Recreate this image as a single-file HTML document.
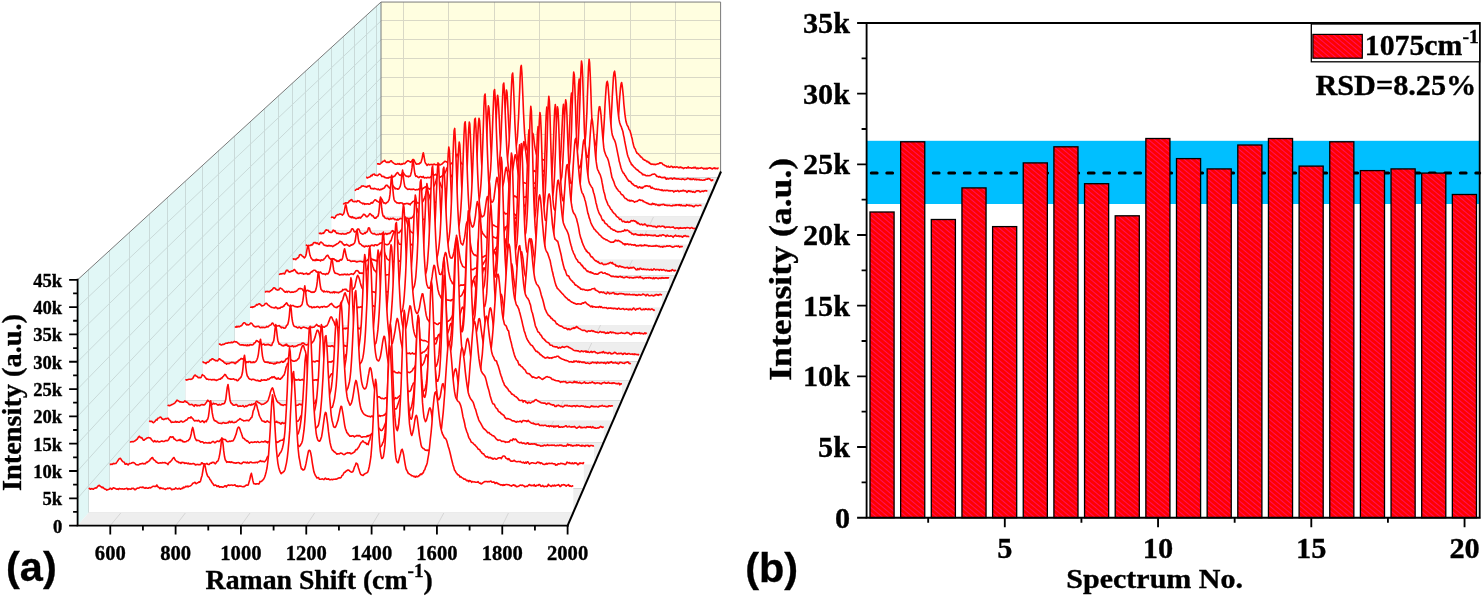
<!DOCTYPE html>
<html lang="en"><head><meta charset="utf-8"><title>Figure</title>
<style>html,body{margin:0;padding:0;background:#fff}svg{display:block}</style></head>
<body>
<svg width="1484" height="598" viewBox="0 0 1484 598">
<defs>
<pattern id="hb" width="3.9" height="3.9" patternUnits="userSpaceOnUse" patternTransform="rotate(40)"><rect width="3.9" height="3.9" fill="#ff0000"/><rect x="0" y="0" width="3.9" height="0.75" fill="#ff1478"/></pattern>
</defs>
<rect width="1484" height="598" fill="#fff"/>
<polygon points="77.6,279.8 381.0,2.05 381.0,172.4 77.6,525.6" fill="#e1f7f6"/>
<rect x="381.0" y="2.05" width="339.60" height="170.35" fill="#fffee0"/>
<polygon points="77.6,525.6 567.6,525.6 720.6,172.4 381.0,172.4" fill="#eeeeee"/>
<path d="M88.5,512.50V269.50M109.5,488.12V250.33M129.5,464.76V231.95M149.5,442.34V214.32M167.5,420.81V197.39M185.5,400.12V181.13M202.5,380.23V165.48M218.5,361.08V150.42M234.5,342.64V135.92M250.5,324.86V121.94M264.5,307.72V108.46M278.5,291.18V95.45M292.5,275.20V82.89M305.5,259.76V70.75M318.5,244.84V59.01M331.5,230.40V47.66M343.5,216.43V36.67M354.5,202.90V26.03M366.5,189.79V15.72M376.5,177.08V5.72M77.6,498.29L381.0,153.47M77.6,470.98L381.0,134.54M77.6,443.67L381.0,115.62M77.6,416.36L381.0,96.69M77.6,389.04L381.0,77.76M77.6,361.73L381.0,58.83M77.6,334.42L381.0,39.90M77.6,307.11L381.0,20.97" stroke="#c9dad9" stroke-width="1" fill="none"/>
<path d="M381.0,153.5H720.6M381.0,134.5H720.6M381.0,115.5H720.6M381.0,96.5H720.6M381.0,77.5H720.6M381.0,58.5H720.6M381.0,39.5H720.6M381.0,20.5H720.6M403.5,2.05V172.4M448.5,2.05V172.4M494.5,2.05V172.4M539.5,2.05V172.4M584.5,2.05V172.4M630.5,2.05V172.4M675.5,2.05V172.4" stroke="#d9d8c6" stroke-width="1" fill="none"/>
<path d="M110.27,525.6L403.64,172.4M175.60,525.6L448.92,172.4M240.93,525.6L494.20,172.4M306.27,525.6L539.48,172.4M371.60,525.6L584.76,172.4M436.93,525.6L630.04,172.4M502.27,525.6L675.32,172.4M88.85,512.5H573.27M109.79,488.5H583.83M129.87,464.5H593.96M149.12,442.5H603.67M167.61,420.5H612.99M185.38,400.5H621.95M202.47,380.5H630.57M218.92,361.5H638.87M234.76,342.5H646.86M250.03,324.5H654.56M264.76,307.5H661.98M278.97,291.5H669.15M292.69,275.5H676.07M305.95,259.5H682.76M318.77,244.5H689.22M331.18,230.5H695.47M343.18,216.5H701.53M354.80,202.5H707.39M366.06,189.5H713.07M376.98,177.5H718.57" stroke="#d6d6d6" stroke-width="1" fill="none"/>
<path d="M77.6,279.8L381.0,2.05H720.6V172.4M381.0,2.05V172.4" stroke="#7a7a7a" stroke-width="1" fill="none"/>
<path d="M377.0,163.8L377.5,163.8L378.1,164.1L378.6,163.8L379.2,164.0L379.7,164.2L380.3,163.9L380.8,163.5L381.4,162.8L381.9,162.5L382.5,161.9L383.0,161.3L383.6,161.2L384.1,161.0L384.7,160.3L385.2,161.1L385.8,161.7L386.3,162.3L386.9,162.5L387.4,162.5L388.0,161.9L388.6,162.4L389.1,162.4L389.7,162.0L390.2,161.3L390.8,160.7L391.3,160.8L391.9,161.5L392.4,162.5L393.0,162.5L393.5,163.1L394.1,163.4L394.6,163.8L395.2,164.1L395.7,164.1L396.3,164.3L396.8,164.2L397.4,164.0L397.9,163.5L398.5,164.0L399.0,164.1L399.6,163.6L400.1,164.3L400.7,164.5L401.2,164.5L401.8,163.9L402.3,164.2L402.9,163.9L403.4,163.3L404.0,163.8L404.5,163.6L405.1,163.5L405.6,162.5L406.2,162.2L406.7,161.6L407.3,161.1L407.8,160.8L408.4,160.8L408.9,161.2L409.5,161.6L410.0,161.7L410.6,162.2L411.1,161.9L411.7,161.4L412.2,160.4L412.8,159.6L413.3,159.5L413.9,159.9L414.4,161.0L415.0,162.1L415.5,162.8L416.1,164.0L416.7,164.3L417.2,164.1L417.8,163.9L418.3,163.9L418.9,163.9L419.4,163.7L420.0,162.8L420.5,163.0L421.1,162.1L421.6,160.3L422.2,158.1L422.7,154.9L423.3,152.8L423.8,154.9L424.4,158.7L424.9,161.5L425.5,163.2L426.0,163.7L426.6,164.8L427.1,165.4L427.7,164.8L428.2,164.1L428.8,164.5L429.3,165.0L429.9,164.5L430.4,164.5L431.0,164.7L431.5,164.4L432.1,164.6L432.6,164.6L433.2,164.8L433.7,164.4L434.3,164.0L434.8,164.5L435.4,164.8L435.9,164.8L436.5,164.8L437.0,164.6L437.6,164.5L438.1,164.3L438.7,163.9L439.2,164.1L439.8,165.0L440.3,164.9L440.9,164.6L441.4,164.2L442.0,164.2L442.5,163.3L443.1,163.1L443.6,162.3L444.2,162.1L444.7,161.3L445.3,161.4L445.9,161.6L446.4,161.9L447.0,161.9L447.5,162.7L448.1,163.4L448.6,164.0L449.2,164.0L449.7,164.3L450.3,164.2L450.8,164.2L451.4,163.1L451.9,163.1L452.5,163.1L453.0,161.8L453.6,161.6L454.1,160.4L454.7,159.7L455.2,157.9L455.8,157.0L456.3,155.3L456.9,154.3L457.4,154.4L458.0,155.8L458.5,157.4L459.1,158.9L459.6,160.0L460.2,160.8L460.7,162.5L461.3,163.0L461.8,163.6L462.4,164.2L462.9,164.3L463.5,164.5L464.0,164.2L464.6,165.2L465.1,164.8L465.7,164.3L466.2,164.4L466.8,164.6L467.3,164.3L467.9,164.7L468.4,164.6L469.0,164.6L469.5,164.9L470.1,164.9L470.6,164.7L471.2,164.5L471.7,164.4L472.3,164.1L472.8,163.8L473.4,163.9L473.9,164.4L474.5,164.5L475.1,164.9L475.6,164.2L476.2,164.7L476.7,164.6L477.3,164.5L477.8,164.8L478.4,164.9L478.9,164.3L479.5,164.3L480.0,164.4L480.6,164.6L481.1,164.5L481.7,164.5L482.2,164.4L482.8,164.8L483.3,164.6L483.9,163.8L484.4,163.7L485.0,163.2L485.5,163.2L486.1,162.9L486.6,163.3L487.2,163.7L487.7,163.4L488.3,162.7L488.8,162.7L489.4,162.5L489.9,161.6L490.5,160.9L491.0,160.0L491.6,159.7L492.1,160.7L492.7,161.8L493.2,162.6L493.8,163.5L494.3,163.3L494.9,162.8L495.4,162.3L496.0,161.9L496.5,161.4L497.1,160.5L497.6,160.4L498.2,160.2L498.7,159.5L499.3,159.0L499.8,158.9L500.4,157.6L500.9,156.7L501.5,155.0L502.0,151.9L502.6,149.1L503.2,144.6L503.7,138.1L504.3,128.7L504.8,118.2L505.4,106.1L505.9,95.3L506.5,90.1L507.0,92.4L507.6,101.6L508.1,113.3L508.7,124.4L509.2,133.4L509.8,140.7L510.3,145.6L510.9,148.8L511.4,150.3L512.0,152.1L512.5,153.0L513.1,152.9L513.6,152.4L514.2,152.6L514.7,151.5L515.3,150.7L515.8,148.6L516.4,145.4L516.9,141.7L517.5,136.1L518.0,127.2L518.6,116.9L519.1,104.0L519.7,90.0L520.2,76.5L520.8,66.9L521.3,65.4L521.9,72.9L522.4,85.2L523.0,99.6L523.5,112.7L524.1,124.4L524.6,133.4L525.2,139.6L525.7,144.3L526.3,146.9L526.8,149.2L527.4,150.5L527.9,151.0L528.5,150.5L529.0,149.0L529.6,147.9L530.1,145.7L530.7,142.7L531.2,138.4L531.8,135.0L532.4,133.1L532.9,133.4L533.5,135.9L534.0,140.4L534.6,145.3L535.1,148.4L535.7,151.1L536.2,153.8L536.8,155.4L537.3,156.6L537.9,158.3L538.4,158.4L539.0,159.4L539.5,159.0L540.1,159.2L540.6,159.0L541.2,158.8L541.7,158.6L542.3,159.8L542.8,160.0L543.4,159.7L543.9,159.7L544.5,159.9L545.0,160.0L545.6,160.3L546.1,159.7L546.7,159.8L547.2,159.7L547.8,160.2L548.3,159.0L548.9,159.6L549.4,159.9L550.0,159.6L550.5,159.2L551.1,159.3L551.6,158.9L552.2,158.6L552.7,159.1L553.3,158.4L553.8,159.0L554.4,158.3L554.9,157.3L555.5,156.6L556.0,155.3L556.6,154.9L557.1,154.6L557.7,153.8L558.2,152.5L558.8,152.1L559.3,152.3L559.9,151.7L560.4,151.9L561.0,152.5L561.6,153.3L562.1,153.7L562.7,153.4L563.2,152.2L563.8,151.5L564.3,149.8L564.9,148.0L565.4,145.8L566.0,146.0L566.5,147.5L567.1,150.0L567.6,152.6L568.2,154.0L568.7,155.7L569.3,155.7L569.8,156.6L570.4,156.8L570.9,157.0L571.5,156.8L572.0,156.4L572.6,155.1L573.1,153.7L573.7,153.8L574.2,152.1L574.8,150.5L575.3,146.6L575.9,141.4L576.4,133.5L577.0,123.0L577.5,109.8L578.1,95.5L578.6,84.0L579.2,79.1L579.7,83.1L580.3,94.2L580.8,107.3L581.4,119.9L581.9,130.4L582.5,137.5L583.0,142.1L583.6,144.1L584.1,145.2L584.7,143.5L585.2,140.0L585.8,133.5L586.3,123.9L586.9,112.1L587.4,96.7L588.0,80.7L588.5,67.1L589.1,59.2L589.6,62.6L590.2,74.3L590.8,89.9L591.3,106.0L591.9,120.2L592.4,131.3L593.0,138.9L593.5,143.9L594.1,146.2L594.6,146.0L595.2,144.8L595.7,143.8L596.3,141.0L596.8,137.8L597.4,135.0L597.9,134.3L598.5,136.1L599.0,140.0L599.6,143.3L600.1,147.1L600.7,150.6L601.2,152.9L601.8,154.2L602.3,155.9L602.9,156.3L603.4,157.6L604.0,157.6L604.5,158.1L605.1,158.7L605.6,158.3L606.2,157.7L606.7,158.2L607.3,157.7L607.8,157.7L608.4,157.4L608.9,156.6L609.5,157.2L610.0,156.6L610.6,156.6L611.1,156.4L611.7,156.0L612.2,156.0L612.8,154.8L613.3,154.0L613.9,153.5L614.4,151.4L615.0,148.2L615.5,145.6L616.1,141.9L616.6,137.4L617.2,132.2L617.7,125.5L618.3,118.5L618.9,110.7L619.4,101.8L620.0,94.3L620.5,88.1L621.1,83.8L621.6,82.5L622.2,85.6L622.7,90.2L623.3,96.2L623.8,103.5L624.4,109.4L624.9,114.3L625.5,118.5L626.0,121.6L626.6,123.5L627.1,125.1L627.7,126.0L628.2,126.8L628.8,128.8L629.3,129.7L629.9,130.4L630.4,132.2L631.0,134.3L631.5,136.5L632.1,138.4L632.6,141.2L633.2,143.7L633.7,145.7L634.3,147.7L634.8,148.4L635.4,149.3L635.9,151.0L636.5,152.2L637.0,153.3L637.6,153.4L638.1,153.8L638.7,154.6L639.2,155.0L639.8,155.5L640.3,156.4L640.9,157.1L641.4,157.0L642.0,157.8L642.5,158.3L643.1,159.2L643.6,159.2L644.2,160.1L644.7,160.1L645.3,160.3L645.8,160.8L646.4,161.0L646.9,161.7L647.5,161.3L648.1,162.0L648.6,162.6L649.2,162.3L649.7,163.4L650.3,163.4L650.8,164.2L651.4,164.1L651.9,164.4L652.5,164.1L653.0,164.2L653.6,164.5L654.1,164.3L654.7,164.2L655.2,164.7L655.8,164.4L656.3,164.2L656.9,164.1L657.4,163.9L658.0,164.0L658.5,163.8L659.1,163.6L659.6,162.8L660.2,163.2L660.7,162.8L661.3,163.0L661.8,163.0L662.4,163.7L662.9,164.6L663.5,164.8L664.0,164.7L664.6,165.4L665.1,165.8L665.7,165.7L666.2,166.0L666.8,166.9L667.3,166.6L667.9,166.9L668.4,166.2L669.0,167.0L669.5,167.3L670.1,167.0L670.6,166.7L671.2,166.2L671.7,166.3L672.3,166.8L672.8,167.5L673.4,167.4L673.9,167.0L674.5,166.8L675.0,167.2L675.6,167.5L676.1,167.0L676.7,166.9L677.3,167.0L677.8,167.0L678.4,167.7L678.9,167.7L679.5,167.6L680.0,167.0L680.6,167.0L681.1,167.7L681.7,167.5L682.2,167.7L682.8,167.8L683.3,168.6L683.9,168.3L684.4,168.1L685.0,167.7L685.5,167.8L686.1,167.7L686.6,168.1L687.2,167.9L687.7,167.4L688.3,166.9L688.8,168.0L689.4,167.7L689.9,167.8L690.5,167.7L691.0,167.9L691.6,168.3L692.1,168.1L692.7,167.8L693.2,167.9L693.8,167.4L694.3,168.0L694.9,167.4L695.4,167.3L696.0,168.1L696.5,168.6L697.1,168.3L697.6,168.0L698.2,168.6L698.7,168.2L699.3,168.3L699.8,168.2L700.4,168.2L700.9,167.8L701.5,167.6L702.0,168.0L702.6,168.3L703.1,168.3L703.7,168.8L704.2,168.4L704.8,168.6L705.4,168.9L705.9,168.2L706.5,168.3L707.0,169.1L707.6,168.3L708.1,168.2L708.7,168.2L709.2,167.8L709.8,167.8L710.3,168.1L710.9,168.1L711.4,168.6L712.0,168.7L712.5,168.9L713.1,168.2L713.6,168.2L714.2,167.8L714.7,168.5L715.3,168.6L715.8,168.1L716.4,168.4L716.9,168.6L717.5,168.6L718.0,168.1L718.6,168.5L718.6,177.1L377.0,177.1Z" fill="#fff"/>
<path d="M377.0,163.8L377.5,163.8L378.1,164.1L378.6,163.8L379.2,164.0L379.7,164.2L380.3,163.9L380.8,163.5L381.4,162.8L381.9,162.5L382.5,161.9L383.0,161.3L383.6,161.2L384.1,161.0L384.7,160.3L385.2,161.1L385.8,161.7L386.3,162.3L386.9,162.5L387.4,162.5L388.0,161.9L388.6,162.4L389.1,162.4L389.7,162.0L390.2,161.3L390.8,160.7L391.3,160.8L391.9,161.5L392.4,162.5L393.0,162.5L393.5,163.1L394.1,163.4L394.6,163.8L395.2,164.1L395.7,164.1L396.3,164.3L396.8,164.2L397.4,164.0L397.9,163.5L398.5,164.0L399.0,164.1L399.6,163.6L400.1,164.3L400.7,164.5L401.2,164.5L401.8,163.9L402.3,164.2L402.9,163.9L403.4,163.3L404.0,163.8L404.5,163.6L405.1,163.5L405.6,162.5L406.2,162.2L406.7,161.6L407.3,161.1L407.8,160.8L408.4,160.8L408.9,161.2L409.5,161.6L410.0,161.7L410.6,162.2L411.1,161.9L411.7,161.4L412.2,160.4L412.8,159.6L413.3,159.5L413.9,159.9L414.4,161.0L415.0,162.1L415.5,162.8L416.1,164.0L416.7,164.3L417.2,164.1L417.8,163.9L418.3,163.9L418.9,163.9L419.4,163.7L420.0,162.8L420.5,163.0L421.1,162.1L421.6,160.3L422.2,158.1L422.7,154.9L423.3,152.8L423.8,154.9L424.4,158.7L424.9,161.5L425.5,163.2L426.0,163.7L426.6,164.8L427.1,165.4L427.7,164.8L428.2,164.1L428.8,164.5L429.3,165.0L429.9,164.5L430.4,164.5L431.0,164.7L431.5,164.4L432.1,164.6L432.6,164.6L433.2,164.8L433.7,164.4L434.3,164.0L434.8,164.5L435.4,164.8L435.9,164.8L436.5,164.8L437.0,164.6L437.6,164.5L438.1,164.3L438.7,163.9L439.2,164.1L439.8,165.0L440.3,164.9L440.9,164.6L441.4,164.2L442.0,164.2L442.5,163.3L443.1,163.1L443.6,162.3L444.2,162.1L444.7,161.3L445.3,161.4L445.9,161.6L446.4,161.9L447.0,161.9L447.5,162.7L448.1,163.4L448.6,164.0L449.2,164.0L449.7,164.3L450.3,164.2L450.8,164.2L451.4,163.1L451.9,163.1L452.5,163.1L453.0,161.8L453.6,161.6L454.1,160.4L454.7,159.7L455.2,157.9L455.8,157.0L456.3,155.3L456.9,154.3L457.4,154.4L458.0,155.8L458.5,157.4L459.1,158.9L459.6,160.0L460.2,160.8L460.7,162.5L461.3,163.0L461.8,163.6L462.4,164.2L462.9,164.3L463.5,164.5L464.0,164.2L464.6,165.2L465.1,164.8L465.7,164.3L466.2,164.4L466.8,164.6L467.3,164.3L467.9,164.7L468.4,164.6L469.0,164.6L469.5,164.9L470.1,164.9L470.6,164.7L471.2,164.5L471.7,164.4L472.3,164.1L472.8,163.8L473.4,163.9L473.9,164.4L474.5,164.5L475.1,164.9L475.6,164.2L476.2,164.7L476.7,164.6L477.3,164.5L477.8,164.8L478.4,164.9L478.9,164.3L479.5,164.3L480.0,164.4L480.6,164.6L481.1,164.5L481.7,164.5L482.2,164.4L482.8,164.8L483.3,164.6L483.9,163.8L484.4,163.7L485.0,163.2L485.5,163.2L486.1,162.9L486.6,163.3L487.2,163.7L487.7,163.4L488.3,162.7L488.8,162.7L489.4,162.5L489.9,161.6L490.5,160.9L491.0,160.0L491.6,159.7L492.1,160.7L492.7,161.8L493.2,162.6L493.8,163.5L494.3,163.3L494.9,162.8L495.4,162.3L496.0,161.9L496.5,161.4L497.1,160.5L497.6,160.4L498.2,160.2L498.7,159.5L499.3,159.0L499.8,158.9L500.4,157.6L500.9,156.7L501.5,155.0L502.0,151.9L502.6,149.1L503.2,144.6L503.7,138.1L504.3,128.7L504.8,118.2L505.4,106.1L505.9,95.3L506.5,90.1L507.0,92.4L507.6,101.6L508.1,113.3L508.7,124.4L509.2,133.4L509.8,140.7L510.3,145.6L510.9,148.8L511.4,150.3L512.0,152.1L512.5,153.0L513.1,152.9L513.6,152.4L514.2,152.6L514.7,151.5L515.3,150.7L515.8,148.6L516.4,145.4L516.9,141.7L517.5,136.1L518.0,127.2L518.6,116.9L519.1,104.0L519.7,90.0L520.2,76.5L520.8,66.9L521.3,65.4L521.9,72.9L522.4,85.2L523.0,99.6L523.5,112.7L524.1,124.4L524.6,133.4L525.2,139.6L525.7,144.3L526.3,146.9L526.8,149.2L527.4,150.5L527.9,151.0L528.5,150.5L529.0,149.0L529.6,147.9L530.1,145.7L530.7,142.7L531.2,138.4L531.8,135.0L532.4,133.1L532.9,133.4L533.5,135.9L534.0,140.4L534.6,145.3L535.1,148.4L535.7,151.1L536.2,153.8L536.8,155.4L537.3,156.6L537.9,158.3L538.4,158.4L539.0,159.4L539.5,159.0L540.1,159.2L540.6,159.0L541.2,158.8L541.7,158.6L542.3,159.8L542.8,160.0L543.4,159.7L543.9,159.7L544.5,159.9L545.0,160.0L545.6,160.3L546.1,159.7L546.7,159.8L547.2,159.7L547.8,160.2L548.3,159.0L548.9,159.6L549.4,159.9L550.0,159.6L550.5,159.2L551.1,159.3L551.6,158.9L552.2,158.6L552.7,159.1L553.3,158.4L553.8,159.0L554.4,158.3L554.9,157.3L555.5,156.6L556.0,155.3L556.6,154.9L557.1,154.6L557.7,153.8L558.2,152.5L558.8,152.1L559.3,152.3L559.9,151.7L560.4,151.9L561.0,152.5L561.6,153.3L562.1,153.7L562.7,153.4L563.2,152.2L563.8,151.5L564.3,149.8L564.9,148.0L565.4,145.8L566.0,146.0L566.5,147.5L567.1,150.0L567.6,152.6L568.2,154.0L568.7,155.7L569.3,155.7L569.8,156.6L570.4,156.8L570.9,157.0L571.5,156.8L572.0,156.4L572.6,155.1L573.1,153.7L573.7,153.8L574.2,152.1L574.8,150.5L575.3,146.6L575.9,141.4L576.4,133.5L577.0,123.0L577.5,109.8L578.1,95.5L578.6,84.0L579.2,79.1L579.7,83.1L580.3,94.2L580.8,107.3L581.4,119.9L581.9,130.4L582.5,137.5L583.0,142.1L583.6,144.1L584.1,145.2L584.7,143.5L585.2,140.0L585.8,133.5L586.3,123.9L586.9,112.1L587.4,96.7L588.0,80.7L588.5,67.1L589.1,59.2L589.6,62.6L590.2,74.3L590.8,89.9L591.3,106.0L591.9,120.2L592.4,131.3L593.0,138.9L593.5,143.9L594.1,146.2L594.6,146.0L595.2,144.8L595.7,143.8L596.3,141.0L596.8,137.8L597.4,135.0L597.9,134.3L598.5,136.1L599.0,140.0L599.6,143.3L600.1,147.1L600.7,150.6L601.2,152.9L601.8,154.2L602.3,155.9L602.9,156.3L603.4,157.6L604.0,157.6L604.5,158.1L605.1,158.7L605.6,158.3L606.2,157.7L606.7,158.2L607.3,157.7L607.8,157.7L608.4,157.4L608.9,156.6L609.5,157.2L610.0,156.6L610.6,156.6L611.1,156.4L611.7,156.0L612.2,156.0L612.8,154.8L613.3,154.0L613.9,153.5L614.4,151.4L615.0,148.2L615.5,145.6L616.1,141.9L616.6,137.4L617.2,132.2L617.7,125.5L618.3,118.5L618.9,110.7L619.4,101.8L620.0,94.3L620.5,88.1L621.1,83.8L621.6,82.5L622.2,85.6L622.7,90.2L623.3,96.2L623.8,103.5L624.4,109.4L624.9,114.3L625.5,118.5L626.0,121.6L626.6,123.5L627.1,125.1L627.7,126.0L628.2,126.8L628.8,128.8L629.3,129.7L629.9,130.4L630.4,132.2L631.0,134.3L631.5,136.5L632.1,138.4L632.6,141.2L633.2,143.7L633.7,145.7L634.3,147.7L634.8,148.4L635.4,149.3L635.9,151.0L636.5,152.2L637.0,153.3L637.6,153.4L638.1,153.8L638.7,154.6L639.2,155.0L639.8,155.5L640.3,156.4L640.9,157.1L641.4,157.0L642.0,157.8L642.5,158.3L643.1,159.2L643.6,159.2L644.2,160.1L644.7,160.1L645.3,160.3L645.8,160.8L646.4,161.0L646.9,161.7L647.5,161.3L648.1,162.0L648.6,162.6L649.2,162.3L649.7,163.4L650.3,163.4L650.8,164.2L651.4,164.1L651.9,164.4L652.5,164.1L653.0,164.2L653.6,164.5L654.1,164.3L654.7,164.2L655.2,164.7L655.8,164.4L656.3,164.2L656.9,164.1L657.4,163.9L658.0,164.0L658.5,163.8L659.1,163.6L659.6,162.8L660.2,163.2L660.7,162.8L661.3,163.0L661.8,163.0L662.4,163.7L662.9,164.6L663.5,164.8L664.0,164.7L664.6,165.4L665.1,165.8L665.7,165.7L666.2,166.0L666.8,166.9L667.3,166.6L667.9,166.9L668.4,166.2L669.0,167.0L669.5,167.3L670.1,167.0L670.6,166.7L671.2,166.2L671.7,166.3L672.3,166.8L672.8,167.5L673.4,167.4L673.9,167.0L674.5,166.8L675.0,167.2L675.6,167.5L676.1,167.0L676.7,166.9L677.3,167.0L677.8,167.0L678.4,167.7L678.9,167.7L679.5,167.6L680.0,167.0L680.6,167.0L681.1,167.7L681.7,167.5L682.2,167.7L682.8,167.8L683.3,168.6L683.9,168.3L684.4,168.1L685.0,167.7L685.5,167.8L686.1,167.7L686.6,168.1L687.2,167.9L687.7,167.4L688.3,166.9L688.8,168.0L689.4,167.7L689.9,167.8L690.5,167.7L691.0,167.9L691.6,168.3L692.1,168.1L692.7,167.8L693.2,167.9L693.8,167.4L694.3,168.0L694.9,167.4L695.4,167.3L696.0,168.1L696.5,168.6L697.1,168.3L697.6,168.0L698.2,168.6L698.7,168.2L699.3,168.3L699.8,168.2L700.4,168.2L700.9,167.8L701.5,167.6L702.0,168.0L702.6,168.3L703.1,168.3L703.7,168.8L704.2,168.4L704.8,168.6L705.4,168.9L705.9,168.2L706.5,168.3L707.0,169.1L707.6,168.3L708.1,168.2L708.7,168.2L709.2,167.8L709.8,167.8L710.3,168.1L710.9,168.1L711.4,168.6L712.0,168.7L712.5,168.9L713.1,168.2L713.6,168.2L714.2,167.8L714.7,168.5L715.3,168.6L715.8,168.1L716.4,168.4L716.9,168.6L717.5,168.6L718.0,168.1L718.6,168.5" fill="none" stroke="#ff0808" stroke-width="1.6" stroke-linejoin="round"/>
<path d="M366.1,177.3L366.6,177.2L367.2,178.0L367.7,177.7L368.3,177.5L368.9,177.3L369.4,177.0L370.0,176.8L370.5,176.5L371.1,175.5L371.7,175.2L372.2,175.7L372.8,174.5L373.3,174.3L373.9,174.2L374.5,174.1L375.0,175.2L375.6,175.3L376.1,175.3L376.7,175.5L377.3,175.6L377.8,175.4L378.4,174.9L378.9,174.2L379.5,174.1L380.1,174.3L380.6,174.7L381.2,175.3L381.7,176.5L382.3,176.3L382.9,176.5L383.4,176.4L384.0,176.6L384.5,177.5L385.1,177.3L385.7,177.7L386.2,177.9L386.8,178.0L387.3,177.8L387.9,178.1L388.5,178.0L389.0,177.3L389.6,177.4L390.1,177.2L390.7,177.3L391.3,176.7L391.8,177.5L392.4,177.5L392.9,176.6L393.5,176.8L394.0,176.4L394.6,176.0L395.2,175.8L395.7,174.3L396.3,174.1L396.8,173.0L397.4,172.5L398.0,172.9L398.5,173.7L399.1,174.4L399.6,175.2L400.2,175.1L400.8,175.5L401.3,174.8L401.9,174.1L402.4,173.5L403.0,172.6L403.6,173.1L404.1,174.1L404.7,174.7L405.2,175.3L405.8,175.9L406.4,176.0L406.9,176.5L407.5,176.5L408.0,176.0L408.6,176.8L409.2,176.3L409.7,176.2L410.3,176.0L410.8,174.3L411.4,171.9L412.0,167.9L412.5,162.0L413.1,160.1L413.6,163.6L414.2,169.0L414.8,173.3L415.3,175.2L415.9,176.4L416.4,176.0L417.0,176.3L417.6,177.0L418.1,177.1L418.7,177.6L419.2,177.4L419.8,176.7L420.4,176.5L420.9,176.7L421.5,176.7L422.0,177.5L422.6,177.2L423.2,176.4L423.7,177.3L424.3,178.0L424.8,177.7L425.4,177.8L426.0,177.6L426.5,178.0L427.1,177.7L427.6,177.3L428.2,177.3L428.7,177.8L429.3,177.8L429.9,177.4L430.4,177.4L431.0,176.6L431.5,176.8L432.1,176.9L432.7,176.3L433.2,176.1L433.8,174.9L434.3,175.1L434.9,174.8L435.5,174.4L436.0,174.3L436.6,175.5L437.1,175.9L437.7,176.0L438.3,176.7L438.8,176.7L439.4,176.5L439.9,177.2L440.5,177.1L441.1,176.7L441.6,176.2L442.2,175.8L442.7,175.9L443.3,175.5L443.9,175.1L444.4,174.0L445.0,172.6L445.5,171.6L446.1,170.7L446.7,168.3L447.2,167.8L447.8,167.4L448.3,168.1L448.9,170.0L449.5,171.9L450.0,173.7L450.6,174.7L451.1,175.2L451.7,176.6L452.3,176.9L452.8,177.7L453.4,177.4L453.9,177.4L454.5,177.7L455.1,177.7L455.6,177.0L456.2,177.0L456.7,177.8L457.3,177.3L457.9,177.0L458.4,177.3L459.0,177.0L459.5,177.1L460.1,177.5L460.7,177.5L461.2,177.3L461.8,177.7L462.3,177.9L462.9,177.6L463.4,177.5L464.0,177.2L464.6,177.2L465.1,178.2L465.7,177.5L466.2,177.5L466.8,177.1L467.4,177.9L467.9,177.5L468.5,177.1L469.0,177.1L469.6,177.1L470.2,177.3L470.7,177.0L471.3,176.8L471.8,176.9L472.4,177.4L473.0,177.6L473.5,176.8L474.1,176.5L474.6,176.2L475.2,176.1L475.8,177.3L476.3,176.9L476.9,176.7L477.4,176.6L478.0,177.0L478.6,176.2L479.1,175.9L479.7,175.8L480.2,175.8L480.8,175.2L481.4,173.2L481.9,172.1L482.5,171.4L483.0,172.4L483.6,173.3L484.2,173.7L484.7,174.4L485.3,174.7L485.8,175.0L486.4,174.4L487.0,173.8L487.5,173.5L488.1,173.1L488.6,172.8L489.2,172.4L489.8,171.6L490.3,171.2L490.9,171.0L491.4,169.7L492.0,168.9L492.6,167.9L493.1,165.0L493.7,161.2L494.2,156.1L494.8,148.5L495.4,138.9L495.9,126.8L496.5,113.5L497.0,101.4L497.6,95.2L498.1,98.3L498.7,107.7L499.3,119.6L499.8,132.1L500.4,142.2L500.9,149.9L501.5,156.3L502.1,160.9L502.6,162.9L503.2,163.6L503.7,164.4L504.3,164.4L504.9,164.7L505.4,164.1L506.0,163.5L506.5,162.2L507.1,160.6L507.7,156.5L508.2,151.9L508.8,146.1L509.3,137.9L509.9,126.8L510.5,113.8L511.0,98.3L511.6,84.0L512.1,74.7L512.7,73.0L513.3,81.6L513.8,94.3L514.4,109.2L514.9,123.4L515.5,134.7L516.1,144.2L516.6,150.6L517.2,156.0L517.7,159.4L518.3,161.6L518.9,161.9L519.4,162.7L520.0,161.8L520.5,161.4L521.1,159.0L521.7,155.5L522.2,152.2L522.8,148.2L523.3,143.6L523.9,141.5L524.5,142.9L525.0,146.8L525.6,150.5L526.1,154.7L526.7,159.7L527.3,163.0L527.8,165.2L528.4,167.4L528.9,168.4L529.5,168.7L530.1,169.4L530.6,169.5L531.2,170.1L531.7,170.1L532.3,170.8L532.9,171.0L533.4,171.3L534.0,171.4L534.5,170.7L535.1,171.5L535.6,171.3L536.2,172.0L536.8,172.1L537.3,171.5L537.9,171.0L538.4,171.3L539.0,171.9L539.6,171.9L540.1,171.8L540.7,171.6L541.2,171.8L541.8,172.1L542.4,171.4L542.9,171.0L543.5,170.6L544.0,171.1L544.6,170.8L545.2,170.3L545.7,169.4L546.3,169.5L546.8,168.2L547.4,167.8L548.0,166.7L548.5,166.3L549.1,165.4L549.6,164.4L550.2,163.9L550.8,163.5L551.3,162.3L551.9,162.2L552.4,163.3L553.0,163.6L553.6,164.1L554.1,164.5L554.7,164.0L555.2,163.6L555.8,162.1L556.4,160.7L556.9,158.8L557.5,157.3L558.0,156.7L558.6,158.2L559.2,160.8L559.7,163.5L560.3,165.3L560.8,166.2L561.4,167.0L562.0,167.9L562.5,168.3L563.1,168.0L563.6,167.9L564.2,167.6L564.8,166.5L565.3,166.0L565.9,165.6L566.4,164.0L567.0,162.2L567.6,158.8L568.1,154.2L568.7,146.0L569.2,136.0L569.8,122.9L570.3,109.8L570.9,98.4L571.5,93.1L572.0,96.5L572.6,107.0L573.1,119.9L573.7,131.8L574.3,142.5L574.8,149.1L575.4,153.1L575.9,155.5L576.5,155.2L577.1,152.9L577.6,149.5L578.2,142.8L578.7,132.1L579.3,118.2L579.9,101.5L580.4,84.2L581.0,68.5L581.5,61.0L582.1,64.8L582.7,77.5L583.2,94.4L583.8,112.3L584.3,128.1L584.9,139.8L585.5,148.3L586.0,153.0L586.6,156.1L587.1,157.4L587.7,156.9L588.3,154.4L588.8,151.2L589.4,147.9L589.9,145.7L590.5,144.4L591.1,146.8L591.6,150.6L592.2,154.2L592.7,158.2L593.3,161.8L593.9,163.6L594.4,165.3L595.0,166.9L595.5,167.6L596.1,168.2L596.7,168.0L597.2,167.4L597.8,168.0L598.3,168.4L598.9,168.8L599.5,169.0L600.0,168.7L600.6,168.6L601.1,168.2L601.7,168.5L602.3,167.8L602.8,167.5L603.4,167.1L603.9,166.9L604.5,166.1L605.0,166.6L605.6,164.6L606.2,163.3L606.7,161.5L607.3,158.9L607.8,156.3L608.4,152.7L609.0,148.0L609.5,142.1L610.1,135.1L610.6,126.9L611.2,117.3L611.8,107.3L612.3,96.6L612.9,86.3L613.4,77.5L614.0,72.6L614.6,71.2L615.1,74.4L615.7,80.7L616.2,89.4L616.8,97.5L617.4,104.9L617.9,110.5L618.5,115.9L619.0,119.4L619.6,122.4L620.2,124.2L620.7,125.7L621.3,126.6L621.8,128.6L622.4,130.0L623.0,132.0L623.5,135.1L624.1,137.4L624.6,140.5L625.2,143.6L625.8,146.7L626.3,149.2L626.9,152.2L627.4,154.5L628.0,156.5L628.6,157.8L629.1,159.0L629.7,161.0L630.2,161.9L630.8,162.8L631.4,164.6L631.9,164.3L632.5,165.4L633.0,165.9L633.6,166.5L634.2,167.2L634.7,167.7L635.3,168.2L635.8,168.7L636.4,169.5L637.0,169.5L637.5,170.2L638.1,170.2L638.6,171.2L639.2,171.6L639.7,172.1L640.3,172.3L640.9,172.7L641.4,173.1L642.0,173.5L642.5,174.8L643.1,174.7L643.7,174.4L644.2,174.9L644.8,175.0L645.3,175.1L645.9,175.6L646.5,175.7L647.0,175.8L647.6,175.5L648.1,175.8L648.7,175.7L649.3,175.7L649.8,175.5L650.4,175.5L650.9,175.2L651.5,174.8L652.1,174.5L652.6,174.3L653.2,174.2L653.7,174.1L654.3,173.9L654.9,174.2L655.4,174.4L656.0,175.2L656.5,176.2L657.1,176.5L657.7,176.4L658.2,176.7L658.8,177.2L659.3,176.5L659.9,176.5L660.5,177.3L661.0,177.3L661.6,177.7L662.1,177.5L662.7,177.6L663.3,177.3L663.8,177.7L664.4,177.6L664.9,177.2L665.5,177.8L666.1,179.1L666.6,179.2L667.2,178.4L667.7,178.7L668.3,178.9L668.9,178.9L669.4,178.6L670.0,178.4L670.5,178.3L671.1,178.4L671.7,178.3L672.2,179.1L672.8,179.1L673.3,178.4L673.9,178.1L674.5,178.0L675.0,178.9L675.6,178.6L676.1,179.0L676.7,178.8L677.2,179.0L677.8,178.9L678.4,178.9L678.9,178.8L679.5,179.2L680.0,179.2L680.6,179.2L681.2,179.2L681.7,179.4L682.3,179.0L682.8,178.7L683.4,179.2L684.0,179.2L684.5,179.6L685.1,179.5L685.6,179.4L686.2,179.2L686.8,179.0L687.3,178.4L687.9,178.3L688.4,178.5L689.0,178.7L689.6,179.0L690.1,179.5L690.7,178.8L691.2,179.5L691.8,179.4L692.4,179.5L692.9,178.9L693.5,178.8L694.0,179.1L694.6,179.6L695.2,179.5L695.7,179.1L696.3,179.8L696.8,179.3L697.4,179.5L698.0,179.8L698.5,179.6L699.1,179.4L699.6,179.9L700.2,180.1L700.8,179.9L701.3,179.9L701.9,180.1L702.4,180.2L703.0,180.2L703.6,180.0L704.1,179.8L704.7,180.1L705.2,179.6L705.8,179.2L706.4,179.2L706.9,179.1L707.5,179.1L708.0,178.6L708.6,178.6L709.2,178.9L709.7,178.7L710.3,179.5L710.8,180.0L711.4,180.7L711.9,180.0L712.5,180.3L713.1,179.3L713.1,189.8L366.1,189.8Z" fill="#fff"/>
<path d="M366.1,177.3L366.6,177.2L367.2,178.0L367.7,177.7L368.3,177.5L368.9,177.3L369.4,177.0L370.0,176.8L370.5,176.5L371.1,175.5L371.7,175.2L372.2,175.7L372.8,174.5L373.3,174.3L373.9,174.2L374.5,174.1L375.0,175.2L375.6,175.3L376.1,175.3L376.7,175.5L377.3,175.6L377.8,175.4L378.4,174.9L378.9,174.2L379.5,174.1L380.1,174.3L380.6,174.7L381.2,175.3L381.7,176.5L382.3,176.3L382.9,176.5L383.4,176.4L384.0,176.6L384.5,177.5L385.1,177.3L385.7,177.7L386.2,177.9L386.8,178.0L387.3,177.8L387.9,178.1L388.5,178.0L389.0,177.3L389.6,177.4L390.1,177.2L390.7,177.3L391.3,176.7L391.8,177.5L392.4,177.5L392.9,176.6L393.5,176.8L394.0,176.4L394.6,176.0L395.2,175.8L395.7,174.3L396.3,174.1L396.8,173.0L397.4,172.5L398.0,172.9L398.5,173.7L399.1,174.4L399.6,175.2L400.2,175.1L400.8,175.5L401.3,174.8L401.9,174.1L402.4,173.5L403.0,172.6L403.6,173.1L404.1,174.1L404.7,174.7L405.2,175.3L405.8,175.9L406.4,176.0L406.9,176.5L407.5,176.5L408.0,176.0L408.6,176.8L409.2,176.3L409.7,176.2L410.3,176.0L410.8,174.3L411.4,171.9L412.0,167.9L412.5,162.0L413.1,160.1L413.6,163.6L414.2,169.0L414.8,173.3L415.3,175.2L415.9,176.4L416.4,176.0L417.0,176.3L417.6,177.0L418.1,177.1L418.7,177.6L419.2,177.4L419.8,176.7L420.4,176.5L420.9,176.7L421.5,176.7L422.0,177.5L422.6,177.2L423.2,176.4L423.7,177.3L424.3,178.0L424.8,177.7L425.4,177.8L426.0,177.6L426.5,178.0L427.1,177.7L427.6,177.3L428.2,177.3L428.7,177.8L429.3,177.8L429.9,177.4L430.4,177.4L431.0,176.6L431.5,176.8L432.1,176.9L432.7,176.3L433.2,176.1L433.8,174.9L434.3,175.1L434.9,174.8L435.5,174.4L436.0,174.3L436.6,175.5L437.1,175.9L437.7,176.0L438.3,176.7L438.8,176.7L439.4,176.5L439.9,177.2L440.5,177.1L441.1,176.7L441.6,176.2L442.2,175.8L442.7,175.9L443.3,175.5L443.9,175.1L444.4,174.0L445.0,172.6L445.5,171.6L446.1,170.7L446.7,168.3L447.2,167.8L447.8,167.4L448.3,168.1L448.9,170.0L449.5,171.9L450.0,173.7L450.6,174.7L451.1,175.2L451.7,176.6L452.3,176.9L452.8,177.7L453.4,177.4L453.9,177.4L454.5,177.7L455.1,177.7L455.6,177.0L456.2,177.0L456.7,177.8L457.3,177.3L457.9,177.0L458.4,177.3L459.0,177.0L459.5,177.1L460.1,177.5L460.7,177.5L461.2,177.3L461.8,177.7L462.3,177.9L462.9,177.6L463.4,177.5L464.0,177.2L464.6,177.2L465.1,178.2L465.7,177.5L466.2,177.5L466.8,177.1L467.4,177.9L467.9,177.5L468.5,177.1L469.0,177.1L469.6,177.1L470.2,177.3L470.7,177.0L471.3,176.8L471.8,176.9L472.4,177.4L473.0,177.6L473.5,176.8L474.1,176.5L474.6,176.2L475.2,176.1L475.8,177.3L476.3,176.9L476.9,176.7L477.4,176.6L478.0,177.0L478.6,176.2L479.1,175.9L479.7,175.8L480.2,175.8L480.8,175.2L481.4,173.2L481.9,172.1L482.5,171.4L483.0,172.4L483.6,173.3L484.2,173.7L484.7,174.4L485.3,174.7L485.8,175.0L486.4,174.4L487.0,173.8L487.5,173.5L488.1,173.1L488.6,172.8L489.2,172.4L489.8,171.6L490.3,171.2L490.9,171.0L491.4,169.7L492.0,168.9L492.6,167.9L493.1,165.0L493.7,161.2L494.2,156.1L494.8,148.5L495.4,138.9L495.9,126.8L496.5,113.5L497.0,101.4L497.6,95.2L498.1,98.3L498.7,107.7L499.3,119.6L499.8,132.1L500.4,142.2L500.9,149.9L501.5,156.3L502.1,160.9L502.6,162.9L503.2,163.6L503.7,164.4L504.3,164.4L504.9,164.7L505.4,164.1L506.0,163.5L506.5,162.2L507.1,160.6L507.7,156.5L508.2,151.9L508.8,146.1L509.3,137.9L509.9,126.8L510.5,113.8L511.0,98.3L511.6,84.0L512.1,74.7L512.7,73.0L513.3,81.6L513.8,94.3L514.4,109.2L514.9,123.4L515.5,134.7L516.1,144.2L516.6,150.6L517.2,156.0L517.7,159.4L518.3,161.6L518.9,161.9L519.4,162.7L520.0,161.8L520.5,161.4L521.1,159.0L521.7,155.5L522.2,152.2L522.8,148.2L523.3,143.6L523.9,141.5L524.5,142.9L525.0,146.8L525.6,150.5L526.1,154.7L526.7,159.7L527.3,163.0L527.8,165.2L528.4,167.4L528.9,168.4L529.5,168.7L530.1,169.4L530.6,169.5L531.2,170.1L531.7,170.1L532.3,170.8L532.9,171.0L533.4,171.3L534.0,171.4L534.5,170.7L535.1,171.5L535.6,171.3L536.2,172.0L536.8,172.1L537.3,171.5L537.9,171.0L538.4,171.3L539.0,171.9L539.6,171.9L540.1,171.8L540.7,171.6L541.2,171.8L541.8,172.1L542.4,171.4L542.9,171.0L543.5,170.6L544.0,171.1L544.6,170.8L545.2,170.3L545.7,169.4L546.3,169.5L546.8,168.2L547.4,167.8L548.0,166.7L548.5,166.3L549.1,165.4L549.6,164.4L550.2,163.9L550.8,163.5L551.3,162.3L551.9,162.2L552.4,163.3L553.0,163.6L553.6,164.1L554.1,164.5L554.7,164.0L555.2,163.6L555.8,162.1L556.4,160.7L556.9,158.8L557.5,157.3L558.0,156.7L558.6,158.2L559.2,160.8L559.7,163.5L560.3,165.3L560.8,166.2L561.4,167.0L562.0,167.9L562.5,168.3L563.1,168.0L563.6,167.9L564.2,167.6L564.8,166.5L565.3,166.0L565.9,165.6L566.4,164.0L567.0,162.2L567.6,158.8L568.1,154.2L568.7,146.0L569.2,136.0L569.8,122.9L570.3,109.8L570.9,98.4L571.5,93.1L572.0,96.5L572.6,107.0L573.1,119.9L573.7,131.8L574.3,142.5L574.8,149.1L575.4,153.1L575.9,155.5L576.5,155.2L577.1,152.9L577.6,149.5L578.2,142.8L578.7,132.1L579.3,118.2L579.9,101.5L580.4,84.2L581.0,68.5L581.5,61.0L582.1,64.8L582.7,77.5L583.2,94.4L583.8,112.3L584.3,128.1L584.9,139.8L585.5,148.3L586.0,153.0L586.6,156.1L587.1,157.4L587.7,156.9L588.3,154.4L588.8,151.2L589.4,147.9L589.9,145.7L590.5,144.4L591.1,146.8L591.6,150.6L592.2,154.2L592.7,158.2L593.3,161.8L593.9,163.6L594.4,165.3L595.0,166.9L595.5,167.6L596.1,168.2L596.7,168.0L597.2,167.4L597.8,168.0L598.3,168.4L598.9,168.8L599.5,169.0L600.0,168.7L600.6,168.6L601.1,168.2L601.7,168.5L602.3,167.8L602.8,167.5L603.4,167.1L603.9,166.9L604.5,166.1L605.0,166.6L605.6,164.6L606.2,163.3L606.7,161.5L607.3,158.9L607.8,156.3L608.4,152.7L609.0,148.0L609.5,142.1L610.1,135.1L610.6,126.9L611.2,117.3L611.8,107.3L612.3,96.6L612.9,86.3L613.4,77.5L614.0,72.6L614.6,71.2L615.1,74.4L615.7,80.7L616.2,89.4L616.8,97.5L617.4,104.9L617.9,110.5L618.5,115.9L619.0,119.4L619.6,122.4L620.2,124.2L620.7,125.7L621.3,126.6L621.8,128.6L622.4,130.0L623.0,132.0L623.5,135.1L624.1,137.4L624.6,140.5L625.2,143.6L625.8,146.7L626.3,149.2L626.9,152.2L627.4,154.5L628.0,156.5L628.6,157.8L629.1,159.0L629.7,161.0L630.2,161.9L630.8,162.8L631.4,164.6L631.9,164.3L632.5,165.4L633.0,165.9L633.6,166.5L634.2,167.2L634.7,167.7L635.3,168.2L635.8,168.7L636.4,169.5L637.0,169.5L637.5,170.2L638.1,170.2L638.6,171.2L639.2,171.6L639.7,172.1L640.3,172.3L640.9,172.7L641.4,173.1L642.0,173.5L642.5,174.8L643.1,174.7L643.7,174.4L644.2,174.9L644.8,175.0L645.3,175.1L645.9,175.6L646.5,175.7L647.0,175.8L647.6,175.5L648.1,175.8L648.7,175.7L649.3,175.7L649.8,175.5L650.4,175.5L650.9,175.2L651.5,174.8L652.1,174.5L652.6,174.3L653.2,174.2L653.7,174.1L654.3,173.9L654.9,174.2L655.4,174.4L656.0,175.2L656.5,176.2L657.1,176.5L657.7,176.4L658.2,176.7L658.8,177.2L659.3,176.5L659.9,176.5L660.5,177.3L661.0,177.3L661.6,177.7L662.1,177.5L662.7,177.6L663.3,177.3L663.8,177.7L664.4,177.6L664.9,177.2L665.5,177.8L666.1,179.1L666.6,179.2L667.2,178.4L667.7,178.7L668.3,178.9L668.9,178.9L669.4,178.6L670.0,178.4L670.5,178.3L671.1,178.4L671.7,178.3L672.2,179.1L672.8,179.1L673.3,178.4L673.9,178.1L674.5,178.0L675.0,178.9L675.6,178.6L676.1,179.0L676.7,178.8L677.2,179.0L677.8,178.9L678.4,178.9L678.9,178.8L679.5,179.2L680.0,179.2L680.6,179.2L681.2,179.2L681.7,179.4L682.3,179.0L682.8,178.7L683.4,179.2L684.0,179.2L684.5,179.6L685.1,179.5L685.6,179.4L686.2,179.2L686.8,179.0L687.3,178.4L687.9,178.3L688.4,178.5L689.0,178.7L689.6,179.0L690.1,179.5L690.7,178.8L691.2,179.5L691.8,179.4L692.4,179.5L692.9,178.9L693.5,178.8L694.0,179.1L694.6,179.6L695.2,179.5L695.7,179.1L696.3,179.8L696.8,179.3L697.4,179.5L698.0,179.8L698.5,179.6L699.1,179.4L699.6,179.9L700.2,180.1L700.8,179.9L701.3,179.9L701.9,180.1L702.4,180.2L703.0,180.2L703.6,180.0L704.1,179.8L704.7,180.1L705.2,179.6L705.8,179.2L706.4,179.2L706.9,179.1L707.5,179.1L708.0,178.6L708.6,178.6L709.2,178.9L709.7,178.7L710.3,179.5L710.8,180.0L711.4,180.7L711.9,180.0L712.5,180.3L713.1,179.3" fill="none" stroke="#ff0808" stroke-width="1.6" stroke-linejoin="round"/>
<path d="M354.8,189.7L355.4,190.3L355.9,189.8L356.5,189.2L357.1,189.1L357.6,189.2L358.2,189.2L358.8,188.3L359.4,187.7L359.9,187.8L360.5,187.5L361.1,186.9L361.6,186.0L362.2,186.1L362.8,186.0L363.3,185.9L363.9,186.2L364.5,186.4L365.0,186.5L365.6,186.6L366.2,187.1L366.7,187.3L367.3,186.2L367.9,186.5L368.5,186.1L369.0,185.8L369.6,185.6L370.2,186.8L370.7,188.4L371.3,188.5L371.9,188.8L372.4,188.6L373.0,188.8L373.6,188.9L374.1,188.3L374.7,188.5L375.3,188.8L375.8,188.7L376.4,189.1L377.0,189.4L377.6,189.6L378.1,188.9L378.7,189.5L379.3,189.8L379.8,190.0L380.4,189.3L381.0,189.6L381.5,189.4L382.1,188.7L382.7,189.0L383.2,188.2L383.8,188.3L384.4,187.9L384.9,187.0L385.5,186.0L386.1,185.2L386.6,185.4L387.2,185.3L387.8,186.1L388.4,186.9L388.9,187.2L389.5,188.1L390.1,187.6L390.6,186.7L391.2,186.4L391.8,185.8L392.3,184.8L392.9,185.6L393.5,186.5L394.0,187.2L394.6,187.7L395.2,188.9L395.7,188.3L396.3,188.8L396.9,188.7L397.5,189.2L398.0,189.1L398.6,189.0L399.2,188.2L399.7,187.3L400.3,186.2L400.9,183.3L401.4,179.4L402.0,173.6L402.6,170.1L403.1,174.1L403.7,180.0L404.3,183.8L404.8,186.7L405.4,187.2L406.0,188.1L406.6,188.3L407.1,189.0L407.7,189.5L408.3,189.2L408.8,189.1L409.4,189.1L410.0,189.2L410.5,189.4L411.1,189.2L411.7,189.5L412.2,189.4L412.8,189.4L413.4,189.1L413.9,189.3L414.5,189.6L415.1,189.9L415.7,189.9L416.2,189.5L416.8,189.7L417.4,189.7L417.9,189.8L418.5,189.0L419.1,189.5L419.6,189.6L420.2,188.8L420.8,189.1L421.3,189.4L421.9,189.9L422.5,189.0L423.0,188.0L423.6,188.1L424.2,187.6L424.8,187.3L425.3,186.7L425.9,187.0L426.5,187.6L427.0,187.8L427.6,188.1L428.2,188.2L428.7,188.4L429.3,189.1L429.9,189.3L430.4,188.3L431.0,188.4L431.6,187.7L432.1,187.8L432.7,187.9L433.3,187.0L433.9,186.1L434.4,185.4L435.0,183.8L435.6,181.7L436.1,180.3L436.7,178.1L437.3,176.7L437.8,176.8L438.4,178.0L439.0,180.0L439.5,181.8L440.1,183.1L440.7,184.9L441.2,186.1L441.8,187.5L442.4,188.1L442.9,188.3L443.5,188.3L444.1,188.7L444.7,189.0L445.2,188.9L445.8,189.0L446.4,189.1L446.9,188.8L447.5,189.0L448.1,189.1L448.6,188.9L449.2,189.6L449.8,189.8L450.3,189.3L450.9,189.3L451.5,188.6L452.0,189.1L452.6,189.2L453.2,189.4L453.8,188.9L454.3,188.7L454.9,189.4L455.5,188.6L456.0,188.5L456.6,188.9L457.2,188.8L457.7,188.5L458.3,188.8L458.9,189.4L459.4,189.0L460.0,188.9L460.6,188.8L461.1,189.4L461.7,189.6L462.3,189.1L462.9,189.6L463.4,188.9L464.0,189.3L464.6,189.2L465.1,188.4L465.7,188.2L466.3,188.1L466.8,189.0L467.4,189.0L468.0,188.5L468.5,188.7L469.1,188.8L469.7,188.1L470.2,187.7L470.8,187.7L471.4,186.9L472.0,185.9L472.5,184.3L473.1,183.7L473.7,184.7L474.2,185.5L474.8,186.1L475.4,185.8L475.9,186.6L476.5,186.2L477.1,186.0L477.6,185.6L478.2,186.1L478.8,184.8L479.3,185.0L479.9,184.4L480.5,184.4L481.1,182.7L481.6,182.1L482.2,181.6L482.8,179.6L483.3,178.1L483.9,176.0L484.5,172.5L485.0,166.9L485.6,160.1L486.2,150.3L486.7,137.9L487.3,123.9L487.9,112.0L488.4,105.9L489.0,108.2L489.6,118.5L490.2,131.8L490.7,144.4L491.3,154.3L491.9,161.7L492.4,167.5L493.0,171.2L493.6,174.0L494.1,175.8L494.7,176.3L495.3,176.3L495.8,175.4L496.4,175.3L497.0,174.4L497.5,173.0L498.1,171.6L498.7,168.5L499.2,164.0L499.8,158.2L500.4,149.5L501.0,138.5L501.5,124.4L502.1,109.7L502.7,94.8L503.2,84.5L503.8,83.0L504.4,91.2L504.9,104.6L505.5,119.7L506.1,134.5L506.6,145.3L507.2,155.1L507.8,162.1L508.3,167.8L508.9,171.0L509.5,172.7L510.1,174.6L510.6,175.5L511.2,175.0L511.8,173.8L512.3,171.4L512.9,168.9L513.5,165.1L514.0,161.7L514.6,157.4L515.2,154.8L515.7,155.1L516.3,158.5L516.9,162.8L517.4,168.0L518.0,172.2L518.6,175.3L519.2,177.4L519.7,179.5L520.3,180.5L520.9,181.3L521.4,181.5L522.0,181.5L522.6,183.0L523.1,183.0L523.7,182.6L524.3,182.8L524.8,182.9L525.4,183.3L526.0,183.3L526.5,183.2L527.1,183.2L527.7,183.8L528.3,183.9L528.8,183.3L529.4,183.6L530.0,183.7L530.5,183.1L531.1,183.8L531.7,183.6L532.2,183.7L532.8,183.2L533.4,182.8L533.9,183.3L534.5,183.3L535.1,183.0L535.6,182.1L536.2,182.0L536.8,181.7L537.4,181.7L537.9,181.1L538.5,181.0L539.1,179.4L539.6,179.1L540.2,178.7L540.8,177.8L541.3,177.1L541.9,176.0L542.5,175.8L543.0,175.6L543.6,174.9L544.2,176.2L544.7,176.5L545.3,177.1L545.9,177.5L546.5,176.8L547.0,176.8L547.6,175.3L548.2,173.3L548.7,170.7L549.3,168.4L549.9,168.8L550.4,169.8L551.0,172.6L551.6,174.8L552.1,177.0L552.7,178.3L553.3,179.2L553.8,179.9L554.4,180.3L555.0,180.4L555.5,179.3L556.1,178.8L556.7,177.9L557.3,177.1L557.8,176.4L558.4,175.3L559.0,172.9L559.5,169.4L560.1,164.3L560.7,156.2L561.2,146.5L561.8,133.6L562.4,120.4L562.9,109.1L563.5,104.4L564.1,108.5L564.6,118.9L565.2,131.9L565.8,144.0L566.4,154.2L566.9,160.9L567.5,165.2L568.1,167.0L568.6,167.9L569.2,165.8L569.8,161.6L570.3,155.2L570.9,144.6L571.5,130.9L572.0,113.1L572.6,94.8L573.2,79.5L573.7,72.1L574.3,74.9L574.9,88.5L575.5,106.3L576.0,124.1L576.6,140.3L577.2,151.0L577.7,159.2L578.3,165.0L578.9,167.2L579.4,168.0L580.0,167.4L580.6,165.3L581.1,161.5L581.7,158.1L582.3,154.9L582.8,153.7L583.4,155.8L584.0,160.2L584.6,164.6L585.1,170.0L585.7,173.0L586.3,175.2L586.8,176.3L587.4,178.2L588.0,179.6L588.5,180.1L589.1,179.6L589.7,180.1L590.2,180.7L590.8,180.7L591.4,180.9L591.9,180.6L592.5,180.4L593.1,181.1L593.7,180.8L594.2,180.4L594.8,180.2L595.4,178.7L595.9,178.2L596.5,177.7L597.1,177.7L597.6,176.8L598.2,175.2L598.8,174.2L599.3,172.2L599.9,170.9L600.5,167.9L601.0,164.5L601.6,160.1L602.2,153.0L602.8,145.7L603.3,136.3L603.9,127.3L604.5,116.9L605.0,105.2L605.6,95.7L606.2,86.9L606.7,82.5L607.3,81.3L607.9,84.1L608.4,90.3L609.0,98.6L609.6,107.2L610.1,115.3L610.7,122.3L611.3,128.2L611.8,132.2L612.4,135.4L613.0,136.7L613.6,138.7L614.1,139.3L614.7,140.6L615.3,142.2L615.8,144.1L616.4,146.9L617.0,149.8L617.5,152.3L618.1,155.3L618.7,158.2L619.2,161.3L619.8,163.1L620.4,165.5L620.9,167.5L621.5,169.3L622.1,170.8L622.7,171.9L623.2,173.0L623.8,173.3L624.4,174.2L624.9,175.4L625.5,175.9L626.1,177.0L626.6,177.8L627.2,178.9L627.8,179.6L628.3,180.4L628.9,181.2L629.5,181.0L630.0,181.6L630.6,181.6L631.2,182.4L631.8,183.7L632.3,183.7L632.9,184.0L633.5,185.0L634.0,185.0L634.6,185.7L635.2,185.9L635.7,185.9L636.3,185.9L636.9,186.2L637.4,187.5L638.0,187.6L638.6,187.9L639.1,187.0L639.7,186.7L640.3,187.3L640.9,188.0L641.4,188.0L642.0,187.2L642.6,188.1L643.1,187.4L643.7,187.1L644.3,186.4L644.8,186.1L645.4,186.4L646.0,185.9L646.5,185.8L647.1,185.9L647.7,186.0L648.2,186.3L648.8,186.5L649.4,186.1L650.0,186.1L650.5,187.0L651.1,188.2L651.7,188.0L652.2,187.3L652.8,188.0L653.4,188.5L653.9,188.5L654.5,188.7L655.1,189.1L655.6,189.4L656.2,189.1L656.8,189.0L657.3,189.5L657.9,189.5L658.5,189.3L659.1,189.6L659.6,189.8L660.2,189.9L660.8,190.1L661.3,190.4L661.9,189.7L662.5,190.1L663.0,190.7L663.6,190.8L664.2,190.2L664.7,190.4L665.3,190.5L665.9,190.7L666.4,190.2L667.0,190.2L667.6,190.4L668.1,190.5L668.7,190.9L669.3,191.0L669.9,190.5L670.4,190.9L671.0,190.8L671.6,190.8L672.1,190.7L672.7,190.7L673.3,191.4L673.8,192.1L674.4,191.3L675.0,191.2L675.5,190.9L676.1,191.3L676.7,191.2L677.2,190.8L677.8,190.6L678.4,190.9L679.0,191.7L679.5,191.4L680.1,191.3L680.7,190.8L681.2,190.9L681.8,191.1L682.4,190.5L682.9,190.8L683.5,190.3L684.1,191.0L684.6,191.0L685.2,190.7L685.8,190.9L686.3,191.5L686.9,192.4L687.5,191.9L688.1,190.8L688.6,191.2L689.2,190.9L689.8,191.4L690.3,191.0L690.9,191.6L691.5,191.3L692.0,191.8L692.6,192.2L693.2,191.6L693.7,191.7L694.3,192.3L694.9,192.4L695.4,192.0L696.0,191.2L696.6,190.9L697.2,191.0L697.7,190.7L698.3,190.8L698.9,190.7L699.4,191.6L700.0,191.5L700.6,192.0L701.1,191.5L701.7,191.3L702.3,191.1L702.8,191.3L703.4,191.6L704.0,190.9L704.5,190.7L705.1,190.9L705.7,190.6L706.3,190.7L706.8,191.0L707.4,191.3L707.4,202.9L354.8,202.9Z" fill="#fff"/>
<path d="M354.8,189.7L355.4,190.3L355.9,189.8L356.5,189.2L357.1,189.1L357.6,189.2L358.2,189.2L358.8,188.3L359.4,187.7L359.9,187.8L360.5,187.5L361.1,186.9L361.6,186.0L362.2,186.1L362.8,186.0L363.3,185.9L363.9,186.2L364.5,186.4L365.0,186.5L365.6,186.6L366.2,187.1L366.7,187.3L367.3,186.2L367.9,186.5L368.5,186.1L369.0,185.8L369.6,185.6L370.2,186.8L370.7,188.4L371.3,188.5L371.9,188.8L372.4,188.6L373.0,188.8L373.6,188.9L374.1,188.3L374.7,188.5L375.3,188.8L375.8,188.7L376.4,189.1L377.0,189.4L377.6,189.6L378.1,188.9L378.7,189.5L379.3,189.8L379.8,190.0L380.4,189.3L381.0,189.6L381.5,189.4L382.1,188.7L382.7,189.0L383.2,188.2L383.8,188.3L384.4,187.9L384.9,187.0L385.5,186.0L386.1,185.2L386.6,185.4L387.2,185.3L387.8,186.1L388.4,186.9L388.9,187.2L389.5,188.1L390.1,187.6L390.6,186.7L391.2,186.4L391.8,185.8L392.3,184.8L392.9,185.6L393.5,186.5L394.0,187.2L394.6,187.7L395.2,188.9L395.7,188.3L396.3,188.8L396.9,188.7L397.5,189.2L398.0,189.1L398.6,189.0L399.2,188.2L399.7,187.3L400.3,186.2L400.9,183.3L401.4,179.4L402.0,173.6L402.6,170.1L403.1,174.1L403.7,180.0L404.3,183.8L404.8,186.7L405.4,187.2L406.0,188.1L406.6,188.3L407.1,189.0L407.7,189.5L408.3,189.2L408.8,189.1L409.4,189.1L410.0,189.2L410.5,189.4L411.1,189.2L411.7,189.5L412.2,189.4L412.8,189.4L413.4,189.1L413.9,189.3L414.5,189.6L415.1,189.9L415.7,189.9L416.2,189.5L416.8,189.7L417.4,189.7L417.9,189.8L418.5,189.0L419.1,189.5L419.6,189.6L420.2,188.8L420.8,189.1L421.3,189.4L421.9,189.9L422.5,189.0L423.0,188.0L423.6,188.1L424.2,187.6L424.8,187.3L425.3,186.7L425.9,187.0L426.5,187.6L427.0,187.8L427.6,188.1L428.2,188.2L428.7,188.4L429.3,189.1L429.9,189.3L430.4,188.3L431.0,188.4L431.6,187.7L432.1,187.8L432.7,187.9L433.3,187.0L433.9,186.1L434.4,185.4L435.0,183.8L435.6,181.7L436.1,180.3L436.7,178.1L437.3,176.7L437.8,176.8L438.4,178.0L439.0,180.0L439.5,181.8L440.1,183.1L440.7,184.9L441.2,186.1L441.8,187.5L442.4,188.1L442.9,188.3L443.5,188.3L444.1,188.7L444.7,189.0L445.2,188.9L445.8,189.0L446.4,189.1L446.9,188.8L447.5,189.0L448.1,189.1L448.6,188.9L449.2,189.6L449.8,189.8L450.3,189.3L450.9,189.3L451.5,188.6L452.0,189.1L452.6,189.2L453.2,189.4L453.8,188.9L454.3,188.7L454.9,189.4L455.5,188.6L456.0,188.5L456.6,188.9L457.2,188.8L457.7,188.5L458.3,188.8L458.9,189.4L459.4,189.0L460.0,188.9L460.6,188.8L461.1,189.4L461.7,189.6L462.3,189.1L462.9,189.6L463.4,188.9L464.0,189.3L464.6,189.2L465.1,188.4L465.7,188.2L466.3,188.1L466.8,189.0L467.4,189.0L468.0,188.5L468.5,188.7L469.1,188.8L469.7,188.1L470.2,187.7L470.8,187.7L471.4,186.9L472.0,185.9L472.5,184.3L473.1,183.7L473.7,184.7L474.2,185.5L474.8,186.1L475.4,185.8L475.9,186.6L476.5,186.2L477.1,186.0L477.6,185.6L478.2,186.1L478.8,184.8L479.3,185.0L479.9,184.4L480.5,184.4L481.1,182.7L481.6,182.1L482.2,181.6L482.8,179.6L483.3,178.1L483.9,176.0L484.5,172.5L485.0,166.9L485.6,160.1L486.2,150.3L486.7,137.9L487.3,123.9L487.9,112.0L488.4,105.9L489.0,108.2L489.6,118.5L490.2,131.8L490.7,144.4L491.3,154.3L491.9,161.7L492.4,167.5L493.0,171.2L493.6,174.0L494.1,175.8L494.7,176.3L495.3,176.3L495.8,175.4L496.4,175.3L497.0,174.4L497.5,173.0L498.1,171.6L498.7,168.5L499.2,164.0L499.8,158.2L500.4,149.5L501.0,138.5L501.5,124.4L502.1,109.7L502.7,94.8L503.2,84.5L503.8,83.0L504.4,91.2L504.9,104.6L505.5,119.7L506.1,134.5L506.6,145.3L507.2,155.1L507.8,162.1L508.3,167.8L508.9,171.0L509.5,172.7L510.1,174.6L510.6,175.5L511.2,175.0L511.8,173.8L512.3,171.4L512.9,168.9L513.5,165.1L514.0,161.7L514.6,157.4L515.2,154.8L515.7,155.1L516.3,158.5L516.9,162.8L517.4,168.0L518.0,172.2L518.6,175.3L519.2,177.4L519.7,179.5L520.3,180.5L520.9,181.3L521.4,181.5L522.0,181.5L522.6,183.0L523.1,183.0L523.7,182.6L524.3,182.8L524.8,182.9L525.4,183.3L526.0,183.3L526.5,183.2L527.1,183.2L527.7,183.8L528.3,183.9L528.8,183.3L529.4,183.6L530.0,183.7L530.5,183.1L531.1,183.8L531.7,183.6L532.2,183.7L532.8,183.2L533.4,182.8L533.9,183.3L534.5,183.3L535.1,183.0L535.6,182.1L536.2,182.0L536.8,181.7L537.4,181.7L537.9,181.1L538.5,181.0L539.1,179.4L539.6,179.1L540.2,178.7L540.8,177.8L541.3,177.1L541.9,176.0L542.5,175.8L543.0,175.6L543.6,174.9L544.2,176.2L544.7,176.5L545.3,177.1L545.9,177.5L546.5,176.8L547.0,176.8L547.6,175.3L548.2,173.3L548.7,170.7L549.3,168.4L549.9,168.8L550.4,169.8L551.0,172.6L551.6,174.8L552.1,177.0L552.7,178.3L553.3,179.2L553.8,179.9L554.4,180.3L555.0,180.4L555.5,179.3L556.1,178.8L556.7,177.9L557.3,177.1L557.8,176.4L558.4,175.3L559.0,172.9L559.5,169.4L560.1,164.3L560.7,156.2L561.2,146.5L561.8,133.6L562.4,120.4L562.9,109.1L563.5,104.4L564.1,108.5L564.6,118.9L565.2,131.9L565.8,144.0L566.4,154.2L566.9,160.9L567.5,165.2L568.1,167.0L568.6,167.9L569.2,165.8L569.8,161.6L570.3,155.2L570.9,144.6L571.5,130.9L572.0,113.1L572.6,94.8L573.2,79.5L573.7,72.1L574.3,74.9L574.9,88.5L575.5,106.3L576.0,124.1L576.6,140.3L577.2,151.0L577.7,159.2L578.3,165.0L578.9,167.2L579.4,168.0L580.0,167.4L580.6,165.3L581.1,161.5L581.7,158.1L582.3,154.9L582.8,153.7L583.4,155.8L584.0,160.2L584.6,164.6L585.1,170.0L585.7,173.0L586.3,175.2L586.8,176.3L587.4,178.2L588.0,179.6L588.5,180.1L589.1,179.6L589.7,180.1L590.2,180.7L590.8,180.7L591.4,180.9L591.9,180.6L592.5,180.4L593.1,181.1L593.7,180.8L594.2,180.4L594.8,180.2L595.4,178.7L595.9,178.2L596.5,177.7L597.1,177.7L597.6,176.8L598.2,175.2L598.8,174.2L599.3,172.2L599.9,170.9L600.5,167.9L601.0,164.5L601.6,160.1L602.2,153.0L602.8,145.7L603.3,136.3L603.9,127.3L604.5,116.9L605.0,105.2L605.6,95.7L606.2,86.9L606.7,82.5L607.3,81.3L607.9,84.1L608.4,90.3L609.0,98.6L609.6,107.2L610.1,115.3L610.7,122.3L611.3,128.2L611.8,132.2L612.4,135.4L613.0,136.7L613.6,138.7L614.1,139.3L614.7,140.6L615.3,142.2L615.8,144.1L616.4,146.9L617.0,149.8L617.5,152.3L618.1,155.3L618.7,158.2L619.2,161.3L619.8,163.1L620.4,165.5L620.9,167.5L621.5,169.3L622.1,170.8L622.7,171.9L623.2,173.0L623.8,173.3L624.4,174.2L624.9,175.4L625.5,175.9L626.1,177.0L626.6,177.8L627.2,178.9L627.8,179.6L628.3,180.4L628.9,181.2L629.5,181.0L630.0,181.6L630.6,181.6L631.2,182.4L631.8,183.7L632.3,183.7L632.9,184.0L633.5,185.0L634.0,185.0L634.6,185.7L635.2,185.9L635.7,185.9L636.3,185.9L636.9,186.2L637.4,187.5L638.0,187.6L638.6,187.9L639.1,187.0L639.7,186.7L640.3,187.3L640.9,188.0L641.4,188.0L642.0,187.2L642.6,188.1L643.1,187.4L643.7,187.1L644.3,186.4L644.8,186.1L645.4,186.4L646.0,185.9L646.5,185.8L647.1,185.9L647.7,186.0L648.2,186.3L648.8,186.5L649.4,186.1L650.0,186.1L650.5,187.0L651.1,188.2L651.7,188.0L652.2,187.3L652.8,188.0L653.4,188.5L653.9,188.5L654.5,188.7L655.1,189.1L655.6,189.4L656.2,189.1L656.8,189.0L657.3,189.5L657.9,189.5L658.5,189.3L659.1,189.6L659.6,189.8L660.2,189.9L660.8,190.1L661.3,190.4L661.9,189.7L662.5,190.1L663.0,190.7L663.6,190.8L664.2,190.2L664.7,190.4L665.3,190.5L665.9,190.7L666.4,190.2L667.0,190.2L667.6,190.4L668.1,190.5L668.7,190.9L669.3,191.0L669.9,190.5L670.4,190.9L671.0,190.8L671.6,190.8L672.1,190.7L672.7,190.7L673.3,191.4L673.8,192.1L674.4,191.3L675.0,191.2L675.5,190.9L676.1,191.3L676.7,191.2L677.2,190.8L677.8,190.6L678.4,190.9L679.0,191.7L679.5,191.4L680.1,191.3L680.7,190.8L681.2,190.9L681.8,191.1L682.4,190.5L682.9,190.8L683.5,190.3L684.1,191.0L684.6,191.0L685.2,190.7L685.8,190.9L686.3,191.5L686.9,192.4L687.5,191.9L688.1,190.8L688.6,191.2L689.2,190.9L689.8,191.4L690.3,191.0L690.9,191.6L691.5,191.3L692.0,191.8L692.6,192.2L693.2,191.6L693.7,191.7L694.3,192.3L694.9,192.4L695.4,192.0L696.0,191.2L696.6,190.9L697.2,191.0L697.7,190.7L698.3,190.8L698.9,190.7L699.4,191.6L700.0,191.5L700.6,192.0L701.1,191.5L701.7,191.3L702.3,191.1L702.8,191.3L703.4,191.6L704.0,190.9L704.5,190.7L705.1,190.9L705.7,190.6L706.3,190.7L706.8,191.0L707.4,191.3" fill="none" stroke="#ff0808" stroke-width="1.6" stroke-linejoin="round"/>
<path d="M343.2,203.4L343.8,204.0L344.3,203.6L344.9,203.3L345.5,202.8L346.1,203.1L346.6,202.9L347.2,202.9L347.8,202.9L348.4,202.5L349.0,201.5L349.5,200.8L350.1,200.9L350.7,199.9L351.3,199.7L351.8,199.6L352.4,201.0L353.0,201.4L353.6,201.6L354.2,201.6L354.7,201.8L355.3,201.5L355.9,201.2L356.5,201.8L357.1,201.3L357.6,200.6L358.2,200.9L358.8,201.0L359.4,201.1L359.9,202.0L360.5,202.4L361.1,202.7L361.7,202.9L362.3,203.4L362.8,203.8L363.4,203.3L364.0,203.4L364.6,204.3L365.1,203.9L365.7,204.0L366.3,203.9L366.9,204.1L367.5,203.7L368.0,203.7L368.6,204.1L369.2,204.2L369.8,204.0L370.3,203.8L370.9,202.9L371.5,202.5L372.1,203.1L372.7,202.9L373.2,201.9L373.8,201.0L374.4,200.5L375.0,199.8L375.5,199.8L376.1,200.2L376.7,201.1L377.3,201.1L377.9,201.5L378.4,202.0L379.0,202.2L379.6,201.8L380.2,200.3L380.7,199.0L381.3,198.3L381.9,199.5L382.5,200.5L383.1,202.2L383.6,203.0L384.2,202.8L384.8,203.0L385.4,203.6L385.9,203.4L386.5,202.8L387.1,202.3L387.7,202.1L388.3,201.1L388.8,200.4L389.4,198.4L390.0,194.4L390.6,187.5L391.2,178.9L391.7,175.2L392.3,181.0L392.9,189.7L393.5,195.8L394.0,199.2L394.6,200.7L395.2,201.5L395.8,201.9L396.4,202.4L396.9,202.9L397.5,202.9L398.1,202.7L398.7,203.3L399.2,203.4L399.8,202.9L400.4,202.8L401.0,202.9L401.6,203.0L402.1,203.0L402.7,203.4L403.3,204.2L403.9,204.3L404.4,203.8L405.0,204.0L405.6,203.7L406.2,203.4L406.8,203.6L407.3,203.6L407.9,203.4L408.5,204.0L409.1,204.2L409.6,203.9L410.2,204.8L410.8,203.5L411.4,203.1L412.0,202.6L412.5,201.8L413.1,201.6L413.7,201.3L414.3,201.1L414.8,200.2L415.4,199.8L416.0,200.4L416.6,202.0L417.2,202.8L417.7,203.1L418.3,202.9L418.9,203.1L419.5,203.3L420.1,203.3L420.6,203.0L421.2,202.6L421.8,202.5L422.4,202.1L422.9,201.3L423.5,200.5L424.1,198.9L424.7,197.6L425.3,195.7L425.8,193.7L426.4,191.7L427.0,190.7L427.6,190.9L428.1,192.2L428.7,194.1L429.3,195.8L429.9,198.0L430.5,200.1L431.0,201.2L431.6,201.6L432.2,202.1L432.8,202.4L433.3,202.1L433.9,202.6L434.5,202.3L435.1,202.1L435.7,202.4L436.2,202.4L436.8,202.8L437.4,202.8L438.0,202.5L438.5,202.6L439.1,203.1L439.7,203.2L440.3,203.8L440.9,203.4L441.4,203.4L442.0,203.8L442.6,203.1L443.2,203.0L443.7,203.9L444.3,203.0L444.9,203.5L445.5,203.8L446.1,203.4L446.6,203.3L447.2,203.1L447.8,203.3L448.4,203.2L448.9,203.0L449.5,203.5L450.1,203.6L450.7,203.9L451.3,204.1L451.8,204.0L452.4,203.2L453.0,202.7L453.6,203.1L454.2,203.8L454.7,203.4L455.3,202.8L455.9,203.1L456.5,203.2L457.0,202.8L457.6,203.1L458.2,202.7L458.8,202.6L459.4,202.4L459.9,201.4L460.5,201.2L461.1,201.2L461.7,201.2L462.2,200.1L462.8,198.9L463.4,198.3L464.0,199.2L464.6,199.7L465.1,200.5L465.7,201.0L466.3,200.5L466.9,201.2L467.4,200.4L468.0,200.4L468.6,200.2L469.2,199.3L469.8,198.7L470.3,198.6L470.9,198.1L471.5,197.0L472.1,196.8L472.6,196.2L473.2,194.3L473.8,192.6L474.4,189.8L475.0,186.8L475.5,180.9L476.1,173.2L476.7,163.4L477.3,150.7L477.8,136.0L478.4,124.2L479.0,118.3L479.6,120.7L480.2,130.8L480.7,144.2L481.3,157.4L481.9,167.8L482.5,175.6L483.1,181.6L483.6,185.2L484.2,187.5L484.8,188.9L485.4,190.0L485.9,190.9L486.5,190.6L487.1,189.7L487.7,188.3L488.3,186.9L488.8,184.5L489.4,180.9L490.0,175.9L490.6,169.6L491.1,160.5L491.7,147.7L492.3,133.7L492.9,117.1L493.5,101.6L494.0,91.1L494.6,89.6L495.2,97.7L495.8,111.7L496.3,127.9L496.9,144.1L497.5,156.8L498.1,167.0L498.7,174.5L499.2,179.8L499.8,183.4L500.4,185.3L501.0,186.9L501.5,187.8L502.1,187.9L502.7,185.7L503.3,183.9L503.9,181.0L504.4,177.4L505.0,173.0L505.6,169.2L506.2,167.2L506.7,168.7L507.3,171.4L507.9,176.0L508.5,181.1L509.1,185.8L509.6,188.7L510.2,191.4L510.8,192.6L511.4,194.3L511.9,195.4L512.5,196.3L513.1,195.9L513.7,196.6L514.3,196.5L514.8,195.8L515.4,196.5L516.0,196.8L516.6,197.6L517.2,196.7L517.7,197.1L518.3,196.7L518.9,197.2L519.5,197.6L520.0,197.5L520.6,197.0L521.2,197.4L521.8,197.6L522.4,197.7L522.9,197.5L523.5,197.1L524.1,197.1L524.7,197.1L525.2,197.0L525.8,196.9L526.4,196.4L527.0,196.4L527.6,196.3L528.1,196.4L528.7,196.2L529.3,195.3L529.9,194.5L530.4,193.7L531.0,192.4L531.6,191.1L532.2,191.2L532.8,189.8L533.3,188.8L533.9,187.6L534.5,188.3L535.1,188.3L535.6,188.8L536.2,189.1L536.8,189.9L537.4,189.8L538.0,189.4L538.5,189.3L539.1,188.4L539.7,186.2L540.3,183.6L540.8,181.9L541.4,181.4L542.0,183.0L542.6,186.7L543.2,188.8L543.7,191.0L544.3,192.2L544.9,192.6L545.5,192.8L546.1,193.0L546.6,193.1L547.2,192.8L547.8,192.1L548.4,192.3L548.9,191.1L549.5,190.8L550.1,188.0L550.7,186.1L551.3,181.7L551.8,175.9L552.4,166.0L553.0,154.4L553.6,138.9L554.1,123.1L554.7,110.1L555.3,104.6L555.9,109.4L556.5,121.4L557.0,136.6L557.6,151.2L558.2,163.6L558.8,171.7L559.3,177.4L559.9,180.0L560.5,180.9L561.1,179.1L561.7,177.0L562.2,171.0L562.8,162.1L563.4,150.3L564.0,135.7L564.5,120.6L565.1,106.7L565.7,99.8L566.3,103.1L566.9,114.3L567.4,129.6L568.0,145.3L568.6,158.4L569.2,169.5L569.7,176.4L570.3,181.2L570.9,183.4L571.5,183.7L572.1,182.5L572.6,180.7L573.2,177.6L573.8,173.8L574.4,170.0L574.9,168.7L575.5,171.0L576.1,174.6L576.7,179.4L577.3,184.1L577.8,187.3L578.4,190.2L579.0,192.2L579.6,192.6L580.2,193.5L580.7,194.2L581.3,194.7L581.9,195.0L582.5,194.7L583.0,194.9L583.6,195.6L584.2,195.4L584.8,195.1L585.4,195.7L585.9,195.1L586.5,195.1L587.1,194.8L587.7,194.3L588.2,193.2L588.8,193.6L589.4,193.0L590.0,191.9L590.6,191.5L591.1,190.5L591.7,188.0L592.3,186.7L592.9,183.7L593.4,180.3L594.0,176.2L594.6,171.4L595.2,164.6L595.8,157.1L596.3,148.3L596.9,138.6L597.5,128.0L598.1,119.4L598.6,111.5L599.2,106.9L599.8,106.6L600.4,109.9L601.0,114.9L601.5,122.1L602.1,129.5L602.7,136.6L603.3,142.6L603.8,147.7L604.4,151.1L605.0,152.7L605.6,154.5L606.2,155.8L606.7,156.9L607.3,157.8L607.9,159.2L608.5,161.1L609.1,163.6L609.6,166.0L610.2,167.9L610.8,171.7L611.4,174.5L611.9,177.3L612.5,178.4L613.1,180.2L613.7,181.3L614.3,183.2L614.8,184.7L615.4,186.3L616.0,187.0L616.6,188.4L617.1,188.9L617.7,189.5L618.3,190.7L618.9,191.3L619.5,191.5L620.0,191.9L620.6,193.2L621.2,194.2L621.8,194.7L622.3,194.7L622.9,195.1L623.5,196.0L624.1,197.0L624.7,197.8L625.2,198.4L625.8,198.5L626.4,198.7L627.0,199.5L627.5,199.8L628.1,200.4L628.7,200.5L629.3,200.2L629.9,201.2L630.4,200.8L631.0,200.3L631.6,200.6L632.2,201.0L632.7,200.9L633.3,201.0L633.9,201.7L634.5,202.2L635.1,201.9L635.6,201.5L636.2,201.4L636.8,201.5L637.4,201.3L637.9,200.7L638.5,200.3L639.1,199.9L639.7,199.6L640.3,200.3L640.8,200.4L641.4,200.2L642.0,200.2L642.6,200.4L643.2,201.6L643.7,201.2L644.3,201.8L644.9,202.2L645.5,202.2L646.0,202.8L646.6,202.9L647.2,203.4L647.8,203.2L648.4,203.6L648.9,204.1L649.5,204.3L650.1,204.5L650.7,204.4L651.2,204.3L651.8,204.6L652.4,203.3L653.0,203.5L653.6,204.1L654.1,203.7L654.7,203.9L655.3,204.8L655.9,204.3L656.4,204.6L657.0,204.8L657.6,205.1L658.2,205.5L658.8,204.9L659.3,205.4L659.9,205.4L660.5,204.9L661.1,204.6L661.6,204.8L662.2,204.8L662.8,204.3L663.4,204.5L664.0,204.3L664.5,205.2L665.1,205.1L665.7,205.1L666.3,205.2L666.8,205.5L667.4,205.2L668.0,205.7L668.6,205.3L669.2,205.3L669.7,205.3L670.3,205.8L670.9,205.7L671.5,205.7L672.1,205.9L672.6,205.3L673.2,205.2L673.8,205.5L674.4,205.4L674.9,205.4L675.5,204.8L676.1,205.4L676.7,204.8L677.3,205.0L677.8,205.0L678.4,204.8L679.0,205.4L679.6,204.7L680.1,205.0L680.7,205.6L681.3,204.8L681.9,205.5L682.5,205.7L683.0,205.8L683.6,205.5L684.2,205.6L684.8,205.7L685.3,205.9L685.9,206.0L686.5,204.7L687.1,205.1L687.7,205.0L688.2,205.2L688.8,205.6L689.4,205.1L690.0,205.8L690.5,205.5L691.1,205.4L691.7,205.7L692.3,206.2L692.9,206.1L693.4,206.7L694.0,206.8L694.6,206.0L695.2,205.5L695.7,205.4L696.3,205.5L696.9,205.4L697.5,205.7L698.1,205.7L698.6,205.7L699.2,205.3L699.8,205.3L700.4,205.3L700.9,205.5L701.5,205.6L701.5,216.4L343.2,216.4Z" fill="#fff"/>
<path d="M343.2,203.4L343.8,204.0L344.3,203.6L344.9,203.3L345.5,202.8L346.1,203.1L346.6,202.9L347.2,202.9L347.8,202.9L348.4,202.5L349.0,201.5L349.5,200.8L350.1,200.9L350.7,199.9L351.3,199.7L351.8,199.6L352.4,201.0L353.0,201.4L353.6,201.6L354.2,201.6L354.7,201.8L355.3,201.5L355.9,201.2L356.5,201.8L357.1,201.3L357.6,200.6L358.2,200.9L358.8,201.0L359.4,201.1L359.9,202.0L360.5,202.4L361.1,202.7L361.7,202.9L362.3,203.4L362.8,203.8L363.4,203.3L364.0,203.4L364.6,204.3L365.1,203.9L365.7,204.0L366.3,203.9L366.9,204.1L367.5,203.7L368.0,203.7L368.6,204.1L369.2,204.2L369.8,204.0L370.3,203.8L370.9,202.9L371.5,202.5L372.1,203.1L372.7,202.9L373.2,201.9L373.8,201.0L374.4,200.5L375.0,199.8L375.5,199.8L376.1,200.2L376.7,201.1L377.3,201.1L377.9,201.5L378.4,202.0L379.0,202.2L379.6,201.8L380.2,200.3L380.7,199.0L381.3,198.3L381.9,199.5L382.5,200.5L383.1,202.2L383.6,203.0L384.2,202.8L384.8,203.0L385.4,203.6L385.9,203.4L386.5,202.8L387.1,202.3L387.7,202.1L388.3,201.1L388.8,200.4L389.4,198.4L390.0,194.4L390.6,187.5L391.2,178.9L391.7,175.2L392.3,181.0L392.9,189.7L393.5,195.8L394.0,199.2L394.6,200.7L395.2,201.5L395.8,201.9L396.4,202.4L396.9,202.9L397.5,202.9L398.1,202.7L398.7,203.3L399.2,203.4L399.8,202.9L400.4,202.8L401.0,202.9L401.6,203.0L402.1,203.0L402.7,203.4L403.3,204.2L403.9,204.3L404.4,203.8L405.0,204.0L405.6,203.7L406.2,203.4L406.8,203.6L407.3,203.6L407.9,203.4L408.5,204.0L409.1,204.2L409.6,203.9L410.2,204.8L410.8,203.5L411.4,203.1L412.0,202.6L412.5,201.8L413.1,201.6L413.7,201.3L414.3,201.1L414.8,200.2L415.4,199.8L416.0,200.4L416.6,202.0L417.2,202.8L417.7,203.1L418.3,202.9L418.9,203.1L419.5,203.3L420.1,203.3L420.6,203.0L421.2,202.6L421.8,202.5L422.4,202.1L422.9,201.3L423.5,200.5L424.1,198.9L424.7,197.6L425.3,195.7L425.8,193.7L426.4,191.7L427.0,190.7L427.6,190.9L428.1,192.2L428.7,194.1L429.3,195.8L429.9,198.0L430.5,200.1L431.0,201.2L431.6,201.6L432.2,202.1L432.8,202.4L433.3,202.1L433.9,202.6L434.5,202.3L435.1,202.1L435.7,202.4L436.2,202.4L436.8,202.8L437.4,202.8L438.0,202.5L438.5,202.6L439.1,203.1L439.7,203.2L440.3,203.8L440.9,203.4L441.4,203.4L442.0,203.8L442.6,203.1L443.2,203.0L443.7,203.9L444.3,203.0L444.9,203.5L445.5,203.8L446.1,203.4L446.6,203.3L447.2,203.1L447.8,203.3L448.4,203.2L448.9,203.0L449.5,203.5L450.1,203.6L450.7,203.9L451.3,204.1L451.8,204.0L452.4,203.2L453.0,202.7L453.6,203.1L454.2,203.8L454.7,203.4L455.3,202.8L455.9,203.1L456.5,203.2L457.0,202.8L457.6,203.1L458.2,202.7L458.8,202.6L459.4,202.4L459.9,201.4L460.5,201.2L461.1,201.2L461.7,201.2L462.2,200.1L462.8,198.9L463.4,198.3L464.0,199.2L464.6,199.7L465.1,200.5L465.7,201.0L466.3,200.5L466.9,201.2L467.4,200.4L468.0,200.4L468.6,200.2L469.2,199.3L469.8,198.7L470.3,198.6L470.9,198.1L471.5,197.0L472.1,196.8L472.6,196.2L473.2,194.3L473.8,192.6L474.4,189.8L475.0,186.8L475.5,180.9L476.1,173.2L476.7,163.4L477.3,150.7L477.8,136.0L478.4,124.2L479.0,118.3L479.6,120.7L480.2,130.8L480.7,144.2L481.3,157.4L481.9,167.8L482.5,175.6L483.1,181.6L483.6,185.2L484.2,187.5L484.8,188.9L485.4,190.0L485.9,190.9L486.5,190.6L487.1,189.7L487.7,188.3L488.3,186.9L488.8,184.5L489.4,180.9L490.0,175.9L490.6,169.6L491.1,160.5L491.7,147.7L492.3,133.7L492.9,117.1L493.5,101.6L494.0,91.1L494.6,89.6L495.2,97.7L495.8,111.7L496.3,127.9L496.9,144.1L497.5,156.8L498.1,167.0L498.7,174.5L499.2,179.8L499.8,183.4L500.4,185.3L501.0,186.9L501.5,187.8L502.1,187.9L502.7,185.7L503.3,183.9L503.9,181.0L504.4,177.4L505.0,173.0L505.6,169.2L506.2,167.2L506.7,168.7L507.3,171.4L507.9,176.0L508.5,181.1L509.1,185.8L509.6,188.7L510.2,191.4L510.8,192.6L511.4,194.3L511.9,195.4L512.5,196.3L513.1,195.9L513.7,196.6L514.3,196.5L514.8,195.8L515.4,196.5L516.0,196.8L516.6,197.6L517.2,196.7L517.7,197.1L518.3,196.7L518.9,197.2L519.5,197.6L520.0,197.5L520.6,197.0L521.2,197.4L521.8,197.6L522.4,197.7L522.9,197.5L523.5,197.1L524.1,197.1L524.7,197.1L525.2,197.0L525.8,196.9L526.4,196.4L527.0,196.4L527.6,196.3L528.1,196.4L528.7,196.2L529.3,195.3L529.9,194.5L530.4,193.7L531.0,192.4L531.6,191.1L532.2,191.2L532.8,189.8L533.3,188.8L533.9,187.6L534.5,188.3L535.1,188.3L535.6,188.8L536.2,189.1L536.8,189.9L537.4,189.8L538.0,189.4L538.5,189.3L539.1,188.4L539.7,186.2L540.3,183.6L540.8,181.9L541.4,181.4L542.0,183.0L542.6,186.7L543.2,188.8L543.7,191.0L544.3,192.2L544.9,192.6L545.5,192.8L546.1,193.0L546.6,193.1L547.2,192.8L547.8,192.1L548.4,192.3L548.9,191.1L549.5,190.8L550.1,188.0L550.7,186.1L551.3,181.7L551.8,175.9L552.4,166.0L553.0,154.4L553.6,138.9L554.1,123.1L554.7,110.1L555.3,104.6L555.9,109.4L556.5,121.4L557.0,136.6L557.6,151.2L558.2,163.6L558.8,171.7L559.3,177.4L559.9,180.0L560.5,180.9L561.1,179.1L561.7,177.0L562.2,171.0L562.8,162.1L563.4,150.3L564.0,135.7L564.5,120.6L565.1,106.7L565.7,99.8L566.3,103.1L566.9,114.3L567.4,129.6L568.0,145.3L568.6,158.4L569.2,169.5L569.7,176.4L570.3,181.2L570.9,183.4L571.5,183.7L572.1,182.5L572.6,180.7L573.2,177.6L573.8,173.8L574.4,170.0L574.9,168.7L575.5,171.0L576.1,174.6L576.7,179.4L577.3,184.1L577.8,187.3L578.4,190.2L579.0,192.2L579.6,192.6L580.2,193.5L580.7,194.2L581.3,194.7L581.9,195.0L582.5,194.7L583.0,194.9L583.6,195.6L584.2,195.4L584.8,195.1L585.4,195.7L585.9,195.1L586.5,195.1L587.1,194.8L587.7,194.3L588.2,193.2L588.8,193.6L589.4,193.0L590.0,191.9L590.6,191.5L591.1,190.5L591.7,188.0L592.3,186.7L592.9,183.7L593.4,180.3L594.0,176.2L594.6,171.4L595.2,164.6L595.8,157.1L596.3,148.3L596.9,138.6L597.5,128.0L598.1,119.4L598.6,111.5L599.2,106.9L599.8,106.6L600.4,109.9L601.0,114.9L601.5,122.1L602.1,129.5L602.7,136.6L603.3,142.6L603.8,147.7L604.4,151.1L605.0,152.7L605.6,154.5L606.2,155.8L606.7,156.9L607.3,157.8L607.9,159.2L608.5,161.1L609.1,163.6L609.6,166.0L610.2,167.9L610.8,171.7L611.4,174.5L611.9,177.3L612.5,178.4L613.1,180.2L613.7,181.3L614.3,183.2L614.8,184.7L615.4,186.3L616.0,187.0L616.6,188.4L617.1,188.9L617.7,189.5L618.3,190.7L618.9,191.3L619.5,191.5L620.0,191.9L620.6,193.2L621.2,194.2L621.8,194.7L622.3,194.7L622.9,195.1L623.5,196.0L624.1,197.0L624.7,197.8L625.2,198.4L625.8,198.5L626.4,198.7L627.0,199.5L627.5,199.8L628.1,200.4L628.7,200.5L629.3,200.2L629.9,201.2L630.4,200.8L631.0,200.3L631.6,200.6L632.2,201.0L632.7,200.9L633.3,201.0L633.9,201.7L634.5,202.2L635.1,201.9L635.6,201.5L636.2,201.4L636.8,201.5L637.4,201.3L637.9,200.7L638.5,200.3L639.1,199.9L639.7,199.6L640.3,200.3L640.8,200.4L641.4,200.2L642.0,200.2L642.6,200.4L643.2,201.6L643.7,201.2L644.3,201.8L644.9,202.2L645.5,202.2L646.0,202.8L646.6,202.9L647.2,203.4L647.8,203.2L648.4,203.6L648.9,204.1L649.5,204.3L650.1,204.5L650.7,204.4L651.2,204.3L651.8,204.6L652.4,203.3L653.0,203.5L653.6,204.1L654.1,203.7L654.7,203.9L655.3,204.8L655.9,204.3L656.4,204.6L657.0,204.8L657.6,205.1L658.2,205.5L658.8,204.9L659.3,205.4L659.9,205.4L660.5,204.9L661.1,204.6L661.6,204.8L662.2,204.8L662.8,204.3L663.4,204.5L664.0,204.3L664.5,205.2L665.1,205.1L665.7,205.1L666.3,205.2L666.8,205.5L667.4,205.2L668.0,205.7L668.6,205.3L669.2,205.3L669.7,205.3L670.3,205.8L670.9,205.7L671.5,205.7L672.1,205.9L672.6,205.3L673.2,205.2L673.8,205.5L674.4,205.4L674.9,205.4L675.5,204.8L676.1,205.4L676.7,204.8L677.3,205.0L677.8,205.0L678.4,204.8L679.0,205.4L679.6,204.7L680.1,205.0L680.7,205.6L681.3,204.8L681.9,205.5L682.5,205.7L683.0,205.8L683.6,205.5L684.2,205.6L684.8,205.7L685.3,205.9L685.9,206.0L686.5,204.7L687.1,205.1L687.7,205.0L688.2,205.2L688.8,205.6L689.4,205.1L690.0,205.8L690.5,205.5L691.1,205.4L691.7,205.7L692.3,206.2L692.9,206.1L693.4,206.7L694.0,206.8L694.6,206.0L695.2,205.5L695.7,205.4L696.3,205.5L696.9,205.4L697.5,205.7L698.1,205.7L698.6,205.7L699.2,205.3L699.8,205.3L700.4,205.3L700.9,205.5L701.5,205.6" fill="none" stroke="#ff0808" stroke-width="1.6" stroke-linejoin="round"/>
<path d="M331.2,217.9L331.8,217.1L332.4,217.3L332.9,217.2L333.5,217.7L334.1,218.3L334.7,217.9L335.3,217.2L335.9,215.8L336.5,215.3L337.1,214.9L337.6,214.5L338.2,214.7L338.8,214.5L339.4,214.1L340.0,213.9L340.6,214.2L341.2,214.2L341.8,214.7L342.3,215.1L342.9,214.6L343.5,213.9L344.1,212.4L344.7,209.1L345.3,205.7L345.9,204.6L346.5,207.1L347.0,210.8L347.6,212.9L348.2,214.4L348.8,216.1L349.4,216.3L350.0,216.9L350.6,216.6L351.2,217.5L351.7,217.7L352.3,216.6L352.9,217.7L353.5,217.6L354.1,218.0L354.7,217.7L355.3,218.3L355.9,218.7L356.4,218.4L357.0,218.2L357.6,217.9L358.2,218.1L358.8,217.6L359.4,217.4L360.0,217.9L360.6,218.1L361.1,217.3L361.7,216.5L362.3,216.1L362.9,215.2L363.5,214.2L364.1,214.3L364.7,214.9L365.3,215.1L365.8,215.9L366.4,216.7L367.0,216.5L367.6,216.6L368.2,215.8L368.8,215.2L369.4,214.1L370.0,213.5L370.5,214.0L371.1,214.5L371.7,215.7L372.3,215.6L372.9,215.6L373.5,216.9L374.1,217.5L374.7,218.2L375.2,218.0L375.8,218.2L376.4,217.4L377.0,216.8L377.6,216.6L378.2,215.5L378.8,212.9L379.4,207.4L379.9,200.9L380.5,197.0L381.1,201.5L381.7,208.2L382.3,212.8L382.9,215.4L383.5,216.5L384.1,216.1L384.6,217.5L385.2,218.1L385.8,218.3L386.4,218.5L387.0,218.6L387.6,218.2L388.2,218.4L388.8,219.3L389.3,219.5L389.9,219.2L390.5,218.3L391.1,218.7L391.7,218.9L392.3,218.5L392.9,218.3L393.5,218.4L394.0,218.9L394.6,219.6L395.2,219.2L395.8,219.6L396.4,219.7L397.0,220.0L397.6,219.1L398.2,220.0L398.7,219.5L399.3,219.1L399.9,218.6L400.5,218.4L401.1,218.7L401.7,218.5L402.3,218.6L402.9,217.8L403.4,217.6L404.0,216.9L404.6,217.0L405.2,216.9L405.8,217.6L406.4,218.2L407.0,218.5L407.6,218.0L408.1,218.6L408.7,219.0L409.3,218.7L409.9,218.3L410.5,218.1L411.1,218.5L411.7,217.8L412.3,217.4L412.8,217.3L413.4,215.8L414.0,214.7L414.6,213.5L415.2,211.7L415.8,210.9L416.4,209.4L417.0,208.7L417.5,209.8L418.1,212.3L418.7,213.5L419.3,214.8L419.9,215.9L420.5,217.3L421.1,217.6L421.7,217.7L422.3,218.2L422.8,219.1L423.4,219.4L424.0,219.5L424.6,219.4L425.2,219.0L425.8,218.6L426.4,219.2L427.0,218.8L427.5,218.9L428.1,218.9L428.7,219.1L429.3,219.1L429.9,219.4L430.5,219.8L431.1,219.7L431.7,219.6L432.2,219.8L432.8,220.2L433.4,219.8L434.0,219.5L434.6,219.8L435.2,218.7L435.8,219.2L436.4,219.4L436.9,219.5L437.5,219.7L438.1,219.3L438.7,219.8L439.3,219.9L439.9,219.9L440.5,219.6L441.1,219.4L441.6,219.6L442.2,219.4L442.8,219.0L443.4,219.0L444.0,219.4L444.6,219.2L445.2,219.2L445.8,219.3L446.3,219.2L446.9,219.9L447.5,219.7L448.1,218.9L448.7,219.2L449.3,218.6L449.9,218.2L450.5,218.1L451.0,217.5L451.6,217.0L452.2,216.3L452.8,215.4L453.4,214.8L454.0,215.3L454.6,216.5L455.2,217.1L455.7,217.0L456.3,216.6L456.9,216.7L457.5,216.6L458.1,216.0L458.7,215.8L459.3,216.0L459.9,214.8L460.4,214.0L461.0,213.6L461.6,213.1L462.2,212.5L462.8,211.1L463.4,209.6L464.0,207.9L464.6,205.0L465.1,200.6L465.7,194.2L466.3,185.3L466.9,173.5L467.5,159.3L468.1,143.5L468.7,129.3L469.3,122.1L469.8,124.3L470.4,136.4L471.0,152.2L471.6,167.0L472.2,179.0L472.8,188.8L473.4,194.6L474.0,199.7L474.5,202.4L475.1,204.2L475.7,204.7L476.3,204.8L476.9,205.0L477.5,205.3L478.1,204.2L478.7,201.8L479.2,199.7L479.8,196.0L480.4,191.0L481.0,183.7L481.6,173.0L482.2,158.9L482.8,142.9L483.4,125.0L483.9,107.5L484.5,95.7L485.1,94.1L485.7,103.5L486.3,119.5L486.9,137.5L487.5,154.4L488.1,169.1L488.6,180.5L489.2,188.2L489.8,194.3L490.4,198.4L491.0,201.1L491.6,201.9L492.2,202.1L492.8,201.7L493.3,200.5L493.9,198.7L494.5,193.8L495.1,189.3L495.7,184.4L496.3,180.1L496.9,177.4L497.5,178.7L498.0,183.0L498.6,187.6L499.2,193.7L499.8,198.9L500.4,203.9L501.0,206.8L501.6,208.5L502.2,210.1L502.7,210.9L503.3,212.4L503.9,212.2L504.5,212.5L505.1,213.7L505.7,214.0L506.3,213.8L506.9,213.6L507.4,213.5L508.0,214.1L508.6,214.4L509.2,214.9L509.8,215.1L510.4,214.8L511.0,215.0L511.6,214.9L512.1,215.1L512.7,215.1L513.3,214.6L513.9,213.8L514.5,213.9L515.1,214.7L515.7,215.5L516.3,214.8L516.9,213.7L517.4,214.3L518.0,213.7L518.6,213.3L519.2,213.0L519.8,212.9L520.4,212.5L521.0,211.7L521.6,210.6L522.1,209.9L522.7,208.0L523.3,206.9L523.9,206.4L524.5,205.4L525.1,204.9L525.7,204.6L526.3,204.8L526.8,205.2L527.4,206.1L528.0,206.2L528.6,206.6L529.2,206.6L529.8,206.2L530.4,204.1L531.0,201.6L531.5,199.1L532.1,197.2L532.7,197.6L533.3,199.2L533.9,202.2L534.5,203.7L535.1,207.2L535.7,208.5L536.2,209.1L536.8,209.7L537.4,210.2L538.0,210.1L538.6,209.5L539.2,209.4L539.8,208.2L540.4,207.7L540.9,206.1L541.5,203.9L542.1,201.5L542.7,196.9L543.3,189.8L543.9,179.7L544.5,165.8L545.1,148.6L545.6,130.3L546.2,114.6L546.8,107.1L547.4,112.7L548.0,127.7L548.6,145.4L549.2,162.7L549.8,176.2L550.3,186.3L550.9,192.5L551.5,196.1L552.1,196.8L552.7,195.5L553.3,192.1L553.9,185.8L554.5,176.2L555.0,163.3L555.6,147.1L556.2,128.9L556.8,113.8L557.4,106.7L558.0,109.5L558.6,122.2L559.2,139.8L559.7,157.4L560.3,172.3L560.9,184.2L561.5,192.5L562.1,196.9L562.7,200.2L563.3,201.1L563.9,199.7L564.4,196.3L565.0,192.9L565.6,188.6L566.2,184.8L566.8,184.3L567.4,186.0L568.0,190.5L568.6,196.0L569.1,200.6L569.7,204.6L570.3,207.1L570.9,209.4L571.5,211.0L572.1,211.6L572.7,212.0L573.3,212.5L573.8,212.8L574.4,213.0L575.0,213.5L575.6,213.0L576.2,213.4L576.8,213.3L577.4,213.9L578.0,213.7L578.5,213.7L579.1,214.0L579.7,212.7L580.3,212.2L580.9,211.4L581.5,212.0L582.1,210.3L582.7,208.7L583.2,207.6L583.8,206.0L584.4,204.5L585.0,201.6L585.6,198.1L586.2,193.2L586.8,188.2L587.4,181.0L587.9,172.4L588.5,163.2L589.1,152.2L589.7,142.5L590.3,133.4L590.9,125.3L591.5,119.7L592.1,119.1L592.6,122.0L593.2,127.9L593.8,134.7L594.4,142.3L595.0,150.1L595.6,156.6L596.2,161.7L596.8,165.6L597.3,168.5L597.9,170.1L598.5,171.2L599.1,172.9L599.7,173.8L600.3,175.0L600.9,177.1L601.5,179.1L602.0,182.2L602.6,185.0L603.2,188.5L603.8,191.4L604.4,193.3L605.0,195.6L605.6,198.8L606.2,200.0L606.8,201.7L607.3,202.8L607.9,204.6L608.5,205.5L609.1,206.0L609.7,207.1L610.3,208.4L610.9,209.4L611.5,209.7L612.0,210.5L612.6,211.9L613.2,212.2L613.8,213.1L614.4,213.6L615.0,213.9L615.6,214.7L616.2,215.9L616.7,216.4L617.3,216.9L617.9,217.2L618.5,217.4L619.1,218.6L619.7,219.5L620.3,219.0L620.9,219.2L621.4,219.8L622.0,221.0L622.6,221.6L623.2,221.4L623.8,221.1L624.4,221.6L625.0,222.1L625.6,222.0L626.1,222.3L626.7,222.2L627.3,221.6L627.9,221.8L628.5,222.4L629.1,222.1L629.7,222.1L630.3,221.8L630.8,221.0L631.4,220.6L632.0,220.7L632.6,220.9L633.2,220.6L633.8,220.5L634.4,221.2L635.0,221.0L635.5,221.0L636.1,222.2L636.7,222.1L637.3,223.5L637.9,222.7L638.5,223.6L639.1,223.8L639.7,224.4L640.2,224.6L640.8,224.5L641.4,224.1L642.0,224.2L642.6,225.0L643.2,224.6L643.8,224.5L644.4,224.7L644.9,223.9L645.5,224.7L646.1,225.1L646.7,225.5L647.3,226.3L647.9,225.4L648.5,225.5L649.1,225.8L649.6,225.8L650.2,225.9L650.8,225.6L651.4,225.7L652.0,226.3L652.6,226.4L653.2,226.2L653.8,226.6L654.3,226.3L654.9,226.6L655.5,226.5L656.1,227.4L656.7,227.4L657.3,226.7L657.9,226.1L658.5,226.4L659.0,226.2L659.6,226.1L660.2,226.7L660.8,226.8L661.4,226.4L662.0,226.1L662.6,226.3L663.2,226.2L663.7,226.8L664.3,226.5L664.9,227.5L665.5,227.8L666.1,227.2L666.7,227.0L667.3,227.0L667.9,227.2L668.4,227.2L669.0,226.8L669.6,227.2L670.2,227.5L670.8,227.4L671.4,227.3L672.0,227.3L672.6,227.3L673.1,226.8L673.7,227.6L674.3,227.9L674.9,228.4L675.5,228.4L676.1,227.9L676.7,228.0L677.3,227.9L677.8,228.0L678.4,228.6L679.0,227.9L679.6,228.5L680.2,227.6L680.8,228.2L681.4,228.0L682.0,228.2L682.5,228.1L683.1,228.2L683.7,227.9L684.3,227.9L684.9,227.8L685.5,228.3L686.1,227.8L686.7,227.7L687.2,227.5L687.8,227.7L688.4,227.8L689.0,227.8L689.6,228.4L690.2,228.5L690.8,227.9L691.4,227.6L691.9,227.6L692.5,228.3L693.1,228.4L693.7,228.5L694.3,228.7L694.9,228.3L695.5,228.2L695.5,230.4L331.2,230.4Z" fill="#fff"/>
<path d="M331.2,217.9L331.8,217.1L332.4,217.3L332.9,217.2L333.5,217.7L334.1,218.3L334.7,217.9L335.3,217.2L335.9,215.8L336.5,215.3L337.1,214.9L337.6,214.5L338.2,214.7L338.8,214.5L339.4,214.1L340.0,213.9L340.6,214.2L341.2,214.2L341.8,214.7L342.3,215.1L342.9,214.6L343.5,213.9L344.1,212.4L344.7,209.1L345.3,205.7L345.9,204.6L346.5,207.1L347.0,210.8L347.6,212.9L348.2,214.4L348.8,216.1L349.4,216.3L350.0,216.9L350.6,216.6L351.2,217.5L351.7,217.7L352.3,216.6L352.9,217.7L353.5,217.6L354.1,218.0L354.7,217.7L355.3,218.3L355.9,218.7L356.4,218.4L357.0,218.2L357.6,217.9L358.2,218.1L358.8,217.6L359.4,217.4L360.0,217.9L360.6,218.1L361.1,217.3L361.7,216.5L362.3,216.1L362.9,215.2L363.5,214.2L364.1,214.3L364.7,214.9L365.3,215.1L365.8,215.9L366.4,216.7L367.0,216.5L367.6,216.6L368.2,215.8L368.8,215.2L369.4,214.1L370.0,213.5L370.5,214.0L371.1,214.5L371.7,215.7L372.3,215.6L372.9,215.6L373.5,216.9L374.1,217.5L374.7,218.2L375.2,218.0L375.8,218.2L376.4,217.4L377.0,216.8L377.6,216.6L378.2,215.5L378.8,212.9L379.4,207.4L379.9,200.9L380.5,197.0L381.1,201.5L381.7,208.2L382.3,212.8L382.9,215.4L383.5,216.5L384.1,216.1L384.6,217.5L385.2,218.1L385.8,218.3L386.4,218.5L387.0,218.6L387.6,218.2L388.2,218.4L388.8,219.3L389.3,219.5L389.9,219.2L390.5,218.3L391.1,218.7L391.7,218.9L392.3,218.5L392.9,218.3L393.5,218.4L394.0,218.9L394.6,219.6L395.2,219.2L395.8,219.6L396.4,219.7L397.0,220.0L397.6,219.1L398.2,220.0L398.7,219.5L399.3,219.1L399.9,218.6L400.5,218.4L401.1,218.7L401.7,218.5L402.3,218.6L402.9,217.8L403.4,217.6L404.0,216.9L404.6,217.0L405.2,216.9L405.8,217.6L406.4,218.2L407.0,218.5L407.6,218.0L408.1,218.6L408.7,219.0L409.3,218.7L409.9,218.3L410.5,218.1L411.1,218.5L411.7,217.8L412.3,217.4L412.8,217.3L413.4,215.8L414.0,214.7L414.6,213.5L415.2,211.7L415.8,210.9L416.4,209.4L417.0,208.7L417.5,209.8L418.1,212.3L418.7,213.5L419.3,214.8L419.9,215.9L420.5,217.3L421.1,217.6L421.7,217.7L422.3,218.2L422.8,219.1L423.4,219.4L424.0,219.5L424.6,219.4L425.2,219.0L425.8,218.6L426.4,219.2L427.0,218.8L427.5,218.9L428.1,218.9L428.7,219.1L429.3,219.1L429.9,219.4L430.5,219.8L431.1,219.7L431.7,219.6L432.2,219.8L432.8,220.2L433.4,219.8L434.0,219.5L434.6,219.8L435.2,218.7L435.8,219.2L436.4,219.4L436.9,219.5L437.5,219.7L438.1,219.3L438.7,219.8L439.3,219.9L439.9,219.9L440.5,219.6L441.1,219.4L441.6,219.6L442.2,219.4L442.8,219.0L443.4,219.0L444.0,219.4L444.6,219.2L445.2,219.2L445.8,219.3L446.3,219.2L446.9,219.9L447.5,219.7L448.1,218.9L448.7,219.2L449.3,218.6L449.9,218.2L450.5,218.1L451.0,217.5L451.6,217.0L452.2,216.3L452.8,215.4L453.4,214.8L454.0,215.3L454.6,216.5L455.2,217.1L455.7,217.0L456.3,216.6L456.9,216.7L457.5,216.6L458.1,216.0L458.7,215.8L459.3,216.0L459.9,214.8L460.4,214.0L461.0,213.6L461.6,213.1L462.2,212.5L462.8,211.1L463.4,209.6L464.0,207.9L464.6,205.0L465.1,200.6L465.7,194.2L466.3,185.3L466.9,173.5L467.5,159.3L468.1,143.5L468.7,129.3L469.3,122.1L469.8,124.3L470.4,136.4L471.0,152.2L471.6,167.0L472.2,179.0L472.8,188.8L473.4,194.6L474.0,199.7L474.5,202.4L475.1,204.2L475.7,204.7L476.3,204.8L476.9,205.0L477.5,205.3L478.1,204.2L478.7,201.8L479.2,199.7L479.8,196.0L480.4,191.0L481.0,183.7L481.6,173.0L482.2,158.9L482.8,142.9L483.4,125.0L483.9,107.5L484.5,95.7L485.1,94.1L485.7,103.5L486.3,119.5L486.9,137.5L487.5,154.4L488.1,169.1L488.6,180.5L489.2,188.2L489.8,194.3L490.4,198.4L491.0,201.1L491.6,201.9L492.2,202.1L492.8,201.7L493.3,200.5L493.9,198.7L494.5,193.8L495.1,189.3L495.7,184.4L496.3,180.1L496.9,177.4L497.5,178.7L498.0,183.0L498.6,187.6L499.2,193.7L499.8,198.9L500.4,203.9L501.0,206.8L501.6,208.5L502.2,210.1L502.7,210.9L503.3,212.4L503.9,212.2L504.5,212.5L505.1,213.7L505.7,214.0L506.3,213.8L506.9,213.6L507.4,213.5L508.0,214.1L508.6,214.4L509.2,214.9L509.8,215.1L510.4,214.8L511.0,215.0L511.6,214.9L512.1,215.1L512.7,215.1L513.3,214.6L513.9,213.8L514.5,213.9L515.1,214.7L515.7,215.5L516.3,214.8L516.9,213.7L517.4,214.3L518.0,213.7L518.6,213.3L519.2,213.0L519.8,212.9L520.4,212.5L521.0,211.7L521.6,210.6L522.1,209.9L522.7,208.0L523.3,206.9L523.9,206.4L524.5,205.4L525.1,204.9L525.7,204.6L526.3,204.8L526.8,205.2L527.4,206.1L528.0,206.2L528.6,206.6L529.2,206.6L529.8,206.2L530.4,204.1L531.0,201.6L531.5,199.1L532.1,197.2L532.7,197.6L533.3,199.2L533.9,202.2L534.5,203.7L535.1,207.2L535.7,208.5L536.2,209.1L536.8,209.7L537.4,210.2L538.0,210.1L538.6,209.5L539.2,209.4L539.8,208.2L540.4,207.7L540.9,206.1L541.5,203.9L542.1,201.5L542.7,196.9L543.3,189.8L543.9,179.7L544.5,165.8L545.1,148.6L545.6,130.3L546.2,114.6L546.8,107.1L547.4,112.7L548.0,127.7L548.6,145.4L549.2,162.7L549.8,176.2L550.3,186.3L550.9,192.5L551.5,196.1L552.1,196.8L552.7,195.5L553.3,192.1L553.9,185.8L554.5,176.2L555.0,163.3L555.6,147.1L556.2,128.9L556.8,113.8L557.4,106.7L558.0,109.5L558.6,122.2L559.2,139.8L559.7,157.4L560.3,172.3L560.9,184.2L561.5,192.5L562.1,196.9L562.7,200.2L563.3,201.1L563.9,199.7L564.4,196.3L565.0,192.9L565.6,188.6L566.2,184.8L566.8,184.3L567.4,186.0L568.0,190.5L568.6,196.0L569.1,200.6L569.7,204.6L570.3,207.1L570.9,209.4L571.5,211.0L572.1,211.6L572.7,212.0L573.3,212.5L573.8,212.8L574.4,213.0L575.0,213.5L575.6,213.0L576.2,213.4L576.8,213.3L577.4,213.9L578.0,213.7L578.5,213.7L579.1,214.0L579.7,212.7L580.3,212.2L580.9,211.4L581.5,212.0L582.1,210.3L582.7,208.7L583.2,207.6L583.8,206.0L584.4,204.5L585.0,201.6L585.6,198.1L586.2,193.2L586.8,188.2L587.4,181.0L587.9,172.4L588.5,163.2L589.1,152.2L589.7,142.5L590.3,133.4L590.9,125.3L591.5,119.7L592.1,119.1L592.6,122.0L593.2,127.9L593.8,134.7L594.4,142.3L595.0,150.1L595.6,156.6L596.2,161.7L596.8,165.6L597.3,168.5L597.9,170.1L598.5,171.2L599.1,172.9L599.7,173.8L600.3,175.0L600.9,177.1L601.5,179.1L602.0,182.2L602.6,185.0L603.2,188.5L603.8,191.4L604.4,193.3L605.0,195.6L605.6,198.8L606.2,200.0L606.8,201.7L607.3,202.8L607.9,204.6L608.5,205.5L609.1,206.0L609.7,207.1L610.3,208.4L610.9,209.4L611.5,209.7L612.0,210.5L612.6,211.9L613.2,212.2L613.8,213.1L614.4,213.6L615.0,213.9L615.6,214.7L616.2,215.9L616.7,216.4L617.3,216.9L617.9,217.2L618.5,217.4L619.1,218.6L619.7,219.5L620.3,219.0L620.9,219.2L621.4,219.8L622.0,221.0L622.6,221.6L623.2,221.4L623.8,221.1L624.4,221.6L625.0,222.1L625.6,222.0L626.1,222.3L626.7,222.2L627.3,221.6L627.9,221.8L628.5,222.4L629.1,222.1L629.7,222.1L630.3,221.8L630.8,221.0L631.4,220.6L632.0,220.7L632.6,220.9L633.2,220.6L633.8,220.5L634.4,221.2L635.0,221.0L635.5,221.0L636.1,222.2L636.7,222.1L637.3,223.5L637.9,222.7L638.5,223.6L639.1,223.8L639.7,224.4L640.2,224.6L640.8,224.5L641.4,224.1L642.0,224.2L642.6,225.0L643.2,224.6L643.8,224.5L644.4,224.7L644.9,223.9L645.5,224.7L646.1,225.1L646.7,225.5L647.3,226.3L647.9,225.4L648.5,225.5L649.1,225.8L649.6,225.8L650.2,225.9L650.8,225.6L651.4,225.7L652.0,226.3L652.6,226.4L653.2,226.2L653.8,226.6L654.3,226.3L654.9,226.6L655.5,226.5L656.1,227.4L656.7,227.4L657.3,226.7L657.9,226.1L658.5,226.4L659.0,226.2L659.6,226.1L660.2,226.7L660.8,226.8L661.4,226.4L662.0,226.1L662.6,226.3L663.2,226.2L663.7,226.8L664.3,226.5L664.9,227.5L665.5,227.8L666.1,227.2L666.7,227.0L667.3,227.0L667.9,227.2L668.4,227.2L669.0,226.8L669.6,227.2L670.2,227.5L670.8,227.4L671.4,227.3L672.0,227.3L672.6,227.3L673.1,226.8L673.7,227.6L674.3,227.9L674.9,228.4L675.5,228.4L676.1,227.9L676.7,228.0L677.3,227.9L677.8,228.0L678.4,228.6L679.0,227.9L679.6,228.5L680.2,227.6L680.8,228.2L681.4,228.0L682.0,228.2L682.5,228.1L683.1,228.2L683.7,227.9L684.3,227.9L684.9,227.8L685.5,228.3L686.1,227.8L686.7,227.7L687.2,227.5L687.8,227.7L688.4,227.8L689.0,227.8L689.6,228.4L690.2,228.5L690.8,227.9L691.4,227.6L691.9,227.6L692.5,228.3L693.1,228.4L693.7,228.5L694.3,228.7L694.9,228.3L695.5,228.2" fill="none" stroke="#ff0808" stroke-width="1.6" stroke-linejoin="round"/>
<path d="M318.8,233.6L319.4,233.3L320.0,233.6L320.6,233.1L321.2,233.7L321.8,233.6L322.4,233.4L323.0,233.0L323.6,233.3L324.2,232.3L324.7,231.7L325.3,230.8L325.9,230.0L326.5,229.8L327.1,230.3L327.7,230.2L328.3,230.3L328.9,231.8L329.5,232.1L330.1,232.1L330.7,232.5L331.3,232.3L331.9,232.4L332.5,231.4L333.1,230.1L333.7,230.5L334.3,231.1L334.9,230.5L335.5,232.1L336.1,232.4L336.7,233.4L337.3,233.4L337.9,233.0L338.5,233.5L339.1,233.7L339.7,233.7L340.3,233.7L340.9,233.9L341.5,234.1L342.1,233.6L342.7,233.5L343.3,233.8L343.9,234.2L344.5,234.0L345.1,234.0L345.7,233.9L346.3,233.9L346.9,233.4L347.5,232.9L348.1,233.0L348.6,232.7L349.2,232.8L349.8,232.1L350.4,232.0L351.0,230.8L351.6,229.0L352.2,228.9L352.8,228.9L353.4,229.8L354.0,231.2L354.6,232.0L355.2,231.7L355.8,231.5L356.4,231.3L357.0,230.5L357.6,229.1L358.2,229.0L358.8,229.1L359.4,230.3L360.0,231.8L360.6,233.0L361.2,233.2L361.8,233.6L362.4,234.1L363.0,233.9L363.6,234.0L364.2,233.5L364.8,232.6L365.4,233.3L366.0,232.2L366.6,232.2L367.2,231.6L367.8,230.2L368.4,227.9L369.0,227.7L369.6,228.3L370.2,231.0L370.8,231.9L371.4,232.9L372.0,233.2L372.5,233.4L373.1,233.9L373.7,233.8L374.3,233.4L374.9,234.1L375.5,234.2L376.1,234.8L376.7,234.8L377.3,234.4L377.9,234.5L378.5,234.6L379.1,234.3L379.7,233.7L380.3,234.2L380.9,234.4L381.5,233.9L382.1,233.2L382.7,233.4L383.3,233.9L383.9,234.1L384.5,234.5L385.1,234.0L385.7,233.4L386.3,233.7L386.9,234.4L387.5,233.7L388.1,233.5L388.7,233.8L389.3,233.3L389.9,233.5L390.5,232.8L391.1,232.0L391.7,231.5L392.3,230.6L392.9,231.1L393.5,231.1L394.1,231.7L394.7,232.6L395.3,232.5L395.9,232.9L396.4,233.6L397.0,233.5L397.6,233.2L398.2,232.8L398.8,232.5L399.4,232.7L400.0,231.6L400.6,231.1L401.2,230.0L401.8,230.1L402.4,229.0L403.0,227.0L403.6,224.9L404.2,222.5L404.8,220.3L405.4,218.5L406.0,218.4L406.6,220.6L407.2,222.9L407.8,225.0L408.4,227.1L409.0,228.4L409.6,230.0L410.2,231.0L410.8,231.5L411.4,232.1L412.0,232.4L412.6,232.9L413.2,232.7L413.8,232.4L414.4,232.7L415.0,232.8L415.6,233.1L416.2,233.2L416.8,233.4L417.4,233.8L418.0,233.6L418.6,232.9L419.2,233.3L419.8,233.5L420.3,233.7L420.9,233.5L421.5,233.8L422.1,233.5L422.7,233.4L423.3,233.5L423.9,233.7L424.5,233.6L425.1,233.8L425.7,234.3L426.3,233.5L426.9,233.9L427.5,233.3L428.1,232.9L428.7,233.0L429.3,233.1L429.9,233.3L430.5,233.4L431.1,233.1L431.7,232.7L432.3,234.2L432.9,234.4L433.5,233.6L434.1,234.3L434.7,234.0L435.3,233.6L435.9,232.8L436.5,233.2L437.1,232.2L437.7,231.8L438.3,232.3L438.9,232.2L439.5,231.7L440.1,232.0L440.7,232.0L441.3,231.7L441.9,229.6L442.5,227.9L443.1,227.5L443.7,229.0L444.2,229.6L444.8,230.3L445.4,230.7L446.0,231.0L446.6,231.0L447.2,230.2L447.8,230.3L448.4,230.5L449.0,229.6L449.6,228.9L450.2,229.2L450.8,228.8L451.4,227.5L452.0,226.7L452.6,225.1L453.2,223.3L453.8,221.7L454.4,218.2L455.0,214.2L455.6,209.0L456.2,201.7L456.8,190.9L457.4,177.3L458.0,162.1L458.6,148.9L459.2,142.0L459.8,144.8L460.4,156.0L461.0,170.0L461.6,184.6L462.2,194.9L462.8,203.4L463.4,209.6L464.0,214.1L464.6,216.5L465.2,218.3L465.8,219.9L466.4,219.8L467.0,220.3L467.6,219.3L468.1,218.5L468.7,216.9L469.3,214.1L469.9,210.4L470.5,206.5L471.1,199.5L471.7,190.0L472.3,177.6L472.9,163.0L473.5,146.6L474.1,130.9L474.7,119.4L475.3,118.3L475.9,127.0L476.5,142.1L477.1,158.7L477.7,174.4L478.3,186.9L478.9,196.5L479.5,204.6L480.1,209.5L480.7,213.1L481.3,215.7L481.9,216.9L482.5,216.7L483.1,216.2L483.7,215.8L484.3,214.5L484.9,210.8L485.5,206.8L486.1,202.7L486.7,198.7L487.3,196.6L487.9,198.1L488.5,201.4L489.1,206.0L489.7,210.5L490.3,215.5L490.9,219.1L491.4,221.6L492.0,223.4L492.6,224.9L493.2,224.9L493.8,225.6L494.4,225.4L495.0,226.1L495.6,226.4L496.2,226.6L496.8,226.7L497.4,226.8L498.0,227.6L498.6,227.2L499.2,227.0L499.8,226.6L500.4,227.4L501.0,227.2L501.6,227.4L502.2,227.6L502.8,227.6L503.4,227.9L504.0,227.6L504.6,227.6L505.2,227.6L505.8,227.5L506.4,226.8L507.0,226.5L507.6,226.3L508.2,226.2L508.8,226.4L509.4,226.4L510.0,226.6L510.6,225.5L511.2,224.6L511.8,224.0L512.4,222.7L513.0,221.6L513.6,221.0L514.2,219.7L514.8,218.5L515.3,218.4L515.9,217.0L516.5,217.0L517.1,217.1L517.7,218.5L518.3,218.6L518.9,220.3L519.5,220.4L520.1,219.2L520.7,218.6L521.3,216.8L521.9,214.4L522.5,213.1L523.1,211.1L523.7,210.4L524.3,212.2L524.9,214.1L525.5,217.4L526.1,220.0L526.7,221.1L527.3,221.8L527.9,221.9L528.5,221.8L529.1,222.1L529.7,221.9L530.3,221.5L530.9,220.9L531.5,220.6L532.1,218.4L532.7,217.0L533.3,214.3L533.9,210.3L534.5,203.2L535.1,193.0L535.7,180.2L536.3,164.5L536.9,147.7L537.5,132.5L538.1,126.5L538.7,130.9L539.2,144.5L539.8,161.3L540.4,177.4L541.0,189.4L541.6,199.2L542.2,204.2L542.8,207.8L543.4,207.8L544.0,205.6L544.6,200.9L545.2,192.4L545.8,180.9L546.4,165.3L547.0,145.2L547.6,124.1L548.2,105.0L548.8,96.2L549.4,101.2L550.0,116.0L550.6,137.0L551.2,157.4L551.8,175.8L552.4,189.7L553.0,199.9L553.6,206.1L554.2,209.0L554.8,210.1L555.4,209.5L556.0,207.2L556.6,203.9L557.2,199.7L557.8,197.1L558.4,197.0L559.0,198.9L559.6,202.9L560.2,207.8L560.8,212.5L561.4,216.6L562.0,219.5L562.6,221.4L563.1,222.0L563.7,222.8L564.3,223.0L564.9,223.8L565.5,223.8L566.1,223.9L566.7,224.4L567.3,224.4L567.9,224.3L568.5,225.3L569.1,224.4L569.7,224.5L570.3,224.3L570.9,224.2L571.5,224.3L572.1,223.5L572.7,223.2L573.3,222.7L573.9,222.0L574.5,221.1L575.1,219.6L575.7,218.3L576.3,216.9L576.9,214.3L577.5,211.1L578.1,207.0L578.7,200.8L579.3,195.0L579.9,188.1L580.5,179.3L581.1,170.3L581.7,160.5L582.3,152.4L582.9,145.6L583.5,141.1L584.1,139.6L584.7,142.0L585.3,147.1L585.9,153.7L586.5,160.7L587.0,167.4L587.6,173.0L588.2,177.5L588.8,181.0L589.4,183.2L590.0,184.5L590.6,185.4L591.2,186.4L591.8,187.2L592.4,187.9L593.0,190.3L593.6,192.7L594.2,194.3L594.8,197.0L595.4,199.7L596.0,202.9L596.6,204.8L597.2,207.5L597.8,209.5L598.4,211.3L599.0,212.9L599.6,214.0L600.2,215.0L600.8,215.8L601.4,217.5L602.0,219.0L602.6,220.3L603.2,220.0L603.8,220.6L604.4,221.9L605.0,223.2L605.6,223.7L606.2,223.8L606.8,224.2L607.4,225.1L608.0,225.9L608.6,226.6L609.2,226.6L609.8,226.9L610.4,228.0L610.9,228.7L611.5,228.8L612.1,229.1L612.7,229.5L613.3,230.1L613.9,230.1L614.5,230.0L615.1,230.6L615.7,231.3L616.3,231.4L616.9,231.6L617.5,231.9L618.1,232.0L618.7,231.8L619.3,231.7L619.9,231.7L620.5,231.7L621.1,231.6L621.7,231.4L622.3,231.1L622.9,231.3L623.5,231.2L624.1,230.7L624.7,229.7L625.3,230.7L625.9,230.3L626.5,230.5L627.1,230.1L627.7,230.3L628.3,230.7L628.9,230.9L629.5,232.1L630.1,232.3L630.7,232.2L631.3,233.2L631.9,234.0L632.5,233.6L633.1,234.0L633.7,234.6L634.3,234.5L634.8,233.9L635.4,233.7L636.0,234.4L636.6,234.3L637.2,235.0L637.8,234.8L638.4,235.1L639.0,235.2L639.6,234.9L640.2,235.4L640.8,234.4L641.4,234.8L642.0,235.3L642.6,234.5L643.2,235.1L643.8,235.3L644.4,235.4L645.0,235.1L645.6,234.6L646.2,234.6L646.8,235.0L647.4,235.7L648.0,234.8L648.6,235.2L649.2,235.1L649.8,235.1L650.4,235.2L651.0,235.6L651.6,235.3L652.2,235.2L652.8,235.8L653.4,235.7L654.0,235.1L654.6,235.5L655.2,235.1L655.8,235.6L656.4,236.2L657.0,236.2L657.6,236.0L658.2,236.1L658.7,236.2L659.3,235.4L659.9,235.3L660.5,235.2L661.1,235.9L661.7,235.2L662.3,234.9L662.9,234.9L663.5,234.9L664.1,235.3L664.7,235.5L665.3,235.7L665.9,236.6L666.5,236.2L667.1,235.0L667.7,235.5L668.3,235.9L668.9,236.3L669.5,236.2L670.1,236.2L670.7,235.7L671.3,236.1L671.9,236.3L672.5,236.5L673.1,237.3L673.7,236.6L674.3,235.9L674.9,235.9L675.5,235.2L676.1,235.7L676.7,236.3L677.3,236.2L677.9,236.0L678.5,235.8L679.1,236.6L679.7,236.0L680.3,236.2L680.9,236.4L681.5,236.3L682.1,237.0L682.6,237.1L683.2,236.5L683.8,235.9L684.4,236.1L685.0,235.5L685.6,235.8L686.2,236.4L686.8,236.4L687.4,236.4L688.0,236.4L688.6,236.6L689.2,236.3L689.2,244.8L318.8,244.8Z" fill="#fff"/>
<path d="M318.8,233.6L319.4,233.3L320.0,233.6L320.6,233.1L321.2,233.7L321.8,233.6L322.4,233.4L323.0,233.0L323.6,233.3L324.2,232.3L324.7,231.7L325.3,230.8L325.9,230.0L326.5,229.8L327.1,230.3L327.7,230.2L328.3,230.3L328.9,231.8L329.5,232.1L330.1,232.1L330.7,232.5L331.3,232.3L331.9,232.4L332.5,231.4L333.1,230.1L333.7,230.5L334.3,231.1L334.9,230.5L335.5,232.1L336.1,232.4L336.7,233.4L337.3,233.4L337.9,233.0L338.5,233.5L339.1,233.7L339.7,233.7L340.3,233.7L340.9,233.9L341.5,234.1L342.1,233.6L342.7,233.5L343.3,233.8L343.9,234.2L344.5,234.0L345.1,234.0L345.7,233.9L346.3,233.9L346.9,233.4L347.5,232.9L348.1,233.0L348.6,232.7L349.2,232.8L349.8,232.1L350.4,232.0L351.0,230.8L351.6,229.0L352.2,228.9L352.8,228.9L353.4,229.8L354.0,231.2L354.6,232.0L355.2,231.7L355.8,231.5L356.4,231.3L357.0,230.5L357.6,229.1L358.2,229.0L358.8,229.1L359.4,230.3L360.0,231.8L360.6,233.0L361.2,233.2L361.8,233.6L362.4,234.1L363.0,233.9L363.6,234.0L364.2,233.5L364.8,232.6L365.4,233.3L366.0,232.2L366.6,232.2L367.2,231.6L367.8,230.2L368.4,227.9L369.0,227.7L369.6,228.3L370.2,231.0L370.8,231.9L371.4,232.9L372.0,233.2L372.5,233.4L373.1,233.9L373.7,233.8L374.3,233.4L374.9,234.1L375.5,234.2L376.1,234.8L376.7,234.8L377.3,234.4L377.9,234.5L378.5,234.6L379.1,234.3L379.7,233.7L380.3,234.2L380.9,234.4L381.5,233.9L382.1,233.2L382.7,233.4L383.3,233.9L383.9,234.1L384.5,234.5L385.1,234.0L385.7,233.4L386.3,233.7L386.9,234.4L387.5,233.7L388.1,233.5L388.7,233.8L389.3,233.3L389.9,233.5L390.5,232.8L391.1,232.0L391.7,231.5L392.3,230.6L392.9,231.1L393.5,231.1L394.1,231.7L394.7,232.6L395.3,232.5L395.9,232.9L396.4,233.6L397.0,233.5L397.6,233.2L398.2,232.8L398.8,232.5L399.4,232.7L400.0,231.6L400.6,231.1L401.2,230.0L401.8,230.1L402.4,229.0L403.0,227.0L403.6,224.9L404.2,222.5L404.8,220.3L405.4,218.5L406.0,218.4L406.6,220.6L407.2,222.9L407.8,225.0L408.4,227.1L409.0,228.4L409.6,230.0L410.2,231.0L410.8,231.5L411.4,232.1L412.0,232.4L412.6,232.9L413.2,232.7L413.8,232.4L414.4,232.7L415.0,232.8L415.6,233.1L416.2,233.2L416.8,233.4L417.4,233.8L418.0,233.6L418.6,232.9L419.2,233.3L419.8,233.5L420.3,233.7L420.9,233.5L421.5,233.8L422.1,233.5L422.7,233.4L423.3,233.5L423.9,233.7L424.5,233.6L425.1,233.8L425.7,234.3L426.3,233.5L426.9,233.9L427.5,233.3L428.1,232.9L428.7,233.0L429.3,233.1L429.9,233.3L430.5,233.4L431.1,233.1L431.7,232.7L432.3,234.2L432.9,234.4L433.5,233.6L434.1,234.3L434.7,234.0L435.3,233.6L435.9,232.8L436.5,233.2L437.1,232.2L437.7,231.8L438.3,232.3L438.9,232.2L439.5,231.7L440.1,232.0L440.7,232.0L441.3,231.7L441.9,229.6L442.5,227.9L443.1,227.5L443.7,229.0L444.2,229.6L444.8,230.3L445.4,230.7L446.0,231.0L446.6,231.0L447.2,230.2L447.8,230.3L448.4,230.5L449.0,229.6L449.6,228.9L450.2,229.2L450.8,228.8L451.4,227.5L452.0,226.7L452.6,225.1L453.2,223.3L453.8,221.7L454.4,218.2L455.0,214.2L455.6,209.0L456.2,201.7L456.8,190.9L457.4,177.3L458.0,162.1L458.6,148.9L459.2,142.0L459.8,144.8L460.4,156.0L461.0,170.0L461.6,184.6L462.2,194.9L462.8,203.4L463.4,209.6L464.0,214.1L464.6,216.5L465.2,218.3L465.8,219.9L466.4,219.8L467.0,220.3L467.6,219.3L468.1,218.5L468.7,216.9L469.3,214.1L469.9,210.4L470.5,206.5L471.1,199.5L471.7,190.0L472.3,177.6L472.9,163.0L473.5,146.6L474.1,130.9L474.7,119.4L475.3,118.3L475.9,127.0L476.5,142.1L477.1,158.7L477.7,174.4L478.3,186.9L478.9,196.5L479.5,204.6L480.1,209.5L480.7,213.1L481.3,215.7L481.9,216.9L482.5,216.7L483.1,216.2L483.7,215.8L484.3,214.5L484.9,210.8L485.5,206.8L486.1,202.7L486.7,198.7L487.3,196.6L487.9,198.1L488.5,201.4L489.1,206.0L489.7,210.5L490.3,215.5L490.9,219.1L491.4,221.6L492.0,223.4L492.6,224.9L493.2,224.9L493.8,225.6L494.4,225.4L495.0,226.1L495.6,226.4L496.2,226.6L496.8,226.7L497.4,226.8L498.0,227.6L498.6,227.2L499.2,227.0L499.8,226.6L500.4,227.4L501.0,227.2L501.6,227.4L502.2,227.6L502.8,227.6L503.4,227.9L504.0,227.6L504.6,227.6L505.2,227.6L505.8,227.5L506.4,226.8L507.0,226.5L507.6,226.3L508.2,226.2L508.8,226.4L509.4,226.4L510.0,226.6L510.6,225.5L511.2,224.6L511.8,224.0L512.4,222.7L513.0,221.6L513.6,221.0L514.2,219.7L514.8,218.5L515.3,218.4L515.9,217.0L516.5,217.0L517.1,217.1L517.7,218.5L518.3,218.6L518.9,220.3L519.5,220.4L520.1,219.2L520.7,218.6L521.3,216.8L521.9,214.4L522.5,213.1L523.1,211.1L523.7,210.4L524.3,212.2L524.9,214.1L525.5,217.4L526.1,220.0L526.7,221.1L527.3,221.8L527.9,221.9L528.5,221.8L529.1,222.1L529.7,221.9L530.3,221.5L530.9,220.9L531.5,220.6L532.1,218.4L532.7,217.0L533.3,214.3L533.9,210.3L534.5,203.2L535.1,193.0L535.7,180.2L536.3,164.5L536.9,147.7L537.5,132.5L538.1,126.5L538.7,130.9L539.2,144.5L539.8,161.3L540.4,177.4L541.0,189.4L541.6,199.2L542.2,204.2L542.8,207.8L543.4,207.8L544.0,205.6L544.6,200.9L545.2,192.4L545.8,180.9L546.4,165.3L547.0,145.2L547.6,124.1L548.2,105.0L548.8,96.2L549.4,101.2L550.0,116.0L550.6,137.0L551.2,157.4L551.8,175.8L552.4,189.7L553.0,199.9L553.6,206.1L554.2,209.0L554.8,210.1L555.4,209.5L556.0,207.2L556.6,203.9L557.2,199.7L557.8,197.1L558.4,197.0L559.0,198.9L559.6,202.9L560.2,207.8L560.8,212.5L561.4,216.6L562.0,219.5L562.6,221.4L563.1,222.0L563.7,222.8L564.3,223.0L564.9,223.8L565.5,223.8L566.1,223.9L566.7,224.4L567.3,224.4L567.9,224.3L568.5,225.3L569.1,224.4L569.7,224.5L570.3,224.3L570.9,224.2L571.5,224.3L572.1,223.5L572.7,223.2L573.3,222.7L573.9,222.0L574.5,221.1L575.1,219.6L575.7,218.3L576.3,216.9L576.9,214.3L577.5,211.1L578.1,207.0L578.7,200.8L579.3,195.0L579.9,188.1L580.5,179.3L581.1,170.3L581.7,160.5L582.3,152.4L582.9,145.6L583.5,141.1L584.1,139.6L584.7,142.0L585.3,147.1L585.9,153.7L586.5,160.7L587.0,167.4L587.6,173.0L588.2,177.5L588.8,181.0L589.4,183.2L590.0,184.5L590.6,185.4L591.2,186.4L591.8,187.2L592.4,187.9L593.0,190.3L593.6,192.7L594.2,194.3L594.8,197.0L595.4,199.7L596.0,202.9L596.6,204.8L597.2,207.5L597.8,209.5L598.4,211.3L599.0,212.9L599.6,214.0L600.2,215.0L600.8,215.8L601.4,217.5L602.0,219.0L602.6,220.3L603.2,220.0L603.8,220.6L604.4,221.9L605.0,223.2L605.6,223.7L606.2,223.8L606.8,224.2L607.4,225.1L608.0,225.9L608.6,226.6L609.2,226.6L609.8,226.9L610.4,228.0L610.9,228.7L611.5,228.8L612.1,229.1L612.7,229.5L613.3,230.1L613.9,230.1L614.5,230.0L615.1,230.6L615.7,231.3L616.3,231.4L616.9,231.6L617.5,231.9L618.1,232.0L618.7,231.8L619.3,231.7L619.9,231.7L620.5,231.7L621.1,231.6L621.7,231.4L622.3,231.1L622.9,231.3L623.5,231.2L624.1,230.7L624.7,229.7L625.3,230.7L625.9,230.3L626.5,230.5L627.1,230.1L627.7,230.3L628.3,230.7L628.9,230.9L629.5,232.1L630.1,232.3L630.7,232.2L631.3,233.2L631.9,234.0L632.5,233.6L633.1,234.0L633.7,234.6L634.3,234.5L634.8,233.9L635.4,233.7L636.0,234.4L636.6,234.3L637.2,235.0L637.8,234.8L638.4,235.1L639.0,235.2L639.6,234.9L640.2,235.4L640.8,234.4L641.4,234.8L642.0,235.3L642.6,234.5L643.2,235.1L643.8,235.3L644.4,235.4L645.0,235.1L645.6,234.6L646.2,234.6L646.8,235.0L647.4,235.7L648.0,234.8L648.6,235.2L649.2,235.1L649.8,235.1L650.4,235.2L651.0,235.6L651.6,235.3L652.2,235.2L652.8,235.8L653.4,235.7L654.0,235.1L654.6,235.5L655.2,235.1L655.8,235.6L656.4,236.2L657.0,236.2L657.6,236.0L658.2,236.1L658.7,236.2L659.3,235.4L659.9,235.3L660.5,235.2L661.1,235.9L661.7,235.2L662.3,234.9L662.9,234.9L663.5,234.9L664.1,235.3L664.7,235.5L665.3,235.7L665.9,236.6L666.5,236.2L667.1,235.0L667.7,235.5L668.3,235.9L668.9,236.3L669.5,236.2L670.1,236.2L670.7,235.7L671.3,236.1L671.9,236.3L672.5,236.5L673.1,237.3L673.7,236.6L674.3,235.9L674.9,235.9L675.5,235.2L676.1,235.7L676.7,236.3L677.3,236.2L677.9,236.0L678.5,235.8L679.1,236.6L679.7,236.0L680.3,236.2L680.9,236.4L681.5,236.3L682.1,237.0L682.6,237.1L683.2,236.5L683.8,235.9L684.4,236.1L685.0,235.5L685.6,235.8L686.2,236.4L686.8,236.4L687.4,236.4L688.0,236.4L688.6,236.6L689.2,236.3" fill="none" stroke="#ff0808" stroke-width="1.6" stroke-linejoin="round"/>
<path d="M306.0,245.8L306.6,245.1L307.2,245.8L307.8,245.9L308.4,246.0L309.0,245.4L309.6,245.6L310.2,245.4L310.8,245.4L311.4,244.6L312.0,245.0L312.6,244.6L313.2,243.3L313.9,242.6L314.5,242.8L315.1,242.6L315.7,242.6L316.3,243.5L316.9,243.3L317.5,243.1L318.1,243.9L318.7,244.2L319.3,244.5L319.9,243.0L320.5,242.3L321.1,242.1L321.8,242.7L322.4,243.0L323.0,243.5L323.6,244.8L324.2,245.0L324.8,245.4L325.4,245.4L326.0,245.8L326.6,245.5L327.2,246.1L327.8,245.7L328.4,246.0L329.0,245.4L329.7,245.9L330.3,246.0L330.9,245.7L331.5,245.8L332.1,246.2L332.7,246.6L333.3,246.1L333.9,245.9L334.5,245.3L335.1,245.2L335.7,244.6L336.3,244.5L336.9,243.8L337.6,243.8L338.2,243.2L338.8,242.5L339.4,242.1L340.0,241.2L340.6,241.8L341.2,241.9L341.8,242.1L342.4,243.5L343.0,243.9L343.6,244.4L344.2,245.3L344.8,244.9L345.5,245.0L346.1,244.6L346.7,244.3L347.3,244.9L347.9,245.2L348.5,245.7L349.1,245.9L349.7,246.2L350.3,245.4L350.9,245.0L351.5,245.2L352.1,244.5L352.8,244.7L353.4,244.2L354.0,243.5L354.6,242.9L355.2,240.8L355.8,236.6L356.4,232.1L357.0,230.0L357.6,233.2L358.2,238.3L358.8,241.6L359.4,243.6L360.0,243.7L360.7,244.2L361.3,244.6L361.9,245.5L362.5,245.7L363.1,246.3L363.7,246.1L364.3,246.9L364.9,246.7L365.5,246.1L366.1,246.2L366.7,246.0L367.3,246.5L367.9,246.4L368.6,245.8L369.2,246.1L369.8,246.2L370.4,246.2L371.0,245.4L371.6,245.1L372.2,245.4L372.8,245.3L373.4,245.5L374.0,246.0L374.6,245.2L375.2,244.7L375.8,244.7L376.5,245.2L377.1,245.4L377.7,245.0L378.3,244.5L378.9,244.2L379.5,243.9L380.1,243.1L380.7,243.1L381.3,243.0L381.9,242.7L382.5,242.7L383.1,242.9L383.7,243.2L384.4,243.9L385.0,244.1L385.6,244.2L386.2,244.5L386.8,244.7L387.4,244.6L388.0,244.5L388.6,244.1L389.2,243.7L389.8,242.3L390.4,240.9L391.0,240.9L391.6,238.8L392.3,236.5L392.9,234.7L393.5,232.9L394.1,231.9L394.7,231.8L395.3,233.0L395.9,235.1L396.5,237.1L397.1,238.7L397.7,240.1L398.3,242.1L398.9,243.3L399.5,244.3L400.2,244.3L400.8,244.3L401.4,244.7L402.0,244.5L402.6,245.1L403.2,244.4L403.8,244.7L404.4,244.3L405.0,244.4L405.6,244.6L406.2,244.2L406.8,244.7L407.4,244.7L408.1,245.0L408.7,245.3L409.3,246.3L409.9,245.4L410.5,245.3L411.1,244.3L411.7,244.6L412.3,244.8L412.9,245.6L413.5,245.2L414.1,244.8L414.7,244.7L415.3,244.3L416.0,244.2L416.6,244.8L417.2,244.4L417.8,244.8L418.4,245.2L419.0,245.2L419.6,245.6L420.2,245.1L420.8,245.0L421.4,245.2L422.0,245.2L422.6,244.7L423.2,244.6L423.9,243.9L424.5,243.7L425.1,243.4L425.7,244.0L426.3,244.0L426.9,244.0L427.5,243.4L428.1,243.2L428.7,243.8L429.3,243.4L429.9,243.0L430.5,242.6L431.1,241.1L431.8,239.8L432.4,239.3L433.0,240.3L433.6,241.8L434.2,241.7L434.8,242.5L435.4,242.5L436.0,242.1L436.6,241.7L437.2,241.0L437.8,240.7L438.4,240.1L439.0,240.0L439.7,238.7L440.3,238.9L440.9,238.1L441.5,236.8L442.1,235.6L442.7,235.0L443.3,232.7L443.9,229.8L444.5,225.2L445.1,219.0L445.7,210.1L446.3,198.5L447.0,184.2L447.6,168.2L448.2,154.2L448.8,147.1L449.4,150.6L450.0,162.3L450.6,177.9L451.2,191.9L451.8,203.6L452.4,213.3L453.0,219.5L453.6,223.8L454.2,226.4L454.9,228.6L455.5,229.6L456.1,229.9L456.7,230.9L457.3,230.4L457.9,229.4L458.5,227.1L459.1,224.9L459.7,221.2L460.3,215.8L460.9,208.1L461.5,198.0L462.1,185.3L462.8,169.2L463.4,151.2L464.0,135.1L464.6,123.8L465.2,121.7L465.8,130.3L466.4,146.3L467.0,163.8L467.6,180.3L468.2,194.7L468.8,205.6L469.4,213.4L470.0,218.8L470.7,222.6L471.3,224.5L471.9,226.2L472.5,227.1L473.1,226.6L473.7,225.4L474.3,223.0L474.9,219.2L475.5,215.3L476.1,209.4L476.7,204.5L477.3,201.6L477.9,203.0L478.6,206.8L479.2,212.8L479.8,218.2L480.4,222.9L481.0,227.0L481.6,230.5L482.2,231.8L482.8,233.9L483.4,234.0L484.0,234.9L484.6,235.8L485.2,236.1L485.8,237.1L486.5,237.8L487.1,237.6L487.7,237.6L488.3,237.2L488.9,238.2L489.5,238.2L490.1,238.7L490.7,238.2L491.3,238.5L491.9,237.8L492.5,237.8L493.1,236.6L493.7,237.3L494.4,237.3L495.0,237.7L495.6,237.9L496.2,238.3L496.8,237.4L497.4,236.7L498.0,237.2L498.6,236.7L499.2,236.5L499.8,236.1L500.4,235.8L501.0,235.1L501.6,235.1L502.3,235.1L502.9,234.6L503.5,233.3L504.1,231.7L504.7,230.1L505.3,228.9L505.9,227.2L506.5,226.4L507.1,226.3L507.7,226.6L508.3,227.4L508.9,228.9L509.5,228.8L510.2,230.0L510.8,229.7L511.4,228.7L512.0,226.1L512.6,224.1L513.2,221.3L513.8,220.5L514.4,219.7L515.0,221.7L515.6,224.1L516.2,227.6L516.8,229.9L517.4,232.3L518.1,232.5L518.7,233.2L519.3,232.5L519.9,232.4L520.5,232.2L521.1,232.0L521.7,231.0L522.3,230.5L522.9,229.2L523.5,227.2L524.1,224.3L524.7,219.3L525.3,212.1L526.0,201.8L526.6,188.0L527.2,169.9L527.8,151.8L528.4,136.7L529.0,129.8L529.6,134.9L530.2,149.3L530.8,167.1L531.4,184.0L532.0,198.3L532.6,207.8L533.3,213.7L533.9,217.6L534.5,218.4L535.1,216.1L535.7,211.9L536.3,204.0L536.9,192.4L537.5,177.2L538.1,158.3L538.7,138.8L539.3,121.6L539.9,112.5L540.5,116.0L541.2,130.7L541.8,150.7L542.4,171.1L543.0,188.2L543.6,201.4L544.2,210.5L544.8,217.1L545.4,220.3L546.0,220.4L546.6,220.4L547.2,218.4L547.8,214.9L548.4,211.1L549.1,207.9L549.7,206.6L550.3,209.3L550.9,214.0L551.5,218.3L552.1,222.4L552.7,226.4L553.3,229.1L553.9,231.3L554.5,232.7L555.1,233.6L555.7,233.8L556.3,234.0L557.0,233.6L557.6,233.5L558.2,233.7L558.8,234.1L559.4,234.0L560.0,234.3L560.6,234.3L561.2,234.1L561.8,234.1L562.4,233.9L563.0,234.1L563.6,232.7L564.2,232.7L564.9,232.2L565.5,232.0L566.1,230.2L566.7,228.8L567.3,226.8L567.9,225.0L568.5,222.8L569.1,218.7L569.7,213.6L570.3,208.0L570.9,200.7L571.5,192.1L572.1,182.6L572.8,172.5L573.4,162.6L574.0,152.5L574.6,144.6L575.2,139.5L575.8,138.3L576.4,141.3L577.0,147.7L577.6,155.3L578.2,163.4L578.8,170.8L579.4,177.5L580.0,183.0L580.7,187.2L581.3,190.1L581.9,192.3L582.5,193.5L583.1,194.1L583.7,196.2L584.3,197.4L584.9,199.9L585.5,201.6L586.1,204.6L586.7,207.2L587.3,210.3L587.9,213.3L588.6,215.1L589.2,217.8L589.8,219.1L590.4,221.3L591.0,223.1L591.6,224.4L592.2,225.5L592.8,226.8L593.4,227.4L594.0,229.1L594.6,229.2L595.2,229.9L595.8,230.7L596.5,231.7L597.1,232.1L597.7,232.8L598.3,233.2L598.9,234.2L599.5,234.9L600.1,235.2L600.7,235.6L601.3,236.6L601.9,237.2L602.5,237.7L603.1,238.2L603.7,238.7L604.4,238.7L605.0,239.2L605.6,239.6L606.2,240.0L606.8,239.8L607.4,240.2L608.0,240.8L608.6,241.0L609.2,241.5L609.8,241.5L610.4,242.1L611.0,242.4L611.6,242.1L612.3,242.2L612.9,242.0L613.5,242.2L614.1,241.5L614.7,241.2L615.3,240.2L615.9,240.7L616.5,240.5L617.1,240.6L617.7,241.0L618.3,240.3L618.9,240.7L619.5,240.9L620.2,241.6L620.8,241.7L621.4,242.3L622.0,242.6L622.6,243.1L623.2,244.0L623.8,243.9L624.4,243.9L625.0,245.0L625.6,243.8L626.2,244.0L626.8,244.4L627.5,243.9L628.1,244.0L628.7,244.7L629.3,244.6L629.9,244.2L630.5,244.2L631.1,244.7L631.7,245.0L632.3,244.7L632.9,244.7L633.5,245.1L634.1,245.1L634.7,244.6L635.4,245.0L636.0,245.9L636.6,246.0L637.2,245.6L637.8,245.7L638.4,245.9L639.0,245.5L639.6,245.3L640.2,245.5L640.8,245.1L641.4,245.9L642.0,245.4L642.6,245.7L643.3,245.6L643.9,245.5L644.5,244.8L645.1,245.5L645.7,245.2L646.3,245.2L646.9,245.7L647.5,245.6L648.1,245.7L648.7,246.3L649.3,245.8L649.9,246.0L650.5,246.0L651.2,246.2L651.8,246.2L652.4,246.3L653.0,246.1L653.6,246.2L654.2,245.8L654.8,246.2L655.4,246.1L656.0,245.4L656.6,246.0L657.2,246.0L657.8,245.9L658.4,246.4L659.1,246.6L659.7,246.2L660.3,246.8L660.9,246.9L661.5,246.6L662.1,246.6L662.7,247.2L663.3,246.3L663.9,246.7L664.5,246.3L665.1,246.6L665.7,246.4L666.3,246.2L667.0,245.8L667.6,246.1L668.2,246.2L668.8,246.0L669.4,245.9L670.0,245.9L670.6,246.3L671.2,246.5L671.8,246.8L672.4,247.2L673.0,247.0L673.6,246.9L674.2,246.7L674.9,246.2L675.5,246.3L676.1,246.2L676.7,246.0L677.3,246.5L677.9,246.3L678.5,245.9L679.1,246.7L679.7,247.3L680.3,246.6L680.9,246.5L681.5,246.8L682.1,246.5L682.8,246.8L682.8,259.8L306.0,259.8Z" fill="#fff"/>
<path d="M306.0,245.8L306.6,245.1L307.2,245.8L307.8,245.9L308.4,246.0L309.0,245.4L309.6,245.6L310.2,245.4L310.8,245.4L311.4,244.6L312.0,245.0L312.6,244.6L313.2,243.3L313.9,242.6L314.5,242.8L315.1,242.6L315.7,242.6L316.3,243.5L316.9,243.3L317.5,243.1L318.1,243.9L318.7,244.2L319.3,244.5L319.9,243.0L320.5,242.3L321.1,242.1L321.8,242.7L322.4,243.0L323.0,243.5L323.6,244.8L324.2,245.0L324.8,245.4L325.4,245.4L326.0,245.8L326.6,245.5L327.2,246.1L327.8,245.7L328.4,246.0L329.0,245.4L329.7,245.9L330.3,246.0L330.9,245.7L331.5,245.8L332.1,246.2L332.7,246.6L333.3,246.1L333.9,245.9L334.5,245.3L335.1,245.2L335.7,244.6L336.3,244.5L336.9,243.8L337.6,243.8L338.2,243.2L338.8,242.5L339.4,242.1L340.0,241.2L340.6,241.8L341.2,241.9L341.8,242.1L342.4,243.5L343.0,243.9L343.6,244.4L344.2,245.3L344.8,244.9L345.5,245.0L346.1,244.6L346.7,244.3L347.3,244.9L347.9,245.2L348.5,245.7L349.1,245.9L349.7,246.2L350.3,245.4L350.9,245.0L351.5,245.2L352.1,244.5L352.8,244.7L353.4,244.2L354.0,243.5L354.6,242.9L355.2,240.8L355.8,236.6L356.4,232.1L357.0,230.0L357.6,233.2L358.2,238.3L358.8,241.6L359.4,243.6L360.0,243.7L360.7,244.2L361.3,244.6L361.9,245.5L362.5,245.7L363.1,246.3L363.7,246.1L364.3,246.9L364.9,246.7L365.5,246.1L366.1,246.2L366.7,246.0L367.3,246.5L367.9,246.4L368.6,245.8L369.2,246.1L369.8,246.2L370.4,246.2L371.0,245.4L371.6,245.1L372.2,245.4L372.8,245.3L373.4,245.5L374.0,246.0L374.6,245.2L375.2,244.7L375.8,244.7L376.5,245.2L377.1,245.4L377.7,245.0L378.3,244.5L378.9,244.2L379.5,243.9L380.1,243.1L380.7,243.1L381.3,243.0L381.9,242.7L382.5,242.7L383.1,242.9L383.7,243.2L384.4,243.9L385.0,244.1L385.6,244.2L386.2,244.5L386.8,244.7L387.4,244.6L388.0,244.5L388.6,244.1L389.2,243.7L389.8,242.3L390.4,240.9L391.0,240.9L391.6,238.8L392.3,236.5L392.9,234.7L393.5,232.9L394.1,231.9L394.7,231.8L395.3,233.0L395.9,235.1L396.5,237.1L397.1,238.7L397.7,240.1L398.3,242.1L398.9,243.3L399.5,244.3L400.2,244.3L400.8,244.3L401.4,244.7L402.0,244.5L402.6,245.1L403.2,244.4L403.8,244.7L404.4,244.3L405.0,244.4L405.6,244.6L406.2,244.2L406.8,244.7L407.4,244.7L408.1,245.0L408.7,245.3L409.3,246.3L409.9,245.4L410.5,245.3L411.1,244.3L411.7,244.6L412.3,244.8L412.9,245.6L413.5,245.2L414.1,244.8L414.7,244.7L415.3,244.3L416.0,244.2L416.6,244.8L417.2,244.4L417.8,244.8L418.4,245.2L419.0,245.2L419.6,245.6L420.2,245.1L420.8,245.0L421.4,245.2L422.0,245.2L422.6,244.7L423.2,244.6L423.9,243.9L424.5,243.7L425.1,243.4L425.7,244.0L426.3,244.0L426.9,244.0L427.5,243.4L428.1,243.2L428.7,243.8L429.3,243.4L429.9,243.0L430.5,242.6L431.1,241.1L431.8,239.8L432.4,239.3L433.0,240.3L433.6,241.8L434.2,241.7L434.8,242.5L435.4,242.5L436.0,242.1L436.6,241.7L437.2,241.0L437.8,240.7L438.4,240.1L439.0,240.0L439.7,238.7L440.3,238.9L440.9,238.1L441.5,236.8L442.1,235.6L442.7,235.0L443.3,232.7L443.9,229.8L444.5,225.2L445.1,219.0L445.7,210.1L446.3,198.5L447.0,184.2L447.6,168.2L448.2,154.2L448.8,147.1L449.4,150.6L450.0,162.3L450.6,177.9L451.2,191.9L451.8,203.6L452.4,213.3L453.0,219.5L453.6,223.8L454.2,226.4L454.9,228.6L455.5,229.6L456.1,229.9L456.7,230.9L457.3,230.4L457.9,229.4L458.5,227.1L459.1,224.9L459.7,221.2L460.3,215.8L460.9,208.1L461.5,198.0L462.1,185.3L462.8,169.2L463.4,151.2L464.0,135.1L464.6,123.8L465.2,121.7L465.8,130.3L466.4,146.3L467.0,163.8L467.6,180.3L468.2,194.7L468.8,205.6L469.4,213.4L470.0,218.8L470.7,222.6L471.3,224.5L471.9,226.2L472.5,227.1L473.1,226.6L473.7,225.4L474.3,223.0L474.9,219.2L475.5,215.3L476.1,209.4L476.7,204.5L477.3,201.6L477.9,203.0L478.6,206.8L479.2,212.8L479.8,218.2L480.4,222.9L481.0,227.0L481.6,230.5L482.2,231.8L482.8,233.9L483.4,234.0L484.0,234.9L484.6,235.8L485.2,236.1L485.8,237.1L486.5,237.8L487.1,237.6L487.7,237.6L488.3,237.2L488.9,238.2L489.5,238.2L490.1,238.7L490.7,238.2L491.3,238.5L491.9,237.8L492.5,237.8L493.1,236.6L493.7,237.3L494.4,237.3L495.0,237.7L495.6,237.9L496.2,238.3L496.8,237.4L497.4,236.7L498.0,237.2L498.6,236.7L499.2,236.5L499.8,236.1L500.4,235.8L501.0,235.1L501.6,235.1L502.3,235.1L502.9,234.6L503.5,233.3L504.1,231.7L504.7,230.1L505.3,228.9L505.9,227.2L506.5,226.4L507.1,226.3L507.7,226.6L508.3,227.4L508.9,228.9L509.5,228.8L510.2,230.0L510.8,229.7L511.4,228.7L512.0,226.1L512.6,224.1L513.2,221.3L513.8,220.5L514.4,219.7L515.0,221.7L515.6,224.1L516.2,227.6L516.8,229.9L517.4,232.3L518.1,232.5L518.7,233.2L519.3,232.5L519.9,232.4L520.5,232.2L521.1,232.0L521.7,231.0L522.3,230.5L522.9,229.2L523.5,227.2L524.1,224.3L524.7,219.3L525.3,212.1L526.0,201.8L526.6,188.0L527.2,169.9L527.8,151.8L528.4,136.7L529.0,129.8L529.6,134.9L530.2,149.3L530.8,167.1L531.4,184.0L532.0,198.3L532.6,207.8L533.3,213.7L533.9,217.6L534.5,218.4L535.1,216.1L535.7,211.9L536.3,204.0L536.9,192.4L537.5,177.2L538.1,158.3L538.7,138.8L539.3,121.6L539.9,112.5L540.5,116.0L541.2,130.7L541.8,150.7L542.4,171.1L543.0,188.2L543.6,201.4L544.2,210.5L544.8,217.1L545.4,220.3L546.0,220.4L546.6,220.4L547.2,218.4L547.8,214.9L548.4,211.1L549.1,207.9L549.7,206.6L550.3,209.3L550.9,214.0L551.5,218.3L552.1,222.4L552.7,226.4L553.3,229.1L553.9,231.3L554.5,232.7L555.1,233.6L555.7,233.8L556.3,234.0L557.0,233.6L557.6,233.5L558.2,233.7L558.8,234.1L559.4,234.0L560.0,234.3L560.6,234.3L561.2,234.1L561.8,234.1L562.4,233.9L563.0,234.1L563.6,232.7L564.2,232.7L564.9,232.2L565.5,232.0L566.1,230.2L566.7,228.8L567.3,226.8L567.9,225.0L568.5,222.8L569.1,218.7L569.7,213.6L570.3,208.0L570.9,200.7L571.5,192.1L572.1,182.6L572.8,172.5L573.4,162.6L574.0,152.5L574.6,144.6L575.2,139.5L575.8,138.3L576.4,141.3L577.0,147.7L577.6,155.3L578.2,163.4L578.8,170.8L579.4,177.5L580.0,183.0L580.7,187.2L581.3,190.1L581.9,192.3L582.5,193.5L583.1,194.1L583.7,196.2L584.3,197.4L584.9,199.9L585.5,201.6L586.1,204.6L586.7,207.2L587.3,210.3L587.9,213.3L588.6,215.1L589.2,217.8L589.8,219.1L590.4,221.3L591.0,223.1L591.6,224.4L592.2,225.5L592.8,226.8L593.4,227.4L594.0,229.1L594.6,229.2L595.2,229.9L595.8,230.7L596.5,231.7L597.1,232.1L597.7,232.8L598.3,233.2L598.9,234.2L599.5,234.9L600.1,235.2L600.7,235.6L601.3,236.6L601.9,237.2L602.5,237.7L603.1,238.2L603.7,238.7L604.4,238.7L605.0,239.2L605.6,239.6L606.2,240.0L606.8,239.8L607.4,240.2L608.0,240.8L608.6,241.0L609.2,241.5L609.8,241.5L610.4,242.1L611.0,242.4L611.6,242.1L612.3,242.2L612.9,242.0L613.5,242.2L614.1,241.5L614.7,241.2L615.3,240.2L615.9,240.7L616.5,240.5L617.1,240.6L617.7,241.0L618.3,240.3L618.9,240.7L619.5,240.9L620.2,241.6L620.8,241.7L621.4,242.3L622.0,242.6L622.6,243.1L623.2,244.0L623.8,243.9L624.4,243.9L625.0,245.0L625.6,243.8L626.2,244.0L626.8,244.4L627.5,243.9L628.1,244.0L628.7,244.7L629.3,244.6L629.9,244.2L630.5,244.2L631.1,244.7L631.7,245.0L632.3,244.7L632.9,244.7L633.5,245.1L634.1,245.1L634.7,244.6L635.4,245.0L636.0,245.9L636.6,246.0L637.2,245.6L637.8,245.7L638.4,245.9L639.0,245.5L639.6,245.3L640.2,245.5L640.8,245.1L641.4,245.9L642.0,245.4L642.6,245.7L643.3,245.6L643.9,245.5L644.5,244.8L645.1,245.5L645.7,245.2L646.3,245.2L646.9,245.7L647.5,245.6L648.1,245.7L648.7,246.3L649.3,245.8L649.9,246.0L650.5,246.0L651.2,246.2L651.8,246.2L652.4,246.3L653.0,246.1L653.6,246.2L654.2,245.8L654.8,246.2L655.4,246.1L656.0,245.4L656.6,246.0L657.2,246.0L657.8,245.9L658.4,246.4L659.1,246.6L659.7,246.2L660.3,246.8L660.9,246.9L661.5,246.6L662.1,246.6L662.7,247.2L663.3,246.3L663.9,246.7L664.5,246.3L665.1,246.6L665.7,246.4L666.3,246.2L667.0,245.8L667.6,246.1L668.2,246.2L668.8,246.0L669.4,245.9L670.0,245.9L670.6,246.3L671.2,246.5L671.8,246.8L672.4,247.2L673.0,247.0L673.6,246.9L674.2,246.7L674.9,246.2L675.5,246.3L676.1,246.2L676.7,246.0L677.3,246.5L677.9,246.3L678.5,245.9L679.1,246.7L679.7,247.3L680.3,246.6L680.9,246.5L681.5,246.8L682.1,246.5L682.8,246.8" fill="none" stroke="#ff0808" stroke-width="1.6" stroke-linejoin="round"/>
<path d="M292.7,258.9L293.3,258.9L293.9,259.5L294.5,259.0L295.2,259.0L295.8,259.6L296.4,258.8L297.0,258.6L297.6,257.8L298.3,257.7L298.9,256.6L299.5,255.0L300.1,254.7L300.7,254.5L301.4,255.1L302.0,255.8L302.6,256.4L303.2,256.5L303.8,257.2L304.4,257.9L305.1,257.2L305.7,256.0L306.3,253.7L306.9,250.2L307.5,247.0L308.2,245.5L308.8,248.5L309.4,252.3L310.0,255.3L310.6,256.8L311.2,258.2L311.9,259.1L312.5,259.4L313.1,260.5L313.7,260.0L314.3,260.1L315.0,260.7L315.6,259.8L316.2,259.2L316.8,260.4L317.4,259.7L318.0,260.3L318.7,259.9L319.3,260.2L319.9,260.2L320.5,261.0L321.1,259.9L321.8,260.0L322.4,260.1L323.0,260.0L323.6,259.8L324.2,258.7L324.8,258.3L325.5,257.4L326.1,256.4L326.7,255.9L327.3,255.2L327.9,255.3L328.6,256.6L329.2,257.9L329.8,258.4L330.4,259.0L331.0,259.4L331.6,259.4L332.3,258.7L332.9,259.2L333.5,258.9L334.1,258.9L334.7,259.7L335.4,260.3L336.0,260.1L336.6,261.4L337.2,260.9L337.8,261.4L338.5,260.8L339.1,261.3L339.7,260.4L340.3,259.6L340.9,259.8L341.5,260.1L342.2,259.0L342.8,257.2L343.4,253.8L344.0,250.5L344.6,248.7L345.3,251.5L345.9,254.8L346.5,257.2L347.1,258.6L347.7,260.3L348.3,260.3L349.0,260.2L349.6,260.3L350.2,260.8L350.8,261.4L351.4,261.5L352.1,261.1L352.7,261.1L353.3,261.2L353.9,261.0L354.5,261.0L355.1,261.4L355.8,261.3L356.4,262.0L357.0,262.0L357.6,261.6L358.2,261.5L358.9,261.5L359.5,261.2L360.1,261.3L360.7,261.2L361.3,261.5L361.9,261.5L362.6,262.0L363.2,261.8L363.8,261.3L364.4,261.4L365.0,261.2L365.7,261.1L366.3,260.9L366.9,260.6L367.5,260.3L368.1,259.6L368.8,258.5L369.4,257.7L370.0,257.5L370.6,258.2L371.2,258.7L371.8,259.1L372.5,259.4L373.1,260.0L373.7,259.5L374.3,260.3L374.9,260.4L375.6,260.2L376.2,261.1L376.8,260.4L377.4,260.1L378.0,258.9L378.6,258.3L379.3,257.7L379.9,255.4L380.5,253.6L381.1,251.5L381.7,249.6L382.4,248.3L383.0,248.7L383.6,249.6L384.2,251.5L384.8,253.4L385.4,255.2L386.1,256.3L386.7,258.3L387.3,259.1L387.9,259.4L388.5,260.0L389.2,260.3L389.8,260.8L390.4,261.1L391.0,260.4L391.6,261.1L392.2,260.5L392.9,261.0L393.5,261.8L394.1,262.2L394.7,261.6L395.3,261.7L396.0,261.4L396.6,261.2L397.2,260.5L397.8,261.2L398.4,260.4L399.0,260.9L399.7,261.2L400.3,260.8L400.9,261.1L401.5,261.4L402.1,262.3L402.8,262.0L403.4,261.4L404.0,261.8L404.6,261.4L405.2,261.9L405.9,261.5L406.5,261.2L407.1,260.5L407.7,261.5L408.3,261.7L408.9,261.5L409.6,261.3L410.2,260.9L410.8,261.3L411.4,262.1L412.0,261.9L412.7,261.4L413.3,261.1L413.9,262.0L414.5,261.5L415.1,261.4L415.7,262.0L416.4,261.7L417.0,260.8L417.6,260.7L418.2,260.3L418.8,260.2L419.5,260.1L420.1,258.3L420.7,257.0L421.3,256.1L421.9,256.9L422.5,258.0L423.2,258.5L423.8,259.1L424.4,258.8L425.0,259.1L425.6,258.7L426.3,258.7L426.9,258.1L427.5,257.6L428.1,256.8L428.7,256.5L429.3,256.4L430.0,255.6L430.6,253.5L431.2,252.0L431.8,250.7L432.4,248.3L433.1,245.6L433.7,241.1L434.3,234.7L434.9,226.0L435.5,214.2L436.1,199.7L436.8,184.2L437.4,170.0L438.0,162.8L438.6,165.6L439.2,177.2L439.9,193.4L440.5,208.0L441.1,220.3L441.7,230.1L442.3,236.9L443.0,241.5L443.6,243.6L444.2,244.8L444.8,245.9L445.4,246.4L446.0,246.7L446.7,245.5L447.3,245.4L447.9,243.1L448.5,240.9L449.1,237.4L449.8,231.3L450.4,223.0L451.0,211.8L451.6,197.8L452.2,181.0L452.8,161.8L453.5,142.7L454.1,130.6L454.7,128.4L455.3,138.7L455.9,155.9L456.6,174.4L457.2,193.2L457.8,208.6L458.4,219.8L459.0,228.6L459.6,234.9L460.3,239.7L460.9,242.8L461.5,243.9L462.1,244.2L462.7,245.0L463.4,242.9L464.0,240.3L464.6,237.4L465.2,233.0L465.8,227.5L466.4,223.7L467.1,221.7L467.7,222.7L468.3,226.5L468.9,231.2L469.5,237.3L470.2,242.2L470.8,245.9L471.4,249.2L472.0,251.4L472.6,252.6L473.3,253.8L473.9,254.7L474.5,254.7L475.1,255.4L475.7,255.0L476.3,255.9L477.0,256.0L477.6,256.5L478.2,256.2L478.8,256.3L479.4,256.8L480.1,256.4L480.7,256.1L481.3,256.3L481.9,256.6L482.5,257.1L483.1,257.1L483.8,256.8L484.4,256.0L485.0,255.9L485.6,255.5L486.2,256.0L486.9,256.0L487.5,255.9L488.1,255.5L488.7,255.8L489.3,255.6L489.9,256.1L490.6,255.4L491.2,254.7L491.8,254.6L492.4,253.3L493.0,252.9L493.7,251.5L494.3,250.1L494.9,249.7L495.5,248.9L496.1,247.7L496.7,246.8L497.4,246.3L498.0,246.4L498.6,247.9L499.2,248.6L499.8,249.0L500.5,249.7L501.1,249.2L501.7,248.3L502.3,246.5L502.9,244.5L503.5,242.2L504.2,239.3L504.8,238.6L505.4,240.9L506.0,243.7L506.6,246.9L507.3,249.0L507.9,250.4L508.5,252.1L509.1,252.4L509.7,252.3L510.4,252.4L511.0,251.7L511.6,251.9L512.2,250.7L512.8,249.2L513.4,247.4L514.1,246.0L514.7,243.4L515.3,238.9L515.9,230.3L516.5,219.3L517.2,205.6L517.8,187.2L518.4,167.8L519.0,151.6L519.6,144.7L520.2,150.0L520.9,165.2L521.5,184.2L522.1,202.1L522.7,215.3L523.3,225.6L524.0,232.0L524.6,235.0L525.2,234.5L525.8,232.5L526.4,226.6L527.0,217.9L527.7,204.1L528.3,185.3L528.9,162.4L529.5,138.3L530.1,117.6L530.8,106.4L531.4,111.2L532.0,128.8L532.6,153.1L533.2,177.3L533.8,198.9L534.5,214.9L535.1,225.9L535.7,233.7L536.3,238.2L536.9,239.1L537.6,238.4L538.2,235.9L538.8,232.4L539.4,229.1L540.0,225.6L540.7,224.6L541.3,227.4L541.9,231.8L542.5,236.6L543.1,241.3L543.7,245.2L544.4,249.0L545.0,251.3L545.6,252.2L546.2,253.4L546.8,254.1L547.5,254.7L548.1,255.2L548.7,255.4L549.3,255.5L549.9,255.4L550.5,255.3L551.2,255.1L551.8,255.7L552.4,255.4L553.0,254.5L553.6,254.0L554.3,253.7L554.9,254.0L555.5,253.3L556.1,252.6L556.7,252.2L557.3,251.9L558.0,250.7L558.6,249.5L559.2,247.4L559.8,245.1L560.4,241.3L561.1,237.1L561.7,231.2L562.3,224.4L562.9,216.1L563.5,208.1L564.1,198.5L564.8,188.2L565.4,178.5L566.0,171.1L566.6,166.0L567.2,164.5L567.9,167.2L568.5,173.1L569.1,180.1L569.7,187.6L570.3,194.5L570.9,200.3L571.6,205.0L572.2,208.4L572.8,211.1L573.4,212.5L574.0,213.6L574.7,214.3L575.3,215.5L575.9,217.3L576.5,218.5L577.1,221.3L577.8,223.9L578.4,226.7L579.0,229.8L579.6,233.5L580.2,235.9L580.8,238.2L581.5,239.7L582.1,242.2L582.7,243.5L583.3,245.2L583.9,246.3L584.6,247.9L585.2,249.1L585.8,249.6L586.4,251.1L587.0,251.1L587.6,252.5L588.3,252.6L588.9,253.0L589.5,253.6L590.1,255.0L590.7,256.0L591.4,257.0L592.0,256.8L592.6,257.4L593.2,258.4L593.8,259.0L594.4,259.7L595.1,260.4L595.7,261.0L596.3,260.8L596.9,261.4L597.5,262.1L598.2,261.7L598.8,262.5L599.4,263.3L600.0,263.4L600.6,263.6L601.2,263.4L601.9,262.9L602.5,263.9L603.1,264.2L603.7,264.7L604.3,264.5L605.0,264.2L605.6,264.4L606.2,264.4L606.8,264.1L607.4,263.7L608.1,263.5L608.7,263.7L609.3,263.2L609.9,262.7L610.5,262.4L611.1,262.9L611.8,263.3L612.4,262.5L613.0,263.9L613.6,264.1L614.2,264.4L614.9,264.8L615.5,264.6L616.1,266.1L616.7,265.8L617.3,266.0L617.9,266.3L618.6,267.0L619.2,266.2L619.8,265.8L620.4,266.4L621.0,266.5L621.7,267.0L622.3,266.7L622.9,267.0L623.5,267.3L624.1,267.7L624.7,267.5L625.4,267.9L626.0,267.6L626.6,267.5L627.2,267.4L627.8,267.4L628.5,268.5L629.1,268.0L629.7,268.3L630.3,267.8L630.9,267.3L631.5,267.9L632.2,267.9L632.8,267.5L633.4,267.2L634.0,267.7L634.6,268.2L635.3,268.6L635.9,269.7L636.5,269.8L637.1,269.9L637.7,268.7L638.3,269.0L639.0,269.7L639.6,268.7L640.2,268.2L640.8,268.3L641.4,269.2L642.1,269.3L642.7,269.4L643.3,268.9L643.9,269.4L644.5,269.2L645.2,269.4L645.8,269.4L646.4,269.7L647.0,269.6L647.6,269.3L648.2,269.5L648.9,269.6L649.5,270.0L650.1,269.7L650.7,269.4L651.3,269.2L652.0,270.3L652.6,270.1L653.2,269.8L653.8,268.8L654.4,269.0L655.0,269.5L655.7,270.0L656.3,269.7L656.9,269.4L657.5,269.6L658.1,269.6L658.8,269.8L659.4,270.3L660.0,269.6L660.6,269.5L661.2,269.5L661.8,270.3L662.5,270.1L663.1,269.7L663.7,269.5L664.3,270.1L664.9,270.3L665.6,270.8L666.2,270.4L666.8,270.3L667.4,270.9L668.0,270.9L668.6,270.8L669.3,271.2L669.9,270.5L670.5,270.8L671.1,270.9L671.7,270.1L672.4,269.6L673.0,270.2L673.6,270.5L674.2,271.0L674.8,270.4L675.5,270.5L676.1,270.1L676.1,275.2L292.7,275.2Z" fill="#fff"/>
<path d="M292.7,258.9L293.3,258.9L293.9,259.5L294.5,259.0L295.2,259.0L295.8,259.6L296.4,258.8L297.0,258.6L297.6,257.8L298.3,257.7L298.9,256.6L299.5,255.0L300.1,254.7L300.7,254.5L301.4,255.1L302.0,255.8L302.6,256.4L303.2,256.5L303.8,257.2L304.4,257.9L305.1,257.2L305.7,256.0L306.3,253.7L306.9,250.2L307.5,247.0L308.2,245.5L308.8,248.5L309.4,252.3L310.0,255.3L310.6,256.8L311.2,258.2L311.9,259.1L312.5,259.4L313.1,260.5L313.7,260.0L314.3,260.1L315.0,260.7L315.6,259.8L316.2,259.2L316.8,260.4L317.4,259.7L318.0,260.3L318.7,259.9L319.3,260.2L319.9,260.2L320.5,261.0L321.1,259.9L321.8,260.0L322.4,260.1L323.0,260.0L323.6,259.8L324.2,258.7L324.8,258.3L325.5,257.4L326.1,256.4L326.7,255.9L327.3,255.2L327.9,255.3L328.6,256.6L329.2,257.9L329.8,258.4L330.4,259.0L331.0,259.4L331.6,259.4L332.3,258.7L332.9,259.2L333.5,258.9L334.1,258.9L334.7,259.7L335.4,260.3L336.0,260.1L336.6,261.4L337.2,260.9L337.8,261.4L338.5,260.8L339.1,261.3L339.7,260.4L340.3,259.6L340.9,259.8L341.5,260.1L342.2,259.0L342.8,257.2L343.4,253.8L344.0,250.5L344.6,248.7L345.3,251.5L345.9,254.8L346.5,257.2L347.1,258.6L347.7,260.3L348.3,260.3L349.0,260.2L349.6,260.3L350.2,260.8L350.8,261.4L351.4,261.5L352.1,261.1L352.7,261.1L353.3,261.2L353.9,261.0L354.5,261.0L355.1,261.4L355.8,261.3L356.4,262.0L357.0,262.0L357.6,261.6L358.2,261.5L358.9,261.5L359.5,261.2L360.1,261.3L360.7,261.2L361.3,261.5L361.9,261.5L362.6,262.0L363.2,261.8L363.8,261.3L364.4,261.4L365.0,261.2L365.7,261.1L366.3,260.9L366.9,260.6L367.5,260.3L368.1,259.6L368.8,258.5L369.4,257.7L370.0,257.5L370.6,258.2L371.2,258.7L371.8,259.1L372.5,259.4L373.1,260.0L373.7,259.5L374.3,260.3L374.9,260.4L375.6,260.2L376.2,261.1L376.8,260.4L377.4,260.1L378.0,258.9L378.6,258.3L379.3,257.7L379.9,255.4L380.5,253.6L381.1,251.5L381.7,249.6L382.4,248.3L383.0,248.7L383.6,249.6L384.2,251.5L384.8,253.4L385.4,255.2L386.1,256.3L386.7,258.3L387.3,259.1L387.9,259.4L388.5,260.0L389.2,260.3L389.8,260.8L390.4,261.1L391.0,260.4L391.6,261.1L392.2,260.5L392.9,261.0L393.5,261.8L394.1,262.2L394.7,261.6L395.3,261.7L396.0,261.4L396.6,261.2L397.2,260.5L397.8,261.2L398.4,260.4L399.0,260.9L399.7,261.2L400.3,260.8L400.9,261.1L401.5,261.4L402.1,262.3L402.8,262.0L403.4,261.4L404.0,261.8L404.6,261.4L405.2,261.9L405.9,261.5L406.5,261.2L407.1,260.5L407.7,261.5L408.3,261.7L408.9,261.5L409.6,261.3L410.2,260.9L410.8,261.3L411.4,262.1L412.0,261.9L412.7,261.4L413.3,261.1L413.9,262.0L414.5,261.5L415.1,261.4L415.7,262.0L416.4,261.7L417.0,260.8L417.6,260.7L418.2,260.3L418.8,260.2L419.5,260.1L420.1,258.3L420.7,257.0L421.3,256.1L421.9,256.9L422.5,258.0L423.2,258.5L423.8,259.1L424.4,258.8L425.0,259.1L425.6,258.7L426.3,258.7L426.9,258.1L427.5,257.6L428.1,256.8L428.7,256.5L429.3,256.4L430.0,255.6L430.6,253.5L431.2,252.0L431.8,250.7L432.4,248.3L433.1,245.6L433.7,241.1L434.3,234.7L434.9,226.0L435.5,214.2L436.1,199.7L436.8,184.2L437.4,170.0L438.0,162.8L438.6,165.6L439.2,177.2L439.9,193.4L440.5,208.0L441.1,220.3L441.7,230.1L442.3,236.9L443.0,241.5L443.6,243.6L444.2,244.8L444.8,245.9L445.4,246.4L446.0,246.7L446.7,245.5L447.3,245.4L447.9,243.1L448.5,240.9L449.1,237.4L449.8,231.3L450.4,223.0L451.0,211.8L451.6,197.8L452.2,181.0L452.8,161.8L453.5,142.7L454.1,130.6L454.7,128.4L455.3,138.7L455.9,155.9L456.6,174.4L457.2,193.2L457.8,208.6L458.4,219.8L459.0,228.6L459.6,234.9L460.3,239.7L460.9,242.8L461.5,243.9L462.1,244.2L462.7,245.0L463.4,242.9L464.0,240.3L464.6,237.4L465.2,233.0L465.8,227.5L466.4,223.7L467.1,221.7L467.7,222.7L468.3,226.5L468.9,231.2L469.5,237.3L470.2,242.2L470.8,245.9L471.4,249.2L472.0,251.4L472.6,252.6L473.3,253.8L473.9,254.7L474.5,254.7L475.1,255.4L475.7,255.0L476.3,255.9L477.0,256.0L477.6,256.5L478.2,256.2L478.8,256.3L479.4,256.8L480.1,256.4L480.7,256.1L481.3,256.3L481.9,256.6L482.5,257.1L483.1,257.1L483.8,256.8L484.4,256.0L485.0,255.9L485.6,255.5L486.2,256.0L486.9,256.0L487.5,255.9L488.1,255.5L488.7,255.8L489.3,255.6L489.9,256.1L490.6,255.4L491.2,254.7L491.8,254.6L492.4,253.3L493.0,252.9L493.7,251.5L494.3,250.1L494.9,249.7L495.5,248.9L496.1,247.7L496.7,246.8L497.4,246.3L498.0,246.4L498.6,247.9L499.2,248.6L499.8,249.0L500.5,249.7L501.1,249.2L501.7,248.3L502.3,246.5L502.9,244.5L503.5,242.2L504.2,239.3L504.8,238.6L505.4,240.9L506.0,243.7L506.6,246.9L507.3,249.0L507.9,250.4L508.5,252.1L509.1,252.4L509.7,252.3L510.4,252.4L511.0,251.7L511.6,251.9L512.2,250.7L512.8,249.2L513.4,247.4L514.1,246.0L514.7,243.4L515.3,238.9L515.9,230.3L516.5,219.3L517.2,205.6L517.8,187.2L518.4,167.8L519.0,151.6L519.6,144.7L520.2,150.0L520.9,165.2L521.5,184.2L522.1,202.1L522.7,215.3L523.3,225.6L524.0,232.0L524.6,235.0L525.2,234.5L525.8,232.5L526.4,226.6L527.0,217.9L527.7,204.1L528.3,185.3L528.9,162.4L529.5,138.3L530.1,117.6L530.8,106.4L531.4,111.2L532.0,128.8L532.6,153.1L533.2,177.3L533.8,198.9L534.5,214.9L535.1,225.9L535.7,233.7L536.3,238.2L536.9,239.1L537.6,238.4L538.2,235.9L538.8,232.4L539.4,229.1L540.0,225.6L540.7,224.6L541.3,227.4L541.9,231.8L542.5,236.6L543.1,241.3L543.7,245.2L544.4,249.0L545.0,251.3L545.6,252.2L546.2,253.4L546.8,254.1L547.5,254.7L548.1,255.2L548.7,255.4L549.3,255.5L549.9,255.4L550.5,255.3L551.2,255.1L551.8,255.7L552.4,255.4L553.0,254.5L553.6,254.0L554.3,253.7L554.9,254.0L555.5,253.3L556.1,252.6L556.7,252.2L557.3,251.9L558.0,250.7L558.6,249.5L559.2,247.4L559.8,245.1L560.4,241.3L561.1,237.1L561.7,231.2L562.3,224.4L562.9,216.1L563.5,208.1L564.1,198.5L564.8,188.2L565.4,178.5L566.0,171.1L566.6,166.0L567.2,164.5L567.9,167.2L568.5,173.1L569.1,180.1L569.7,187.6L570.3,194.5L570.9,200.3L571.6,205.0L572.2,208.4L572.8,211.1L573.4,212.5L574.0,213.6L574.7,214.3L575.3,215.5L575.9,217.3L576.5,218.5L577.1,221.3L577.8,223.9L578.4,226.7L579.0,229.8L579.6,233.5L580.2,235.9L580.8,238.2L581.5,239.7L582.1,242.2L582.7,243.5L583.3,245.2L583.9,246.3L584.6,247.9L585.2,249.1L585.8,249.6L586.4,251.1L587.0,251.1L587.6,252.5L588.3,252.6L588.9,253.0L589.5,253.6L590.1,255.0L590.7,256.0L591.4,257.0L592.0,256.8L592.6,257.4L593.2,258.4L593.8,259.0L594.4,259.7L595.1,260.4L595.7,261.0L596.3,260.8L596.9,261.4L597.5,262.1L598.2,261.7L598.8,262.5L599.4,263.3L600.0,263.4L600.6,263.6L601.2,263.4L601.9,262.9L602.5,263.9L603.1,264.2L603.7,264.7L604.3,264.5L605.0,264.2L605.6,264.4L606.2,264.4L606.8,264.1L607.4,263.7L608.1,263.5L608.7,263.7L609.3,263.2L609.9,262.7L610.5,262.4L611.1,262.9L611.8,263.3L612.4,262.5L613.0,263.9L613.6,264.1L614.2,264.4L614.9,264.8L615.5,264.6L616.1,266.1L616.7,265.8L617.3,266.0L617.9,266.3L618.6,267.0L619.2,266.2L619.8,265.8L620.4,266.4L621.0,266.5L621.7,267.0L622.3,266.7L622.9,267.0L623.5,267.3L624.1,267.7L624.7,267.5L625.4,267.9L626.0,267.6L626.6,267.5L627.2,267.4L627.8,267.4L628.5,268.5L629.1,268.0L629.7,268.3L630.3,267.8L630.9,267.3L631.5,267.9L632.2,267.9L632.8,267.5L633.4,267.2L634.0,267.7L634.6,268.2L635.3,268.6L635.9,269.7L636.5,269.8L637.1,269.9L637.7,268.7L638.3,269.0L639.0,269.7L639.6,268.7L640.2,268.2L640.8,268.3L641.4,269.2L642.1,269.3L642.7,269.4L643.3,268.9L643.9,269.4L644.5,269.2L645.2,269.4L645.8,269.4L646.4,269.7L647.0,269.6L647.6,269.3L648.2,269.5L648.9,269.6L649.5,270.0L650.1,269.7L650.7,269.4L651.3,269.2L652.0,270.3L652.6,270.1L653.2,269.8L653.8,268.8L654.4,269.0L655.0,269.5L655.7,270.0L656.3,269.7L656.9,269.4L657.5,269.6L658.1,269.6L658.8,269.8L659.4,270.3L660.0,269.6L660.6,269.5L661.2,269.5L661.8,270.3L662.5,270.1L663.1,269.7L663.7,269.5L664.3,270.1L664.9,270.3L665.6,270.8L666.2,270.4L666.8,270.3L667.4,270.9L668.0,270.9L668.6,270.8L669.3,271.2L669.9,270.5L670.5,270.8L671.1,270.9L671.7,270.1L672.4,269.6L673.0,270.2L673.6,270.5L674.2,271.0L674.8,270.4L675.5,270.5L676.1,270.1" fill="none" stroke="#ff0808" stroke-width="1.6" stroke-linejoin="round"/>
<path d="M279.0,274.1L279.6,274.4L280.2,274.0L280.9,273.7L281.5,273.9L282.1,273.7L282.7,273.6L283.4,273.3L284.0,273.8L284.6,274.0L285.3,272.4L285.9,271.3L286.5,270.2L287.2,270.3L287.8,270.4L288.4,271.8L289.0,271.8L289.7,272.1L290.3,271.5L290.9,271.7L291.6,271.2L292.2,270.7L292.8,271.1L293.4,270.4L294.1,269.6L294.7,269.6L295.3,270.6L296.0,271.5L296.6,272.7L297.2,272.3L297.8,273.4L298.5,273.6L299.1,273.6L299.7,273.3L300.4,273.1L301.0,273.3L301.6,273.4L302.3,273.1L302.9,273.4L303.5,274.2L304.1,274.0L304.8,273.8L305.4,273.6L306.0,273.6L306.7,273.1L307.3,274.0L307.9,274.4L308.5,273.7L309.2,274.0L309.8,273.7L310.4,272.6L311.1,272.3L311.7,271.5L312.3,271.7L313.0,270.8L313.6,270.2L314.2,270.2L314.8,270.2L315.5,270.4L316.1,271.7L316.7,271.6L317.4,272.4L318.0,272.2L318.6,272.5L319.2,272.6L319.9,272.3L320.5,272.0L321.1,272.9L321.8,273.5L322.4,273.7L323.0,274.0L323.7,273.9L324.3,274.0L324.9,274.1L325.5,274.6L326.2,273.8L326.8,273.6L327.4,274.0L328.1,273.8L328.7,272.5L329.3,271.7L329.9,269.2L330.6,266.0L331.2,261.5L331.8,258.8L332.5,261.0L333.1,265.9L333.7,269.9L334.4,272.0L335.0,273.1L335.6,273.1L336.2,273.5L336.9,273.5L337.5,273.7L338.1,274.0L338.8,274.3L339.4,275.0L340.0,274.9L340.6,274.7L341.3,274.8L341.9,274.3L342.5,274.7L343.2,274.4L343.8,274.7L344.4,274.3L345.0,274.1L345.7,274.6L346.3,274.5L346.9,274.7L347.6,274.1L348.2,274.8L348.8,274.7L349.5,274.6L350.1,274.2L350.7,274.0L351.3,273.7L352.0,274.0L352.6,274.0L353.2,274.5L353.9,273.5L354.5,273.2L355.1,272.2L355.7,271.0L356.4,270.7L357.0,270.5L357.6,270.7L358.3,271.3L358.9,272.2L359.5,273.3L360.2,273.1L360.8,273.1L361.4,273.4L362.0,273.0L362.7,273.0L363.3,273.7L363.9,273.5L364.6,272.9L365.2,271.8L365.8,271.0L366.4,270.9L367.1,269.3L367.7,267.7L368.3,265.3L369.0,263.2L369.6,261.3L370.2,259.4L370.9,259.4L371.5,261.7L372.1,263.8L372.7,266.3L373.4,268.0L374.0,270.1L374.6,270.3L375.3,271.2L375.9,271.7L376.5,272.9L377.1,273.2L377.8,273.4L378.4,273.2L379.0,273.8L379.7,274.4L380.3,274.3L380.9,274.5L381.5,274.2L382.2,274.1L382.8,273.3L383.4,273.9L384.1,273.7L384.7,274.5L385.3,274.5L386.0,275.0L386.6,275.0L387.2,274.8L387.8,274.7L388.5,274.5L389.1,274.9L389.7,274.4L390.4,273.8L391.0,274.1L391.6,274.1L392.2,274.1L392.9,273.7L393.5,273.7L394.1,273.9L394.8,274.3L395.4,274.4L396.0,274.1L396.7,273.6L397.3,273.6L397.9,273.8L398.5,274.0L399.2,273.6L399.8,274.2L400.4,274.1L401.1,273.2L401.7,274.2L402.3,273.9L402.9,273.9L403.6,273.6L404.2,273.6L404.8,273.1L405.5,274.2L406.1,273.8L406.7,273.4L407.4,272.5L408.0,271.9L408.6,270.1L409.2,269.0L409.9,268.3L410.5,268.5L411.1,269.4L411.8,270.3L412.4,270.7L413.0,270.8L413.6,271.5L414.3,270.9L414.9,270.6L415.5,270.7L416.2,270.0L416.8,269.3L417.4,269.4L418.0,268.6L418.7,267.7L419.3,267.1L419.9,266.3L420.6,264.6L421.2,262.1L421.8,259.7L422.5,255.1L423.1,250.3L423.7,242.7L424.3,231.1L425.0,218.1L425.6,203.8L426.2,190.4L426.9,183.6L427.5,186.9L428.1,197.9L428.7,212.2L429.4,225.1L430.0,235.7L430.6,243.7L431.3,250.2L431.9,254.3L432.5,257.3L433.2,259.4L433.8,260.4L434.4,260.6L435.0,261.1L435.7,260.0L436.3,259.4L436.9,257.6L437.6,255.3L438.2,251.9L438.8,248.0L439.4,242.3L440.1,234.3L440.7,223.3L441.3,209.8L442.0,194.4L442.6,179.3L443.2,169.0L443.9,167.2L444.5,176.1L445.1,188.9L445.7,204.6L446.4,219.1L447.0,230.5L447.6,240.1L448.3,247.2L448.9,252.0L449.5,254.7L450.1,257.0L450.8,257.9L451.4,258.0L452.0,258.1L452.7,256.7L453.3,254.8L453.9,252.0L454.6,247.9L455.2,243.3L455.8,239.8L456.4,237.7L457.1,238.5L457.7,241.4L458.3,246.5L459.0,251.4L459.6,255.3L460.2,259.1L460.8,261.9L461.5,263.7L462.1,265.0L462.7,266.4L463.4,266.8L464.0,267.1L464.6,267.4L465.2,267.7L465.9,267.5L466.5,267.5L467.1,268.1L467.8,268.2L468.4,268.2L469.0,268.4L469.7,268.7L470.3,269.1L470.9,269.5L471.5,269.3L472.2,269.5L472.8,269.8L473.4,269.3L474.1,269.0L474.7,268.3L475.3,268.2L475.9,268.1L476.6,268.3L477.2,268.8L477.8,268.6L478.5,268.7L479.1,268.2L479.7,267.7L480.4,267.3L481.0,266.9L481.6,265.7L482.2,265.3L482.9,264.4L483.5,263.4L484.1,262.2L484.8,261.5L485.4,260.4L486.0,258.7L486.6,258.5L487.3,258.4L487.9,258.8L488.5,260.1L489.2,260.4L489.8,260.6L490.4,260.9L491.1,260.5L491.7,259.5L492.3,259.0L492.9,256.5L493.6,253.8L494.2,251.2L494.8,251.3L495.5,253.5L496.1,255.6L496.7,258.8L497.3,260.3L498.0,262.5L498.6,263.4L499.2,263.6L499.9,263.9L500.5,263.9L501.1,263.6L501.7,263.2L502.4,263.2L503.0,262.0L503.6,260.3L504.3,258.7L504.9,256.6L505.5,252.0L506.2,246.5L506.8,237.1L507.4,223.2L508.0,208.2L508.7,191.9L509.3,177.5L509.9,171.4L510.6,176.8L511.2,189.6L511.8,205.3L512.4,219.8L513.1,231.8L513.7,240.9L514.3,246.2L515.0,249.3L515.6,249.7L516.2,247.4L516.9,243.4L517.5,235.5L518.1,224.8L518.7,209.1L519.4,189.5L520.0,169.9L520.6,152.6L521.3,143.6L521.9,147.5L522.5,162.3L523.1,182.7L523.8,202.8L524.4,220.3L525.0,233.4L525.7,242.7L526.3,248.8L526.9,251.8L527.6,252.8L528.2,252.8L528.8,249.7L529.4,247.3L530.1,243.6L530.7,240.8L531.3,238.9L532.0,241.5L532.6,246.0L533.2,250.4L533.8,254.4L534.5,258.1L535.1,260.9L535.7,263.2L536.4,264.7L537.0,264.8L537.6,264.9L538.2,265.1L538.9,265.5L539.5,265.9L540.1,266.3L540.8,266.2L541.4,266.1L542.0,265.6L542.7,265.3L543.3,265.6L543.9,265.5L544.5,266.2L545.2,265.5L545.8,265.9L546.4,264.2L547.1,264.2L547.7,263.3L548.3,262.1L548.9,261.2L549.6,259.7L550.2,257.9L550.8,255.7L551.5,252.8L552.1,247.5L552.7,242.9L553.4,236.7L554.0,229.0L554.6,221.1L555.2,211.8L555.9,202.6L556.5,193.4L557.1,186.1L557.8,180.7L558.4,180.2L559.0,183.2L559.6,188.5L560.3,195.4L560.9,203.2L561.5,209.4L562.2,215.9L562.8,220.1L563.4,223.0L564.1,224.9L564.7,226.3L565.3,227.9L565.9,228.9L566.6,230.0L567.2,231.3L567.8,232.8L568.5,234.6L569.1,237.4L569.7,240.1L570.3,242.6L571.0,245.3L571.6,247.1L572.2,249.7L572.9,251.3L573.5,253.0L574.1,254.2L574.7,255.2L575.4,257.3L576.0,258.3L576.6,259.5L577.3,259.9L577.9,261.5L578.5,262.3L579.2,262.5L579.8,262.8L580.4,263.6L581.0,264.4L581.7,265.6L582.3,265.3L582.9,266.7L583.6,267.6L584.2,268.5L584.8,268.2L585.4,269.0L586.1,270.0L586.7,270.6L587.3,271.4L588.0,271.1L588.6,271.7L589.2,271.9L589.9,272.5L590.5,271.8L591.1,272.7L591.7,272.4L592.4,273.3L593.0,273.0L593.6,273.6L594.3,273.9L594.9,274.1L595.5,273.8L596.1,274.1L596.8,274.1L597.4,274.3L598.0,274.1L598.7,273.3L599.3,273.1L599.9,272.6L600.6,272.3L601.2,272.2L601.8,272.1L602.4,272.8L603.1,273.3L603.7,273.3L604.3,273.1L605.0,272.8L605.6,273.5L606.2,274.0L606.8,273.7L607.5,274.3L608.1,274.6L608.7,274.4L609.4,275.0L610.0,275.4L610.6,275.7L611.3,276.4L611.9,276.4L612.5,276.4L613.1,276.3L613.8,276.6L614.4,276.8L615.0,276.7L615.7,276.5L616.3,276.6L616.9,277.0L617.5,276.8L618.2,277.2L618.8,276.9L619.4,276.6L620.1,276.4L620.7,276.5L621.3,277.2L621.9,276.8L622.6,277.1L623.2,277.7L623.8,277.8L624.5,277.6L625.1,277.5L625.7,277.0L626.4,276.8L627.0,276.8L627.6,277.3L628.2,277.6L628.9,277.4L629.5,277.9L630.1,277.4L630.8,277.6L631.4,277.5L632.0,277.7L632.6,277.9L633.3,277.7L633.9,277.9L634.5,277.4L635.2,277.2L635.8,277.7L636.4,277.3L637.1,277.0L637.7,277.2L638.3,277.5L638.9,277.8L639.6,276.9L640.2,276.6L640.8,277.7L641.5,277.6L642.1,277.9L642.7,277.8L643.3,278.7L644.0,278.5L644.6,278.1L645.2,277.8L645.9,277.8L646.5,278.1L647.1,277.7L647.8,277.8L648.4,278.1L649.0,277.4L649.6,277.7L650.3,278.2L650.9,277.9L651.5,278.1L652.2,278.5L652.8,278.6L653.4,277.7L654.0,278.7L654.7,278.4L655.3,277.8L655.9,278.1L656.6,277.7L657.2,278.3L657.8,278.6L658.4,278.8L659.1,278.1L659.7,278.1L660.3,278.1L661.0,278.5L661.6,277.7L662.2,277.6L662.9,278.2L663.5,277.8L664.1,278.3L664.7,277.9L665.4,277.7L666.0,278.2L666.6,277.7L667.3,278.2L667.9,277.8L668.5,277.8L669.1,278.1L669.1,291.2L279.0,291.2Z" fill="#fff"/>
<path d="M279.0,274.1L279.6,274.4L280.2,274.0L280.9,273.7L281.5,273.9L282.1,273.7L282.7,273.6L283.4,273.3L284.0,273.8L284.6,274.0L285.3,272.4L285.9,271.3L286.5,270.2L287.2,270.3L287.8,270.4L288.4,271.8L289.0,271.8L289.7,272.1L290.3,271.5L290.9,271.7L291.6,271.2L292.2,270.7L292.8,271.1L293.4,270.4L294.1,269.6L294.7,269.6L295.3,270.6L296.0,271.5L296.6,272.7L297.2,272.3L297.8,273.4L298.5,273.6L299.1,273.6L299.7,273.3L300.4,273.1L301.0,273.3L301.6,273.4L302.3,273.1L302.9,273.4L303.5,274.2L304.1,274.0L304.8,273.8L305.4,273.6L306.0,273.6L306.7,273.1L307.3,274.0L307.9,274.4L308.5,273.7L309.2,274.0L309.8,273.7L310.4,272.6L311.1,272.3L311.7,271.5L312.3,271.7L313.0,270.8L313.6,270.2L314.2,270.2L314.8,270.2L315.5,270.4L316.1,271.7L316.7,271.6L317.4,272.4L318.0,272.2L318.6,272.5L319.2,272.6L319.9,272.3L320.5,272.0L321.1,272.9L321.8,273.5L322.4,273.7L323.0,274.0L323.7,273.9L324.3,274.0L324.9,274.1L325.5,274.6L326.2,273.8L326.8,273.6L327.4,274.0L328.1,273.8L328.7,272.5L329.3,271.7L329.9,269.2L330.6,266.0L331.2,261.5L331.8,258.8L332.5,261.0L333.1,265.9L333.7,269.9L334.4,272.0L335.0,273.1L335.6,273.1L336.2,273.5L336.9,273.5L337.5,273.7L338.1,274.0L338.8,274.3L339.4,275.0L340.0,274.9L340.6,274.7L341.3,274.8L341.9,274.3L342.5,274.7L343.2,274.4L343.8,274.7L344.4,274.3L345.0,274.1L345.7,274.6L346.3,274.5L346.9,274.7L347.6,274.1L348.2,274.8L348.8,274.7L349.5,274.6L350.1,274.2L350.7,274.0L351.3,273.7L352.0,274.0L352.6,274.0L353.2,274.5L353.9,273.5L354.5,273.2L355.1,272.2L355.7,271.0L356.4,270.7L357.0,270.5L357.6,270.7L358.3,271.3L358.9,272.2L359.5,273.3L360.2,273.1L360.8,273.1L361.4,273.4L362.0,273.0L362.7,273.0L363.3,273.7L363.9,273.5L364.6,272.9L365.2,271.8L365.8,271.0L366.4,270.9L367.1,269.3L367.7,267.7L368.3,265.3L369.0,263.2L369.6,261.3L370.2,259.4L370.9,259.4L371.5,261.7L372.1,263.8L372.7,266.3L373.4,268.0L374.0,270.1L374.6,270.3L375.3,271.2L375.9,271.7L376.5,272.9L377.1,273.2L377.8,273.4L378.4,273.2L379.0,273.8L379.7,274.4L380.3,274.3L380.9,274.5L381.5,274.2L382.2,274.1L382.8,273.3L383.4,273.9L384.1,273.7L384.7,274.5L385.3,274.5L386.0,275.0L386.6,275.0L387.2,274.8L387.8,274.7L388.5,274.5L389.1,274.9L389.7,274.4L390.4,273.8L391.0,274.1L391.6,274.1L392.2,274.1L392.9,273.7L393.5,273.7L394.1,273.9L394.8,274.3L395.4,274.4L396.0,274.1L396.7,273.6L397.3,273.6L397.9,273.8L398.5,274.0L399.2,273.6L399.8,274.2L400.4,274.1L401.1,273.2L401.7,274.2L402.3,273.9L402.9,273.9L403.6,273.6L404.2,273.6L404.8,273.1L405.5,274.2L406.1,273.8L406.7,273.4L407.4,272.5L408.0,271.9L408.6,270.1L409.2,269.0L409.9,268.3L410.5,268.5L411.1,269.4L411.8,270.3L412.4,270.7L413.0,270.8L413.6,271.5L414.3,270.9L414.9,270.6L415.5,270.7L416.2,270.0L416.8,269.3L417.4,269.4L418.0,268.6L418.7,267.7L419.3,267.1L419.9,266.3L420.6,264.6L421.2,262.1L421.8,259.7L422.5,255.1L423.1,250.3L423.7,242.7L424.3,231.1L425.0,218.1L425.6,203.8L426.2,190.4L426.9,183.6L427.5,186.9L428.1,197.9L428.7,212.2L429.4,225.1L430.0,235.7L430.6,243.7L431.3,250.2L431.9,254.3L432.5,257.3L433.2,259.4L433.8,260.4L434.4,260.6L435.0,261.1L435.7,260.0L436.3,259.4L436.9,257.6L437.6,255.3L438.2,251.9L438.8,248.0L439.4,242.3L440.1,234.3L440.7,223.3L441.3,209.8L442.0,194.4L442.6,179.3L443.2,169.0L443.9,167.2L444.5,176.1L445.1,188.9L445.7,204.6L446.4,219.1L447.0,230.5L447.6,240.1L448.3,247.2L448.9,252.0L449.5,254.7L450.1,257.0L450.8,257.9L451.4,258.0L452.0,258.1L452.7,256.7L453.3,254.8L453.9,252.0L454.6,247.9L455.2,243.3L455.8,239.8L456.4,237.7L457.1,238.5L457.7,241.4L458.3,246.5L459.0,251.4L459.6,255.3L460.2,259.1L460.8,261.9L461.5,263.7L462.1,265.0L462.7,266.4L463.4,266.8L464.0,267.1L464.6,267.4L465.2,267.7L465.9,267.5L466.5,267.5L467.1,268.1L467.8,268.2L468.4,268.2L469.0,268.4L469.7,268.7L470.3,269.1L470.9,269.5L471.5,269.3L472.2,269.5L472.8,269.8L473.4,269.3L474.1,269.0L474.7,268.3L475.3,268.2L475.9,268.1L476.6,268.3L477.2,268.8L477.8,268.6L478.5,268.7L479.1,268.2L479.7,267.7L480.4,267.3L481.0,266.9L481.6,265.7L482.2,265.3L482.9,264.4L483.5,263.4L484.1,262.2L484.8,261.5L485.4,260.4L486.0,258.7L486.6,258.5L487.3,258.4L487.9,258.8L488.5,260.1L489.2,260.4L489.8,260.6L490.4,260.9L491.1,260.5L491.7,259.5L492.3,259.0L492.9,256.5L493.6,253.8L494.2,251.2L494.8,251.3L495.5,253.5L496.1,255.6L496.7,258.8L497.3,260.3L498.0,262.5L498.6,263.4L499.2,263.6L499.9,263.9L500.5,263.9L501.1,263.6L501.7,263.2L502.4,263.2L503.0,262.0L503.6,260.3L504.3,258.7L504.9,256.6L505.5,252.0L506.2,246.5L506.8,237.1L507.4,223.2L508.0,208.2L508.7,191.9L509.3,177.5L509.9,171.4L510.6,176.8L511.2,189.6L511.8,205.3L512.4,219.8L513.1,231.8L513.7,240.9L514.3,246.2L515.0,249.3L515.6,249.7L516.2,247.4L516.9,243.4L517.5,235.5L518.1,224.8L518.7,209.1L519.4,189.5L520.0,169.9L520.6,152.6L521.3,143.6L521.9,147.5L522.5,162.3L523.1,182.7L523.8,202.8L524.4,220.3L525.0,233.4L525.7,242.7L526.3,248.8L526.9,251.8L527.6,252.8L528.2,252.8L528.8,249.7L529.4,247.3L530.1,243.6L530.7,240.8L531.3,238.9L532.0,241.5L532.6,246.0L533.2,250.4L533.8,254.4L534.5,258.1L535.1,260.9L535.7,263.2L536.4,264.7L537.0,264.8L537.6,264.9L538.2,265.1L538.9,265.5L539.5,265.9L540.1,266.3L540.8,266.2L541.4,266.1L542.0,265.6L542.7,265.3L543.3,265.6L543.9,265.5L544.5,266.2L545.2,265.5L545.8,265.9L546.4,264.2L547.1,264.2L547.7,263.3L548.3,262.1L548.9,261.2L549.6,259.7L550.2,257.9L550.8,255.7L551.5,252.8L552.1,247.5L552.7,242.9L553.4,236.7L554.0,229.0L554.6,221.1L555.2,211.8L555.9,202.6L556.5,193.4L557.1,186.1L557.8,180.7L558.4,180.2L559.0,183.2L559.6,188.5L560.3,195.4L560.9,203.2L561.5,209.4L562.2,215.9L562.8,220.1L563.4,223.0L564.1,224.9L564.7,226.3L565.3,227.9L565.9,228.9L566.6,230.0L567.2,231.3L567.8,232.8L568.5,234.6L569.1,237.4L569.7,240.1L570.3,242.6L571.0,245.3L571.6,247.1L572.2,249.7L572.9,251.3L573.5,253.0L574.1,254.2L574.7,255.2L575.4,257.3L576.0,258.3L576.6,259.5L577.3,259.9L577.9,261.5L578.5,262.3L579.2,262.5L579.8,262.8L580.4,263.6L581.0,264.4L581.7,265.6L582.3,265.3L582.9,266.7L583.6,267.6L584.2,268.5L584.8,268.2L585.4,269.0L586.1,270.0L586.7,270.6L587.3,271.4L588.0,271.1L588.6,271.7L589.2,271.9L589.9,272.5L590.5,271.8L591.1,272.7L591.7,272.4L592.4,273.3L593.0,273.0L593.6,273.6L594.3,273.9L594.9,274.1L595.5,273.8L596.1,274.1L596.8,274.1L597.4,274.3L598.0,274.1L598.7,273.3L599.3,273.1L599.9,272.6L600.6,272.3L601.2,272.2L601.8,272.1L602.4,272.8L603.1,273.3L603.7,273.3L604.3,273.1L605.0,272.8L605.6,273.5L606.2,274.0L606.8,273.7L607.5,274.3L608.1,274.6L608.7,274.4L609.4,275.0L610.0,275.4L610.6,275.7L611.3,276.4L611.9,276.4L612.5,276.4L613.1,276.3L613.8,276.6L614.4,276.8L615.0,276.7L615.7,276.5L616.3,276.6L616.9,277.0L617.5,276.8L618.2,277.2L618.8,276.9L619.4,276.6L620.1,276.4L620.7,276.5L621.3,277.2L621.9,276.8L622.6,277.1L623.2,277.7L623.8,277.8L624.5,277.6L625.1,277.5L625.7,277.0L626.4,276.8L627.0,276.8L627.6,277.3L628.2,277.6L628.9,277.4L629.5,277.9L630.1,277.4L630.8,277.6L631.4,277.5L632.0,277.7L632.6,277.9L633.3,277.7L633.9,277.9L634.5,277.4L635.2,277.2L635.8,277.7L636.4,277.3L637.1,277.0L637.7,277.2L638.3,277.5L638.9,277.8L639.6,276.9L640.2,276.6L640.8,277.7L641.5,277.6L642.1,277.9L642.7,277.8L643.3,278.7L644.0,278.5L644.6,278.1L645.2,277.8L645.9,277.8L646.5,278.1L647.1,277.7L647.8,277.8L648.4,278.1L649.0,277.4L649.6,277.7L650.3,278.2L650.9,277.9L651.5,278.1L652.2,278.5L652.8,278.6L653.4,277.7L654.0,278.7L654.7,278.4L655.3,277.8L655.9,278.1L656.6,277.7L657.2,278.3L657.8,278.6L658.4,278.8L659.1,278.1L659.7,278.1L660.3,278.1L661.0,278.5L661.6,277.7L662.2,277.6L662.9,278.2L663.5,277.8L664.1,278.3L664.7,277.9L665.4,277.7L666.0,278.2L666.6,277.7L667.3,278.2L667.9,277.8L668.5,277.8L669.1,278.1" fill="none" stroke="#ff0808" stroke-width="1.6" stroke-linejoin="round"/>
<path d="M264.8,292.0L265.4,292.0L266.0,291.4L266.7,291.6L267.3,291.3L268.0,291.8L268.6,291.5L269.2,291.9L269.9,291.4L270.5,290.7L271.2,290.4L271.8,289.7L272.4,289.6L273.1,288.3L273.7,287.8L274.4,287.9L275.0,288.1L275.7,289.2L276.3,289.7L276.9,289.6L277.6,290.1L278.2,289.9L278.9,289.8L279.5,288.5L280.1,288.0L280.8,288.2L281.4,288.8L282.1,289.0L282.7,289.7L283.3,290.3L284.0,291.2L284.6,291.7L285.3,292.3L285.9,291.9L286.5,291.3L287.2,292.3L287.8,291.6L288.5,291.4L289.1,291.5L289.7,291.9L290.4,292.2L291.0,292.4L291.7,292.0L292.3,292.0L292.9,292.3L293.6,292.3L294.2,291.7L294.9,291.6L295.5,291.7L296.2,291.2L296.8,290.9L297.4,290.1L298.1,289.6L298.7,288.8L299.4,288.6L300.0,288.7L300.6,288.4L301.3,288.7L301.9,288.7L302.6,289.5L303.2,290.6L303.8,291.0L304.5,291.2L305.1,291.4L305.8,291.6L306.4,290.7L307.0,290.4L307.7,290.2L308.3,290.6L309.0,291.2L309.6,291.1L310.2,291.4L310.9,292.1L311.5,292.4L312.2,292.0L312.8,292.4L313.5,292.1L314.1,292.3L314.7,291.5L315.4,291.1L316.0,289.1L316.7,286.1L317.3,281.4L317.9,274.5L318.6,272.0L319.2,276.9L319.9,282.8L320.5,287.0L321.1,289.5L321.8,290.1L322.4,290.9L323.1,291.1L323.7,291.9L324.3,291.0L325.0,291.7L325.6,291.8L326.3,291.5L326.9,291.2L327.5,291.9L328.2,291.6L328.8,291.7L329.5,292.2L330.1,292.7L330.7,292.8L331.4,292.6L332.0,292.4L332.7,292.7L333.3,292.1L334.0,291.6L334.6,292.8L335.2,292.1L335.9,292.2L336.5,292.4L337.2,292.5L337.8,292.5L338.4,292.9L339.1,292.4L339.7,292.2L340.4,291.7L341.0,291.4L341.6,291.5L342.3,290.5L342.9,289.4L343.6,289.9L344.2,289.6L344.8,289.2L345.5,289.7L346.1,289.2L346.8,290.0L347.4,291.0L348.0,291.3L348.7,291.3L349.3,291.4L350.0,291.2L350.6,290.7L351.3,290.3L351.9,289.5L352.5,289.3L353.2,289.0L353.8,288.0L354.5,287.6L355.1,285.1L355.7,282.2L356.4,279.2L357.0,276.7L357.7,275.3L358.3,276.3L358.9,277.5L359.6,279.8L360.2,282.4L360.9,284.9L361.5,286.5L362.1,288.1L362.8,289.1L363.4,289.9L364.1,290.3L364.7,290.9L365.3,290.5L366.0,290.9L366.6,291.9L367.3,291.5L367.9,290.8L368.5,291.5L369.2,291.6L369.8,291.1L370.5,291.1L371.1,291.5L371.8,291.4L372.4,291.8L373.0,292.0L373.7,291.9L374.3,292.2L375.0,292.4L375.6,291.5L376.2,291.7L376.9,291.7L377.5,291.9L378.2,291.9L378.8,292.7L379.4,293.0L380.1,292.5L380.7,291.9L381.4,291.4L382.0,291.4L382.6,292.1L383.3,291.4L383.9,291.6L384.6,292.1L385.2,291.6L385.8,292.0L386.5,291.7L387.1,291.9L387.8,291.7L388.4,291.4L389.1,290.6L389.7,291.0L390.3,291.3L391.0,290.9L391.6,291.1L392.3,291.0L392.9,291.0L393.5,290.8L394.2,290.5L394.8,290.2L395.5,289.6L396.1,288.8L396.7,288.7L397.4,287.0L398.0,286.2L398.7,287.2L399.3,288.3L399.9,289.1L400.6,289.3L401.2,288.9L401.9,288.7L402.5,288.3L403.1,288.4L403.8,287.9L404.4,287.5L405.1,287.7L405.7,286.7L406.3,286.2L407.0,285.6L407.6,284.8L408.3,284.0L408.9,281.6L409.6,279.6L410.2,276.5L410.8,272.0L411.5,265.7L412.1,257.3L412.8,246.4L413.4,232.3L414.0,216.3L414.7,202.0L415.3,195.0L416.0,198.6L416.6,210.6L417.2,225.1L417.9,239.2L418.5,251.3L419.2,260.4L419.8,267.0L420.4,271.5L421.1,274.5L421.7,276.1L422.4,276.8L423.0,276.8L423.6,275.7L424.3,276.0L424.9,275.2L425.6,273.7L426.2,272.0L426.9,268.5L427.5,262.7L428.1,254.3L428.8,244.2L429.4,230.7L430.1,215.2L430.7,197.5L431.3,179.7L432.0,168.0L432.6,166.1L433.3,175.4L433.9,191.5L434.5,209.1L435.2,226.3L435.8,240.3L436.5,251.5L437.1,259.9L437.7,265.3L438.4,268.6L439.0,271.9L439.7,274.3L440.3,274.2L440.9,274.6L441.6,273.3L442.2,270.9L442.9,267.4L443.5,262.9L444.1,257.9L444.8,254.4L445.4,252.5L446.1,253.5L446.7,257.2L447.4,262.1L448.0,267.0L448.6,271.4L449.3,274.8L449.9,277.5L450.6,279.8L451.2,281.0L451.8,281.7L452.5,283.6L453.1,283.2L453.8,284.3L454.4,284.2L455.0,284.6L455.7,285.0L456.3,285.2L457.0,285.4L457.6,285.3L458.2,285.6L458.9,286.2L459.5,285.8L460.2,285.6L460.8,284.9L461.4,285.0L462.1,285.3L462.7,285.1L463.4,285.2L464.0,284.7L464.7,284.9L465.3,285.0L465.9,284.4L466.6,284.9L467.2,285.5L467.9,285.3L468.5,284.3L469.1,284.2L469.8,283.6L470.4,283.3L471.1,284.3L471.7,282.4L472.3,281.9L473.0,280.9L473.6,279.7L474.3,277.9L474.9,276.5L475.5,276.5L476.2,275.9L476.8,275.5L477.5,275.6L478.1,275.3L478.7,276.5L479.4,277.2L480.0,277.4L480.7,277.3L481.3,276.2L481.9,275.3L482.6,272.7L483.2,270.0L483.9,267.9L484.5,268.0L485.2,270.1L485.8,272.2L486.4,275.1L487.1,277.2L487.7,279.3L488.4,279.8L489.0,279.8L489.6,280.8L490.3,281.2L490.9,280.7L491.6,280.1L492.2,279.2L492.8,278.7L493.5,277.9L494.1,276.7L494.8,273.2L495.4,269.4L496.0,263.0L496.7,253.5L497.3,239.4L498.0,223.4L498.6,205.8L499.2,191.4L499.9,185.0L500.5,189.7L501.2,203.6L501.8,220.0L502.5,235.3L503.1,247.8L503.7,256.7L504.4,262.5L505.0,266.0L505.7,265.7L506.3,264.0L506.9,259.0L507.6,250.8L508.2,239.0L508.9,222.4L509.5,202.9L510.1,181.1L510.8,162.1L511.4,153.0L512.1,156.2L512.7,172.3L513.3,194.0L514.0,215.1L514.6,233.5L515.3,247.8L515.9,257.5L516.5,264.1L517.2,266.9L517.8,268.0L518.5,267.7L519.1,265.1L519.7,260.4L520.4,256.3L521.0,252.6L521.7,251.8L522.3,254.8L523.0,258.8L523.6,264.9L524.2,270.1L524.9,274.2L525.5,276.3L526.2,278.4L526.8,279.8L527.4,281.4L528.1,282.3L528.7,282.3L529.4,281.7L530.0,282.0L530.6,282.5L531.3,282.5L531.9,282.9L532.6,282.6L533.2,283.1L533.8,282.6L534.5,282.4L535.1,282.3L535.8,281.3L536.4,281.0L537.0,280.9L537.7,280.0L538.3,279.4L539.0,278.7L539.6,278.5L540.3,277.4L540.9,274.4L541.5,271.9L542.2,268.9L542.8,264.5L543.5,258.9L544.1,252.5L544.7,243.6L545.4,235.4L546.0,226.2L546.7,216.2L547.3,207.4L547.9,199.7L548.6,195.2L549.2,193.9L549.9,196.2L550.5,201.7L551.1,209.0L551.8,217.0L552.4,224.1L553.1,229.0L553.7,232.8L554.3,236.4L555.0,239.2L555.6,239.4L556.3,240.3L556.9,241.0L557.6,241.1L558.2,243.1L558.8,245.5L559.5,248.3L560.1,250.7L560.8,253.5L561.4,256.2L562.0,259.8L562.7,262.3L563.3,265.1L564.0,267.4L564.6,269.7L565.2,270.0L565.9,272.3L566.5,274.1L567.2,275.7L567.8,275.8L568.4,275.7L569.1,276.8L569.7,278.6L570.4,279.1L571.0,280.0L571.6,280.7L572.3,281.0L572.9,282.1L573.6,282.6L574.2,283.0L574.8,284.4L575.5,285.1L576.1,285.1L576.8,285.6L577.4,286.0L578.1,287.0L578.7,286.8L579.3,287.8L580.0,287.7L580.6,289.1L581.3,289.1L581.9,289.3L582.5,289.7L583.2,289.2L583.8,289.4L584.5,289.6L585.1,290.0L585.7,290.2L586.4,290.0L587.0,290.1L587.7,290.5L588.3,290.1L588.9,290.2L589.6,289.7L590.2,289.9L590.9,289.8L591.5,289.2L592.1,288.8L592.8,288.8L593.4,288.7L594.1,288.5L594.7,288.4L595.4,290.1L596.0,290.4L596.6,290.3L597.3,290.9L597.9,291.2L598.6,291.6L599.2,292.4L599.8,292.7L600.5,292.1L601.1,291.9L601.8,292.3L602.4,292.6L603.0,292.2L603.7,292.1L604.3,293.0L605.0,293.2L605.6,293.6L606.2,293.9L606.9,293.2L607.5,292.2L608.2,292.8L608.8,292.9L609.4,293.9L610.1,293.5L610.7,293.3L611.4,293.5L612.0,293.1L612.6,292.7L613.3,292.6L613.9,292.7L614.6,294.0L615.2,293.6L615.9,293.9L616.5,294.0L617.1,294.4L617.8,294.1L618.4,294.2L619.1,293.5L619.7,293.5L620.3,293.8L621.0,293.6L621.6,293.6L622.3,293.8L622.9,293.9L623.5,293.8L624.2,294.2L624.8,294.7L625.5,294.4L626.1,294.7L626.7,294.2L627.4,294.3L628.0,294.8L628.7,294.4L629.3,294.1L629.9,294.6L630.6,294.7L631.2,294.8L631.9,294.8L632.5,294.6L633.2,294.9L633.8,294.5L634.4,294.5L635.1,294.8L635.7,295.3L636.4,294.9L637.0,295.5L637.6,295.3L638.3,294.8L638.9,294.5L639.6,294.8L640.2,295.2L640.8,295.0L641.5,295.0L642.1,294.8L642.8,294.1L643.4,294.3L644.0,294.6L644.7,294.8L645.3,295.2L646.0,295.8L646.6,294.8L647.2,294.4L647.9,294.6L648.5,295.5L649.2,295.7L649.8,295.7L650.4,295.6L651.1,295.4L651.7,295.1L652.4,295.6L653.0,295.8L653.7,296.0L654.3,295.2L654.9,295.4L655.6,294.7L656.2,294.5L656.9,294.6L657.5,295.1L658.1,294.8L658.8,295.3L659.4,294.6L660.1,294.2L660.7,294.7L661.3,294.7L662.0,295.1L662.0,307.7L264.8,307.7Z" fill="#fff"/>
<path d="M264.8,292.0L265.4,292.0L266.0,291.4L266.7,291.6L267.3,291.3L268.0,291.8L268.6,291.5L269.2,291.9L269.9,291.4L270.5,290.7L271.2,290.4L271.8,289.7L272.4,289.6L273.1,288.3L273.7,287.8L274.4,287.9L275.0,288.1L275.7,289.2L276.3,289.7L276.9,289.6L277.6,290.1L278.2,289.9L278.9,289.8L279.5,288.5L280.1,288.0L280.8,288.2L281.4,288.8L282.1,289.0L282.7,289.7L283.3,290.3L284.0,291.2L284.6,291.7L285.3,292.3L285.9,291.9L286.5,291.3L287.2,292.3L287.8,291.6L288.5,291.4L289.1,291.5L289.7,291.9L290.4,292.2L291.0,292.4L291.7,292.0L292.3,292.0L292.9,292.3L293.6,292.3L294.2,291.7L294.9,291.6L295.5,291.7L296.2,291.2L296.8,290.9L297.4,290.1L298.1,289.6L298.7,288.8L299.4,288.6L300.0,288.7L300.6,288.4L301.3,288.7L301.9,288.7L302.6,289.5L303.2,290.6L303.8,291.0L304.5,291.2L305.1,291.4L305.8,291.6L306.4,290.7L307.0,290.4L307.7,290.2L308.3,290.6L309.0,291.2L309.6,291.1L310.2,291.4L310.9,292.1L311.5,292.4L312.2,292.0L312.8,292.4L313.5,292.1L314.1,292.3L314.7,291.5L315.4,291.1L316.0,289.1L316.7,286.1L317.3,281.4L317.9,274.5L318.6,272.0L319.2,276.9L319.9,282.8L320.5,287.0L321.1,289.5L321.8,290.1L322.4,290.9L323.1,291.1L323.7,291.9L324.3,291.0L325.0,291.7L325.6,291.8L326.3,291.5L326.9,291.2L327.5,291.9L328.2,291.6L328.8,291.7L329.5,292.2L330.1,292.7L330.7,292.8L331.4,292.6L332.0,292.4L332.7,292.7L333.3,292.1L334.0,291.6L334.6,292.8L335.2,292.1L335.9,292.2L336.5,292.4L337.2,292.5L337.8,292.5L338.4,292.9L339.1,292.4L339.7,292.2L340.4,291.7L341.0,291.4L341.6,291.5L342.3,290.5L342.9,289.4L343.6,289.9L344.2,289.6L344.8,289.2L345.5,289.7L346.1,289.2L346.8,290.0L347.4,291.0L348.0,291.3L348.7,291.3L349.3,291.4L350.0,291.2L350.6,290.7L351.3,290.3L351.9,289.5L352.5,289.3L353.2,289.0L353.8,288.0L354.5,287.6L355.1,285.1L355.7,282.2L356.4,279.2L357.0,276.7L357.7,275.3L358.3,276.3L358.9,277.5L359.6,279.8L360.2,282.4L360.9,284.9L361.5,286.5L362.1,288.1L362.8,289.1L363.4,289.9L364.1,290.3L364.7,290.9L365.3,290.5L366.0,290.9L366.6,291.9L367.3,291.5L367.9,290.8L368.5,291.5L369.2,291.6L369.8,291.1L370.5,291.1L371.1,291.5L371.8,291.4L372.4,291.8L373.0,292.0L373.7,291.9L374.3,292.2L375.0,292.4L375.6,291.5L376.2,291.7L376.9,291.7L377.5,291.9L378.2,291.9L378.8,292.7L379.4,293.0L380.1,292.5L380.7,291.9L381.4,291.4L382.0,291.4L382.6,292.1L383.3,291.4L383.9,291.6L384.6,292.1L385.2,291.6L385.8,292.0L386.5,291.7L387.1,291.9L387.8,291.7L388.4,291.4L389.1,290.6L389.7,291.0L390.3,291.3L391.0,290.9L391.6,291.1L392.3,291.0L392.9,291.0L393.5,290.8L394.2,290.5L394.8,290.2L395.5,289.6L396.1,288.8L396.7,288.7L397.4,287.0L398.0,286.2L398.7,287.2L399.3,288.3L399.9,289.1L400.6,289.3L401.2,288.9L401.9,288.7L402.5,288.3L403.1,288.4L403.8,287.9L404.4,287.5L405.1,287.7L405.7,286.7L406.3,286.2L407.0,285.6L407.6,284.8L408.3,284.0L408.9,281.6L409.6,279.6L410.2,276.5L410.8,272.0L411.5,265.7L412.1,257.3L412.8,246.4L413.4,232.3L414.0,216.3L414.7,202.0L415.3,195.0L416.0,198.6L416.6,210.6L417.2,225.1L417.9,239.2L418.5,251.3L419.2,260.4L419.8,267.0L420.4,271.5L421.1,274.5L421.7,276.1L422.4,276.8L423.0,276.8L423.6,275.7L424.3,276.0L424.9,275.2L425.6,273.7L426.2,272.0L426.9,268.5L427.5,262.7L428.1,254.3L428.8,244.2L429.4,230.7L430.1,215.2L430.7,197.5L431.3,179.7L432.0,168.0L432.6,166.1L433.3,175.4L433.9,191.5L434.5,209.1L435.2,226.3L435.8,240.3L436.5,251.5L437.1,259.9L437.7,265.3L438.4,268.6L439.0,271.9L439.7,274.3L440.3,274.2L440.9,274.6L441.6,273.3L442.2,270.9L442.9,267.4L443.5,262.9L444.1,257.9L444.8,254.4L445.4,252.5L446.1,253.5L446.7,257.2L447.4,262.1L448.0,267.0L448.6,271.4L449.3,274.8L449.9,277.5L450.6,279.8L451.2,281.0L451.8,281.7L452.5,283.6L453.1,283.2L453.8,284.3L454.4,284.2L455.0,284.6L455.7,285.0L456.3,285.2L457.0,285.4L457.6,285.3L458.2,285.6L458.9,286.2L459.5,285.8L460.2,285.6L460.8,284.9L461.4,285.0L462.1,285.3L462.7,285.1L463.4,285.2L464.0,284.7L464.7,284.9L465.3,285.0L465.9,284.4L466.6,284.9L467.2,285.5L467.9,285.3L468.5,284.3L469.1,284.2L469.8,283.6L470.4,283.3L471.1,284.3L471.7,282.4L472.3,281.9L473.0,280.9L473.6,279.7L474.3,277.9L474.9,276.5L475.5,276.5L476.2,275.9L476.8,275.5L477.5,275.6L478.1,275.3L478.7,276.5L479.4,277.2L480.0,277.4L480.7,277.3L481.3,276.2L481.9,275.3L482.6,272.7L483.2,270.0L483.9,267.9L484.5,268.0L485.2,270.1L485.8,272.2L486.4,275.1L487.1,277.2L487.7,279.3L488.4,279.8L489.0,279.8L489.6,280.8L490.3,281.2L490.9,280.7L491.6,280.1L492.2,279.2L492.8,278.7L493.5,277.9L494.1,276.7L494.8,273.2L495.4,269.4L496.0,263.0L496.7,253.5L497.3,239.4L498.0,223.4L498.6,205.8L499.2,191.4L499.9,185.0L500.5,189.7L501.2,203.6L501.8,220.0L502.5,235.3L503.1,247.8L503.7,256.7L504.4,262.5L505.0,266.0L505.7,265.7L506.3,264.0L506.9,259.0L507.6,250.8L508.2,239.0L508.9,222.4L509.5,202.9L510.1,181.1L510.8,162.1L511.4,153.0L512.1,156.2L512.7,172.3L513.3,194.0L514.0,215.1L514.6,233.5L515.3,247.8L515.9,257.5L516.5,264.1L517.2,266.9L517.8,268.0L518.5,267.7L519.1,265.1L519.7,260.4L520.4,256.3L521.0,252.6L521.7,251.8L522.3,254.8L523.0,258.8L523.6,264.9L524.2,270.1L524.9,274.2L525.5,276.3L526.2,278.4L526.8,279.8L527.4,281.4L528.1,282.3L528.7,282.3L529.4,281.7L530.0,282.0L530.6,282.5L531.3,282.5L531.9,282.9L532.6,282.6L533.2,283.1L533.8,282.6L534.5,282.4L535.1,282.3L535.8,281.3L536.4,281.0L537.0,280.9L537.7,280.0L538.3,279.4L539.0,278.7L539.6,278.5L540.3,277.4L540.9,274.4L541.5,271.9L542.2,268.9L542.8,264.5L543.5,258.9L544.1,252.5L544.7,243.6L545.4,235.4L546.0,226.2L546.7,216.2L547.3,207.4L547.9,199.7L548.6,195.2L549.2,193.9L549.9,196.2L550.5,201.7L551.1,209.0L551.8,217.0L552.4,224.1L553.1,229.0L553.7,232.8L554.3,236.4L555.0,239.2L555.6,239.4L556.3,240.3L556.9,241.0L557.6,241.1L558.2,243.1L558.8,245.5L559.5,248.3L560.1,250.7L560.8,253.5L561.4,256.2L562.0,259.8L562.7,262.3L563.3,265.1L564.0,267.4L564.6,269.7L565.2,270.0L565.9,272.3L566.5,274.1L567.2,275.7L567.8,275.8L568.4,275.7L569.1,276.8L569.7,278.6L570.4,279.1L571.0,280.0L571.6,280.7L572.3,281.0L572.9,282.1L573.6,282.6L574.2,283.0L574.8,284.4L575.5,285.1L576.1,285.1L576.8,285.6L577.4,286.0L578.1,287.0L578.7,286.8L579.3,287.8L580.0,287.7L580.6,289.1L581.3,289.1L581.9,289.3L582.5,289.7L583.2,289.2L583.8,289.4L584.5,289.6L585.1,290.0L585.7,290.2L586.4,290.0L587.0,290.1L587.7,290.5L588.3,290.1L588.9,290.2L589.6,289.7L590.2,289.9L590.9,289.8L591.5,289.2L592.1,288.8L592.8,288.8L593.4,288.7L594.1,288.5L594.7,288.4L595.4,290.1L596.0,290.4L596.6,290.3L597.3,290.9L597.9,291.2L598.6,291.6L599.2,292.4L599.8,292.7L600.5,292.1L601.1,291.9L601.8,292.3L602.4,292.6L603.0,292.2L603.7,292.1L604.3,293.0L605.0,293.2L605.6,293.6L606.2,293.9L606.9,293.2L607.5,292.2L608.2,292.8L608.8,292.9L609.4,293.9L610.1,293.5L610.7,293.3L611.4,293.5L612.0,293.1L612.6,292.7L613.3,292.6L613.9,292.7L614.6,294.0L615.2,293.6L615.9,293.9L616.5,294.0L617.1,294.4L617.8,294.1L618.4,294.2L619.1,293.5L619.7,293.5L620.3,293.8L621.0,293.6L621.6,293.6L622.3,293.8L622.9,293.9L623.5,293.8L624.2,294.2L624.8,294.7L625.5,294.4L626.1,294.7L626.7,294.2L627.4,294.3L628.0,294.8L628.7,294.4L629.3,294.1L629.9,294.6L630.6,294.7L631.2,294.8L631.9,294.8L632.5,294.6L633.2,294.9L633.8,294.5L634.4,294.5L635.1,294.8L635.7,295.3L636.4,294.9L637.0,295.5L637.6,295.3L638.3,294.8L638.9,294.5L639.6,294.8L640.2,295.2L640.8,295.0L641.5,295.0L642.1,294.8L642.8,294.1L643.4,294.3L644.0,294.6L644.7,294.8L645.3,295.2L646.0,295.8L646.6,294.8L647.2,294.4L647.9,294.6L648.5,295.5L649.2,295.7L649.8,295.7L650.4,295.6L651.1,295.4L651.7,295.1L652.4,295.6L653.0,295.8L653.7,296.0L654.3,295.2L654.9,295.4L655.6,294.7L656.2,294.5L656.9,294.6L657.5,295.1L658.1,294.8L658.8,295.3L659.4,294.6L660.1,294.2L660.7,294.7L661.3,294.7L662.0,295.1" fill="none" stroke="#ff0808" stroke-width="1.6" stroke-linejoin="round"/>
<path d="M250.0,307.2L250.7,307.3L251.3,307.3L252.0,306.8L252.6,307.4L253.3,306.7L253.9,306.9L254.6,306.5L255.3,306.0L255.9,305.5L256.6,304.5L257.2,305.0L257.9,304.5L258.5,304.0L259.2,303.8L259.8,303.9L260.5,304.8L261.1,305.1L261.8,305.9L262.4,305.7L263.1,305.7L263.7,305.3L264.4,304.8L265.0,303.9L265.7,303.4L266.3,303.2L267.0,303.6L267.6,304.7L268.3,305.2L269.0,305.4L269.6,306.2L270.3,306.7L270.9,306.9L271.6,307.4L272.2,307.5L272.9,307.5L273.5,307.7L274.2,307.9L274.8,307.9L275.5,307.0L276.1,307.3L276.8,307.7L277.4,308.7L278.1,308.2L278.7,308.4L279.4,308.1L280.0,308.4L280.7,307.3L281.4,307.3L282.0,306.9L282.7,307.1L283.3,306.1L284.0,306.2L284.6,304.8L285.3,304.4L285.9,303.5L286.6,302.8L287.2,303.7L287.9,305.1L288.5,305.2L289.2,305.9L289.8,306.2L290.5,306.4L291.1,306.0L291.8,305.7L292.4,305.5L293.1,305.5L293.7,305.9L294.4,306.4L295.1,306.6L295.7,306.5L296.4,306.9L297.0,306.7L297.7,307.2L298.3,306.8L299.0,306.6L299.6,306.5L300.3,306.5L300.9,305.7L301.6,305.2L302.2,303.7L302.9,300.4L303.5,296.0L304.2,289.5L304.8,285.8L305.5,290.3L306.1,296.4L306.8,302.1L307.4,304.7L308.1,305.2L308.8,306.0L309.4,306.6L310.1,306.9L310.7,306.6L311.4,306.8L312.0,307.9L312.7,307.2L313.3,307.4L314.0,306.9L314.6,307.5L315.3,307.2L315.9,307.3L316.6,306.7L317.2,306.6L317.9,306.6L318.5,307.3L319.2,307.4L319.8,307.8L320.5,307.0L321.2,306.9L321.8,306.6L322.5,307.3L323.1,306.5L323.8,306.5L324.4,306.4L325.1,307.0L325.7,306.9L326.4,306.8L327.0,306.9L327.7,306.3L328.3,306.2L329.0,305.7L329.6,304.7L330.3,304.3L330.9,303.7L331.6,303.4L332.2,304.7L332.9,305.2L333.5,305.8L334.2,306.8L334.9,307.1L335.5,307.4L336.2,307.2L336.8,307.7L337.5,306.9L338.1,306.4L338.8,306.2L339.4,305.5L340.1,305.9L340.7,304.9L341.4,303.3L342.0,301.0L342.7,299.8L343.3,297.5L344.0,295.3L344.6,293.3L345.3,292.9L345.9,295.2L346.6,296.7L347.2,298.9L347.9,301.5L348.6,303.4L349.2,304.5L349.9,304.7L350.5,304.7L351.2,305.1L351.8,305.6L352.5,306.2L353.1,306.3L353.8,306.8L354.4,306.5L355.1,306.6L355.7,307.5L356.4,307.6L357.0,307.4L357.7,307.7L358.3,307.1L359.0,307.4L359.6,307.2L360.3,307.1L361.0,306.7L361.6,307.2L362.3,307.2L362.9,306.9L363.6,307.3L364.2,307.7L364.9,307.2L365.5,307.6L366.2,307.3L366.8,307.4L367.5,307.2L368.1,307.1L368.8,307.4L369.4,307.9L370.1,307.3L370.7,306.8L371.4,306.5L372.0,305.9L372.7,306.1L373.3,305.8L374.0,306.2L374.7,306.6L375.3,306.5L376.0,307.1L376.6,306.7L377.3,306.2L377.9,306.7L378.6,305.3L379.2,306.3L379.9,305.9L380.5,305.8L381.2,305.1L381.8,304.7L382.5,305.6L383.1,305.1L383.8,304.2L384.4,303.7L385.1,302.1L385.7,300.6L386.4,301.2L387.0,302.6L387.7,303.1L388.4,303.0L389.0,302.5L389.7,302.9L390.3,303.5L391.0,303.3L391.6,303.1L392.3,302.2L392.9,302.3L393.6,302.0L394.2,300.1L394.9,299.9L395.5,299.9L396.2,298.8L396.8,296.4L397.5,294.0L398.1,290.7L398.8,286.1L399.4,278.8L400.1,269.8L400.8,257.3L401.4,242.7L402.1,226.3L402.7,211.5L403.4,204.3L404.0,207.3L404.7,219.7L405.3,235.9L406.0,251.3L406.6,264.4L407.3,274.4L407.9,280.7L408.6,286.1L409.2,288.2L409.9,290.6L410.5,291.2L411.2,290.9L411.8,290.7L412.5,290.6L413.1,288.7L413.8,287.4L414.5,285.5L415.1,282.1L415.8,276.8L416.4,268.7L417.1,258.1L417.7,244.3L418.4,228.0L419.0,209.8L419.7,192.9L420.3,181.9L421.0,179.7L421.6,189.0L422.3,205.1L422.9,222.9L423.6,240.3L424.2,255.0L424.9,266.4L425.5,274.1L426.2,280.5L426.8,284.5L427.5,286.3L428.2,287.9L428.8,287.9L429.5,288.2L430.1,287.4L430.8,284.7L431.4,281.0L432.1,276.9L432.7,272.1L433.4,267.8L434.0,265.3L434.7,266.1L435.3,269.8L436.0,275.3L436.6,280.5L437.3,285.2L437.9,289.4L438.6,292.0L439.2,294.4L439.9,295.4L440.5,296.7L441.2,298.3L441.9,298.5L442.5,298.4L443.2,299.1L443.8,298.9L444.5,299.2L445.1,298.8L445.8,299.5L446.4,299.4L447.1,299.8L447.7,300.1L448.4,300.1L449.0,300.3L449.7,300.4L450.3,300.2L451.0,300.8L451.6,299.7L452.3,299.6L452.9,299.6L453.6,299.5L454.3,299.4L454.9,299.5L455.6,299.6L456.2,299.3L456.9,299.1L457.5,299.9L458.2,298.8L458.8,298.4L459.5,296.7L460.1,296.5L460.8,296.1L461.4,295.5L462.1,294.8L462.7,293.3L463.4,292.0L464.0,290.3L464.7,289.3L465.3,288.2L466.0,287.8L466.6,288.3L467.3,289.4L468.0,290.3L468.6,290.8L469.3,291.2L469.9,290.9L470.6,290.0L471.2,288.4L471.9,285.8L472.5,282.7L473.2,280.7L473.8,280.4L474.5,282.5L475.1,285.5L475.8,288.0L476.4,291.0L477.1,292.5L477.7,293.4L478.4,293.9L479.0,293.9L479.7,294.2L480.3,293.0L481.0,293.2L481.7,292.0L482.3,291.6L483.0,290.1L483.6,287.9L484.3,285.4L484.9,280.0L485.6,271.9L486.2,260.3L486.9,246.0L487.5,227.8L488.2,207.7L488.8,190.7L489.5,182.6L490.1,188.9L490.8,205.0L491.4,224.3L492.1,243.0L492.7,256.5L493.4,267.3L494.1,272.4L494.7,275.9L495.4,277.0L496.0,275.9L496.7,270.5L497.3,261.8L498.0,248.8L498.6,231.9L499.3,210.1L499.9,186.9L500.6,167.3L501.2,157.2L501.9,162.0L502.5,178.8L503.2,201.8L503.8,224.2L504.5,243.1L505.1,258.3L505.8,268.4L506.4,276.2L507.1,280.1L507.8,281.3L508.4,280.0L509.1,277.3L509.7,272.5L510.4,268.4L511.0,264.6L511.7,263.8L512.3,266.2L513.0,271.6L513.6,277.9L514.3,282.7L514.9,286.4L515.6,289.9L516.2,292.1L516.9,293.6L517.5,294.6L518.2,294.8L518.8,295.3L519.5,295.5L520.1,296.6L520.8,296.6L521.5,296.6L522.1,296.5L522.8,296.3L523.4,296.2L524.1,295.9L524.7,296.1L525.4,295.4L526.0,295.1L526.7,295.1L527.3,294.3L528.0,294.1L528.6,293.2L529.3,292.1L529.9,290.3L530.6,288.4L531.2,286.5L531.9,283.4L532.5,280.2L533.2,275.1L533.9,268.2L534.5,261.4L535.2,252.8L535.8,242.7L536.5,231.8L537.1,220.3L537.8,210.4L538.4,202.5L539.1,196.9L539.7,194.9L540.4,198.1L541.0,203.8L541.7,212.0L542.3,221.0L543.0,228.8L543.6,236.0L544.3,241.9L544.9,246.3L545.6,249.2L546.2,250.8L546.9,252.0L547.6,253.1L548.2,254.9L548.9,256.9L549.5,258.8L550.2,260.8L550.8,264.2L551.5,267.4L552.1,270.5L552.8,273.0L553.4,276.0L554.1,278.4L554.7,281.1L555.4,283.6L556.0,285.5L556.7,286.8L557.3,288.4L558.0,288.9L558.6,289.5L559.3,290.3L559.9,290.9L560.6,291.8L561.3,292.4L561.9,293.3L562.6,294.0L563.2,294.4L563.9,295.4L564.5,296.1L565.2,296.9L565.8,297.6L566.5,297.9L567.1,298.5L567.8,299.3L568.4,300.1L569.1,299.8L569.7,300.5L570.4,301.3L571.0,301.6L571.7,302.1L572.3,302.2L573.0,302.6L573.7,303.2L574.3,303.1L575.0,303.6L575.6,303.6L576.3,304.3L576.9,304.3L577.6,303.7L578.2,303.7L578.9,304.0L579.5,304.0L580.2,303.9L580.8,304.3L581.5,304.0L582.1,303.1L582.8,302.9L583.4,303.2L584.1,302.8L584.7,302.2L585.4,302.1L586.0,302.8L586.7,303.7L587.4,304.2L588.0,304.5L588.7,305.0L589.3,305.4L590.0,306.0L590.6,306.6L591.3,306.6L591.9,305.9L592.6,307.2L593.2,306.5L593.9,306.7L594.5,306.8L595.2,307.1L595.8,307.0L596.5,307.2L597.1,307.0L597.8,307.0L598.4,307.4L599.1,306.7L599.7,306.4L600.4,307.3L601.1,306.6L601.7,307.1L602.4,307.7L603.0,307.8L603.7,307.8L604.3,307.6L605.0,307.8L605.6,307.7L606.3,307.6L606.9,308.2L607.6,308.6L608.2,308.4L608.9,307.9L609.5,308.2L610.2,308.2L610.8,307.9L611.5,308.4L612.1,308.5L612.8,308.3L613.5,308.7L614.1,308.4L614.8,308.2L615.4,308.8L616.1,308.5L616.7,309.0L617.4,309.3L618.0,308.6L618.7,308.1L619.3,308.5L620.0,309.1L620.6,309.2L621.3,309.2L621.9,308.8L622.6,308.8L623.2,308.6L623.9,309.3L624.5,309.6L625.2,309.2L625.8,309.3L626.5,308.9L627.2,309.4L627.8,309.3L628.5,309.8L629.1,309.0L629.8,309.6L630.4,309.1L631.1,309.5L631.7,309.9L632.4,309.4L633.0,308.4L633.7,308.1L634.3,308.9L635.0,309.4L635.6,310.1L636.3,309.1L636.9,309.2L637.6,308.7L638.2,308.9L638.9,308.6L639.5,308.2L640.2,308.3L640.9,309.4L641.5,309.8L642.2,309.7L642.8,309.5L643.5,309.0L644.1,309.5L644.8,309.6L645.4,308.8L646.1,309.2L646.7,309.1L647.4,309.5L648.0,309.6L648.7,308.9L649.3,309.1L650.0,309.7L650.6,309.7L651.3,309.2L651.9,308.8L652.6,309.3L653.3,309.8L653.9,310.4L654.6,309.5L654.6,324.9L250.0,324.9Z" fill="#fff"/>
<path d="M250.0,307.2L250.7,307.3L251.3,307.3L252.0,306.8L252.6,307.4L253.3,306.7L253.9,306.9L254.6,306.5L255.3,306.0L255.9,305.5L256.6,304.5L257.2,305.0L257.9,304.5L258.5,304.0L259.2,303.8L259.8,303.9L260.5,304.8L261.1,305.1L261.8,305.9L262.4,305.7L263.1,305.7L263.7,305.3L264.4,304.8L265.0,303.9L265.7,303.4L266.3,303.2L267.0,303.6L267.6,304.7L268.3,305.2L269.0,305.4L269.6,306.2L270.3,306.7L270.9,306.9L271.6,307.4L272.2,307.5L272.9,307.5L273.5,307.7L274.2,307.9L274.8,307.9L275.5,307.0L276.1,307.3L276.8,307.7L277.4,308.7L278.1,308.2L278.7,308.4L279.4,308.1L280.0,308.4L280.7,307.3L281.4,307.3L282.0,306.9L282.7,307.1L283.3,306.1L284.0,306.2L284.6,304.8L285.3,304.4L285.9,303.5L286.6,302.8L287.2,303.7L287.9,305.1L288.5,305.2L289.2,305.9L289.8,306.2L290.5,306.4L291.1,306.0L291.8,305.7L292.4,305.5L293.1,305.5L293.7,305.9L294.4,306.4L295.1,306.6L295.7,306.5L296.4,306.9L297.0,306.7L297.7,307.2L298.3,306.8L299.0,306.6L299.6,306.5L300.3,306.5L300.9,305.7L301.6,305.2L302.2,303.7L302.9,300.4L303.5,296.0L304.2,289.5L304.8,285.8L305.5,290.3L306.1,296.4L306.8,302.1L307.4,304.7L308.1,305.2L308.8,306.0L309.4,306.6L310.1,306.9L310.7,306.6L311.4,306.8L312.0,307.9L312.7,307.2L313.3,307.4L314.0,306.9L314.6,307.5L315.3,307.2L315.9,307.3L316.6,306.7L317.2,306.6L317.9,306.6L318.5,307.3L319.2,307.4L319.8,307.8L320.5,307.0L321.2,306.9L321.8,306.6L322.5,307.3L323.1,306.5L323.8,306.5L324.4,306.4L325.1,307.0L325.7,306.9L326.4,306.8L327.0,306.9L327.7,306.3L328.3,306.2L329.0,305.7L329.6,304.7L330.3,304.3L330.9,303.7L331.6,303.4L332.2,304.7L332.9,305.2L333.5,305.8L334.2,306.8L334.9,307.1L335.5,307.4L336.2,307.2L336.8,307.7L337.5,306.9L338.1,306.4L338.8,306.2L339.4,305.5L340.1,305.9L340.7,304.9L341.4,303.3L342.0,301.0L342.7,299.8L343.3,297.5L344.0,295.3L344.6,293.3L345.3,292.9L345.9,295.2L346.6,296.7L347.2,298.9L347.9,301.5L348.6,303.4L349.2,304.5L349.9,304.7L350.5,304.7L351.2,305.1L351.8,305.6L352.5,306.2L353.1,306.3L353.8,306.8L354.4,306.5L355.1,306.6L355.7,307.5L356.4,307.6L357.0,307.4L357.7,307.7L358.3,307.1L359.0,307.4L359.6,307.2L360.3,307.1L361.0,306.7L361.6,307.2L362.3,307.2L362.9,306.9L363.6,307.3L364.2,307.7L364.9,307.2L365.5,307.6L366.2,307.3L366.8,307.4L367.5,307.2L368.1,307.1L368.8,307.4L369.4,307.9L370.1,307.3L370.7,306.8L371.4,306.5L372.0,305.9L372.7,306.1L373.3,305.8L374.0,306.2L374.7,306.6L375.3,306.5L376.0,307.1L376.6,306.7L377.3,306.2L377.9,306.7L378.6,305.3L379.2,306.3L379.9,305.9L380.5,305.8L381.2,305.1L381.8,304.7L382.5,305.6L383.1,305.1L383.8,304.2L384.4,303.7L385.1,302.1L385.7,300.6L386.4,301.2L387.0,302.6L387.7,303.1L388.4,303.0L389.0,302.5L389.7,302.9L390.3,303.5L391.0,303.3L391.6,303.1L392.3,302.2L392.9,302.3L393.6,302.0L394.2,300.1L394.9,299.9L395.5,299.9L396.2,298.8L396.8,296.4L397.5,294.0L398.1,290.7L398.8,286.1L399.4,278.8L400.1,269.8L400.8,257.3L401.4,242.7L402.1,226.3L402.7,211.5L403.4,204.3L404.0,207.3L404.7,219.7L405.3,235.9L406.0,251.3L406.6,264.4L407.3,274.4L407.9,280.7L408.6,286.1L409.2,288.2L409.9,290.6L410.5,291.2L411.2,290.9L411.8,290.7L412.5,290.6L413.1,288.7L413.8,287.4L414.5,285.5L415.1,282.1L415.8,276.8L416.4,268.7L417.1,258.1L417.7,244.3L418.4,228.0L419.0,209.8L419.7,192.9L420.3,181.9L421.0,179.7L421.6,189.0L422.3,205.1L422.9,222.9L423.6,240.3L424.2,255.0L424.9,266.4L425.5,274.1L426.2,280.5L426.8,284.5L427.5,286.3L428.2,287.9L428.8,287.9L429.5,288.2L430.1,287.4L430.8,284.7L431.4,281.0L432.1,276.9L432.7,272.1L433.4,267.8L434.0,265.3L434.7,266.1L435.3,269.8L436.0,275.3L436.6,280.5L437.3,285.2L437.9,289.4L438.6,292.0L439.2,294.4L439.9,295.4L440.5,296.7L441.2,298.3L441.9,298.5L442.5,298.4L443.2,299.1L443.8,298.9L444.5,299.2L445.1,298.8L445.8,299.5L446.4,299.4L447.1,299.8L447.7,300.1L448.4,300.1L449.0,300.3L449.7,300.4L450.3,300.2L451.0,300.8L451.6,299.7L452.3,299.6L452.9,299.6L453.6,299.5L454.3,299.4L454.9,299.5L455.6,299.6L456.2,299.3L456.9,299.1L457.5,299.9L458.2,298.8L458.8,298.4L459.5,296.7L460.1,296.5L460.8,296.1L461.4,295.5L462.1,294.8L462.7,293.3L463.4,292.0L464.0,290.3L464.7,289.3L465.3,288.2L466.0,287.8L466.6,288.3L467.3,289.4L468.0,290.3L468.6,290.8L469.3,291.2L469.9,290.9L470.6,290.0L471.2,288.4L471.9,285.8L472.5,282.7L473.2,280.7L473.8,280.4L474.5,282.5L475.1,285.5L475.8,288.0L476.4,291.0L477.1,292.5L477.7,293.4L478.4,293.9L479.0,293.9L479.7,294.2L480.3,293.0L481.0,293.2L481.7,292.0L482.3,291.6L483.0,290.1L483.6,287.9L484.3,285.4L484.9,280.0L485.6,271.9L486.2,260.3L486.9,246.0L487.5,227.8L488.2,207.7L488.8,190.7L489.5,182.6L490.1,188.9L490.8,205.0L491.4,224.3L492.1,243.0L492.7,256.5L493.4,267.3L494.1,272.4L494.7,275.9L495.4,277.0L496.0,275.9L496.7,270.5L497.3,261.8L498.0,248.8L498.6,231.9L499.3,210.1L499.9,186.9L500.6,167.3L501.2,157.2L501.9,162.0L502.5,178.8L503.2,201.8L503.8,224.2L504.5,243.1L505.1,258.3L505.8,268.4L506.4,276.2L507.1,280.1L507.8,281.3L508.4,280.0L509.1,277.3L509.7,272.5L510.4,268.4L511.0,264.6L511.7,263.8L512.3,266.2L513.0,271.6L513.6,277.9L514.3,282.7L514.9,286.4L515.6,289.9L516.2,292.1L516.9,293.6L517.5,294.6L518.2,294.8L518.8,295.3L519.5,295.5L520.1,296.6L520.8,296.6L521.5,296.6L522.1,296.5L522.8,296.3L523.4,296.2L524.1,295.9L524.7,296.1L525.4,295.4L526.0,295.1L526.7,295.1L527.3,294.3L528.0,294.1L528.6,293.2L529.3,292.1L529.9,290.3L530.6,288.4L531.2,286.5L531.9,283.4L532.5,280.2L533.2,275.1L533.9,268.2L534.5,261.4L535.2,252.8L535.8,242.7L536.5,231.8L537.1,220.3L537.8,210.4L538.4,202.5L539.1,196.9L539.7,194.9L540.4,198.1L541.0,203.8L541.7,212.0L542.3,221.0L543.0,228.8L543.6,236.0L544.3,241.9L544.9,246.3L545.6,249.2L546.2,250.8L546.9,252.0L547.6,253.1L548.2,254.9L548.9,256.9L549.5,258.8L550.2,260.8L550.8,264.2L551.5,267.4L552.1,270.5L552.8,273.0L553.4,276.0L554.1,278.4L554.7,281.1L555.4,283.6L556.0,285.5L556.7,286.8L557.3,288.4L558.0,288.9L558.6,289.5L559.3,290.3L559.9,290.9L560.6,291.8L561.3,292.4L561.9,293.3L562.6,294.0L563.2,294.4L563.9,295.4L564.5,296.1L565.2,296.9L565.8,297.6L566.5,297.9L567.1,298.5L567.8,299.3L568.4,300.1L569.1,299.8L569.7,300.5L570.4,301.3L571.0,301.6L571.7,302.1L572.3,302.2L573.0,302.6L573.7,303.2L574.3,303.1L575.0,303.6L575.6,303.6L576.3,304.3L576.9,304.3L577.6,303.7L578.2,303.7L578.9,304.0L579.5,304.0L580.2,303.9L580.8,304.3L581.5,304.0L582.1,303.1L582.8,302.9L583.4,303.2L584.1,302.8L584.7,302.2L585.4,302.1L586.0,302.8L586.7,303.7L587.4,304.2L588.0,304.5L588.7,305.0L589.3,305.4L590.0,306.0L590.6,306.6L591.3,306.6L591.9,305.9L592.6,307.2L593.2,306.5L593.9,306.7L594.5,306.8L595.2,307.1L595.8,307.0L596.5,307.2L597.1,307.0L597.8,307.0L598.4,307.4L599.1,306.7L599.7,306.4L600.4,307.3L601.1,306.6L601.7,307.1L602.4,307.7L603.0,307.8L603.7,307.8L604.3,307.6L605.0,307.8L605.6,307.7L606.3,307.6L606.9,308.2L607.6,308.6L608.2,308.4L608.9,307.9L609.5,308.2L610.2,308.2L610.8,307.9L611.5,308.4L612.1,308.5L612.8,308.3L613.5,308.7L614.1,308.4L614.8,308.2L615.4,308.8L616.1,308.5L616.7,309.0L617.4,309.3L618.0,308.6L618.7,308.1L619.3,308.5L620.0,309.1L620.6,309.2L621.3,309.2L621.9,308.8L622.6,308.8L623.2,308.6L623.9,309.3L624.5,309.6L625.2,309.2L625.8,309.3L626.5,308.9L627.2,309.4L627.8,309.3L628.5,309.8L629.1,309.0L629.8,309.6L630.4,309.1L631.1,309.5L631.7,309.9L632.4,309.4L633.0,308.4L633.7,308.1L634.3,308.9L635.0,309.4L635.6,310.1L636.3,309.1L636.9,309.2L637.6,308.7L638.2,308.9L638.9,308.6L639.5,308.2L640.2,308.3L640.9,309.4L641.5,309.8L642.2,309.7L642.8,309.5L643.5,309.0L644.1,309.5L644.8,309.6L645.4,308.8L646.1,309.2L646.7,309.1L647.4,309.5L648.0,309.6L648.7,308.9L649.3,309.1L650.0,309.7L650.6,309.7L651.3,309.2L651.9,308.8L652.6,309.3L653.3,309.8L653.9,310.4L654.6,309.5" fill="none" stroke="#ff0808" stroke-width="1.6" stroke-linejoin="round"/>
<path d="M234.8,326.9L235.4,327.0L236.1,327.2L236.8,326.4L237.4,326.9L238.1,326.3L238.8,326.7L239.4,326.8L240.1,326.2L240.7,325.9L241.4,325.8L242.1,324.9L242.7,324.1L243.4,323.2L244.1,322.7L244.7,322.8L245.4,323.5L246.1,324.4L246.7,324.9L247.4,324.5L248.1,325.0L248.7,324.7L249.4,324.4L250.1,323.9L250.7,323.0L251.4,323.2L252.0,323.6L252.7,324.6L253.4,325.7L254.0,326.2L254.7,326.6L255.4,326.7L256.0,326.9L256.7,326.5L257.4,326.5L258.0,326.3L258.7,326.3L259.4,327.1L260.0,327.5L260.7,327.8L261.4,327.2L262.0,327.2L262.7,327.6L263.3,327.2L264.0,327.5L264.7,327.6L265.3,327.4L266.0,327.2L266.7,326.4L267.3,326.7L268.0,326.9L268.7,326.3L269.3,325.6L270.0,325.3L270.7,325.1L271.3,324.4L272.0,323.3L272.7,323.1L273.3,323.9L274.0,325.1L274.6,326.0L275.3,325.9L276.0,326.2L276.6,325.8L277.3,326.0L278.0,325.9L278.6,325.8L279.3,325.6L280.0,326.5L280.6,326.7L281.3,327.8L282.0,327.2L282.6,327.4L283.3,327.6L283.9,328.2L284.6,328.1L285.3,327.9L285.9,327.1L286.6,325.4L287.3,325.0L287.9,324.0L288.6,321.0L289.3,316.1L289.9,308.5L290.6,305.0L291.3,310.1L291.9,317.7L292.6,321.9L293.3,324.7L293.9,326.0L294.6,326.4L295.2,326.8L295.9,326.7L296.6,327.3L297.2,327.6L297.9,327.9L298.6,327.2L299.2,327.0L299.9,327.4L300.6,328.2L301.2,328.4L301.9,327.8L302.6,327.4L303.2,327.1L303.9,327.3L304.6,327.2L305.2,327.8L305.9,327.8L306.5,327.8L307.2,328.4L307.9,328.6L308.5,328.5L309.2,328.0L309.9,328.4L310.5,327.4L311.2,327.1L311.9,327.5L312.5,327.4L313.2,327.3L313.9,327.2L314.5,326.6L315.2,326.0L315.9,325.2L316.5,324.4L317.2,325.0L317.8,325.7L318.5,326.3L319.2,325.9L319.8,326.6L320.5,326.9L321.2,328.0L321.8,327.4L322.5,326.6L323.2,326.8L323.8,327.2L324.5,327.1L325.2,326.5L325.8,326.0L326.5,326.0L327.2,325.2L327.8,324.0L328.5,322.4L329.1,320.9L329.8,318.7L330.5,317.4L331.1,316.8L331.8,317.4L332.5,319.0L333.1,320.4L333.8,321.3L334.5,323.5L335.1,325.3L335.8,325.6L336.5,326.8L337.1,327.3L337.8,327.8L338.5,327.6L339.1,327.0L339.8,327.4L340.4,327.6L341.1,327.3L341.8,328.4L342.4,328.8L343.1,328.7L343.8,328.5L344.4,328.7L345.1,328.2L345.8,328.8L346.4,328.1L347.1,328.5L347.8,328.3L348.4,328.0L349.1,328.5L349.8,328.1L350.4,326.9L351.1,327.7L351.7,328.1L352.4,328.6L353.1,328.2L353.7,328.8L354.4,328.4L355.1,327.5L355.7,328.4L356.4,328.5L357.1,328.6L357.7,327.9L358.4,328.0L359.1,328.9L359.7,328.2L360.4,327.9L361.1,327.4L361.7,327.6L362.4,327.9L363.0,327.3L363.7,327.3L364.4,327.9L365.0,327.1L365.7,327.6L366.4,327.5L367.0,327.7L367.7,327.5L368.4,328.1L369.0,326.6L369.7,327.2L370.4,326.6L371.0,326.3L371.7,325.1L372.3,324.0L373.0,323.7L373.7,323.9L374.3,325.0L375.0,325.5L375.7,325.8L376.3,325.4L377.0,326.1L377.7,325.7L378.3,325.3L379.0,324.3L379.7,324.0L380.3,323.7L381.0,323.1L381.7,323.6L382.3,322.7L383.0,321.4L383.6,320.1L384.3,319.4L385.0,317.5L385.6,314.8L386.3,311.3L387.0,306.3L387.6,299.3L388.3,289.4L389.0,277.1L389.6,263.1L390.3,251.1L391.0,244.7L391.6,246.8L392.3,256.2L393.0,270.1L393.6,282.4L394.3,293.1L394.9,302.2L395.6,307.0L396.3,310.7L396.9,313.1L397.6,314.6L398.3,315.2L398.9,315.4L399.6,314.9L400.3,314.3L400.9,314.0L401.6,312.0L402.3,310.6L402.9,307.9L403.6,303.1L404.3,295.5L404.9,286.9L405.6,274.7L406.2,261.0L406.9,245.0L407.6,230.2L408.2,219.8L408.9,218.6L409.6,227.1L410.2,241.2L410.9,256.9L411.6,271.5L412.2,282.7L412.9,292.3L413.6,299.4L414.2,304.6L414.9,308.7L415.6,311.2L416.2,312.5L416.9,313.5L417.5,313.3L418.2,311.8L418.9,309.9L419.5,307.5L420.2,303.2L420.9,299.2L421.5,296.6L422.2,293.7L422.9,293.9L423.5,298.0L424.2,302.0L424.9,306.4L425.5,310.9L426.2,315.2L426.9,317.5L427.5,319.5L428.2,320.1L428.8,320.8L429.5,322.1L430.2,322.3L430.8,322.0L431.5,322.6L432.2,322.8L432.8,322.4L433.5,322.5L434.2,323.0L434.8,322.8L435.5,323.4L436.2,323.8L436.8,324.3L437.5,324.5L438.2,324.4L438.8,323.2L439.5,323.1L440.1,323.1L440.8,322.8L441.5,322.6L442.1,323.1L442.8,323.0L443.5,323.4L444.1,322.4L444.8,322.8L445.5,322.6L446.1,322.4L446.8,321.7L447.5,321.5L448.1,321.3L448.8,320.7L449.5,320.3L450.1,319.8L450.8,318.6L451.4,317.8L452.1,316.8L452.8,314.9L453.4,314.8L454.1,314.0L454.8,314.4L455.4,315.4L456.1,315.6L456.8,316.3L457.4,316.9L458.1,316.8L458.8,317.3L459.4,316.1L460.1,314.0L460.7,312.4L461.4,309.7L462.1,307.7L462.7,307.2L463.4,308.3L464.1,310.6L464.7,313.6L465.4,316.3L466.1,317.3L466.7,318.4L467.4,319.1L468.1,319.4L468.7,319.3L469.4,318.7L470.1,317.7L470.7,318.7L471.4,317.6L472.0,316.6L472.7,315.5L473.4,313.8L474.0,309.7L474.7,304.1L475.4,295.6L476.0,283.8L476.7,270.1L477.4,256.0L478.0,243.3L478.7,238.4L479.4,241.6L480.0,253.2L480.7,267.2L481.4,280.3L482.0,290.9L482.7,299.0L483.3,303.8L484.0,306.0L484.7,306.5L485.3,304.4L486.0,300.1L486.7,293.4L487.3,282.0L488.0,268.1L488.7,248.7L489.3,229.8L490.0,213.6L490.7,205.4L491.3,209.5L492.0,222.9L492.7,241.9L493.3,260.7L494.0,277.1L494.6,289.8L495.3,298.7L496.0,304.5L496.6,307.9L497.3,308.5L498.0,307.9L498.6,305.4L499.3,302.2L500.0,299.3L500.6,295.4L501.3,294.3L502.0,296.4L502.6,300.9L503.3,305.7L504.0,309.5L504.6,313.2L505.3,315.3L505.9,318.1L506.6,319.0L507.3,320.7L507.9,320.8L508.6,320.7L509.3,321.3L509.9,321.3L510.6,322.3L511.3,322.2L511.9,322.5L512.6,321.9L513.3,321.9L513.9,321.5L514.6,321.1L515.3,320.3L515.9,319.9L516.6,319.9L517.2,319.8L517.9,319.6L518.6,319.4L519.2,318.9L519.9,318.0L520.6,316.0L521.2,313.7L521.9,311.6L522.6,308.4L523.2,304.4L523.9,299.6L524.6,293.2L525.2,285.9L525.9,277.5L526.6,268.4L527.2,259.4L527.9,250.5L528.5,244.1L529.2,239.3L529.9,238.5L530.5,240.8L531.2,245.9L531.9,253.0L532.5,260.3L533.2,266.9L533.9,272.8L534.5,277.0L535.2,280.3L535.9,282.3L536.5,283.9L537.2,284.9L537.9,285.4L538.5,286.5L539.2,287.6L539.8,289.4L540.5,291.9L541.2,294.8L541.8,296.9L542.5,298.8L543.2,301.3L543.8,303.8L544.5,306.7L545.2,309.4L545.8,310.3L546.5,312.2L547.2,313.4L547.8,314.3L548.5,315.5L549.2,315.6L549.8,316.5L550.5,317.0L551.1,318.4L551.8,318.4L552.5,319.1L553.1,320.1L553.8,320.2L554.5,320.9L555.1,321.1L555.8,322.5L556.5,323.9L557.1,323.7L557.8,324.3L558.5,324.8L559.1,325.4L559.8,325.7L560.4,326.1L561.1,326.1L561.8,326.2L562.4,326.9L563.1,327.4L563.8,327.9L564.4,328.2L565.1,328.1L565.8,328.2L566.4,328.3L567.1,329.1L567.8,329.7L568.4,328.8L569.1,328.9L569.8,329.6L570.4,329.6L571.1,329.3L571.7,328.7L572.4,328.2L573.1,328.4L573.7,327.7L574.4,328.3L575.1,327.5L575.7,327.8L576.4,326.5L577.1,326.9L577.7,327.3L578.4,328.3L579.1,328.5L579.7,328.7L580.4,329.2L581.1,329.6L581.7,329.9L582.4,330.2L583.0,330.5L583.7,330.2L584.4,330.2L585.0,330.6L585.7,330.9L586.4,331.6L587.0,331.9L587.7,331.3L588.4,330.9L589.0,331.0L589.7,331.1L590.4,331.3L591.0,330.8L591.7,330.5L592.4,330.9L593.0,331.5L593.7,330.9L594.3,331.6L595.0,331.7L595.7,332.2L596.3,332.3L597.0,332.1L597.7,332.5L598.3,332.8L599.0,332.4L599.7,331.8L600.3,331.5L601.0,331.9L601.7,332.4L602.3,332.3L603.0,332.0L603.7,332.5L604.3,332.0L605.0,332.7L605.6,333.4L606.3,333.0L607.0,333.1L607.6,332.3L608.3,333.2L609.0,332.8L609.6,332.6L610.3,331.9L611.0,332.0L611.6,332.9L612.3,332.3L613.0,332.2L613.6,332.7L614.3,332.7L615.0,332.8L615.6,333.5L616.3,333.4L616.9,333.2L617.6,333.6L618.3,333.6L618.9,333.2L619.6,333.3L620.3,333.2L620.9,332.8L621.6,332.5L622.3,333.1L622.9,333.2L623.6,333.3L624.3,333.5L624.9,333.4L625.6,333.2L626.3,332.8L626.9,332.3L627.6,332.7L628.2,333.0L628.9,332.9L629.6,333.9L630.2,334.2L630.9,334.4L631.6,334.7L632.2,333.4L632.9,333.2L633.6,332.5L634.2,333.6L634.9,332.9L635.6,332.7L636.2,333.1L636.9,333.0L637.6,333.2L638.2,333.1L638.9,333.2L639.5,332.7L640.2,333.7L640.9,333.3L641.5,333.2L642.2,333.4L642.9,333.6L643.5,334.0L644.2,333.6L644.9,332.8L645.5,333.7L646.2,333.2L646.9,333.7L646.9,342.6L234.8,342.6Z" fill="#fff"/>
<path d="M234.8,326.9L235.4,327.0L236.1,327.2L236.8,326.4L237.4,326.9L238.1,326.3L238.8,326.7L239.4,326.8L240.1,326.2L240.7,325.9L241.4,325.8L242.1,324.9L242.7,324.1L243.4,323.2L244.1,322.7L244.7,322.8L245.4,323.5L246.1,324.4L246.7,324.9L247.4,324.5L248.1,325.0L248.7,324.7L249.4,324.4L250.1,323.9L250.7,323.0L251.4,323.2L252.0,323.6L252.7,324.6L253.4,325.7L254.0,326.2L254.7,326.6L255.4,326.7L256.0,326.9L256.7,326.5L257.4,326.5L258.0,326.3L258.7,326.3L259.4,327.1L260.0,327.5L260.7,327.8L261.4,327.2L262.0,327.2L262.7,327.6L263.3,327.2L264.0,327.5L264.7,327.6L265.3,327.4L266.0,327.2L266.7,326.4L267.3,326.7L268.0,326.9L268.7,326.3L269.3,325.6L270.0,325.3L270.7,325.1L271.3,324.4L272.0,323.3L272.7,323.1L273.3,323.9L274.0,325.1L274.6,326.0L275.3,325.9L276.0,326.2L276.6,325.8L277.3,326.0L278.0,325.9L278.6,325.8L279.3,325.6L280.0,326.5L280.6,326.7L281.3,327.8L282.0,327.2L282.6,327.4L283.3,327.6L283.9,328.2L284.6,328.1L285.3,327.9L285.9,327.1L286.6,325.4L287.3,325.0L287.9,324.0L288.6,321.0L289.3,316.1L289.9,308.5L290.6,305.0L291.3,310.1L291.9,317.7L292.6,321.9L293.3,324.7L293.9,326.0L294.6,326.4L295.2,326.8L295.9,326.7L296.6,327.3L297.2,327.6L297.9,327.9L298.6,327.2L299.2,327.0L299.9,327.4L300.6,328.2L301.2,328.4L301.9,327.8L302.6,327.4L303.2,327.1L303.9,327.3L304.6,327.2L305.2,327.8L305.9,327.8L306.5,327.8L307.2,328.4L307.9,328.6L308.5,328.5L309.2,328.0L309.9,328.4L310.5,327.4L311.2,327.1L311.9,327.5L312.5,327.4L313.2,327.3L313.9,327.2L314.5,326.6L315.2,326.0L315.9,325.2L316.5,324.4L317.2,325.0L317.8,325.7L318.5,326.3L319.2,325.9L319.8,326.6L320.5,326.9L321.2,328.0L321.8,327.4L322.5,326.6L323.2,326.8L323.8,327.2L324.5,327.1L325.2,326.5L325.8,326.0L326.5,326.0L327.2,325.2L327.8,324.0L328.5,322.4L329.1,320.9L329.8,318.7L330.5,317.4L331.1,316.8L331.8,317.4L332.5,319.0L333.1,320.4L333.8,321.3L334.5,323.5L335.1,325.3L335.8,325.6L336.5,326.8L337.1,327.3L337.8,327.8L338.5,327.6L339.1,327.0L339.8,327.4L340.4,327.6L341.1,327.3L341.8,328.4L342.4,328.8L343.1,328.7L343.8,328.5L344.4,328.7L345.1,328.2L345.8,328.8L346.4,328.1L347.1,328.5L347.8,328.3L348.4,328.0L349.1,328.5L349.8,328.1L350.4,326.9L351.1,327.7L351.7,328.1L352.4,328.6L353.1,328.2L353.7,328.8L354.4,328.4L355.1,327.5L355.7,328.4L356.4,328.5L357.1,328.6L357.7,327.9L358.4,328.0L359.1,328.9L359.7,328.2L360.4,327.9L361.1,327.4L361.7,327.6L362.4,327.9L363.0,327.3L363.7,327.3L364.4,327.9L365.0,327.1L365.7,327.6L366.4,327.5L367.0,327.7L367.7,327.5L368.4,328.1L369.0,326.6L369.7,327.2L370.4,326.6L371.0,326.3L371.7,325.1L372.3,324.0L373.0,323.7L373.7,323.9L374.3,325.0L375.0,325.5L375.7,325.8L376.3,325.4L377.0,326.1L377.7,325.7L378.3,325.3L379.0,324.3L379.7,324.0L380.3,323.7L381.0,323.1L381.7,323.6L382.3,322.7L383.0,321.4L383.6,320.1L384.3,319.4L385.0,317.5L385.6,314.8L386.3,311.3L387.0,306.3L387.6,299.3L388.3,289.4L389.0,277.1L389.6,263.1L390.3,251.1L391.0,244.7L391.6,246.8L392.3,256.2L393.0,270.1L393.6,282.4L394.3,293.1L394.9,302.2L395.6,307.0L396.3,310.7L396.9,313.1L397.6,314.6L398.3,315.2L398.9,315.4L399.6,314.9L400.3,314.3L400.9,314.0L401.6,312.0L402.3,310.6L402.9,307.9L403.6,303.1L404.3,295.5L404.9,286.9L405.6,274.7L406.2,261.0L406.9,245.0L407.6,230.2L408.2,219.8L408.9,218.6L409.6,227.1L410.2,241.2L410.9,256.9L411.6,271.5L412.2,282.7L412.9,292.3L413.6,299.4L414.2,304.6L414.9,308.7L415.6,311.2L416.2,312.5L416.9,313.5L417.5,313.3L418.2,311.8L418.9,309.9L419.5,307.5L420.2,303.2L420.9,299.2L421.5,296.6L422.2,293.7L422.9,293.9L423.5,298.0L424.2,302.0L424.9,306.4L425.5,310.9L426.2,315.2L426.9,317.5L427.5,319.5L428.2,320.1L428.8,320.8L429.5,322.1L430.2,322.3L430.8,322.0L431.5,322.6L432.2,322.8L432.8,322.4L433.5,322.5L434.2,323.0L434.8,322.8L435.5,323.4L436.2,323.8L436.8,324.3L437.5,324.5L438.2,324.4L438.8,323.2L439.5,323.1L440.1,323.1L440.8,322.8L441.5,322.6L442.1,323.1L442.8,323.0L443.5,323.4L444.1,322.4L444.8,322.8L445.5,322.6L446.1,322.4L446.8,321.7L447.5,321.5L448.1,321.3L448.8,320.7L449.5,320.3L450.1,319.8L450.8,318.6L451.4,317.8L452.1,316.8L452.8,314.9L453.4,314.8L454.1,314.0L454.8,314.4L455.4,315.4L456.1,315.6L456.8,316.3L457.4,316.9L458.1,316.8L458.8,317.3L459.4,316.1L460.1,314.0L460.7,312.4L461.4,309.7L462.1,307.7L462.7,307.2L463.4,308.3L464.1,310.6L464.7,313.6L465.4,316.3L466.1,317.3L466.7,318.4L467.4,319.1L468.1,319.4L468.7,319.3L469.4,318.7L470.1,317.7L470.7,318.7L471.4,317.6L472.0,316.6L472.7,315.5L473.4,313.8L474.0,309.7L474.7,304.1L475.4,295.6L476.0,283.8L476.7,270.1L477.4,256.0L478.0,243.3L478.7,238.4L479.4,241.6L480.0,253.2L480.7,267.2L481.4,280.3L482.0,290.9L482.7,299.0L483.3,303.8L484.0,306.0L484.7,306.5L485.3,304.4L486.0,300.1L486.7,293.4L487.3,282.0L488.0,268.1L488.7,248.7L489.3,229.8L490.0,213.6L490.7,205.4L491.3,209.5L492.0,222.9L492.7,241.9L493.3,260.7L494.0,277.1L494.6,289.8L495.3,298.7L496.0,304.5L496.6,307.9L497.3,308.5L498.0,307.9L498.6,305.4L499.3,302.2L500.0,299.3L500.6,295.4L501.3,294.3L502.0,296.4L502.6,300.9L503.3,305.7L504.0,309.5L504.6,313.2L505.3,315.3L505.9,318.1L506.6,319.0L507.3,320.7L507.9,320.8L508.6,320.7L509.3,321.3L509.9,321.3L510.6,322.3L511.3,322.2L511.9,322.5L512.6,321.9L513.3,321.9L513.9,321.5L514.6,321.1L515.3,320.3L515.9,319.9L516.6,319.9L517.2,319.8L517.9,319.6L518.6,319.4L519.2,318.9L519.9,318.0L520.6,316.0L521.2,313.7L521.9,311.6L522.6,308.4L523.2,304.4L523.9,299.6L524.6,293.2L525.2,285.9L525.9,277.5L526.6,268.4L527.2,259.4L527.9,250.5L528.5,244.1L529.2,239.3L529.9,238.5L530.5,240.8L531.2,245.9L531.9,253.0L532.5,260.3L533.2,266.9L533.9,272.8L534.5,277.0L535.2,280.3L535.9,282.3L536.5,283.9L537.2,284.9L537.9,285.4L538.5,286.5L539.2,287.6L539.8,289.4L540.5,291.9L541.2,294.8L541.8,296.9L542.5,298.8L543.2,301.3L543.8,303.8L544.5,306.7L545.2,309.4L545.8,310.3L546.5,312.2L547.2,313.4L547.8,314.3L548.5,315.5L549.2,315.6L549.8,316.5L550.5,317.0L551.1,318.4L551.8,318.4L552.5,319.1L553.1,320.1L553.8,320.2L554.5,320.9L555.1,321.1L555.8,322.5L556.5,323.9L557.1,323.7L557.8,324.3L558.5,324.8L559.1,325.4L559.8,325.7L560.4,326.1L561.1,326.1L561.8,326.2L562.4,326.9L563.1,327.4L563.8,327.9L564.4,328.2L565.1,328.1L565.8,328.2L566.4,328.3L567.1,329.1L567.8,329.7L568.4,328.8L569.1,328.9L569.8,329.6L570.4,329.6L571.1,329.3L571.7,328.7L572.4,328.2L573.1,328.4L573.7,327.7L574.4,328.3L575.1,327.5L575.7,327.8L576.4,326.5L577.1,326.9L577.7,327.3L578.4,328.3L579.1,328.5L579.7,328.7L580.4,329.2L581.1,329.6L581.7,329.9L582.4,330.2L583.0,330.5L583.7,330.2L584.4,330.2L585.0,330.6L585.7,330.9L586.4,331.6L587.0,331.9L587.7,331.3L588.4,330.9L589.0,331.0L589.7,331.1L590.4,331.3L591.0,330.8L591.7,330.5L592.4,330.9L593.0,331.5L593.7,330.9L594.3,331.6L595.0,331.7L595.7,332.2L596.3,332.3L597.0,332.1L597.7,332.5L598.3,332.8L599.0,332.4L599.7,331.8L600.3,331.5L601.0,331.9L601.7,332.4L602.3,332.3L603.0,332.0L603.7,332.5L604.3,332.0L605.0,332.7L605.6,333.4L606.3,333.0L607.0,333.1L607.6,332.3L608.3,333.2L609.0,332.8L609.6,332.6L610.3,331.9L611.0,332.0L611.6,332.9L612.3,332.3L613.0,332.2L613.6,332.7L614.3,332.7L615.0,332.8L615.6,333.5L616.3,333.4L616.9,333.2L617.6,333.6L618.3,333.6L618.9,333.2L619.6,333.3L620.3,333.2L620.9,332.8L621.6,332.5L622.3,333.1L622.9,333.2L623.6,333.3L624.3,333.5L624.9,333.4L625.6,333.2L626.3,332.8L626.9,332.3L627.6,332.7L628.2,333.0L628.9,332.9L629.6,333.9L630.2,334.2L630.9,334.4L631.6,334.7L632.2,333.4L632.9,333.2L633.6,332.5L634.2,333.6L634.9,332.9L635.6,332.7L636.2,333.1L636.9,333.0L637.6,333.2L638.2,333.1L638.9,333.2L639.5,332.7L640.2,333.7L640.9,333.3L641.5,333.2L642.2,333.4L642.9,333.6L643.5,334.0L644.2,333.6L644.9,332.8L645.5,333.7L646.2,333.2L646.9,333.7" fill="none" stroke="#ff0808" stroke-width="1.6" stroke-linejoin="round"/>
<path d="M218.9,344.4L219.6,344.1L220.3,344.3L221.0,345.0L221.6,345.0L222.3,344.6L223.0,344.3L223.7,344.4L224.3,344.3L225.0,343.6L225.7,343.2L226.4,343.2L227.1,343.0L227.7,343.1L228.4,342.5L229.1,342.7L229.8,342.8L230.4,342.6L231.1,342.8L231.8,342.0L232.5,342.7L233.1,342.3L233.8,341.8L234.5,341.4L235.2,341.7L235.9,342.0L236.5,341.8L237.2,342.3L237.9,343.1L238.6,343.7L239.2,344.2L239.9,344.8L240.6,345.0L241.3,344.8L242.0,345.1L242.6,344.8L243.3,344.8L244.0,345.4L244.7,345.3L245.3,345.0L246.0,345.5L246.7,345.6L247.4,344.9L248.0,345.7L248.7,345.2L249.4,345.4L250.1,344.5L250.8,344.9L251.4,344.8L252.1,344.9L252.8,344.7L253.5,344.3L254.1,343.0L254.8,342.9L255.5,342.2L256.2,340.8L256.9,340.6L257.5,341.0L258.2,341.6L258.9,342.2L259.6,342.7L260.2,343.1L260.9,343.4L261.6,344.8L262.3,344.7L262.9,344.3L263.6,344.1L264.3,344.3L265.0,345.2L265.7,344.7L266.3,344.6L267.0,344.9L267.7,344.4L268.4,344.4L269.0,344.9L269.7,344.9L270.4,345.4L271.1,345.5L271.8,345.4L272.4,343.2L273.1,342.2L273.8,340.4L274.5,335.2L275.1,328.4L275.8,324.5L276.5,329.5L277.2,335.8L277.8,340.2L278.5,342.4L279.2,344.2L279.9,344.0L280.6,344.4L281.2,345.0L281.9,345.5L282.6,345.6L283.3,346.0L283.9,345.4L284.6,345.6L285.3,344.4L286.0,345.3L286.7,344.2L287.3,345.4L288.0,346.1L288.7,345.7L289.4,346.7L290.0,346.3L290.7,346.5L291.4,346.4L292.1,345.9L292.8,345.8L293.4,346.9L294.1,346.5L294.8,346.3L295.5,346.5L296.1,346.1L296.8,345.8L297.5,345.8L298.2,344.8L298.8,344.8L299.5,344.6L300.2,344.8L300.9,344.4L301.6,343.5L302.2,343.1L302.9,343.1L303.6,343.1L304.3,343.7L304.9,344.4L305.6,344.6L306.3,344.9L307.0,344.9L307.7,344.4L308.3,344.5L309.0,345.1L309.7,344.7L310.4,344.6L311.0,343.6L311.7,342.9L312.4,342.7L313.1,341.4L313.7,340.9L314.4,338.9L315.1,337.1L315.8,334.3L316.5,332.3L317.1,330.3L317.8,330.3L318.5,331.2L319.2,333.4L319.8,336.3L320.5,338.8L321.2,340.8L321.9,343.0L322.6,342.7L323.2,343.3L323.9,344.0L324.6,344.7L325.3,344.4L325.9,345.3L326.6,345.3L327.3,345.7L328.0,345.9L328.6,346.2L329.3,346.3L330.0,346.1L330.7,346.5L331.4,345.9L332.0,345.8L332.7,345.9L333.4,346.6L334.1,346.5L334.7,346.4L335.4,346.8L336.1,347.0L336.8,347.1L337.5,347.0L338.1,346.5L338.8,346.3L339.5,345.8L340.2,346.3L340.8,346.5L341.5,346.4L342.2,346.2L342.9,346.1L343.6,346.5L344.2,345.4L344.9,345.6L345.6,346.1L346.3,346.2L346.9,346.0L347.6,346.5L348.3,346.8L349.0,346.0L349.6,345.9L350.3,347.0L351.0,346.7L351.7,346.3L352.4,345.9L353.0,345.9L353.7,345.9L354.4,345.9L355.1,345.6L355.7,345.1L356.4,344.9L357.1,344.1L357.8,343.9L358.5,342.2L359.1,340.8L359.8,339.5L360.5,340.5L361.2,341.7L361.8,343.0L362.5,342.9L363.2,343.4L363.9,343.3L364.5,342.7L365.2,342.8L365.9,342.8L366.6,342.9L367.3,342.4L367.9,342.0L368.6,341.9L369.3,340.2L370.0,339.6L370.6,339.1L371.3,336.7L372.0,335.0L372.7,331.6L373.4,327.2L374.0,321.0L374.7,311.7L375.4,300.7L376.1,286.3L376.7,271.0L377.4,257.1L378.1,250.1L378.8,253.4L379.4,265.1L380.1,280.2L380.8,294.1L381.5,306.0L382.2,315.3L382.8,322.1L383.5,326.8L384.2,329.1L384.9,331.3L385.5,331.6L386.2,332.3L386.9,332.7L387.6,331.5L388.3,331.5L388.9,329.4L389.6,327.4L390.3,323.7L391.0,317.8L391.6,309.8L392.3,299.6L393.0,286.2L393.7,270.1L394.4,252.9L395.0,235.8L395.7,223.9L396.4,222.5L397.1,231.6L397.7,246.5L398.4,265.3L399.1,282.1L399.8,295.4L400.4,306.4L401.1,314.7L401.8,320.4L402.5,324.8L403.2,327.3L403.8,328.7L404.5,329.4L405.2,329.4L405.9,327.6L406.5,325.2L407.2,321.6L407.9,317.4L408.6,313.0L409.3,308.8L409.9,305.9L410.6,306.4L411.3,310.3L412.0,316.1L412.6,323.0L413.3,328.2L414.0,331.9L414.7,334.5L415.3,336.0L416.0,337.3L416.7,337.8L417.4,338.7L418.1,339.2L418.7,338.4L419.4,339.6L420.1,339.9L420.8,339.4L421.4,340.0L422.1,340.2L422.8,340.6L423.5,340.8L424.2,340.4L424.8,340.8L425.5,340.7L426.2,341.2L426.9,341.5L427.5,342.0L428.2,342.0L428.9,341.2L429.6,340.6L430.2,341.5L430.9,340.9L431.6,340.5L432.3,340.7L433.0,340.8L433.6,340.1L434.3,339.6L435.0,339.8L435.7,338.2L436.3,337.8L437.0,338.0L437.7,337.1L438.4,335.7L439.1,335.3L439.7,334.4L440.4,333.5L441.1,331.7L441.8,331.1L442.4,331.0L443.1,330.9L443.8,331.0L444.5,331.6L445.2,332.6L445.8,333.0L446.5,334.3L447.2,333.3L447.9,332.8L448.5,331.0L449.2,328.7L449.9,325.8L450.6,323.9L451.2,323.3L451.9,325.8L452.6,328.5L453.3,330.7L454.0,333.5L454.6,335.3L455.3,335.4L456.0,336.6L456.7,337.5L457.3,337.4L458.0,337.2L458.7,335.8L459.4,335.2L460.1,334.7L460.7,333.9L461.4,331.8L462.1,328.8L462.8,324.4L463.4,317.3L464.1,306.0L464.8,291.9L465.5,274.3L466.1,255.7L466.8,239.7L467.5,232.5L468.2,238.3L468.9,252.7L469.5,270.4L470.2,287.7L470.9,302.0L471.6,311.7L472.2,317.4L472.9,321.1L473.6,321.1L474.3,319.1L475.0,315.1L475.6,307.3L476.3,295.4L477.0,280.2L477.7,260.8L478.3,240.3L479.0,221.7L479.7,212.1L480.4,215.6L481.0,230.6L481.7,250.9L482.4,272.3L483.1,290.7L483.8,304.9L484.4,315.1L485.1,321.1L485.8,324.9L486.5,325.1L487.1,324.5L487.8,321.9L488.5,317.2L489.2,312.2L489.9,308.3L490.5,307.9L491.2,309.8L491.9,315.0L492.6,320.0L493.2,325.0L493.9,329.9L494.6,333.4L495.3,335.3L496.0,336.7L496.6,338.2L497.3,339.4L498.0,339.6L498.7,340.1L499.3,339.9L500.0,340.0L500.7,340.0L501.4,339.9L502.0,340.0L502.7,340.4L503.4,340.1L504.1,339.2L504.8,339.6L505.4,339.4L506.1,338.0L506.8,338.4L507.5,336.8L508.1,336.6L508.8,335.6L509.5,334.1L510.2,332.6L510.9,330.5L511.5,328.1L512.2,324.6L512.9,319.2L513.6,314.2L514.2,308.3L514.9,300.0L515.6,289.9L516.3,279.8L516.9,270.0L517.6,259.2L518.3,252.0L519.0,246.5L519.7,245.7L520.3,249.4L521.0,255.4L521.7,262.3L522.4,270.3L523.0,277.7L523.7,284.4L524.4,289.5L525.1,293.2L525.8,295.4L526.4,296.6L527.1,297.7L527.8,298.4L528.5,299.7L529.1,300.6L529.8,303.4L530.5,304.8L531.2,308.8L531.8,311.5L532.5,313.3L533.2,316.2L533.9,319.2L534.6,322.2L535.2,325.2L535.9,327.2L536.6,328.4L537.3,330.3L537.9,331.8L538.6,332.2L539.3,332.6L540.0,334.2L540.7,335.0L541.3,335.4L542.0,337.0L542.7,338.1L543.4,338.6L544.0,339.1L544.7,340.0L545.4,340.5L546.1,341.6L546.7,341.9L547.4,342.4L548.1,342.6L548.8,342.9L549.5,344.0L550.1,345.0L550.8,345.2L551.5,345.3L552.2,345.4L552.8,346.2L553.5,346.5L554.2,346.6L554.9,346.7L555.6,347.0L556.2,346.7L556.9,346.8L557.6,347.4L558.3,348.2L558.9,347.9L559.6,347.4L560.3,348.0L561.0,347.6L561.7,347.3L562.3,346.6L563.0,346.9L563.7,347.3L564.4,347.4L565.0,346.9L565.7,346.7L566.4,346.5L567.1,346.4L567.7,346.8L568.4,346.8L569.1,347.6L569.8,347.7L570.5,348.1L571.1,348.5L571.8,348.9L572.5,349.3L573.2,349.9L573.8,350.2L574.5,350.5L575.2,350.7L575.9,350.5L576.6,350.8L577.2,350.9L577.9,350.7L578.6,351.0L579.3,351.6L579.9,351.7L580.6,351.7L581.3,350.8L582.0,351.1L582.6,351.3L583.3,351.7L584.0,351.3L584.7,351.2L585.4,351.0L586.0,352.1L586.7,351.2L587.4,352.2L588.1,351.6L588.7,352.1L589.4,352.5L590.1,352.2L590.8,351.6L591.5,351.4L592.1,352.5L592.8,352.1L593.5,351.8L594.2,351.6L594.8,351.6L595.5,352.5L596.2,352.8L596.9,352.8L597.5,353.4L598.2,353.3L598.9,353.1L599.6,352.5L600.3,352.8L600.9,352.4L601.6,352.2L602.3,352.7L603.0,351.8L603.6,351.5L604.3,352.9L605.0,352.9L605.7,352.5L606.4,352.8L607.0,353.0L607.7,353.5L608.4,353.4L609.1,352.4L609.7,352.8L610.4,353.1L611.1,354.0L611.8,353.6L612.5,353.7L613.1,353.4L613.8,353.1L614.5,352.3L615.2,352.5L615.8,352.9L616.5,353.6L617.2,353.9L617.9,353.8L618.5,353.4L619.2,353.8L619.9,353.3L620.6,353.4L621.3,353.2L621.9,353.6L622.6,354.4L623.3,354.2L624.0,353.2L624.6,353.4L625.3,353.3L626.0,354.1L626.7,354.0L627.4,354.2L628.0,353.5L628.7,353.8L629.4,353.6L630.1,354.0L630.7,354.2L631.4,354.1L632.1,353.9L632.8,354.4L633.4,354.1L634.1,354.6L634.8,353.9L635.5,354.2L636.2,354.6L636.8,354.4L637.5,354.6L638.2,354.9L638.9,354.0L638.9,361.1L218.9,361.1Z" fill="#fff"/>
<path d="M218.9,344.4L219.6,344.1L220.3,344.3L221.0,345.0L221.6,345.0L222.3,344.6L223.0,344.3L223.7,344.4L224.3,344.3L225.0,343.6L225.7,343.2L226.4,343.2L227.1,343.0L227.7,343.1L228.4,342.5L229.1,342.7L229.8,342.8L230.4,342.6L231.1,342.8L231.8,342.0L232.5,342.7L233.1,342.3L233.8,341.8L234.5,341.4L235.2,341.7L235.9,342.0L236.5,341.8L237.2,342.3L237.9,343.1L238.6,343.7L239.2,344.2L239.9,344.8L240.6,345.0L241.3,344.8L242.0,345.1L242.6,344.8L243.3,344.8L244.0,345.4L244.7,345.3L245.3,345.0L246.0,345.5L246.7,345.6L247.4,344.9L248.0,345.7L248.7,345.2L249.4,345.4L250.1,344.5L250.8,344.9L251.4,344.8L252.1,344.9L252.8,344.7L253.5,344.3L254.1,343.0L254.8,342.9L255.5,342.2L256.2,340.8L256.9,340.6L257.5,341.0L258.2,341.6L258.9,342.2L259.6,342.7L260.2,343.1L260.9,343.4L261.6,344.8L262.3,344.7L262.9,344.3L263.6,344.1L264.3,344.3L265.0,345.2L265.7,344.7L266.3,344.6L267.0,344.9L267.7,344.4L268.4,344.4L269.0,344.9L269.7,344.9L270.4,345.4L271.1,345.5L271.8,345.4L272.4,343.2L273.1,342.2L273.8,340.4L274.5,335.2L275.1,328.4L275.8,324.5L276.5,329.5L277.2,335.8L277.8,340.2L278.5,342.4L279.2,344.2L279.9,344.0L280.6,344.4L281.2,345.0L281.9,345.5L282.6,345.6L283.3,346.0L283.9,345.4L284.6,345.6L285.3,344.4L286.0,345.3L286.7,344.2L287.3,345.4L288.0,346.1L288.7,345.7L289.4,346.7L290.0,346.3L290.7,346.5L291.4,346.4L292.1,345.9L292.8,345.8L293.4,346.9L294.1,346.5L294.8,346.3L295.5,346.5L296.1,346.1L296.8,345.8L297.5,345.8L298.2,344.8L298.8,344.8L299.5,344.6L300.2,344.8L300.9,344.4L301.6,343.5L302.2,343.1L302.9,343.1L303.6,343.1L304.3,343.7L304.9,344.4L305.6,344.6L306.3,344.9L307.0,344.9L307.7,344.4L308.3,344.5L309.0,345.1L309.7,344.7L310.4,344.6L311.0,343.6L311.7,342.9L312.4,342.7L313.1,341.4L313.7,340.9L314.4,338.9L315.1,337.1L315.8,334.3L316.5,332.3L317.1,330.3L317.8,330.3L318.5,331.2L319.2,333.4L319.8,336.3L320.5,338.8L321.2,340.8L321.9,343.0L322.6,342.7L323.2,343.3L323.9,344.0L324.6,344.7L325.3,344.4L325.9,345.3L326.6,345.3L327.3,345.7L328.0,345.9L328.6,346.2L329.3,346.3L330.0,346.1L330.7,346.5L331.4,345.9L332.0,345.8L332.7,345.9L333.4,346.6L334.1,346.5L334.7,346.4L335.4,346.8L336.1,347.0L336.8,347.1L337.5,347.0L338.1,346.5L338.8,346.3L339.5,345.8L340.2,346.3L340.8,346.5L341.5,346.4L342.2,346.2L342.9,346.1L343.6,346.5L344.2,345.4L344.9,345.6L345.6,346.1L346.3,346.2L346.9,346.0L347.6,346.5L348.3,346.8L349.0,346.0L349.6,345.9L350.3,347.0L351.0,346.7L351.7,346.3L352.4,345.9L353.0,345.9L353.7,345.9L354.4,345.9L355.1,345.6L355.7,345.1L356.4,344.9L357.1,344.1L357.8,343.9L358.5,342.2L359.1,340.8L359.8,339.5L360.5,340.5L361.2,341.7L361.8,343.0L362.5,342.9L363.2,343.4L363.9,343.3L364.5,342.7L365.2,342.8L365.9,342.8L366.6,342.9L367.3,342.4L367.9,342.0L368.6,341.9L369.3,340.2L370.0,339.6L370.6,339.1L371.3,336.7L372.0,335.0L372.7,331.6L373.4,327.2L374.0,321.0L374.7,311.7L375.4,300.7L376.1,286.3L376.7,271.0L377.4,257.1L378.1,250.1L378.8,253.4L379.4,265.1L380.1,280.2L380.8,294.1L381.5,306.0L382.2,315.3L382.8,322.1L383.5,326.8L384.2,329.1L384.9,331.3L385.5,331.6L386.2,332.3L386.9,332.7L387.6,331.5L388.3,331.5L388.9,329.4L389.6,327.4L390.3,323.7L391.0,317.8L391.6,309.8L392.3,299.6L393.0,286.2L393.7,270.1L394.4,252.9L395.0,235.8L395.7,223.9L396.4,222.5L397.1,231.6L397.7,246.5L398.4,265.3L399.1,282.1L399.8,295.4L400.4,306.4L401.1,314.7L401.8,320.4L402.5,324.8L403.2,327.3L403.8,328.7L404.5,329.4L405.2,329.4L405.9,327.6L406.5,325.2L407.2,321.6L407.9,317.4L408.6,313.0L409.3,308.8L409.9,305.9L410.6,306.4L411.3,310.3L412.0,316.1L412.6,323.0L413.3,328.2L414.0,331.9L414.7,334.5L415.3,336.0L416.0,337.3L416.7,337.8L417.4,338.7L418.1,339.2L418.7,338.4L419.4,339.6L420.1,339.9L420.8,339.4L421.4,340.0L422.1,340.2L422.8,340.6L423.5,340.8L424.2,340.4L424.8,340.8L425.5,340.7L426.2,341.2L426.9,341.5L427.5,342.0L428.2,342.0L428.9,341.2L429.6,340.6L430.2,341.5L430.9,340.9L431.6,340.5L432.3,340.7L433.0,340.8L433.6,340.1L434.3,339.6L435.0,339.8L435.7,338.2L436.3,337.8L437.0,338.0L437.7,337.1L438.4,335.7L439.1,335.3L439.7,334.4L440.4,333.5L441.1,331.7L441.8,331.1L442.4,331.0L443.1,330.9L443.8,331.0L444.5,331.6L445.2,332.6L445.8,333.0L446.5,334.3L447.2,333.3L447.9,332.8L448.5,331.0L449.2,328.7L449.9,325.8L450.6,323.9L451.2,323.3L451.9,325.8L452.6,328.5L453.3,330.7L454.0,333.5L454.6,335.3L455.3,335.4L456.0,336.6L456.7,337.5L457.3,337.4L458.0,337.2L458.7,335.8L459.4,335.2L460.1,334.7L460.7,333.9L461.4,331.8L462.1,328.8L462.8,324.4L463.4,317.3L464.1,306.0L464.8,291.9L465.5,274.3L466.1,255.7L466.8,239.7L467.5,232.5L468.2,238.3L468.9,252.7L469.5,270.4L470.2,287.7L470.9,302.0L471.6,311.7L472.2,317.4L472.9,321.1L473.6,321.1L474.3,319.1L475.0,315.1L475.6,307.3L476.3,295.4L477.0,280.2L477.7,260.8L478.3,240.3L479.0,221.7L479.7,212.1L480.4,215.6L481.0,230.6L481.7,250.9L482.4,272.3L483.1,290.7L483.8,304.9L484.4,315.1L485.1,321.1L485.8,324.9L486.5,325.1L487.1,324.5L487.8,321.9L488.5,317.2L489.2,312.2L489.9,308.3L490.5,307.9L491.2,309.8L491.9,315.0L492.6,320.0L493.2,325.0L493.9,329.9L494.6,333.4L495.3,335.3L496.0,336.7L496.6,338.2L497.3,339.4L498.0,339.6L498.7,340.1L499.3,339.9L500.0,340.0L500.7,340.0L501.4,339.9L502.0,340.0L502.7,340.4L503.4,340.1L504.1,339.2L504.8,339.6L505.4,339.4L506.1,338.0L506.8,338.4L507.5,336.8L508.1,336.6L508.8,335.6L509.5,334.1L510.2,332.6L510.9,330.5L511.5,328.1L512.2,324.6L512.9,319.2L513.6,314.2L514.2,308.3L514.9,300.0L515.6,289.9L516.3,279.8L516.9,270.0L517.6,259.2L518.3,252.0L519.0,246.5L519.7,245.7L520.3,249.4L521.0,255.4L521.7,262.3L522.4,270.3L523.0,277.7L523.7,284.4L524.4,289.5L525.1,293.2L525.8,295.4L526.4,296.6L527.1,297.7L527.8,298.4L528.5,299.7L529.1,300.6L529.8,303.4L530.5,304.8L531.2,308.8L531.8,311.5L532.5,313.3L533.2,316.2L533.9,319.2L534.6,322.2L535.2,325.2L535.9,327.2L536.6,328.4L537.3,330.3L537.9,331.8L538.6,332.2L539.3,332.6L540.0,334.2L540.7,335.0L541.3,335.4L542.0,337.0L542.7,338.1L543.4,338.6L544.0,339.1L544.7,340.0L545.4,340.5L546.1,341.6L546.7,341.9L547.4,342.4L548.1,342.6L548.8,342.9L549.5,344.0L550.1,345.0L550.8,345.2L551.5,345.3L552.2,345.4L552.8,346.2L553.5,346.5L554.2,346.6L554.9,346.7L555.6,347.0L556.2,346.7L556.9,346.8L557.6,347.4L558.3,348.2L558.9,347.9L559.6,347.4L560.3,348.0L561.0,347.6L561.7,347.3L562.3,346.6L563.0,346.9L563.7,347.3L564.4,347.4L565.0,346.9L565.7,346.7L566.4,346.5L567.1,346.4L567.7,346.8L568.4,346.8L569.1,347.6L569.8,347.7L570.5,348.1L571.1,348.5L571.8,348.9L572.5,349.3L573.2,349.9L573.8,350.2L574.5,350.5L575.2,350.7L575.9,350.5L576.6,350.8L577.2,350.9L577.9,350.7L578.6,351.0L579.3,351.6L579.9,351.7L580.6,351.7L581.3,350.8L582.0,351.1L582.6,351.3L583.3,351.7L584.0,351.3L584.7,351.2L585.4,351.0L586.0,352.1L586.7,351.2L587.4,352.2L588.1,351.6L588.7,352.1L589.4,352.5L590.1,352.2L590.8,351.6L591.5,351.4L592.1,352.5L592.8,352.1L593.5,351.8L594.2,351.6L594.8,351.6L595.5,352.5L596.2,352.8L596.9,352.8L597.5,353.4L598.2,353.3L598.9,353.1L599.6,352.5L600.3,352.8L600.9,352.4L601.6,352.2L602.3,352.7L603.0,351.8L603.6,351.5L604.3,352.9L605.0,352.9L605.7,352.5L606.4,352.8L607.0,353.0L607.7,353.5L608.4,353.4L609.1,352.4L609.7,352.8L610.4,353.1L611.1,354.0L611.8,353.6L612.5,353.7L613.1,353.4L613.8,353.1L614.5,352.3L615.2,352.5L615.8,352.9L616.5,353.6L617.2,353.9L617.9,353.8L618.5,353.4L619.2,353.8L619.9,353.3L620.6,353.4L621.3,353.2L621.9,353.6L622.6,354.4L623.3,354.2L624.0,353.2L624.6,353.4L625.3,353.3L626.0,354.1L626.7,354.0L627.4,354.2L628.0,353.5L628.7,353.8L629.4,353.6L630.1,354.0L630.7,354.2L631.4,354.1L632.1,353.9L632.8,354.4L633.4,354.1L634.1,354.6L634.8,353.9L635.5,354.2L636.2,354.6L636.8,354.4L637.5,354.6L638.2,354.9L638.9,354.0" fill="none" stroke="#ff0808" stroke-width="1.6" stroke-linejoin="round"/>
<path d="M202.5,362.5L203.2,362.0L203.9,362.5L204.5,362.7L205.2,362.7L205.9,363.6L206.6,362.8L207.3,362.0L208.0,362.3L208.7,361.8L209.4,361.1L210.1,360.0L210.8,360.0L211.5,359.5L212.1,358.7L212.8,358.8L213.5,359.4L214.2,359.7L214.9,360.2L215.6,360.8L216.3,360.6L217.0,360.7L217.7,360.9L218.4,359.7L219.0,358.9L219.7,358.8L220.4,359.7L221.1,360.0L221.8,360.4L222.5,361.1L223.2,361.1L223.9,362.3L224.6,362.7L225.3,363.3L226.0,363.3L226.6,364.2L227.3,363.4L228.0,363.2L228.7,363.7L229.4,363.5L230.1,362.7L230.8,362.8L231.5,362.3L232.2,362.4L232.9,362.6L233.5,362.5L234.2,362.7L234.9,363.6L235.6,363.5L236.3,362.2L237.0,361.9L237.7,361.9L238.4,360.4L239.1,360.5L239.8,359.8L240.5,359.1L241.1,358.4L241.8,359.0L242.5,358.7L243.2,358.8L243.9,360.5L244.6,361.1L245.3,361.9L246.0,362.8L246.7,361.6L247.4,362.1L248.0,362.4L248.7,361.6L249.4,361.8L250.1,361.5L250.8,362.7L251.5,362.5L252.2,362.2L252.9,362.6L253.6,361.9L254.3,362.5L255.0,362.1L255.6,361.6L256.3,360.9L257.0,359.5L257.7,357.5L258.4,354.1L259.1,348.3L259.8,342.0L260.5,339.2L261.2,343.8L261.9,351.0L262.5,356.1L263.2,359.0L263.9,361.0L264.6,361.8L265.3,362.3L266.0,361.9L266.7,362.2L267.4,362.5L268.1,362.0L268.8,362.7L269.5,363.2L270.1,362.5L270.8,363.2L271.5,363.1L272.2,363.3L272.9,363.4L273.6,364.0L274.3,363.2L275.0,364.0L275.7,363.1L276.4,363.3L277.0,362.2L277.7,362.7L278.4,362.7L279.1,362.6L279.8,362.6L280.5,362.1L281.2,361.5L281.9,361.3L282.6,362.1L283.3,362.1L284.0,361.3L284.6,361.5L285.3,360.3L286.0,359.0L286.7,358.9L287.4,358.3L288.1,358.1L288.8,359.1L289.5,359.2L290.2,359.7L290.9,360.1L291.5,360.1L292.2,360.6L292.9,361.1L293.6,361.1L294.3,361.3L295.0,361.0L295.7,360.5L296.4,360.7L297.1,360.0L297.8,359.0L298.5,358.8L299.1,357.6L299.8,354.4L300.5,351.9L301.2,349.0L301.9,347.1L302.6,345.4L303.3,345.4L304.0,347.1L304.7,349.7L305.4,351.3L306.0,354.2L306.7,356.1L307.4,357.1L308.1,359.2L308.8,360.1L309.5,360.6L310.2,361.5L310.9,361.6L311.6,361.6L312.3,361.8L313.0,361.5L313.6,361.3L314.3,361.7L315.0,361.9L315.7,361.3L316.4,361.0L317.1,360.8L317.8,361.2L318.5,361.0L319.2,361.8L319.9,361.6L320.5,360.6L321.2,361.1L321.9,361.7L322.6,361.5L323.3,361.8L324.0,361.8L324.7,361.7L325.4,361.1L326.1,361.8L326.8,362.2L327.5,362.2L328.1,362.1L328.8,362.0L329.5,361.9L330.2,361.7L330.9,362.1L331.6,361.9L332.3,361.1L333.0,361.1L333.7,361.7L334.4,362.1L335.0,362.5L335.7,362.6L336.4,361.9L337.1,360.8L337.8,360.1L338.5,359.9L339.2,360.3L339.9,360.9L340.6,360.7L341.3,360.1L342.0,360.8L342.6,360.5L343.3,359.7L344.0,358.9L344.7,357.7L345.4,355.4L346.1,354.6L346.8,355.6L347.5,357.4L348.2,358.3L348.9,358.0L349.5,358.0L350.2,357.7L350.9,357.6L351.6,357.0L352.3,356.9L353.0,356.4L353.7,355.7L354.4,355.2L355.1,355.3L355.8,354.3L356.5,354.0L357.1,352.4L357.8,350.6L358.5,348.0L359.2,344.9L359.9,339.6L360.6,333.0L361.3,323.6L362.0,310.7L362.7,295.7L363.4,278.1L364.0,262.7L364.7,254.5L365.4,258.1L366.1,271.2L366.8,288.0L367.5,304.1L368.2,317.0L368.9,327.6L369.6,334.4L370.3,338.2L371.0,341.9L371.6,344.1L372.3,346.0L373.0,346.0L373.7,345.9L374.4,345.7L375.1,343.7L375.8,343.3L376.5,340.2L377.2,335.5L377.9,329.9L378.5,322.7L379.2,312.4L379.9,297.9L380.6,281.8L381.3,263.1L382.0,245.8L382.7,233.8L383.4,232.1L384.1,240.9L384.8,257.9L385.5,276.6L386.1,293.8L386.8,308.6L387.5,319.8L388.2,328.0L388.9,333.8L389.6,338.5L390.3,341.4L391.0,342.3L391.7,342.7L392.4,343.3L393.0,340.9L393.7,338.0L394.4,334.4L395.1,330.6L395.8,325.3L396.5,320.9L397.2,318.4L397.9,319.8L398.6,323.6L399.3,328.8L400.0,333.2L400.6,339.3L401.3,343.0L402.0,346.3L402.7,349.0L403.4,350.7L404.1,352.2L404.8,352.6L405.5,352.2L406.2,352.5L406.9,353.5L407.5,353.4L408.2,353.5L408.9,353.2L409.6,352.9L410.3,354.0L411.0,353.8L411.7,353.6L412.4,352.9L413.1,353.6L413.8,353.9L414.5,354.0L415.1,353.4L415.8,352.9L416.5,352.6L417.2,353.1L417.9,353.4L418.6,354.0L419.3,353.5L420.0,353.2L420.7,352.8L421.4,353.3L422.0,353.1L422.7,352.3L423.4,352.1L424.1,351.9L424.8,351.2L425.5,350.6L426.2,349.9L426.9,348.8L427.6,347.4L428.3,345.8L429.0,344.0L429.6,343.1L430.3,341.7L431.0,341.4L431.7,341.9L432.4,342.7L433.1,343.4L433.8,343.4L434.5,343.7L435.2,343.9L435.9,343.8L436.5,341.9L437.2,339.6L437.9,336.5L438.6,334.6L439.3,334.8L440.0,336.4L440.7,338.8L441.4,342.8L442.1,345.1L442.8,346.1L443.5,347.4L444.1,348.7L444.8,348.1L445.5,347.5L446.2,347.9L446.9,347.1L447.6,346.7L448.3,346.7L449.0,345.1L449.7,341.9L450.4,339.8L451.0,335.4L451.7,328.7L452.4,317.7L453.1,303.9L453.8,286.2L454.5,266.5L455.2,251.4L455.9,244.8L456.6,250.6L457.3,264.7L458.0,282.6L458.6,299.5L459.3,313.1L460.0,323.0L460.7,328.4L461.4,331.2L462.1,331.8L462.8,330.1L463.5,325.0L464.2,316.4L464.9,304.0L465.5,285.5L466.2,264.3L466.9,241.4L467.6,221.5L468.3,210.7L469.0,214.0L469.7,231.1L470.4,252.8L471.1,276.6L471.8,296.9L472.5,311.8L473.1,323.3L473.8,329.3L474.5,333.1L475.2,334.5L475.9,333.2L476.6,331.2L477.3,328.3L478.0,323.8L478.7,319.1L479.4,318.5L480.0,320.2L480.7,325.6L481.4,331.0L482.1,336.0L482.8,340.1L483.5,344.0L484.2,346.0L484.9,347.5L485.6,348.4L486.3,348.7L487.0,349.5L487.6,349.8L488.3,349.9L489.0,349.5L489.7,349.4L490.4,350.0L491.1,349.5L491.8,350.1L492.5,350.3L493.2,349.8L493.9,348.9L494.5,349.2L495.2,349.2L495.9,348.6L496.6,347.7L497.3,346.9L498.0,345.5L498.7,343.9L499.4,342.0L500.1,340.1L500.8,337.0L501.5,332.6L502.1,328.0L502.8,322.2L503.5,314.5L504.2,304.8L504.9,294.2L505.6,282.9L506.3,271.1L507.0,260.4L507.7,251.3L508.4,245.3L509.0,244.2L509.7,246.7L510.4,253.6L511.1,263.4L511.8,272.4L512.5,281.1L513.2,288.2L513.9,294.2L514.6,298.3L515.3,300.7L516.0,303.5L516.6,305.2L517.3,305.9L518.0,307.4L518.7,308.8L519.4,311.4L520.1,313.7L520.8,316.6L521.5,319.4L522.2,322.3L522.9,325.6L523.5,327.8L524.2,331.0L524.9,332.6L525.6,335.0L526.3,337.2L527.0,339.0L527.7,340.2L528.4,341.3L529.1,342.5L529.8,343.3L530.5,344.7L531.1,345.1L531.8,345.4L532.5,345.8L533.2,347.0L533.9,348.1L534.6,349.3L535.3,350.3L536.0,351.4L536.7,351.3L537.4,351.6L538.0,352.4L538.7,352.6L539.4,353.5L540.1,354.7L540.8,354.5L541.5,355.4L542.2,355.7L542.9,356.7L543.6,356.7L544.3,357.6L545.0,357.9L545.6,358.1L546.3,357.6L547.0,357.7L547.7,357.0L548.4,357.6L549.1,358.2L549.8,357.9L550.5,358.0L551.2,357.9L551.9,358.3L552.5,357.5L553.2,357.4L553.9,357.2L554.6,356.9L555.3,357.1L556.0,356.9L556.7,356.2L557.4,356.2L558.1,356.3L558.8,356.7L559.5,357.8L560.1,357.7L560.8,358.5L561.5,358.5L562.2,359.3L562.9,359.3L563.6,359.6L564.3,359.7L565.0,360.3L565.7,360.4L566.4,360.4L567.0,360.8L567.7,360.7L568.4,361.4L569.1,361.7L569.8,362.0L570.5,361.8L571.2,361.6L571.9,362.1L572.6,362.0L573.3,362.1L574.0,360.9L574.6,361.9L575.3,361.2L576.0,361.1L576.7,361.1L577.4,361.9L578.1,362.0L578.8,361.2L579.5,362.3L580.2,361.6L580.9,361.8L581.5,362.2L582.2,362.5L582.9,362.0L583.6,362.5L584.3,362.0L585.0,362.6L585.7,363.3L586.4,363.2L587.1,363.0L587.8,362.9L588.5,363.3L589.1,363.5L589.8,363.6L590.5,363.0L591.2,363.1L591.9,362.5L592.6,362.1L593.3,362.6L594.0,362.6L594.7,362.7L595.4,362.5L596.0,362.9L596.7,363.4L597.4,362.1L598.1,362.6L598.8,362.7L599.5,363.1L600.2,362.9L600.9,362.5L601.6,362.5L602.3,362.8L603.0,362.7L603.6,363.1L604.3,362.5L605.0,363.0L605.7,363.7L606.4,362.9L607.1,362.6L607.8,362.1L608.5,363.2L609.2,362.9L609.9,362.2L610.5,362.5L611.2,361.7L611.9,362.2L612.6,362.9L613.3,362.7L614.0,363.0L614.7,362.8L615.4,362.4L616.1,363.0L616.8,363.3L617.5,363.0L618.1,363.9L618.8,363.6L619.5,362.8L620.2,362.2L620.9,362.4L621.6,362.6L622.3,362.9L623.0,363.3L623.7,363.3L624.4,363.5L625.0,362.7L625.7,362.8L626.4,362.2L627.1,362.2L627.8,361.9L628.5,362.6L629.2,363.4L629.9,363.3L630.6,364.2L630.6,380.2L202.5,380.2Z" fill="#fff"/>
<path d="M202.5,362.5L203.2,362.0L203.9,362.5L204.5,362.7L205.2,362.7L205.9,363.6L206.6,362.8L207.3,362.0L208.0,362.3L208.7,361.8L209.4,361.1L210.1,360.0L210.8,360.0L211.5,359.5L212.1,358.7L212.8,358.8L213.5,359.4L214.2,359.7L214.9,360.2L215.6,360.8L216.3,360.6L217.0,360.7L217.7,360.9L218.4,359.7L219.0,358.9L219.7,358.8L220.4,359.7L221.1,360.0L221.8,360.4L222.5,361.1L223.2,361.1L223.9,362.3L224.6,362.7L225.3,363.3L226.0,363.3L226.6,364.2L227.3,363.4L228.0,363.2L228.7,363.7L229.4,363.5L230.1,362.7L230.8,362.8L231.5,362.3L232.2,362.4L232.9,362.6L233.5,362.5L234.2,362.7L234.9,363.6L235.6,363.5L236.3,362.2L237.0,361.9L237.7,361.9L238.4,360.4L239.1,360.5L239.8,359.8L240.5,359.1L241.1,358.4L241.8,359.0L242.5,358.7L243.2,358.8L243.9,360.5L244.6,361.1L245.3,361.9L246.0,362.8L246.7,361.6L247.4,362.1L248.0,362.4L248.7,361.6L249.4,361.8L250.1,361.5L250.8,362.7L251.5,362.5L252.2,362.2L252.9,362.6L253.6,361.9L254.3,362.5L255.0,362.1L255.6,361.6L256.3,360.9L257.0,359.5L257.7,357.5L258.4,354.1L259.1,348.3L259.8,342.0L260.5,339.2L261.2,343.8L261.9,351.0L262.5,356.1L263.2,359.0L263.9,361.0L264.6,361.8L265.3,362.3L266.0,361.9L266.7,362.2L267.4,362.5L268.1,362.0L268.8,362.7L269.5,363.2L270.1,362.5L270.8,363.2L271.5,363.1L272.2,363.3L272.9,363.4L273.6,364.0L274.3,363.2L275.0,364.0L275.7,363.1L276.4,363.3L277.0,362.2L277.7,362.7L278.4,362.7L279.1,362.6L279.8,362.6L280.5,362.1L281.2,361.5L281.9,361.3L282.6,362.1L283.3,362.1L284.0,361.3L284.6,361.5L285.3,360.3L286.0,359.0L286.7,358.9L287.4,358.3L288.1,358.1L288.8,359.1L289.5,359.2L290.2,359.7L290.9,360.1L291.5,360.1L292.2,360.6L292.9,361.1L293.6,361.1L294.3,361.3L295.0,361.0L295.7,360.5L296.4,360.7L297.1,360.0L297.8,359.0L298.5,358.8L299.1,357.6L299.8,354.4L300.5,351.9L301.2,349.0L301.9,347.1L302.6,345.4L303.3,345.4L304.0,347.1L304.7,349.7L305.4,351.3L306.0,354.2L306.7,356.1L307.4,357.1L308.1,359.2L308.8,360.1L309.5,360.6L310.2,361.5L310.9,361.6L311.6,361.6L312.3,361.8L313.0,361.5L313.6,361.3L314.3,361.7L315.0,361.9L315.7,361.3L316.4,361.0L317.1,360.8L317.8,361.2L318.5,361.0L319.2,361.8L319.9,361.6L320.5,360.6L321.2,361.1L321.9,361.7L322.6,361.5L323.3,361.8L324.0,361.8L324.7,361.7L325.4,361.1L326.1,361.8L326.8,362.2L327.5,362.2L328.1,362.1L328.8,362.0L329.5,361.9L330.2,361.7L330.9,362.1L331.6,361.9L332.3,361.1L333.0,361.1L333.7,361.7L334.4,362.1L335.0,362.5L335.7,362.6L336.4,361.9L337.1,360.8L337.8,360.1L338.5,359.9L339.2,360.3L339.9,360.9L340.6,360.7L341.3,360.1L342.0,360.8L342.6,360.5L343.3,359.7L344.0,358.9L344.7,357.7L345.4,355.4L346.1,354.6L346.8,355.6L347.5,357.4L348.2,358.3L348.9,358.0L349.5,358.0L350.2,357.7L350.9,357.6L351.6,357.0L352.3,356.9L353.0,356.4L353.7,355.7L354.4,355.2L355.1,355.3L355.8,354.3L356.5,354.0L357.1,352.4L357.8,350.6L358.5,348.0L359.2,344.9L359.9,339.6L360.6,333.0L361.3,323.6L362.0,310.7L362.7,295.7L363.4,278.1L364.0,262.7L364.7,254.5L365.4,258.1L366.1,271.2L366.8,288.0L367.5,304.1L368.2,317.0L368.9,327.6L369.6,334.4L370.3,338.2L371.0,341.9L371.6,344.1L372.3,346.0L373.0,346.0L373.7,345.9L374.4,345.7L375.1,343.7L375.8,343.3L376.5,340.2L377.2,335.5L377.9,329.9L378.5,322.7L379.2,312.4L379.9,297.9L380.6,281.8L381.3,263.1L382.0,245.8L382.7,233.8L383.4,232.1L384.1,240.9L384.8,257.9L385.5,276.6L386.1,293.8L386.8,308.6L387.5,319.8L388.2,328.0L388.9,333.8L389.6,338.5L390.3,341.4L391.0,342.3L391.7,342.7L392.4,343.3L393.0,340.9L393.7,338.0L394.4,334.4L395.1,330.6L395.8,325.3L396.5,320.9L397.2,318.4L397.9,319.8L398.6,323.6L399.3,328.8L400.0,333.2L400.6,339.3L401.3,343.0L402.0,346.3L402.7,349.0L403.4,350.7L404.1,352.2L404.8,352.6L405.5,352.2L406.2,352.5L406.9,353.5L407.5,353.4L408.2,353.5L408.9,353.2L409.6,352.9L410.3,354.0L411.0,353.8L411.7,353.6L412.4,352.9L413.1,353.6L413.8,353.9L414.5,354.0L415.1,353.4L415.8,352.9L416.5,352.6L417.2,353.1L417.9,353.4L418.6,354.0L419.3,353.5L420.0,353.2L420.7,352.8L421.4,353.3L422.0,353.1L422.7,352.3L423.4,352.1L424.1,351.9L424.8,351.2L425.5,350.6L426.2,349.9L426.9,348.8L427.6,347.4L428.3,345.8L429.0,344.0L429.6,343.1L430.3,341.7L431.0,341.4L431.7,341.9L432.4,342.7L433.1,343.4L433.8,343.4L434.5,343.7L435.2,343.9L435.9,343.8L436.5,341.9L437.2,339.6L437.9,336.5L438.6,334.6L439.3,334.8L440.0,336.4L440.7,338.8L441.4,342.8L442.1,345.1L442.8,346.1L443.5,347.4L444.1,348.7L444.8,348.1L445.5,347.5L446.2,347.9L446.9,347.1L447.6,346.7L448.3,346.7L449.0,345.1L449.7,341.9L450.4,339.8L451.0,335.4L451.7,328.7L452.4,317.7L453.1,303.9L453.8,286.2L454.5,266.5L455.2,251.4L455.9,244.8L456.6,250.6L457.3,264.7L458.0,282.6L458.6,299.5L459.3,313.1L460.0,323.0L460.7,328.4L461.4,331.2L462.1,331.8L462.8,330.1L463.5,325.0L464.2,316.4L464.9,304.0L465.5,285.5L466.2,264.3L466.9,241.4L467.6,221.5L468.3,210.7L469.0,214.0L469.7,231.1L470.4,252.8L471.1,276.6L471.8,296.9L472.5,311.8L473.1,323.3L473.8,329.3L474.5,333.1L475.2,334.5L475.9,333.2L476.6,331.2L477.3,328.3L478.0,323.8L478.7,319.1L479.4,318.5L480.0,320.2L480.7,325.6L481.4,331.0L482.1,336.0L482.8,340.1L483.5,344.0L484.2,346.0L484.9,347.5L485.6,348.4L486.3,348.7L487.0,349.5L487.6,349.8L488.3,349.9L489.0,349.5L489.7,349.4L490.4,350.0L491.1,349.5L491.8,350.1L492.5,350.3L493.2,349.8L493.9,348.9L494.5,349.2L495.2,349.2L495.9,348.6L496.6,347.7L497.3,346.9L498.0,345.5L498.7,343.9L499.4,342.0L500.1,340.1L500.8,337.0L501.5,332.6L502.1,328.0L502.8,322.2L503.5,314.5L504.2,304.8L504.9,294.2L505.6,282.9L506.3,271.1L507.0,260.4L507.7,251.3L508.4,245.3L509.0,244.2L509.7,246.7L510.4,253.6L511.1,263.4L511.8,272.4L512.5,281.1L513.2,288.2L513.9,294.2L514.6,298.3L515.3,300.7L516.0,303.5L516.6,305.2L517.3,305.9L518.0,307.4L518.7,308.8L519.4,311.4L520.1,313.7L520.8,316.6L521.5,319.4L522.2,322.3L522.9,325.6L523.5,327.8L524.2,331.0L524.9,332.6L525.6,335.0L526.3,337.2L527.0,339.0L527.7,340.2L528.4,341.3L529.1,342.5L529.8,343.3L530.5,344.7L531.1,345.1L531.8,345.4L532.5,345.8L533.2,347.0L533.9,348.1L534.6,349.3L535.3,350.3L536.0,351.4L536.7,351.3L537.4,351.6L538.0,352.4L538.7,352.6L539.4,353.5L540.1,354.7L540.8,354.5L541.5,355.4L542.2,355.7L542.9,356.7L543.6,356.7L544.3,357.6L545.0,357.9L545.6,358.1L546.3,357.6L547.0,357.7L547.7,357.0L548.4,357.6L549.1,358.2L549.8,357.9L550.5,358.0L551.2,357.9L551.9,358.3L552.5,357.5L553.2,357.4L553.9,357.2L554.6,356.9L555.3,357.1L556.0,356.9L556.7,356.2L557.4,356.2L558.1,356.3L558.8,356.7L559.5,357.8L560.1,357.7L560.8,358.5L561.5,358.5L562.2,359.3L562.9,359.3L563.6,359.6L564.3,359.7L565.0,360.3L565.7,360.4L566.4,360.4L567.0,360.8L567.7,360.7L568.4,361.4L569.1,361.7L569.8,362.0L570.5,361.8L571.2,361.6L571.9,362.1L572.6,362.0L573.3,362.1L574.0,360.9L574.6,361.9L575.3,361.2L576.0,361.1L576.7,361.1L577.4,361.9L578.1,362.0L578.8,361.2L579.5,362.3L580.2,361.6L580.9,361.8L581.5,362.2L582.2,362.5L582.9,362.0L583.6,362.5L584.3,362.0L585.0,362.6L585.7,363.3L586.4,363.2L587.1,363.0L587.8,362.9L588.5,363.3L589.1,363.5L589.8,363.6L590.5,363.0L591.2,363.1L591.9,362.5L592.6,362.1L593.3,362.6L594.0,362.6L594.7,362.7L595.4,362.5L596.0,362.9L596.7,363.4L597.4,362.1L598.1,362.6L598.8,362.7L599.5,363.1L600.2,362.9L600.9,362.5L601.6,362.5L602.3,362.8L603.0,362.7L603.6,363.1L604.3,362.5L605.0,363.0L605.7,363.7L606.4,362.9L607.1,362.6L607.8,362.1L608.5,363.2L609.2,362.9L609.9,362.2L610.5,362.5L611.2,361.7L611.9,362.2L612.6,362.9L613.3,362.7L614.0,363.0L614.7,362.8L615.4,362.4L616.1,363.0L616.8,363.3L617.5,363.0L618.1,363.9L618.8,363.6L619.5,362.8L620.2,362.2L620.9,362.4L621.6,362.6L622.3,362.9L623.0,363.3L623.7,363.3L624.4,363.5L625.0,362.7L625.7,362.8L626.4,362.2L627.1,362.2L627.8,361.9L628.5,362.6L629.2,363.4L629.9,363.3L630.6,364.2" fill="none" stroke="#ff0808" stroke-width="1.6" stroke-linejoin="round"/>
<path d="M185.4,379.9L186.1,379.7L186.8,380.1L187.5,379.8L188.2,379.6L188.9,379.2L189.6,379.2L190.3,379.2L191.0,379.4L191.7,379.0L192.4,378.7L193.1,377.9L193.8,376.4L194.5,375.4L195.2,375.1L195.9,375.9L196.7,376.4L197.4,376.5L198.1,377.7L198.8,377.8L199.5,377.4L200.2,377.7L200.9,377.7L201.6,376.3L202.3,374.7L203.0,375.3L203.7,375.5L204.4,376.1L205.1,377.2L205.8,378.0L206.5,379.2L207.2,379.1L207.9,379.1L208.6,379.6L209.3,379.5L210.0,379.5L210.7,379.5L211.4,379.9L212.1,379.9L212.8,379.5L213.5,379.8L214.3,379.5L215.0,380.0L215.7,380.0L216.4,380.5L217.1,380.1L217.8,379.9L218.5,379.4L219.2,379.3L219.9,379.0L220.6,379.2L221.3,377.9L222.0,378.1L222.7,376.9L223.4,376.4L224.1,375.4L224.8,374.4L225.5,374.7L226.2,376.0L226.9,376.9L227.6,377.9L228.3,378.6L229.0,378.8L229.7,378.7L230.4,379.3L231.2,379.0L231.9,379.2L232.6,379.0L233.3,378.7L234.0,379.1L234.7,379.7L235.4,379.7L236.1,379.5L236.8,380.4L237.5,380.7L238.2,380.3L238.9,379.2L239.6,378.6L240.3,377.9L241.0,377.1L241.7,375.5L242.4,372.8L243.1,366.8L243.8,358.4L244.5,355.2L245.2,360.3L245.9,368.0L246.6,373.1L247.3,376.0L248.1,377.0L248.8,378.3L249.5,378.9L250.2,379.2L250.9,379.3L251.6,379.9L252.3,379.3L253.0,379.3L253.7,379.4L254.4,379.6L255.1,380.0L255.8,380.4L256.5,380.5L257.2,380.7L257.9,380.2L258.6,381.0L259.3,380.8L260.0,381.3L260.7,381.2L261.4,379.7L262.1,380.3L262.8,380.3L263.5,379.9L264.2,379.7L265.0,380.2L265.7,380.0L266.4,380.3L267.1,379.8L267.8,378.9L268.5,379.5L269.2,379.1L269.9,378.3L270.6,377.7L271.3,377.7L272.0,376.8L272.7,377.6L273.4,377.3L274.1,376.7L274.8,377.3L275.5,378.5L276.2,378.3L276.9,379.1L277.6,378.4L278.3,377.9L279.0,379.0L279.7,379.1L280.4,379.3L281.1,378.3L281.9,377.8L282.6,376.7L283.3,375.8L284.0,375.1L284.7,373.3L285.4,370.5L286.1,367.2L286.8,365.8L287.5,363.4L288.2,364.0L288.9,365.4L289.6,367.9L290.3,370.4L291.0,373.0L291.7,374.6L292.4,376.2L293.1,376.6L293.8,377.8L294.5,378.9L295.2,379.3L295.9,380.2L296.6,379.8L297.3,379.9L298.0,379.7L298.8,379.3L299.5,380.1L300.2,380.1L300.9,380.1L301.6,379.7L302.3,379.4L303.0,380.1L303.7,380.3L304.4,380.5L305.1,379.3L305.8,379.7L306.5,380.0L307.2,379.7L307.9,378.7L308.6,379.2L309.3,379.1L310.0,379.1L310.7,379.9L311.4,379.7L312.1,379.8L312.8,380.2L313.5,380.1L314.2,380.2L314.9,379.9L315.7,379.9L316.4,379.7L317.1,380.3L317.8,379.5L318.5,379.3L319.2,379.1L319.9,378.9L320.6,378.7L321.3,379.8L322.0,380.6L322.7,379.4L323.4,379.2L324.1,378.9L324.8,378.7L325.5,378.5L326.2,378.5L326.9,378.6L327.6,378.5L328.3,378.3L329.0,377.8L329.7,377.0L330.4,375.5L331.1,374.3L331.8,373.7L332.6,374.1L333.3,376.0L334.0,376.8L334.7,377.1L335.4,376.5L336.1,376.4L336.8,376.4L337.5,376.2L338.2,376.3L338.9,375.7L339.6,375.2L340.3,373.6L341.0,373.2L341.7,372.7L342.4,371.1L343.1,370.1L343.8,369.3L344.5,367.5L345.2,363.8L345.9,359.9L346.6,353.0L347.3,344.0L348.0,331.6L348.7,316.5L349.4,301.2L350.2,286.0L350.9,277.9L351.6,280.8L352.3,293.2L353.0,309.6L353.7,325.4L354.4,338.2L355.1,346.3L355.8,352.7L356.5,357.9L357.2,360.5L357.9,362.5L358.6,363.5L359.3,364.1L360.0,363.7L360.7,362.9L361.4,362.0L362.1,360.4L362.8,357.9L363.5,353.8L364.2,348.2L364.9,341.0L365.6,329.9L366.3,315.5L367.1,299.0L367.8,279.8L368.5,261.3L369.2,249.1L369.9,247.4L370.6,256.6L371.3,273.4L372.0,293.6L372.7,311.4L373.4,326.9L374.1,337.8L374.8,346.7L375.5,352.8L376.2,357.1L376.9,359.6L377.6,360.3L378.3,361.0L379.0,360.5L379.7,358.8L380.4,356.6L381.1,352.5L381.8,348.1L382.5,343.1L383.2,339.1L384.0,336.2L384.7,336.8L385.4,341.7L386.1,347.1L386.8,353.1L387.5,358.2L388.2,362.2L388.9,364.9L389.6,367.5L390.3,369.3L391.0,369.9L391.7,371.0L392.4,371.5L393.1,371.8L393.8,371.3L394.5,371.4L395.2,372.4L395.9,372.6L396.6,372.7L397.3,372.9L398.0,372.9L398.7,372.0L399.4,372.7L400.1,372.8L400.9,373.4L401.6,373.3L402.3,372.6L403.0,372.6L403.7,373.3L404.4,374.5L405.1,373.6L405.8,373.1L406.5,372.7L407.2,372.1L407.9,372.0L408.6,372.4L409.3,372.6L410.0,372.5L410.7,371.7L411.4,371.5L412.1,370.7L412.8,369.7L413.5,368.2L414.2,368.1L414.9,366.5L415.6,365.4L416.3,364.2L417.0,362.7L417.8,361.9L418.5,361.4L419.2,362.2L419.9,362.8L420.6,363.2L421.3,364.1L422.0,365.6L422.7,364.6L423.4,363.6L424.1,362.2L424.8,359.8L425.5,357.1L426.2,354.8L426.9,355.0L427.6,357.1L428.3,359.4L429.0,362.4L429.7,365.3L430.4,367.4L431.1,367.4L431.8,368.1L432.5,367.6L433.2,367.3L433.9,367.5L434.7,367.0L435.4,366.4L436.1,366.5L436.8,364.9L437.5,362.8L438.2,359.5L438.9,354.9L439.6,346.0L440.3,335.5L441.0,320.2L441.7,301.1L442.4,281.2L443.1,265.0L443.8,258.0L444.5,262.6L445.2,278.4L445.9,297.7L446.6,316.2L447.3,330.5L448.0,340.3L448.7,347.5L449.4,351.2L450.1,351.4L450.8,349.8L451.6,345.4L452.3,336.6L453.0,323.5L453.7,306.9L454.4,286.6L455.1,263.9L455.8,244.9L456.5,235.2L457.2,239.0L457.9,255.1L458.6,275.7L459.3,299.0L460.0,318.1L460.7,332.8L461.4,343.8L462.1,350.7L462.8,354.1L463.5,355.5L464.2,355.1L464.9,351.6L465.6,347.8L466.3,343.0L467.0,339.4L467.7,338.4L468.5,341.0L469.2,345.0L469.9,350.6L470.6,355.8L471.3,360.3L472.0,363.6L472.7,366.2L473.4,367.0L474.1,368.3L474.8,368.8L475.5,369.1L476.2,369.2L476.9,369.5L477.6,370.0L478.3,370.5L479.0,370.5L479.7,370.8L480.4,370.0L481.1,370.3L481.8,369.6L482.5,369.5L483.2,369.4L483.9,369.3L484.6,368.8L485.3,367.6L486.1,366.8L486.8,365.8L487.5,364.2L488.2,362.6L488.9,361.7L489.6,358.8L490.3,354.4L491.0,350.1L491.7,343.9L492.4,336.8L493.1,328.8L493.8,320.2L494.5,309.2L495.2,299.1L495.9,288.3L496.6,279.9L497.3,275.2L498.0,274.1L498.7,276.3L499.4,282.7L500.1,290.2L500.8,298.0L501.5,306.0L502.2,313.0L503.0,318.2L503.7,321.0L504.4,324.2L505.1,325.1L505.8,325.5L506.5,326.7L507.2,328.9L507.9,330.3L508.6,330.9L509.3,335.0L510.0,338.0L510.7,340.8L511.4,343.3L512.1,346.7L512.8,349.0L513.5,351.8L514.2,354.2L514.9,356.4L515.6,358.0L516.3,359.4L517.0,360.3L517.7,360.9L518.4,363.2L519.1,364.9L519.9,364.6L520.6,365.7L521.3,366.5L522.0,366.7L522.7,367.6L523.4,368.5L524.1,369.2L524.8,369.6L525.5,370.6L526.2,372.3L526.9,373.1L527.6,373.4L528.3,373.7L529.0,373.5L529.7,374.1L530.4,375.1L531.1,375.8L531.8,376.6L532.5,377.4L533.2,376.8L533.9,377.3L534.6,377.6L535.3,377.9L536.0,378.0L536.8,378.1L537.5,377.8L538.2,377.0L538.9,376.9L539.6,377.7L540.3,377.8L541.0,378.5L541.7,379.1L542.4,379.4L543.1,379.1L543.8,378.4L544.5,378.3L545.2,377.4L545.9,377.1L546.6,376.7L547.3,376.6L548.0,377.0L548.7,377.2L549.4,377.3L550.1,377.6L550.8,377.7L551.5,378.7L552.2,379.5L552.9,379.4L553.7,379.5L554.4,380.3L555.1,380.2L555.8,380.7L556.5,380.7L557.2,380.8L557.9,380.9L558.6,380.8L559.3,381.4L560.0,381.7L560.7,382.4L561.4,381.7L562.1,381.8L562.8,381.9L563.5,381.5L564.2,381.8L564.9,381.7L565.6,381.5L566.3,382.8L567.0,382.9L567.7,382.8L568.4,382.6L569.1,382.2L569.8,382.1L570.6,382.3L571.3,382.5L572.0,382.6L572.7,382.8L573.4,382.6L574.1,381.3L574.8,382.3L575.5,381.9L576.2,382.7L576.9,381.9L577.6,382.6L578.3,382.7L579.0,383.0L579.7,382.2L580.4,382.9L581.1,383.4L581.8,383.4L582.5,383.0L583.2,382.7L583.9,382.3L584.6,381.8L585.3,383.1L586.0,383.1L586.7,382.9L587.5,383.3L588.2,383.2L588.9,382.9L589.6,382.5L590.3,382.9L591.0,382.8L591.7,382.2L592.4,381.9L593.1,382.6L593.8,382.9L594.5,382.8L595.2,383.6L595.9,383.2L596.6,383.0L597.3,382.8L598.0,383.0L598.7,383.0L599.4,383.1L600.1,383.8L600.8,383.6L601.5,383.9L602.2,383.0L602.9,382.8L603.6,382.8L604.4,382.2L605.1,382.8L605.8,383.2L606.5,383.1L607.2,383.2L607.9,382.5L608.6,382.2L609.3,383.3L610.0,383.2L610.7,383.3L611.4,383.4L612.1,382.8L612.8,383.4L613.5,382.8L614.2,382.9L614.9,383.2L615.6,383.5L616.3,383.8L617.0,383.5L617.7,383.9L618.4,383.4L619.1,383.3L619.8,384.8L620.5,383.9L621.2,383.9L622.0,384.0L622.0,400.1L185.4,400.1Z" fill="#fff"/>
<path d="M185.4,379.9L186.1,379.7L186.8,380.1L187.5,379.8L188.2,379.6L188.9,379.2L189.6,379.2L190.3,379.2L191.0,379.4L191.7,379.0L192.4,378.7L193.1,377.9L193.8,376.4L194.5,375.4L195.2,375.1L195.9,375.9L196.7,376.4L197.4,376.5L198.1,377.7L198.8,377.8L199.5,377.4L200.2,377.7L200.9,377.7L201.6,376.3L202.3,374.7L203.0,375.3L203.7,375.5L204.4,376.1L205.1,377.2L205.8,378.0L206.5,379.2L207.2,379.1L207.9,379.1L208.6,379.6L209.3,379.5L210.0,379.5L210.7,379.5L211.4,379.9L212.1,379.9L212.8,379.5L213.5,379.8L214.3,379.5L215.0,380.0L215.7,380.0L216.4,380.5L217.1,380.1L217.8,379.9L218.5,379.4L219.2,379.3L219.9,379.0L220.6,379.2L221.3,377.9L222.0,378.1L222.7,376.9L223.4,376.4L224.1,375.4L224.8,374.4L225.5,374.7L226.2,376.0L226.9,376.9L227.6,377.9L228.3,378.6L229.0,378.8L229.7,378.7L230.4,379.3L231.2,379.0L231.9,379.2L232.6,379.0L233.3,378.7L234.0,379.1L234.7,379.7L235.4,379.7L236.1,379.5L236.8,380.4L237.5,380.7L238.2,380.3L238.9,379.2L239.6,378.6L240.3,377.9L241.0,377.1L241.7,375.5L242.4,372.8L243.1,366.8L243.8,358.4L244.5,355.2L245.2,360.3L245.9,368.0L246.6,373.1L247.3,376.0L248.1,377.0L248.8,378.3L249.5,378.9L250.2,379.2L250.9,379.3L251.6,379.9L252.3,379.3L253.0,379.3L253.7,379.4L254.4,379.6L255.1,380.0L255.8,380.4L256.5,380.5L257.2,380.7L257.9,380.2L258.6,381.0L259.3,380.8L260.0,381.3L260.7,381.2L261.4,379.7L262.1,380.3L262.8,380.3L263.5,379.9L264.2,379.7L265.0,380.2L265.7,380.0L266.4,380.3L267.1,379.8L267.8,378.9L268.5,379.5L269.2,379.1L269.9,378.3L270.6,377.7L271.3,377.7L272.0,376.8L272.7,377.6L273.4,377.3L274.1,376.7L274.8,377.3L275.5,378.5L276.2,378.3L276.9,379.1L277.6,378.4L278.3,377.9L279.0,379.0L279.7,379.1L280.4,379.3L281.1,378.3L281.9,377.8L282.6,376.7L283.3,375.8L284.0,375.1L284.7,373.3L285.4,370.5L286.1,367.2L286.8,365.8L287.5,363.4L288.2,364.0L288.9,365.4L289.6,367.9L290.3,370.4L291.0,373.0L291.7,374.6L292.4,376.2L293.1,376.6L293.8,377.8L294.5,378.9L295.2,379.3L295.9,380.2L296.6,379.8L297.3,379.9L298.0,379.7L298.8,379.3L299.5,380.1L300.2,380.1L300.9,380.1L301.6,379.7L302.3,379.4L303.0,380.1L303.7,380.3L304.4,380.5L305.1,379.3L305.8,379.7L306.5,380.0L307.2,379.7L307.9,378.7L308.6,379.2L309.3,379.1L310.0,379.1L310.7,379.9L311.4,379.7L312.1,379.8L312.8,380.2L313.5,380.1L314.2,380.2L314.9,379.9L315.7,379.9L316.4,379.7L317.1,380.3L317.8,379.5L318.5,379.3L319.2,379.1L319.9,378.9L320.6,378.7L321.3,379.8L322.0,380.6L322.7,379.4L323.4,379.2L324.1,378.9L324.8,378.7L325.5,378.5L326.2,378.5L326.9,378.6L327.6,378.5L328.3,378.3L329.0,377.8L329.7,377.0L330.4,375.5L331.1,374.3L331.8,373.7L332.6,374.1L333.3,376.0L334.0,376.8L334.7,377.1L335.4,376.5L336.1,376.4L336.8,376.4L337.5,376.2L338.2,376.3L338.9,375.7L339.6,375.2L340.3,373.6L341.0,373.2L341.7,372.7L342.4,371.1L343.1,370.1L343.8,369.3L344.5,367.5L345.2,363.8L345.9,359.9L346.6,353.0L347.3,344.0L348.0,331.6L348.7,316.5L349.4,301.2L350.2,286.0L350.9,277.9L351.6,280.8L352.3,293.2L353.0,309.6L353.7,325.4L354.4,338.2L355.1,346.3L355.8,352.7L356.5,357.9L357.2,360.5L357.9,362.5L358.6,363.5L359.3,364.1L360.0,363.7L360.7,362.9L361.4,362.0L362.1,360.4L362.8,357.9L363.5,353.8L364.2,348.2L364.9,341.0L365.6,329.9L366.3,315.5L367.1,299.0L367.8,279.8L368.5,261.3L369.2,249.1L369.9,247.4L370.6,256.6L371.3,273.4L372.0,293.6L372.7,311.4L373.4,326.9L374.1,337.8L374.8,346.7L375.5,352.8L376.2,357.1L376.9,359.6L377.6,360.3L378.3,361.0L379.0,360.5L379.7,358.8L380.4,356.6L381.1,352.5L381.8,348.1L382.5,343.1L383.2,339.1L384.0,336.2L384.7,336.8L385.4,341.7L386.1,347.1L386.8,353.1L387.5,358.2L388.2,362.2L388.9,364.9L389.6,367.5L390.3,369.3L391.0,369.9L391.7,371.0L392.4,371.5L393.1,371.8L393.8,371.3L394.5,371.4L395.2,372.4L395.9,372.6L396.6,372.7L397.3,372.9L398.0,372.9L398.7,372.0L399.4,372.7L400.1,372.8L400.9,373.4L401.6,373.3L402.3,372.6L403.0,372.6L403.7,373.3L404.4,374.5L405.1,373.6L405.8,373.1L406.5,372.7L407.2,372.1L407.9,372.0L408.6,372.4L409.3,372.6L410.0,372.5L410.7,371.7L411.4,371.5L412.1,370.7L412.8,369.7L413.5,368.2L414.2,368.1L414.9,366.5L415.6,365.4L416.3,364.2L417.0,362.7L417.8,361.9L418.5,361.4L419.2,362.2L419.9,362.8L420.6,363.2L421.3,364.1L422.0,365.6L422.7,364.6L423.4,363.6L424.1,362.2L424.8,359.8L425.5,357.1L426.2,354.8L426.9,355.0L427.6,357.1L428.3,359.4L429.0,362.4L429.7,365.3L430.4,367.4L431.1,367.4L431.8,368.1L432.5,367.6L433.2,367.3L433.9,367.5L434.7,367.0L435.4,366.4L436.1,366.5L436.8,364.9L437.5,362.8L438.2,359.5L438.9,354.9L439.6,346.0L440.3,335.5L441.0,320.2L441.7,301.1L442.4,281.2L443.1,265.0L443.8,258.0L444.5,262.6L445.2,278.4L445.9,297.7L446.6,316.2L447.3,330.5L448.0,340.3L448.7,347.5L449.4,351.2L450.1,351.4L450.8,349.8L451.6,345.4L452.3,336.6L453.0,323.5L453.7,306.9L454.4,286.6L455.1,263.9L455.8,244.9L456.5,235.2L457.2,239.0L457.9,255.1L458.6,275.7L459.3,299.0L460.0,318.1L460.7,332.8L461.4,343.8L462.1,350.7L462.8,354.1L463.5,355.5L464.2,355.1L464.9,351.6L465.6,347.8L466.3,343.0L467.0,339.4L467.7,338.4L468.5,341.0L469.2,345.0L469.9,350.6L470.6,355.8L471.3,360.3L472.0,363.6L472.7,366.2L473.4,367.0L474.1,368.3L474.8,368.8L475.5,369.1L476.2,369.2L476.9,369.5L477.6,370.0L478.3,370.5L479.0,370.5L479.7,370.8L480.4,370.0L481.1,370.3L481.8,369.6L482.5,369.5L483.2,369.4L483.9,369.3L484.6,368.8L485.3,367.6L486.1,366.8L486.8,365.8L487.5,364.2L488.2,362.6L488.9,361.7L489.6,358.8L490.3,354.4L491.0,350.1L491.7,343.9L492.4,336.8L493.1,328.8L493.8,320.2L494.5,309.2L495.2,299.1L495.9,288.3L496.6,279.9L497.3,275.2L498.0,274.1L498.7,276.3L499.4,282.7L500.1,290.2L500.8,298.0L501.5,306.0L502.2,313.0L503.0,318.2L503.7,321.0L504.4,324.2L505.1,325.1L505.8,325.5L506.5,326.7L507.2,328.9L507.9,330.3L508.6,330.9L509.3,335.0L510.0,338.0L510.7,340.8L511.4,343.3L512.1,346.7L512.8,349.0L513.5,351.8L514.2,354.2L514.9,356.4L515.6,358.0L516.3,359.4L517.0,360.3L517.7,360.9L518.4,363.2L519.1,364.9L519.9,364.6L520.6,365.7L521.3,366.5L522.0,366.7L522.7,367.6L523.4,368.5L524.1,369.2L524.8,369.6L525.5,370.6L526.2,372.3L526.9,373.1L527.6,373.4L528.3,373.7L529.0,373.5L529.7,374.1L530.4,375.1L531.1,375.8L531.8,376.6L532.5,377.4L533.2,376.8L533.9,377.3L534.6,377.6L535.3,377.9L536.0,378.0L536.8,378.1L537.5,377.8L538.2,377.0L538.9,376.9L539.6,377.7L540.3,377.8L541.0,378.5L541.7,379.1L542.4,379.4L543.1,379.1L543.8,378.4L544.5,378.3L545.2,377.4L545.9,377.1L546.6,376.7L547.3,376.6L548.0,377.0L548.7,377.2L549.4,377.3L550.1,377.6L550.8,377.7L551.5,378.7L552.2,379.5L552.9,379.4L553.7,379.5L554.4,380.3L555.1,380.2L555.8,380.7L556.5,380.7L557.2,380.8L557.9,380.9L558.6,380.8L559.3,381.4L560.0,381.7L560.7,382.4L561.4,381.7L562.1,381.8L562.8,381.9L563.5,381.5L564.2,381.8L564.9,381.7L565.6,381.5L566.3,382.8L567.0,382.9L567.7,382.8L568.4,382.6L569.1,382.2L569.8,382.1L570.6,382.3L571.3,382.5L572.0,382.6L572.7,382.8L573.4,382.6L574.1,381.3L574.8,382.3L575.5,381.9L576.2,382.7L576.9,381.9L577.6,382.6L578.3,382.7L579.0,383.0L579.7,382.2L580.4,382.9L581.1,383.4L581.8,383.4L582.5,383.0L583.2,382.7L583.9,382.3L584.6,381.8L585.3,383.1L586.0,383.1L586.7,382.9L587.5,383.3L588.2,383.2L588.9,382.9L589.6,382.5L590.3,382.9L591.0,382.8L591.7,382.2L592.4,381.9L593.1,382.6L593.8,382.9L594.5,382.8L595.2,383.6L595.9,383.2L596.6,383.0L597.3,382.8L598.0,383.0L598.7,383.0L599.4,383.1L600.1,383.8L600.8,383.6L601.5,383.9L602.2,383.0L602.9,382.8L603.6,382.8L604.4,382.2L605.1,382.8L605.8,383.2L606.5,383.1L607.2,383.2L607.9,382.5L608.6,382.2L609.3,383.3L610.0,383.2L610.7,383.3L611.4,383.4L612.1,382.8L612.8,383.4L613.5,382.8L614.2,382.9L614.9,383.2L615.6,383.5L616.3,383.8L617.0,383.5L617.7,383.9L618.4,383.4L619.1,383.3L619.8,384.8L620.5,383.9L621.2,383.9L622.0,384.0" fill="none" stroke="#ff0808" stroke-width="1.6" stroke-linejoin="round"/>
<path d="M167.6,405.8L168.3,405.3L169.1,405.6L169.8,405.6L170.5,405.4L171.2,404.9L171.9,404.6L172.6,404.4L173.4,403.9L174.1,403.5L174.8,403.1L175.5,402.1L176.2,401.3L177.0,400.1L177.7,400.5L178.4,401.1L179.1,401.3L179.8,401.9L180.5,401.9L181.3,402.0L182.0,402.1L182.7,402.3L183.4,402.2L184.1,401.8L184.9,400.9L185.6,401.4L186.3,402.1L187.0,402.0L187.7,402.8L188.4,403.3L189.2,404.5L189.9,404.7L190.6,404.6L191.3,404.4L192.0,404.5L192.8,405.0L193.5,405.6L194.2,406.3L194.9,404.8L195.6,404.8L196.3,405.0L197.1,405.9L197.8,405.4L198.5,405.5L199.2,405.6L199.9,405.6L200.7,405.0L201.4,404.8L202.1,404.5L202.8,404.9L203.5,404.8L204.3,404.9L205.0,404.4L205.7,403.2L206.4,402.5L207.1,401.1L207.8,400.2L208.6,401.1L209.3,401.5L210.0,402.1L210.7,403.6L211.4,403.8L212.2,404.4L212.9,403.9L213.6,403.2L214.3,404.0L215.0,403.7L215.7,403.8L216.5,404.0L217.2,404.7L217.9,405.2L218.6,404.8L219.3,404.3L220.1,405.0L220.8,404.8L221.5,404.5L222.2,403.7L222.9,404.0L223.6,403.7L224.4,403.4L225.1,401.9L225.8,399.3L226.5,393.4L227.2,387.8L228.0,384.5L228.7,388.9L229.4,395.0L230.1,400.6L230.8,402.5L231.5,403.7L232.3,403.9L233.0,405.0L233.7,405.1L234.4,405.2L235.1,404.9L235.9,404.6L236.6,404.6L237.3,405.3L238.0,406.4L238.7,406.2L239.4,406.2L240.2,405.8L240.9,406.3L241.6,406.2L242.3,405.9L243.0,405.5L243.8,406.6L244.5,406.9L245.2,406.4L245.9,405.7L246.6,406.4L247.4,405.8L248.1,405.3L248.8,405.1L249.5,404.5L250.2,404.9L250.9,405.3L251.7,404.2L252.4,404.8L253.1,404.5L253.8,403.7L254.5,403.6L255.3,403.4L256.0,401.8L256.7,401.2L257.4,401.4L258.1,402.6L258.8,402.6L259.6,403.0L260.3,403.6L261.0,404.0L261.7,404.6L262.4,404.3L263.2,404.2L263.9,404.0L264.6,403.2L265.3,403.2L266.0,402.6L266.7,401.9L267.5,401.5L268.2,400.0L268.9,397.8L269.6,395.8L270.3,392.6L271.1,390.3L271.8,388.5L272.5,387.9L273.2,389.4L273.9,392.2L274.6,394.9L275.4,397.2L276.1,399.0L276.8,401.0L277.5,401.8L278.2,402.6L279.0,402.9L279.7,403.4L280.4,404.5L281.1,404.9L281.8,404.6L282.6,405.2L283.3,405.5L284.0,404.8L284.7,404.7L285.4,404.7L286.1,405.2L286.9,405.6L287.6,404.2L288.3,404.4L289.0,404.2L289.7,404.6L290.5,405.0L291.2,405.0L291.9,405.3L292.6,405.3L293.3,405.1L294.0,405.0L294.8,405.2L295.5,405.8L296.2,405.4L296.9,405.2L297.6,405.1L298.4,405.0L299.1,404.1L299.8,404.3L300.5,404.4L301.2,405.0L301.9,404.3L302.7,404.9L303.4,404.9L304.1,404.0L304.8,404.2L305.5,404.8L306.3,405.0L307.0,404.6L307.7,403.7L308.4,404.0L309.1,404.5L309.8,404.5L310.6,404.5L311.3,403.7L312.0,403.5L312.7,404.1L313.4,403.1L314.2,403.4L314.9,403.2L315.6,401.3L316.3,400.0L317.0,397.9L317.7,398.8L318.5,400.4L319.2,401.0L319.9,401.2L320.6,401.5L321.3,401.6L322.1,401.4L322.8,401.2L323.5,401.1L324.2,401.1L324.9,400.8L325.7,400.2L326.4,399.9L327.1,399.9L327.8,398.7L328.5,397.5L329.2,395.4L330.0,393.0L330.7,391.0L331.4,387.3L332.1,381.4L332.8,373.6L333.6,363.3L334.3,351.1L335.0,336.5L335.7,325.1L336.4,319.1L337.1,321.9L337.9,331.5L338.6,344.6L339.3,357.9L340.0,368.3L340.7,376.1L341.5,381.8L342.2,386.3L342.9,388.6L343.6,389.8L344.3,391.1L345.0,391.1L345.8,391.0L346.5,390.9L347.2,389.1L347.9,388.0L348.6,385.3L349.4,382.0L350.1,377.6L350.8,370.8L351.5,360.9L352.2,349.0L352.9,334.4L353.7,318.5L354.4,302.7L355.1,292.5L355.8,290.7L356.5,300.0L357.3,314.4L358.0,331.5L358.7,346.3L359.4,359.0L360.1,368.5L360.9,376.3L361.6,381.6L362.3,384.8L363.0,387.1L363.7,388.1L364.4,388.9L365.2,388.8L365.9,387.9L366.6,385.9L367.3,382.4L368.0,377.6L368.8,373.4L369.5,369.2L370.2,367.7L370.9,368.7L371.6,372.2L372.3,377.4L373.1,382.2L373.8,385.5L374.5,388.6L375.2,391.7L375.9,393.6L376.7,395.3L377.4,396.2L378.1,397.1L378.8,396.8L379.5,396.9L380.2,397.7L381.0,398.3L381.7,398.6L382.4,398.2L383.1,398.7L383.8,398.7L384.6,398.6L385.3,397.9L386.0,397.9L386.7,397.8L387.4,399.0L388.1,398.8L388.9,398.9L389.6,398.6L390.3,398.2L391.0,399.0L391.7,398.4L392.5,398.5L393.2,398.8L393.9,399.7L394.6,399.0L395.3,397.6L396.1,398.5L396.8,398.2L397.5,397.9L398.2,397.0L398.9,396.9L399.6,395.7L400.4,395.4L401.1,394.3L401.8,393.5L402.5,393.0L403.2,392.1L404.0,390.3L404.7,390.0L405.4,390.4L406.1,389.9L406.8,389.5L407.5,390.7L408.3,391.2L409.0,391.3L409.7,391.5L410.4,390.8L411.1,389.5L411.9,386.4L412.6,385.0L413.3,383.2L414.0,382.9L414.7,384.1L415.4,387.0L416.2,389.2L416.9,391.7L417.6,392.5L418.3,393.4L419.0,393.8L419.8,393.8L420.5,393.1L421.2,393.8L421.9,392.9L422.6,392.2L423.3,391.1L424.1,390.7L424.8,389.9L425.5,387.5L426.2,383.4L426.9,378.0L427.7,368.6L428.4,356.9L429.1,342.9L429.8,327.4L430.5,315.0L431.2,309.2L432.0,313.4L432.7,325.1L433.4,339.6L434.1,353.8L434.8,365.0L435.6,373.3L436.3,378.6L437.0,381.3L437.7,381.2L438.4,378.9L439.2,375.5L439.9,367.7L440.6,356.5L441.3,340.1L442.0,321.5L442.7,302.3L443.5,285.2L444.2,275.2L444.9,278.5L445.6,293.4L446.3,313.4L447.1,332.6L447.8,349.8L448.5,363.3L449.2,372.4L449.9,379.0L450.6,381.5L451.4,382.4L452.1,381.9L452.8,379.6L453.5,376.4L454.2,372.2L455.0,369.7L455.7,368.7L456.4,370.9L457.1,375.5L457.8,380.6L458.5,384.6L459.3,388.3L460.0,391.7L460.7,393.7L461.4,394.6L462.1,394.3L462.9,394.8L463.6,395.3L464.3,395.7L465.0,395.5L465.7,395.5L466.4,395.1L467.2,395.3L467.9,395.5L468.6,395.7L469.3,395.5L470.0,395.2L470.8,395.2L471.5,394.9L472.2,394.0L472.9,394.3L473.6,394.0L474.4,392.9L475.1,392.6L475.8,391.4L476.5,389.8L477.2,388.1L477.9,385.5L478.7,382.8L479.4,378.9L480.1,374.3L480.8,368.1L481.5,360.8L482.3,354.3L483.0,344.9L483.7,336.4L484.4,329.0L485.1,322.3L485.8,317.1L486.6,316.2L487.3,318.6L488.0,323.9L488.7,330.1L489.4,336.4L490.2,342.5L490.9,347.1L491.6,351.6L492.3,354.3L493.0,356.1L493.7,357.4L494.5,359.5L495.2,360.6L495.9,360.7L496.6,361.2L497.3,363.9L498.1,365.6L498.8,367.9L499.5,370.2L500.2,373.0L500.9,375.3L501.6,377.1L502.4,379.8L503.1,381.6L503.8,383.1L504.5,385.2L505.2,385.9L506.0,387.0L506.7,387.5L507.4,388.6L508.1,389.2L508.8,390.9L509.6,391.3L510.3,391.9L511.0,392.9L511.7,394.2L512.4,394.0L513.1,394.7L513.9,395.0L514.6,396.0L515.3,396.4L516.0,396.7L516.7,397.3L517.5,398.1L518.2,398.9L518.9,400.0L519.6,400.4L520.3,400.5L521.0,400.5L521.8,400.3L522.5,400.3L523.2,402.1L523.9,400.7L524.6,400.8L525.4,401.3L526.1,402.5L526.8,402.4L527.5,403.4L528.2,402.5L528.9,402.1L529.7,402.7L530.4,403.1L531.1,402.6L531.8,402.1L532.5,401.5L533.3,401.7L534.0,401.3L534.7,400.3L535.4,399.9L536.1,399.6L536.8,400.2L537.6,400.8L538.3,401.2L539.0,401.6L539.7,401.9L540.4,402.2L541.2,402.7L541.9,402.9L542.6,403.0L543.3,403.1L544.0,403.3L544.7,403.0L545.5,403.4L546.2,404.4L546.9,404.1L547.6,403.4L548.3,403.4L549.1,403.3L549.8,403.7L550.5,404.4L551.2,404.6L551.9,404.6L552.7,405.2L553.4,404.7L554.1,405.2L554.8,406.4L555.5,406.2L556.2,406.4L557.0,405.4L557.7,405.6L558.4,405.1L559.1,405.7L559.8,405.8L560.6,406.5L561.3,406.4L562.0,406.3L562.7,407.0L563.4,406.6L564.1,406.1L564.9,405.2L565.6,405.5L566.3,405.7L567.0,405.3L567.7,405.7L568.5,406.1L569.2,405.9L569.9,405.9L570.6,406.2L571.3,406.1L572.0,406.6L572.8,405.9L573.5,405.7L574.2,405.9L574.9,405.9L575.6,406.6L576.4,405.8L577.1,405.6L577.8,405.9L578.5,406.3L579.2,406.4L579.9,406.4L580.7,406.2L581.4,405.7L582.1,406.0L582.8,406.1L583.5,406.0L584.3,406.7L585.0,406.9L585.7,406.2L586.4,407.0L587.1,407.1L587.9,406.9L588.6,407.1L589.3,407.4L590.0,407.2L590.7,406.7L591.4,405.8L592.2,406.4L592.9,406.1L593.6,406.7L594.3,406.6L595.0,406.5L595.8,406.6L596.5,406.4L597.2,406.7L597.9,406.9L598.6,407.0L599.3,406.1L600.1,406.1L600.8,406.0L601.5,405.9L602.2,405.4L602.9,406.0L603.7,406.2L604.4,406.1L605.1,406.3L605.8,406.6L606.5,406.6L607.2,406.5L608.0,406.6L608.7,405.8L609.4,405.8L610.1,406.1L610.8,406.1L611.6,405.8L612.3,405.9L613.0,406.1L613.0,420.8L167.6,420.8Z" fill="#fff"/>
<path d="M167.6,405.8L168.3,405.3L169.1,405.6L169.8,405.6L170.5,405.4L171.2,404.9L171.9,404.6L172.6,404.4L173.4,403.9L174.1,403.5L174.8,403.1L175.5,402.1L176.2,401.3L177.0,400.1L177.7,400.5L178.4,401.1L179.1,401.3L179.8,401.9L180.5,401.9L181.3,402.0L182.0,402.1L182.7,402.3L183.4,402.2L184.1,401.8L184.9,400.9L185.6,401.4L186.3,402.1L187.0,402.0L187.7,402.8L188.4,403.3L189.2,404.5L189.9,404.7L190.6,404.6L191.3,404.4L192.0,404.5L192.8,405.0L193.5,405.6L194.2,406.3L194.9,404.8L195.6,404.8L196.3,405.0L197.1,405.9L197.8,405.4L198.5,405.5L199.2,405.6L199.9,405.6L200.7,405.0L201.4,404.8L202.1,404.5L202.8,404.9L203.5,404.8L204.3,404.9L205.0,404.4L205.7,403.2L206.4,402.5L207.1,401.1L207.8,400.2L208.6,401.1L209.3,401.5L210.0,402.1L210.7,403.6L211.4,403.8L212.2,404.4L212.9,403.9L213.6,403.2L214.3,404.0L215.0,403.7L215.7,403.8L216.5,404.0L217.2,404.7L217.9,405.2L218.6,404.8L219.3,404.3L220.1,405.0L220.8,404.8L221.5,404.5L222.2,403.7L222.9,404.0L223.6,403.7L224.4,403.4L225.1,401.9L225.8,399.3L226.5,393.4L227.2,387.8L228.0,384.5L228.7,388.9L229.4,395.0L230.1,400.6L230.8,402.5L231.5,403.7L232.3,403.9L233.0,405.0L233.7,405.1L234.4,405.2L235.1,404.9L235.9,404.6L236.6,404.6L237.3,405.3L238.0,406.4L238.7,406.2L239.4,406.2L240.2,405.8L240.9,406.3L241.6,406.2L242.3,405.9L243.0,405.5L243.8,406.6L244.5,406.9L245.2,406.4L245.9,405.7L246.6,406.4L247.4,405.8L248.1,405.3L248.8,405.1L249.5,404.5L250.2,404.9L250.9,405.3L251.7,404.2L252.4,404.8L253.1,404.5L253.8,403.7L254.5,403.6L255.3,403.4L256.0,401.8L256.7,401.2L257.4,401.4L258.1,402.6L258.8,402.6L259.6,403.0L260.3,403.6L261.0,404.0L261.7,404.6L262.4,404.3L263.2,404.2L263.9,404.0L264.6,403.2L265.3,403.2L266.0,402.6L266.7,401.9L267.5,401.5L268.2,400.0L268.9,397.8L269.6,395.8L270.3,392.6L271.1,390.3L271.8,388.5L272.5,387.9L273.2,389.4L273.9,392.2L274.6,394.9L275.4,397.2L276.1,399.0L276.8,401.0L277.5,401.8L278.2,402.6L279.0,402.9L279.7,403.4L280.4,404.5L281.1,404.9L281.8,404.6L282.6,405.2L283.3,405.5L284.0,404.8L284.7,404.7L285.4,404.7L286.1,405.2L286.9,405.6L287.6,404.2L288.3,404.4L289.0,404.2L289.7,404.6L290.5,405.0L291.2,405.0L291.9,405.3L292.6,405.3L293.3,405.1L294.0,405.0L294.8,405.2L295.5,405.8L296.2,405.4L296.9,405.2L297.6,405.1L298.4,405.0L299.1,404.1L299.8,404.3L300.5,404.4L301.2,405.0L301.9,404.3L302.7,404.9L303.4,404.9L304.1,404.0L304.8,404.2L305.5,404.8L306.3,405.0L307.0,404.6L307.7,403.7L308.4,404.0L309.1,404.5L309.8,404.5L310.6,404.5L311.3,403.7L312.0,403.5L312.7,404.1L313.4,403.1L314.2,403.4L314.9,403.2L315.6,401.3L316.3,400.0L317.0,397.9L317.7,398.8L318.5,400.4L319.2,401.0L319.9,401.2L320.6,401.5L321.3,401.6L322.1,401.4L322.8,401.2L323.5,401.1L324.2,401.1L324.9,400.8L325.7,400.2L326.4,399.9L327.1,399.9L327.8,398.7L328.5,397.5L329.2,395.4L330.0,393.0L330.7,391.0L331.4,387.3L332.1,381.4L332.8,373.6L333.6,363.3L334.3,351.1L335.0,336.5L335.7,325.1L336.4,319.1L337.1,321.9L337.9,331.5L338.6,344.6L339.3,357.9L340.0,368.3L340.7,376.1L341.5,381.8L342.2,386.3L342.9,388.6L343.6,389.8L344.3,391.1L345.0,391.1L345.8,391.0L346.5,390.9L347.2,389.1L347.9,388.0L348.6,385.3L349.4,382.0L350.1,377.6L350.8,370.8L351.5,360.9L352.2,349.0L352.9,334.4L353.7,318.5L354.4,302.7L355.1,292.5L355.8,290.7L356.5,300.0L357.3,314.4L358.0,331.5L358.7,346.3L359.4,359.0L360.1,368.5L360.9,376.3L361.6,381.6L362.3,384.8L363.0,387.1L363.7,388.1L364.4,388.9L365.2,388.8L365.9,387.9L366.6,385.9L367.3,382.4L368.0,377.6L368.8,373.4L369.5,369.2L370.2,367.7L370.9,368.7L371.6,372.2L372.3,377.4L373.1,382.2L373.8,385.5L374.5,388.6L375.2,391.7L375.9,393.6L376.7,395.3L377.4,396.2L378.1,397.1L378.8,396.8L379.5,396.9L380.2,397.7L381.0,398.3L381.7,398.6L382.4,398.2L383.1,398.7L383.8,398.7L384.6,398.6L385.3,397.9L386.0,397.9L386.7,397.8L387.4,399.0L388.1,398.8L388.9,398.9L389.6,398.6L390.3,398.2L391.0,399.0L391.7,398.4L392.5,398.5L393.2,398.8L393.9,399.7L394.6,399.0L395.3,397.6L396.1,398.5L396.8,398.2L397.5,397.9L398.2,397.0L398.9,396.9L399.6,395.7L400.4,395.4L401.1,394.3L401.8,393.5L402.5,393.0L403.2,392.1L404.0,390.3L404.7,390.0L405.4,390.4L406.1,389.9L406.8,389.5L407.5,390.7L408.3,391.2L409.0,391.3L409.7,391.5L410.4,390.8L411.1,389.5L411.9,386.4L412.6,385.0L413.3,383.2L414.0,382.9L414.7,384.1L415.4,387.0L416.2,389.2L416.9,391.7L417.6,392.5L418.3,393.4L419.0,393.8L419.8,393.8L420.5,393.1L421.2,393.8L421.9,392.9L422.6,392.2L423.3,391.1L424.1,390.7L424.8,389.9L425.5,387.5L426.2,383.4L426.9,378.0L427.7,368.6L428.4,356.9L429.1,342.9L429.8,327.4L430.5,315.0L431.2,309.2L432.0,313.4L432.7,325.1L433.4,339.6L434.1,353.8L434.8,365.0L435.6,373.3L436.3,378.6L437.0,381.3L437.7,381.2L438.4,378.9L439.2,375.5L439.9,367.7L440.6,356.5L441.3,340.1L442.0,321.5L442.7,302.3L443.5,285.2L444.2,275.2L444.9,278.5L445.6,293.4L446.3,313.4L447.1,332.6L447.8,349.8L448.5,363.3L449.2,372.4L449.9,379.0L450.6,381.5L451.4,382.4L452.1,381.9L452.8,379.6L453.5,376.4L454.2,372.2L455.0,369.7L455.7,368.7L456.4,370.9L457.1,375.5L457.8,380.6L458.5,384.6L459.3,388.3L460.0,391.7L460.7,393.7L461.4,394.6L462.1,394.3L462.9,394.8L463.6,395.3L464.3,395.7L465.0,395.5L465.7,395.5L466.4,395.1L467.2,395.3L467.9,395.5L468.6,395.7L469.3,395.5L470.0,395.2L470.8,395.2L471.5,394.9L472.2,394.0L472.9,394.3L473.6,394.0L474.4,392.9L475.1,392.6L475.8,391.4L476.5,389.8L477.2,388.1L477.9,385.5L478.7,382.8L479.4,378.9L480.1,374.3L480.8,368.1L481.5,360.8L482.3,354.3L483.0,344.9L483.7,336.4L484.4,329.0L485.1,322.3L485.8,317.1L486.6,316.2L487.3,318.6L488.0,323.9L488.7,330.1L489.4,336.4L490.2,342.5L490.9,347.1L491.6,351.6L492.3,354.3L493.0,356.1L493.7,357.4L494.5,359.5L495.2,360.6L495.9,360.7L496.6,361.2L497.3,363.9L498.1,365.6L498.8,367.9L499.5,370.2L500.2,373.0L500.9,375.3L501.6,377.1L502.4,379.8L503.1,381.6L503.8,383.1L504.5,385.2L505.2,385.9L506.0,387.0L506.7,387.5L507.4,388.6L508.1,389.2L508.8,390.9L509.6,391.3L510.3,391.9L511.0,392.9L511.7,394.2L512.4,394.0L513.1,394.7L513.9,395.0L514.6,396.0L515.3,396.4L516.0,396.7L516.7,397.3L517.5,398.1L518.2,398.9L518.9,400.0L519.6,400.4L520.3,400.5L521.0,400.5L521.8,400.3L522.5,400.3L523.2,402.1L523.9,400.7L524.6,400.8L525.4,401.3L526.1,402.5L526.8,402.4L527.5,403.4L528.2,402.5L528.9,402.1L529.7,402.7L530.4,403.1L531.1,402.6L531.8,402.1L532.5,401.5L533.3,401.7L534.0,401.3L534.7,400.3L535.4,399.9L536.1,399.6L536.8,400.2L537.6,400.8L538.3,401.2L539.0,401.6L539.7,401.9L540.4,402.2L541.2,402.7L541.9,402.9L542.6,403.0L543.3,403.1L544.0,403.3L544.7,403.0L545.5,403.4L546.2,404.4L546.9,404.1L547.6,403.4L548.3,403.4L549.1,403.3L549.8,403.7L550.5,404.4L551.2,404.6L551.9,404.6L552.7,405.2L553.4,404.7L554.1,405.2L554.8,406.4L555.5,406.2L556.2,406.4L557.0,405.4L557.7,405.6L558.4,405.1L559.1,405.7L559.8,405.8L560.6,406.5L561.3,406.4L562.0,406.3L562.7,407.0L563.4,406.6L564.1,406.1L564.9,405.2L565.6,405.5L566.3,405.7L567.0,405.3L567.7,405.7L568.5,406.1L569.2,405.9L569.9,405.9L570.6,406.2L571.3,406.1L572.0,406.6L572.8,405.9L573.5,405.7L574.2,405.9L574.9,405.9L575.6,406.6L576.4,405.8L577.1,405.6L577.8,405.9L578.5,406.3L579.2,406.4L579.9,406.4L580.7,406.2L581.4,405.7L582.1,406.0L582.8,406.1L583.5,406.0L584.3,406.7L585.0,406.9L585.7,406.2L586.4,407.0L587.1,407.1L587.9,406.9L588.6,407.1L589.3,407.4L590.0,407.2L590.7,406.7L591.4,405.8L592.2,406.4L592.9,406.1L593.6,406.7L594.3,406.6L595.0,406.5L595.8,406.6L596.5,406.4L597.2,406.7L597.9,406.9L598.6,407.0L599.3,406.1L600.1,406.1L600.8,406.0L601.5,405.9L602.2,405.4L602.9,406.0L603.7,406.2L604.4,406.1L605.1,406.3L605.8,406.6L606.5,406.6L607.2,406.5L608.0,406.6L608.7,405.8L609.4,405.8L610.1,406.1L610.8,406.1L611.6,405.8L612.3,405.9L613.0,406.1" fill="none" stroke="#ff0808" stroke-width="1.6" stroke-linejoin="round"/>
<path d="M149.1,421.6L149.9,421.1L150.6,421.5L151.3,421.2L152.1,421.5L152.8,422.4L153.5,422.8L154.3,422.0L155.0,421.4L155.7,420.4L156.5,419.6L157.2,419.9L157.9,418.3L158.7,418.0L159.4,417.6L160.1,417.1L160.9,417.3L161.6,418.1L162.3,419.2L163.1,419.1L163.8,419.6L164.5,419.1L165.3,418.6L166.0,418.9L166.7,418.6L167.5,418.3L168.2,418.2L168.9,419.5L169.7,420.3L170.4,420.7L171.1,422.2L171.9,422.4L172.6,422.0L173.3,422.2L174.0,422.2L174.8,422.0L175.5,421.3L176.2,422.2L177.0,421.9L177.7,421.9L178.4,422.3L179.2,422.3L179.9,421.8L180.6,421.2L181.4,421.0L182.1,421.8L182.8,422.1L183.6,421.8L184.3,421.4L185.0,420.8L185.8,420.1L186.5,420.2L187.2,419.7L188.0,418.4L188.7,417.7L189.4,417.7L190.2,418.0L190.9,416.8L191.6,417.5L192.4,418.4L193.1,419.0L193.8,420.2L194.6,420.9L195.3,420.7L196.0,420.4L196.8,420.7L197.5,420.9L198.2,420.2L199.0,420.7L199.7,421.6L200.4,422.1L201.2,421.7L201.9,421.2L202.6,420.8L203.4,421.7L204.1,422.6L204.8,421.7L205.6,421.1L206.3,421.7L207.0,419.9L207.8,418.9L208.5,416.2L209.2,411.0L210.0,404.2L210.7,400.7L211.4,405.4L212.2,412.7L212.9,416.2L213.6,418.9L214.4,420.6L215.1,420.5L215.8,421.3L216.6,421.3L217.3,422.4L218.0,422.6L218.8,423.2L219.5,423.2L220.2,423.2L221.0,423.4L221.7,423.6L222.4,422.9L223.2,422.6L223.9,422.6L224.6,423.1L225.4,423.1L226.1,423.2L226.8,423.0L227.6,422.5L228.3,422.9L229.0,421.6L229.8,421.3L230.5,422.5L231.2,422.2L232.0,421.4L232.7,422.4L233.4,422.5L234.2,422.7L234.9,422.2L235.6,422.3L236.4,421.7L237.1,421.0L237.8,420.3L238.6,420.0L239.3,419.3L240.0,418.5L240.8,419.2L241.5,419.7L242.2,420.1L243.0,420.2L243.7,420.9L244.4,420.8L245.2,420.8L245.9,420.5L246.6,420.4L247.4,420.4L248.1,420.5L248.8,420.9L249.6,419.6L250.3,419.1L251.0,417.8L251.8,417.5L252.5,414.7L253.2,410.8L254.0,409.4L254.7,406.6L255.4,404.4L256.2,403.9L256.9,405.8L257.6,409.0L258.4,411.7L259.1,414.9L259.8,416.5L260.6,418.1L261.3,419.4L262.0,420.8L262.8,421.1L263.5,421.4L264.2,421.2L265.0,422.2L265.7,422.2L266.4,421.6L267.2,420.9L267.9,421.5L268.6,421.9L269.4,422.2L270.1,422.6L270.8,422.2L271.6,422.7L272.3,422.9L273.0,422.8L273.8,423.1L274.5,422.7L275.2,422.1L276.0,422.1L276.7,421.4L277.4,422.5L278.2,422.4L278.9,422.7L279.6,422.8L280.4,423.9L281.1,424.0L281.8,422.7L282.6,422.6L283.3,423.5L284.0,423.3L284.8,423.0L285.5,423.2L286.2,423.7L287.0,423.4L287.7,422.9L288.4,422.4L289.2,422.5L289.9,422.8L290.6,422.3L291.4,421.7L292.1,421.4L292.8,422.2L293.6,422.4L294.3,421.6L295.0,422.3L295.8,421.2L296.5,421.2L297.2,421.3L297.9,421.2L298.7,420.2L299.4,419.5L300.1,417.4L300.9,416.1L301.6,415.3L302.3,416.1L303.1,417.5L303.8,418.9L304.5,420.0L305.3,419.6L306.0,419.5L306.7,419.5L307.5,419.3L308.2,419.3L308.9,417.6L309.7,416.9L310.4,416.6L311.1,416.2L311.9,416.2L312.6,415.6L313.3,413.8L314.1,412.3L314.8,409.9L315.5,406.6L316.3,402.1L317.0,395.1L317.7,386.4L318.5,376.5L319.2,361.9L319.9,345.5L320.7,331.6L321.4,324.6L322.1,327.1L322.9,338.6L323.6,353.9L324.3,368.7L325.1,380.9L325.8,390.9L326.5,397.3L327.3,402.2L328.0,404.9L328.7,406.4L329.5,407.6L330.2,407.5L330.9,407.8L331.7,407.5L332.4,407.3L333.1,404.8L333.9,401.6L334.6,398.3L335.3,393.0L336.1,386.5L336.8,377.1L337.5,364.8L338.3,348.7L339.0,332.3L339.7,314.9L340.5,303.9L341.2,302.0L341.9,311.0L342.7,326.1L343.4,343.4L344.1,359.8L344.9,372.7L345.6,383.0L346.3,390.9L347.1,396.9L347.8,400.2L348.5,401.5L349.3,403.6L350.0,405.2L350.7,404.3L351.5,402.9L352.2,400.3L352.9,396.8L353.7,391.8L354.4,386.8L355.1,383.2L355.9,380.4L356.6,381.9L357.3,385.8L358.1,390.7L358.8,395.7L359.5,401.3L360.3,406.0L361.0,409.1L361.7,410.5L362.5,412.0L363.2,413.2L363.9,414.1L364.7,414.5L365.4,415.3L366.1,415.4L366.9,415.7L367.6,416.2L368.3,416.2L369.1,416.5L369.8,416.4L370.5,417.0L371.3,416.3L372.0,416.0L372.7,416.8L373.5,415.8L374.2,416.9L374.9,416.1L375.7,415.9L376.4,417.2L377.1,416.5L377.9,416.5L378.6,416.3L379.3,415.3L380.1,416.3L380.8,415.8L381.5,415.7L382.3,415.7L383.0,415.7L383.7,415.1L384.5,415.1L385.2,413.9L385.9,414.1L386.7,412.2L387.4,410.3L388.1,409.8L388.9,408.5L389.6,406.4L390.3,405.4L391.1,405.6L391.8,405.2L392.5,406.3L393.3,407.3L394.0,407.9L394.7,409.2L395.5,408.8L396.2,409.0L396.9,407.6L397.7,405.0L398.4,402.9L399.1,400.9L399.9,398.5L400.6,399.4L401.3,401.1L402.1,403.7L402.8,407.1L403.5,408.6L404.3,409.6L405.0,410.3L405.7,411.3L406.5,411.6L407.2,411.3L407.9,411.6L408.7,411.2L409.4,411.2L410.1,410.1L410.9,408.4L411.6,406.5L412.3,402.8L413.1,398.5L413.8,392.2L414.5,383.0L415.3,368.7L416.0,353.0L416.7,336.9L417.5,322.5L418.2,316.0L418.9,320.6L419.7,333.9L420.4,350.7L421.1,366.7L421.8,378.9L422.6,387.9L423.3,393.6L424.0,396.8L424.8,397.3L425.5,395.1L426.2,390.3L427.0,382.0L427.7,369.3L428.4,352.7L429.2,332.3L429.9,311.5L430.6,291.7L431.4,281.7L432.1,285.9L432.8,302.4L433.6,323.4L434.3,344.8L435.0,363.3L435.8,378.1L436.5,388.4L437.2,395.1L438.0,399.4L438.7,399.8L439.4,398.7L440.2,396.6L440.9,392.5L441.6,388.1L442.4,384.2L443.1,383.7L443.8,386.1L444.6,390.1L445.3,396.3L446.0,401.0L446.8,405.4L447.5,408.4L448.2,409.8L449.0,411.5L449.7,412.0L450.4,413.3L451.2,414.6L451.9,414.7L452.6,415.4L453.4,415.3L454.1,415.2L454.8,414.6L455.6,414.4L456.3,414.5L457.0,414.2L457.8,415.0L458.5,413.5L459.2,413.6L460.0,413.4L460.7,412.9L461.4,412.9L462.2,412.4L462.9,410.8L463.6,408.9L464.4,407.0L465.1,405.3L465.8,402.5L466.6,398.8L467.3,394.6L468.0,388.3L468.8,382.2L469.5,373.1L470.2,363.8L471.0,354.4L471.7,344.5L472.4,334.9L473.2,326.4L473.9,321.4L474.6,321.3L475.4,324.3L476.1,329.4L476.8,336.8L477.6,344.9L478.3,352.6L479.0,358.9L479.8,364.2L480.5,367.8L481.2,370.8L482.0,372.3L482.7,373.6L483.4,374.3L484.2,375.3L484.9,376.2L485.6,378.1L486.4,381.1L487.1,384.2L487.8,387.1L488.6,389.4L489.3,392.1L490.0,395.2L490.8,398.1L491.5,400.2L492.2,402.3L493.0,403.9L493.7,404.0L494.4,404.4L495.2,406.6L495.9,407.6L496.6,408.6L497.4,408.9L498.1,410.8L498.8,411.6L499.6,412.1L500.3,412.2L501.0,413.6L501.8,413.9L502.5,414.6L503.2,414.9L504.0,415.5L504.7,417.1L505.4,417.9L506.2,418.8L506.9,418.9L507.6,418.6L508.4,418.8L509.1,419.1L509.8,419.3L510.6,419.6L511.3,420.0L512.0,420.7L512.8,420.9L513.5,420.9L514.2,421.0L515.0,421.5L515.7,421.9L516.4,422.2L517.2,421.4L517.9,421.7L518.6,421.7L519.4,421.4L520.1,421.1L520.8,421.4L521.6,422.3L522.3,421.3L523.0,420.6L523.8,420.5L524.5,420.7L525.2,421.0L526.0,420.7L526.7,421.6L527.4,421.2L528.2,420.3L528.9,421.2L529.6,421.9L530.4,422.3L531.1,423.0L531.8,423.3L532.6,423.4L533.3,423.1L534.0,424.0L534.8,423.7L535.5,424.5L536.2,424.4L537.0,424.2L537.7,424.1L538.4,423.9L539.2,425.0L539.9,425.5L540.6,425.5L541.4,425.4L542.1,425.3L542.8,425.5L543.6,425.6L544.3,425.2L545.0,425.2L545.8,425.4L546.5,425.9L547.2,426.2L547.9,426.3L548.7,425.8L549.4,426.7L550.1,426.0L550.9,425.7L551.6,426.5L552.3,426.2L553.1,425.9L553.8,427.1L554.5,426.2L555.3,426.8L556.0,425.9L556.7,426.5L557.5,426.1L558.2,425.7L558.9,427.3L559.7,426.8L560.4,427.3L561.1,427.0L561.9,426.9L562.6,427.3L563.3,426.8L564.1,426.7L564.8,426.4L565.5,425.8L566.3,425.8L567.0,426.9L567.7,427.0L568.5,426.6L569.2,426.2L569.9,426.8L570.7,427.0L571.4,427.2L572.1,426.7L572.9,427.0L573.6,426.7L574.3,426.4L575.1,427.0L575.8,427.7L576.5,428.2L577.3,428.0L578.0,427.3L578.7,427.2L579.5,426.4L580.2,427.0L580.9,427.8L581.7,427.3L582.4,427.8L583.1,427.5L583.9,427.5L584.6,427.3L585.3,427.6L586.1,427.7L586.8,426.9L587.5,426.8L588.3,427.3L589.0,426.8L589.7,427.3L590.5,426.7L591.2,427.6L591.9,427.7L592.7,426.7L593.4,427.3L594.1,428.0L594.9,427.6L595.6,428.2L596.3,428.3L597.1,428.0L597.8,427.7L598.5,428.0L599.3,427.5L600.0,426.9L600.7,426.4L601.5,426.9L602.2,427.5L602.9,427.1L603.7,427.1L603.7,442.3L149.1,442.3Z" fill="#fff"/>
<path d="M149.1,421.6L149.9,421.1L150.6,421.5L151.3,421.2L152.1,421.5L152.8,422.4L153.5,422.8L154.3,422.0L155.0,421.4L155.7,420.4L156.5,419.6L157.2,419.9L157.9,418.3L158.7,418.0L159.4,417.6L160.1,417.1L160.9,417.3L161.6,418.1L162.3,419.2L163.1,419.1L163.8,419.6L164.5,419.1L165.3,418.6L166.0,418.9L166.7,418.6L167.5,418.3L168.2,418.2L168.9,419.5L169.7,420.3L170.4,420.7L171.1,422.2L171.9,422.4L172.6,422.0L173.3,422.2L174.0,422.2L174.8,422.0L175.5,421.3L176.2,422.2L177.0,421.9L177.7,421.9L178.4,422.3L179.2,422.3L179.9,421.8L180.6,421.2L181.4,421.0L182.1,421.8L182.8,422.1L183.6,421.8L184.3,421.4L185.0,420.8L185.8,420.1L186.5,420.2L187.2,419.7L188.0,418.4L188.7,417.7L189.4,417.7L190.2,418.0L190.9,416.8L191.6,417.5L192.4,418.4L193.1,419.0L193.8,420.2L194.6,420.9L195.3,420.7L196.0,420.4L196.8,420.7L197.5,420.9L198.2,420.2L199.0,420.7L199.7,421.6L200.4,422.1L201.2,421.7L201.9,421.2L202.6,420.8L203.4,421.7L204.1,422.6L204.8,421.7L205.6,421.1L206.3,421.7L207.0,419.9L207.8,418.9L208.5,416.2L209.2,411.0L210.0,404.2L210.7,400.7L211.4,405.4L212.2,412.7L212.9,416.2L213.6,418.9L214.4,420.6L215.1,420.5L215.8,421.3L216.6,421.3L217.3,422.4L218.0,422.6L218.8,423.2L219.5,423.2L220.2,423.2L221.0,423.4L221.7,423.6L222.4,422.9L223.2,422.6L223.9,422.6L224.6,423.1L225.4,423.1L226.1,423.2L226.8,423.0L227.6,422.5L228.3,422.9L229.0,421.6L229.8,421.3L230.5,422.5L231.2,422.2L232.0,421.4L232.7,422.4L233.4,422.5L234.2,422.7L234.9,422.2L235.6,422.3L236.4,421.7L237.1,421.0L237.8,420.3L238.6,420.0L239.3,419.3L240.0,418.5L240.8,419.2L241.5,419.7L242.2,420.1L243.0,420.2L243.7,420.9L244.4,420.8L245.2,420.8L245.9,420.5L246.6,420.4L247.4,420.4L248.1,420.5L248.8,420.9L249.6,419.6L250.3,419.1L251.0,417.8L251.8,417.5L252.5,414.7L253.2,410.8L254.0,409.4L254.7,406.6L255.4,404.4L256.2,403.9L256.9,405.8L257.6,409.0L258.4,411.7L259.1,414.9L259.8,416.5L260.6,418.1L261.3,419.4L262.0,420.8L262.8,421.1L263.5,421.4L264.2,421.2L265.0,422.2L265.7,422.2L266.4,421.6L267.2,420.9L267.9,421.5L268.6,421.9L269.4,422.2L270.1,422.6L270.8,422.2L271.6,422.7L272.3,422.9L273.0,422.8L273.8,423.1L274.5,422.7L275.2,422.1L276.0,422.1L276.7,421.4L277.4,422.5L278.2,422.4L278.9,422.7L279.6,422.8L280.4,423.9L281.1,424.0L281.8,422.7L282.6,422.6L283.3,423.5L284.0,423.3L284.8,423.0L285.5,423.2L286.2,423.7L287.0,423.4L287.7,422.9L288.4,422.4L289.2,422.5L289.9,422.8L290.6,422.3L291.4,421.7L292.1,421.4L292.8,422.2L293.6,422.4L294.3,421.6L295.0,422.3L295.8,421.2L296.5,421.2L297.2,421.3L297.9,421.2L298.7,420.2L299.4,419.5L300.1,417.4L300.9,416.1L301.6,415.3L302.3,416.1L303.1,417.5L303.8,418.9L304.5,420.0L305.3,419.6L306.0,419.5L306.7,419.5L307.5,419.3L308.2,419.3L308.9,417.6L309.7,416.9L310.4,416.6L311.1,416.2L311.9,416.2L312.6,415.6L313.3,413.8L314.1,412.3L314.8,409.9L315.5,406.6L316.3,402.1L317.0,395.1L317.7,386.4L318.5,376.5L319.2,361.9L319.9,345.5L320.7,331.6L321.4,324.6L322.1,327.1L322.9,338.6L323.6,353.9L324.3,368.7L325.1,380.9L325.8,390.9L326.5,397.3L327.3,402.2L328.0,404.9L328.7,406.4L329.5,407.6L330.2,407.5L330.9,407.8L331.7,407.5L332.4,407.3L333.1,404.8L333.9,401.6L334.6,398.3L335.3,393.0L336.1,386.5L336.8,377.1L337.5,364.8L338.3,348.7L339.0,332.3L339.7,314.9L340.5,303.9L341.2,302.0L341.9,311.0L342.7,326.1L343.4,343.4L344.1,359.8L344.9,372.7L345.6,383.0L346.3,390.9L347.1,396.9L347.8,400.2L348.5,401.5L349.3,403.6L350.0,405.2L350.7,404.3L351.5,402.9L352.2,400.3L352.9,396.8L353.7,391.8L354.4,386.8L355.1,383.2L355.9,380.4L356.6,381.9L357.3,385.8L358.1,390.7L358.8,395.7L359.5,401.3L360.3,406.0L361.0,409.1L361.7,410.5L362.5,412.0L363.2,413.2L363.9,414.1L364.7,414.5L365.4,415.3L366.1,415.4L366.9,415.7L367.6,416.2L368.3,416.2L369.1,416.5L369.8,416.4L370.5,417.0L371.3,416.3L372.0,416.0L372.7,416.8L373.5,415.8L374.2,416.9L374.9,416.1L375.7,415.9L376.4,417.2L377.1,416.5L377.9,416.5L378.6,416.3L379.3,415.3L380.1,416.3L380.8,415.8L381.5,415.7L382.3,415.7L383.0,415.7L383.7,415.1L384.5,415.1L385.2,413.9L385.9,414.1L386.7,412.2L387.4,410.3L388.1,409.8L388.9,408.5L389.6,406.4L390.3,405.4L391.1,405.6L391.8,405.2L392.5,406.3L393.3,407.3L394.0,407.9L394.7,409.2L395.5,408.8L396.2,409.0L396.9,407.6L397.7,405.0L398.4,402.9L399.1,400.9L399.9,398.5L400.6,399.4L401.3,401.1L402.1,403.7L402.8,407.1L403.5,408.6L404.3,409.6L405.0,410.3L405.7,411.3L406.5,411.6L407.2,411.3L407.9,411.6L408.7,411.2L409.4,411.2L410.1,410.1L410.9,408.4L411.6,406.5L412.3,402.8L413.1,398.5L413.8,392.2L414.5,383.0L415.3,368.7L416.0,353.0L416.7,336.9L417.5,322.5L418.2,316.0L418.9,320.6L419.7,333.9L420.4,350.7L421.1,366.7L421.8,378.9L422.6,387.9L423.3,393.6L424.0,396.8L424.8,397.3L425.5,395.1L426.2,390.3L427.0,382.0L427.7,369.3L428.4,352.7L429.2,332.3L429.9,311.5L430.6,291.7L431.4,281.7L432.1,285.9L432.8,302.4L433.6,323.4L434.3,344.8L435.0,363.3L435.8,378.1L436.5,388.4L437.2,395.1L438.0,399.4L438.7,399.8L439.4,398.7L440.2,396.6L440.9,392.5L441.6,388.1L442.4,384.2L443.1,383.7L443.8,386.1L444.6,390.1L445.3,396.3L446.0,401.0L446.8,405.4L447.5,408.4L448.2,409.8L449.0,411.5L449.7,412.0L450.4,413.3L451.2,414.6L451.9,414.7L452.6,415.4L453.4,415.3L454.1,415.2L454.8,414.6L455.6,414.4L456.3,414.5L457.0,414.2L457.8,415.0L458.5,413.5L459.2,413.6L460.0,413.4L460.7,412.9L461.4,412.9L462.2,412.4L462.9,410.8L463.6,408.9L464.4,407.0L465.1,405.3L465.8,402.5L466.6,398.8L467.3,394.6L468.0,388.3L468.8,382.2L469.5,373.1L470.2,363.8L471.0,354.4L471.7,344.5L472.4,334.9L473.2,326.4L473.9,321.4L474.6,321.3L475.4,324.3L476.1,329.4L476.8,336.8L477.6,344.9L478.3,352.6L479.0,358.9L479.8,364.2L480.5,367.8L481.2,370.8L482.0,372.3L482.7,373.6L483.4,374.3L484.2,375.3L484.9,376.2L485.6,378.1L486.4,381.1L487.1,384.2L487.8,387.1L488.6,389.4L489.3,392.1L490.0,395.2L490.8,398.1L491.5,400.2L492.2,402.3L493.0,403.9L493.7,404.0L494.4,404.4L495.2,406.6L495.9,407.6L496.6,408.6L497.4,408.9L498.1,410.8L498.8,411.6L499.6,412.1L500.3,412.2L501.0,413.6L501.8,413.9L502.5,414.6L503.2,414.9L504.0,415.5L504.7,417.1L505.4,417.9L506.2,418.8L506.9,418.9L507.6,418.6L508.4,418.8L509.1,419.1L509.8,419.3L510.6,419.6L511.3,420.0L512.0,420.7L512.8,420.9L513.5,420.9L514.2,421.0L515.0,421.5L515.7,421.9L516.4,422.2L517.2,421.4L517.9,421.7L518.6,421.7L519.4,421.4L520.1,421.1L520.8,421.4L521.6,422.3L522.3,421.3L523.0,420.6L523.8,420.5L524.5,420.7L525.2,421.0L526.0,420.7L526.7,421.6L527.4,421.2L528.2,420.3L528.9,421.2L529.6,421.9L530.4,422.3L531.1,423.0L531.8,423.3L532.6,423.4L533.3,423.1L534.0,424.0L534.8,423.7L535.5,424.5L536.2,424.4L537.0,424.2L537.7,424.1L538.4,423.9L539.2,425.0L539.9,425.5L540.6,425.5L541.4,425.4L542.1,425.3L542.8,425.5L543.6,425.6L544.3,425.2L545.0,425.2L545.8,425.4L546.5,425.9L547.2,426.2L547.9,426.3L548.7,425.8L549.4,426.7L550.1,426.0L550.9,425.7L551.6,426.5L552.3,426.2L553.1,425.9L553.8,427.1L554.5,426.2L555.3,426.8L556.0,425.9L556.7,426.5L557.5,426.1L558.2,425.7L558.9,427.3L559.7,426.8L560.4,427.3L561.1,427.0L561.9,426.9L562.6,427.3L563.3,426.8L564.1,426.7L564.8,426.4L565.5,425.8L566.3,425.8L567.0,426.9L567.7,427.0L568.5,426.6L569.2,426.2L569.9,426.8L570.7,427.0L571.4,427.2L572.1,426.7L572.9,427.0L573.6,426.7L574.3,426.4L575.1,427.0L575.8,427.7L576.5,428.2L577.3,428.0L578.0,427.3L578.7,427.2L579.5,426.4L580.2,427.0L580.9,427.8L581.7,427.3L582.4,427.8L583.1,427.5L583.9,427.5L584.6,427.3L585.3,427.6L586.1,427.7L586.8,426.9L587.5,426.8L588.3,427.3L589.0,426.8L589.7,427.3L590.5,426.7L591.2,427.6L591.9,427.7L592.7,426.7L593.4,427.3L594.1,428.0L594.9,427.6L595.6,428.2L596.3,428.3L597.1,428.0L597.8,427.7L598.5,428.0L599.3,427.5L600.0,426.9L600.7,426.4L601.5,426.9L602.2,427.5L602.9,427.1L603.7,427.1" fill="none" stroke="#ff0808" stroke-width="1.6" stroke-linejoin="round"/>
<path d="M129.9,441.8L130.6,442.0L131.4,441.7L132.1,441.6L132.9,441.8L133.6,441.7L134.4,441.1L135.1,440.8L135.9,440.3L136.6,439.5L137.4,439.0L138.1,437.6L138.8,436.8L139.6,436.3L140.3,437.5L141.1,437.9L141.8,437.6L142.6,439.0L143.3,440.1L144.1,440.3L144.8,439.4L145.6,439.1L146.3,438.5L147.1,438.0L147.8,437.8L148.6,437.6L149.3,437.7L150.1,438.0L150.8,438.5L151.6,439.8L152.3,440.5L153.1,441.3L153.8,441.8L154.6,440.7L155.3,441.2L156.1,441.9L156.8,441.4L157.6,441.1L158.3,441.8L159.1,442.0L159.8,441.7L160.6,441.4L161.3,441.1L162.1,441.0L162.8,441.4L163.5,441.5L164.3,441.4L165.0,440.9L165.8,440.6L166.5,440.6L167.3,440.8L168.0,440.3L168.8,439.4L169.5,438.0L170.3,436.8L171.0,436.9L171.8,437.4L172.5,436.8L173.3,437.0L174.0,438.9L174.8,439.1L175.5,439.8L176.3,440.4L177.0,440.8L177.8,440.4L178.5,440.1L179.3,440.4L180.0,439.4L180.8,440.7L181.5,440.3L182.3,440.7L183.0,441.9L183.8,441.6L184.5,442.0L185.3,441.7L186.0,441.8L186.8,441.0L187.5,440.8L188.3,440.6L189.0,439.5L189.7,439.1L190.5,436.8L191.2,434.0L192.0,429.4L192.7,427.4L193.5,430.3L194.2,434.1L195.0,437.9L195.7,439.1L196.5,440.6L197.2,440.2L198.0,440.4L198.7,440.6L199.5,440.9L200.2,441.7L201.0,442.2L201.7,441.7L202.5,441.7L203.2,442.3L204.0,443.1L204.7,442.7L205.5,442.6L206.2,442.7L207.0,442.9L207.7,443.0L208.5,443.0L209.2,442.5L210.0,443.1L210.7,443.0L211.5,442.3L212.2,441.8L213.0,441.4L213.7,441.6L214.4,442.6L215.2,442.7L215.9,442.0L216.7,441.4L217.4,441.1L218.2,441.2L218.9,441.6L219.7,441.0L220.4,440.0L221.2,439.2L221.9,437.9L222.7,439.0L223.4,439.1L224.2,439.6L224.9,439.4L225.7,439.9L226.4,441.0L227.2,441.5L227.9,441.7L228.7,441.5L229.4,441.1L230.2,441.4L230.9,441.3L231.7,440.9L232.4,441.0L233.2,440.7L233.9,439.3L234.7,437.9L235.4,435.8L236.2,433.9L236.9,430.8L237.7,428.1L238.4,427.1L239.2,427.4L239.9,429.0L240.6,431.2L241.4,433.2L242.1,435.6L242.9,438.0L243.6,438.2L244.4,438.7L245.1,439.8L245.9,440.1L246.6,441.1L247.4,440.8L248.1,441.6L248.9,442.5L249.6,443.1L250.4,442.3L251.1,442.3L251.9,442.1L252.6,442.5L253.4,442.2L254.1,442.2L254.9,441.7L255.6,441.9L256.4,442.4L257.1,441.9L257.9,441.5L258.6,442.2L259.4,442.5L260.1,442.3L260.9,441.9L261.6,441.5L262.4,441.7L263.1,441.9L263.9,441.9L264.6,441.3L265.3,441.0L266.1,442.1L266.8,441.5L267.6,442.8L268.3,441.7L269.1,441.4L269.8,441.2L270.6,441.6L271.3,442.2L272.1,441.5L272.8,441.1L273.6,441.3L274.3,441.1L275.1,441.8L275.8,441.4L276.6,442.3L277.3,442.4L278.1,441.7L278.8,441.9L279.6,440.7L280.3,440.8L281.1,440.2L281.8,440.2L282.6,440.3L283.3,439.2L284.1,438.6L284.8,437.6L285.6,435.2L286.3,436.6L287.1,438.6L287.8,439.1L288.6,438.9L289.3,439.7L290.1,439.8L290.8,438.6L291.5,439.0L292.3,439.9L293.0,438.9L293.8,439.1L294.5,437.9L295.3,437.6L296.0,436.2L296.8,434.9L297.5,434.3L298.3,433.6L299.0,431.1L299.8,428.1L300.5,423.7L301.3,418.1L302.0,410.1L302.8,400.3L303.5,388.7L304.3,374.7L305.0,361.4L305.8,354.8L306.5,358.5L307.3,368.8L308.0,382.4L308.8,395.5L309.5,406.1L310.3,413.9L311.0,419.9L311.8,424.7L312.5,426.8L313.3,429.1L314.0,428.8L314.8,428.8L315.5,428.4L316.3,427.8L317.0,427.1L317.7,426.4L318.5,424.8L319.2,421.3L320.0,416.3L320.7,409.8L321.5,400.7L322.2,390.5L323.0,377.3L323.7,362.3L324.5,347.4L325.2,336.7L326.0,335.6L326.7,343.2L327.5,356.1L328.2,371.8L329.0,385.8L329.7,397.7L330.5,407.1L331.2,415.2L332.0,420.2L332.7,422.9L333.5,426.4L334.2,427.2L335.0,427.4L335.7,426.6L336.5,424.7L337.2,422.6L338.0,420.3L338.7,416.6L339.5,412.8L340.2,409.1L341.0,406.2L341.7,406.7L342.4,410.6L343.2,415.2L343.9,420.0L344.7,425.3L345.4,428.5L346.2,430.6L346.9,432.8L347.7,433.2L348.4,434.7L349.2,435.1L349.9,436.2L350.7,436.0L351.4,436.2L352.2,435.8L352.9,435.7L353.7,436.4L354.4,436.9L355.2,436.2L355.9,436.1L356.7,435.5L357.4,435.5L358.2,436.0L358.9,435.5L359.7,435.6L360.4,436.4L361.2,436.9L361.9,437.2L362.7,436.9L363.4,436.8L364.2,436.8L364.9,436.8L365.7,436.8L366.4,436.8L367.2,435.6L367.9,436.4L368.6,435.8L369.4,435.3L370.1,435.2L370.9,434.9L371.6,433.9L372.4,433.8L373.1,432.1L373.9,431.5L374.6,430.5L375.4,428.9L376.1,427.5L376.9,427.2L377.6,427.8L378.4,427.4L379.1,428.3L379.9,429.2L380.6,430.2L381.4,430.6L382.1,430.3L382.9,428.9L383.6,427.9L384.4,425.7L385.1,424.2L385.9,421.7L386.6,420.9L387.4,422.7L388.1,425.3L388.9,427.8L389.6,430.3L390.4,430.9L391.1,432.1L391.9,432.5L392.6,432.6L393.3,432.5L394.1,431.9L394.8,431.5L395.6,430.5L396.3,430.5L397.1,430.1L397.8,428.0L398.6,425.1L399.3,420.1L400.1,414.7L400.8,404.3L401.6,391.9L402.3,376.8L403.1,360.5L403.8,346.8L404.6,341.1L405.3,346.1L406.1,358.8L406.8,374.9L407.6,389.6L408.3,401.6L409.1,410.1L409.8,416.2L410.6,418.8L411.3,419.1L412.1,417.2L412.8,412.5L413.6,405.4L414.3,394.3L415.1,379.0L415.8,360.1L416.6,339.7L417.3,323.2L418.1,315.0L418.8,318.4L419.5,332.4L420.3,352.3L421.0,371.6L421.8,388.9L422.5,402.4L423.3,411.4L424.0,417.2L424.8,419.7L425.5,421.6L426.3,420.5L427.0,418.1L427.8,414.8L428.5,411.6L429.3,408.8L430.0,407.8L430.8,409.5L431.5,413.5L432.3,418.7L433.0,422.7L433.8,426.3L434.5,429.5L435.3,430.6L436.0,431.7L436.8,432.3L437.5,432.6L438.3,432.6L439.0,432.5L439.8,433.9L440.5,434.0L441.3,434.2L442.0,434.5L442.8,435.3L443.5,434.9L444.2,433.9L445.0,433.7L445.7,433.5L446.5,433.5L447.2,432.8L448.0,433.1L448.7,432.3L449.5,432.3L450.2,430.7L451.0,429.4L451.7,427.7L452.5,425.3L453.2,422.9L454.0,419.4L454.7,415.5L455.5,410.4L456.2,404.5L457.0,396.8L457.7,389.3L458.5,379.8L459.2,369.9L460.0,360.8L460.7,353.7L461.5,348.5L462.2,347.9L463.0,350.5L463.7,356.3L464.5,363.0L465.2,370.8L466.0,377.6L466.7,383.0L467.5,388.0L468.2,392.4L469.0,395.1L469.7,396.9L470.4,398.5L471.2,399.6L471.9,400.5L472.7,401.5L473.4,402.9L474.2,405.5L474.9,408.0L475.7,409.7L476.4,412.4L477.2,415.3L477.9,417.1L478.7,419.7L479.4,421.3L480.2,422.4L480.9,423.6L481.7,425.1L482.4,426.5L483.2,427.9L483.9,428.8L484.7,429.3L485.4,429.9L486.2,430.7L486.9,431.6L487.7,432.8L488.4,432.6L489.2,432.6L489.9,433.9L490.7,434.3L491.4,434.5L492.2,435.6L492.9,435.8L493.7,435.9L494.4,436.7L495.2,437.3L495.9,438.7L496.6,439.2L497.4,439.7L498.1,440.4L498.9,440.0L499.6,440.0L500.4,440.2L501.1,440.9L501.9,441.5L502.6,441.3L503.4,441.2L504.1,441.6L504.9,441.6L505.6,442.4L506.4,442.0L507.1,442.0L507.9,442.1L508.6,441.8L509.4,441.9L510.1,440.4L510.9,440.1L511.6,440.2L512.4,440.6L513.1,438.8L513.9,439.2L514.6,439.7L515.4,439.1L516.1,439.4L516.9,440.8L517.6,441.8L518.4,442.1L519.1,442.5L519.9,442.9L520.6,442.5L521.3,442.3L522.1,443.2L522.8,443.4L523.6,443.0L524.3,443.2L525.1,443.7L525.8,444.0L526.6,443.8L527.3,442.8L528.1,442.8L528.8,444.1L529.6,444.0L530.3,444.1L531.1,444.1L531.8,443.8L532.6,444.1L533.3,444.0L534.1,443.8L534.8,443.9L535.6,444.5L536.3,444.1L537.1,445.4L537.8,445.0L538.6,445.3L539.3,445.4L540.1,445.5L540.8,446.2L541.6,446.0L542.3,445.7L543.1,446.0L543.8,445.2L544.6,445.1L545.3,445.7L546.1,445.5L546.8,445.5L547.5,444.6L548.3,445.2L549.0,445.6L549.8,445.3L550.5,445.2L551.3,445.4L552.0,445.0L552.8,445.4L553.5,445.3L554.3,445.1L555.0,445.8L555.8,445.7L556.5,445.7L557.3,445.3L558.0,445.5L558.8,445.6L559.5,445.0L560.3,445.4L561.0,445.0L561.8,445.6L562.5,445.5L563.3,446.1L564.0,446.0L564.8,445.9L565.5,446.0L566.3,446.1L567.0,445.1L567.8,444.1L568.5,445.4L569.3,444.8L570.0,444.8L570.8,445.6L571.5,445.2L572.2,446.1L573.0,445.6L573.7,445.9L574.5,445.5L575.2,445.5L576.0,445.6L576.7,444.9L577.5,445.5L578.2,445.1L579.0,445.1L579.7,445.6L580.5,445.7L581.2,446.1L582.0,445.2L582.7,446.0L583.5,445.6L584.2,445.8L585.0,446.4L585.7,445.4L586.5,445.5L587.2,445.6L588.0,445.3L588.7,446.2L589.5,446.5L590.2,445.5L591.0,445.5L591.7,445.5L592.5,445.7L593.2,446.0L594.0,445.7L594.0,464.8L129.9,464.8Z" fill="#fff"/>
<path d="M129.9,441.8L130.6,442.0L131.4,441.7L132.1,441.6L132.9,441.8L133.6,441.7L134.4,441.1L135.1,440.8L135.9,440.3L136.6,439.5L137.4,439.0L138.1,437.6L138.8,436.8L139.6,436.3L140.3,437.5L141.1,437.9L141.8,437.6L142.6,439.0L143.3,440.1L144.1,440.3L144.8,439.4L145.6,439.1L146.3,438.5L147.1,438.0L147.8,437.8L148.6,437.6L149.3,437.7L150.1,438.0L150.8,438.5L151.6,439.8L152.3,440.5L153.1,441.3L153.8,441.8L154.6,440.7L155.3,441.2L156.1,441.9L156.8,441.4L157.6,441.1L158.3,441.8L159.1,442.0L159.8,441.7L160.6,441.4L161.3,441.1L162.1,441.0L162.8,441.4L163.5,441.5L164.3,441.4L165.0,440.9L165.8,440.6L166.5,440.6L167.3,440.8L168.0,440.3L168.8,439.4L169.5,438.0L170.3,436.8L171.0,436.9L171.8,437.4L172.5,436.8L173.3,437.0L174.0,438.9L174.8,439.1L175.5,439.8L176.3,440.4L177.0,440.8L177.8,440.4L178.5,440.1L179.3,440.4L180.0,439.4L180.8,440.7L181.5,440.3L182.3,440.7L183.0,441.9L183.8,441.6L184.5,442.0L185.3,441.7L186.0,441.8L186.8,441.0L187.5,440.8L188.3,440.6L189.0,439.5L189.7,439.1L190.5,436.8L191.2,434.0L192.0,429.4L192.7,427.4L193.5,430.3L194.2,434.1L195.0,437.9L195.7,439.1L196.5,440.6L197.2,440.2L198.0,440.4L198.7,440.6L199.5,440.9L200.2,441.7L201.0,442.2L201.7,441.7L202.5,441.7L203.2,442.3L204.0,443.1L204.7,442.7L205.5,442.6L206.2,442.7L207.0,442.9L207.7,443.0L208.5,443.0L209.2,442.5L210.0,443.1L210.7,443.0L211.5,442.3L212.2,441.8L213.0,441.4L213.7,441.6L214.4,442.6L215.2,442.7L215.9,442.0L216.7,441.4L217.4,441.1L218.2,441.2L218.9,441.6L219.7,441.0L220.4,440.0L221.2,439.2L221.9,437.9L222.7,439.0L223.4,439.1L224.2,439.6L224.9,439.4L225.7,439.9L226.4,441.0L227.2,441.5L227.9,441.7L228.7,441.5L229.4,441.1L230.2,441.4L230.9,441.3L231.7,440.9L232.4,441.0L233.2,440.7L233.9,439.3L234.7,437.9L235.4,435.8L236.2,433.9L236.9,430.8L237.7,428.1L238.4,427.1L239.2,427.4L239.9,429.0L240.6,431.2L241.4,433.2L242.1,435.6L242.9,438.0L243.6,438.2L244.4,438.7L245.1,439.8L245.9,440.1L246.6,441.1L247.4,440.8L248.1,441.6L248.9,442.5L249.6,443.1L250.4,442.3L251.1,442.3L251.9,442.1L252.6,442.5L253.4,442.2L254.1,442.2L254.9,441.7L255.6,441.9L256.4,442.4L257.1,441.9L257.9,441.5L258.6,442.2L259.4,442.5L260.1,442.3L260.9,441.9L261.6,441.5L262.4,441.7L263.1,441.9L263.9,441.9L264.6,441.3L265.3,441.0L266.1,442.1L266.8,441.5L267.6,442.8L268.3,441.7L269.1,441.4L269.8,441.2L270.6,441.6L271.3,442.2L272.1,441.5L272.8,441.1L273.6,441.3L274.3,441.1L275.1,441.8L275.8,441.4L276.6,442.3L277.3,442.4L278.1,441.7L278.8,441.9L279.6,440.7L280.3,440.8L281.1,440.2L281.8,440.2L282.6,440.3L283.3,439.2L284.1,438.6L284.8,437.6L285.6,435.2L286.3,436.6L287.1,438.6L287.8,439.1L288.6,438.9L289.3,439.7L290.1,439.8L290.8,438.6L291.5,439.0L292.3,439.9L293.0,438.9L293.8,439.1L294.5,437.9L295.3,437.6L296.0,436.2L296.8,434.9L297.5,434.3L298.3,433.6L299.0,431.1L299.8,428.1L300.5,423.7L301.3,418.1L302.0,410.1L302.8,400.3L303.5,388.7L304.3,374.7L305.0,361.4L305.8,354.8L306.5,358.5L307.3,368.8L308.0,382.4L308.8,395.5L309.5,406.1L310.3,413.9L311.0,419.9L311.8,424.7L312.5,426.8L313.3,429.1L314.0,428.8L314.8,428.8L315.5,428.4L316.3,427.8L317.0,427.1L317.7,426.4L318.5,424.8L319.2,421.3L320.0,416.3L320.7,409.8L321.5,400.7L322.2,390.5L323.0,377.3L323.7,362.3L324.5,347.4L325.2,336.7L326.0,335.6L326.7,343.2L327.5,356.1L328.2,371.8L329.0,385.8L329.7,397.7L330.5,407.1L331.2,415.2L332.0,420.2L332.7,422.9L333.5,426.4L334.2,427.2L335.0,427.4L335.7,426.6L336.5,424.7L337.2,422.6L338.0,420.3L338.7,416.6L339.5,412.8L340.2,409.1L341.0,406.2L341.7,406.7L342.4,410.6L343.2,415.2L343.9,420.0L344.7,425.3L345.4,428.5L346.2,430.6L346.9,432.8L347.7,433.2L348.4,434.7L349.2,435.1L349.9,436.2L350.7,436.0L351.4,436.2L352.2,435.8L352.9,435.7L353.7,436.4L354.4,436.9L355.2,436.2L355.9,436.1L356.7,435.5L357.4,435.5L358.2,436.0L358.9,435.5L359.7,435.6L360.4,436.4L361.2,436.9L361.9,437.2L362.7,436.9L363.4,436.8L364.2,436.8L364.9,436.8L365.7,436.8L366.4,436.8L367.2,435.6L367.9,436.4L368.6,435.8L369.4,435.3L370.1,435.2L370.9,434.9L371.6,433.9L372.4,433.8L373.1,432.1L373.9,431.5L374.6,430.5L375.4,428.9L376.1,427.5L376.9,427.2L377.6,427.8L378.4,427.4L379.1,428.3L379.9,429.2L380.6,430.2L381.4,430.6L382.1,430.3L382.9,428.9L383.6,427.9L384.4,425.7L385.1,424.2L385.9,421.7L386.6,420.9L387.4,422.7L388.1,425.3L388.9,427.8L389.6,430.3L390.4,430.9L391.1,432.1L391.9,432.5L392.6,432.6L393.3,432.5L394.1,431.9L394.8,431.5L395.6,430.5L396.3,430.5L397.1,430.1L397.8,428.0L398.6,425.1L399.3,420.1L400.1,414.7L400.8,404.3L401.6,391.9L402.3,376.8L403.1,360.5L403.8,346.8L404.6,341.1L405.3,346.1L406.1,358.8L406.8,374.9L407.6,389.6L408.3,401.6L409.1,410.1L409.8,416.2L410.6,418.8L411.3,419.1L412.1,417.2L412.8,412.5L413.6,405.4L414.3,394.3L415.1,379.0L415.8,360.1L416.6,339.7L417.3,323.2L418.1,315.0L418.8,318.4L419.5,332.4L420.3,352.3L421.0,371.6L421.8,388.9L422.5,402.4L423.3,411.4L424.0,417.2L424.8,419.7L425.5,421.6L426.3,420.5L427.0,418.1L427.8,414.8L428.5,411.6L429.3,408.8L430.0,407.8L430.8,409.5L431.5,413.5L432.3,418.7L433.0,422.7L433.8,426.3L434.5,429.5L435.3,430.6L436.0,431.7L436.8,432.3L437.5,432.6L438.3,432.6L439.0,432.5L439.8,433.9L440.5,434.0L441.3,434.2L442.0,434.5L442.8,435.3L443.5,434.9L444.2,433.9L445.0,433.7L445.7,433.5L446.5,433.5L447.2,432.8L448.0,433.1L448.7,432.3L449.5,432.3L450.2,430.7L451.0,429.4L451.7,427.7L452.5,425.3L453.2,422.9L454.0,419.4L454.7,415.5L455.5,410.4L456.2,404.5L457.0,396.8L457.7,389.3L458.5,379.8L459.2,369.9L460.0,360.8L460.7,353.7L461.5,348.5L462.2,347.9L463.0,350.5L463.7,356.3L464.5,363.0L465.2,370.8L466.0,377.6L466.7,383.0L467.5,388.0L468.2,392.4L469.0,395.1L469.7,396.9L470.4,398.5L471.2,399.6L471.9,400.5L472.7,401.5L473.4,402.9L474.2,405.5L474.9,408.0L475.7,409.7L476.4,412.4L477.2,415.3L477.9,417.1L478.7,419.7L479.4,421.3L480.2,422.4L480.9,423.6L481.7,425.1L482.4,426.5L483.2,427.9L483.9,428.8L484.7,429.3L485.4,429.9L486.2,430.7L486.9,431.6L487.7,432.8L488.4,432.6L489.2,432.6L489.9,433.9L490.7,434.3L491.4,434.5L492.2,435.6L492.9,435.8L493.7,435.9L494.4,436.7L495.2,437.3L495.9,438.7L496.6,439.2L497.4,439.7L498.1,440.4L498.9,440.0L499.6,440.0L500.4,440.2L501.1,440.9L501.9,441.5L502.6,441.3L503.4,441.2L504.1,441.6L504.9,441.6L505.6,442.4L506.4,442.0L507.1,442.0L507.9,442.1L508.6,441.8L509.4,441.9L510.1,440.4L510.9,440.1L511.6,440.2L512.4,440.6L513.1,438.8L513.9,439.2L514.6,439.7L515.4,439.1L516.1,439.4L516.9,440.8L517.6,441.8L518.4,442.1L519.1,442.5L519.9,442.9L520.6,442.5L521.3,442.3L522.1,443.2L522.8,443.4L523.6,443.0L524.3,443.2L525.1,443.7L525.8,444.0L526.6,443.8L527.3,442.8L528.1,442.8L528.8,444.1L529.6,444.0L530.3,444.1L531.1,444.1L531.8,443.8L532.6,444.1L533.3,444.0L534.1,443.8L534.8,443.9L535.6,444.5L536.3,444.1L537.1,445.4L537.8,445.0L538.6,445.3L539.3,445.4L540.1,445.5L540.8,446.2L541.6,446.0L542.3,445.7L543.1,446.0L543.8,445.2L544.6,445.1L545.3,445.7L546.1,445.5L546.8,445.5L547.5,444.6L548.3,445.2L549.0,445.6L549.8,445.3L550.5,445.2L551.3,445.4L552.0,445.0L552.8,445.4L553.5,445.3L554.3,445.1L555.0,445.8L555.8,445.7L556.5,445.7L557.3,445.3L558.0,445.5L558.8,445.6L559.5,445.0L560.3,445.4L561.0,445.0L561.8,445.6L562.5,445.5L563.3,446.1L564.0,446.0L564.8,445.9L565.5,446.0L566.3,446.1L567.0,445.1L567.8,444.1L568.5,445.4L569.3,444.8L570.0,444.8L570.8,445.6L571.5,445.2L572.2,446.1L573.0,445.6L573.7,445.9L574.5,445.5L575.2,445.5L576.0,445.6L576.7,444.9L577.5,445.5L578.2,445.1L579.0,445.1L579.7,445.6L580.5,445.7L581.2,446.1L582.0,445.2L582.7,446.0L583.5,445.6L584.2,445.8L585.0,446.4L585.7,445.4L586.5,445.5L587.2,445.6L588.0,445.3L588.7,446.2L589.5,446.5L590.2,445.5L591.0,445.5L591.7,445.5L592.5,445.7L593.2,446.0L594.0,445.7" fill="none" stroke="#ff0808" stroke-width="1.6" stroke-linejoin="round"/>
<path d="M109.8,464.4L110.6,464.4L111.3,464.1L112.1,464.5L112.9,463.8L113.6,463.4L114.4,463.7L115.1,463.5L115.9,463.5L116.7,462.4L117.4,461.4L118.2,460.2L119.0,458.9L119.7,458.6L120.5,458.4L121.3,459.6L122.0,460.8L122.8,461.6L123.6,462.0L124.3,462.2L125.1,464.3L125.8,464.2L126.6,463.6L127.4,464.5L128.1,464.9L128.9,463.9L129.7,463.5L130.4,463.5L131.2,463.2L132.0,462.8L132.7,462.6L133.5,462.6L134.3,462.9L135.0,463.5L135.8,464.4L136.6,464.7L137.3,464.8L138.1,465.0L138.8,464.8L139.6,464.0L140.4,463.9L141.1,463.9L141.9,463.5L142.7,463.2L143.4,463.9L144.2,463.5L145.0,463.9L145.7,463.2L146.5,462.1L147.3,462.5L148.0,461.7L148.8,461.1L149.6,460.8L150.3,459.1L151.1,458.7L151.8,457.7L152.6,457.5L153.4,459.4L154.1,460.0L154.9,460.5L155.7,461.2L156.4,462.3L157.2,462.4L158.0,463.0L158.7,463.2L159.5,463.0L160.3,462.8L161.0,463.0L161.8,463.0L162.5,462.5L163.3,462.7L164.1,462.7L164.8,462.5L165.6,463.0L166.4,463.3L167.1,463.6L167.9,464.6L168.7,463.1L169.4,462.1L170.2,462.0L171.0,461.0L171.7,460.3L172.5,458.9L173.3,457.9L174.0,457.5L174.8,459.3L175.5,460.2L176.3,461.0L177.1,461.7L177.8,461.6L178.6,462.6L179.4,462.5L180.1,462.6L180.9,463.4L181.7,462.4L182.4,462.4L183.2,462.8L184.0,462.5L184.7,463.4L185.5,463.1L186.3,463.0L187.0,463.3L187.8,463.7L188.5,463.0L189.3,464.0L190.1,464.0L190.8,463.6L191.6,464.0L192.4,463.7L193.1,463.4L193.9,463.7L194.7,464.0L195.4,465.0L196.2,464.7L197.0,464.4L197.7,464.5L198.5,464.8L199.2,464.5L200.0,464.7L200.8,464.5L201.5,462.9L202.3,462.9L203.1,464.0L203.8,463.7L204.6,464.2L205.4,464.1L206.1,463.9L206.9,463.4L207.7,464.3L208.4,464.5L209.2,464.4L210.0,463.5L210.7,463.1L211.5,463.1L212.2,462.3L213.0,462.5L213.8,462.4L214.5,463.2L215.3,463.8L216.1,463.0L216.8,461.6L217.6,461.5L218.4,459.8L219.1,457.4L219.9,453.3L220.7,447.7L221.4,441.0L222.2,438.8L223.0,443.6L223.7,450.7L224.5,456.5L225.2,459.7L226.0,460.8L226.8,462.3L227.5,461.7L228.3,461.9L229.1,462.2L229.8,461.8L230.6,462.5L231.4,461.8L232.1,462.5L232.9,462.3L233.7,462.9L234.4,462.9L235.2,463.0L235.9,463.3L236.7,462.8L237.5,462.7L238.2,462.5L239.0,462.7L239.8,463.4L240.5,463.5L241.3,463.8L242.1,463.3L242.8,462.4L243.6,462.1L244.4,462.2L245.1,462.6L245.9,462.3L246.7,463.0L247.4,462.2L248.2,462.9L248.9,463.1L249.7,462.5L250.5,462.0L251.2,462.0L252.0,462.7L252.8,462.8L253.5,462.7L254.3,462.5L255.1,462.8L255.8,462.3L256.6,462.2L257.4,462.8L258.1,462.0L258.9,461.7L259.7,461.2L260.4,460.6L261.2,461.4L261.9,461.4L262.7,461.2L263.5,461.5L264.2,461.9L265.0,461.3L265.8,460.4L266.5,459.4L267.3,456.9L268.1,456.6L268.8,455.2L269.6,455.9L270.4,457.2L271.1,458.0L271.9,458.7L272.6,458.9L273.4,458.6L274.2,458.6L274.9,458.3L275.7,457.9L276.5,457.2L277.2,457.2L278.0,456.5L278.8,455.5L279.5,454.0L280.3,452.7L281.1,451.7L281.8,450.0L282.6,447.4L283.4,443.8L284.1,439.2L284.9,432.0L285.6,421.5L286.4,407.9L287.2,391.5L287.9,373.2L288.7,356.7L289.5,347.7L290.2,351.7L291.0,365.3L291.8,383.1L292.5,400.6L293.3,414.2L294.1,425.9L294.8,433.3L295.6,437.9L296.4,441.5L297.1,443.4L297.9,445.5L298.6,445.7L299.4,446.5L300.2,445.5L300.9,444.3L301.7,443.1L302.5,440.4L303.2,435.9L304.0,430.2L304.8,421.1L305.5,410.9L306.3,396.0L307.1,378.4L307.8,358.7L308.6,340.6L309.3,327.8L310.1,326.3L310.9,336.5L311.6,353.6L312.4,372.9L313.2,391.4L313.9,406.7L314.7,418.0L315.5,426.9L316.2,433.5L317.0,437.6L317.8,440.0L318.5,440.8L319.3,441.2L320.1,440.8L320.8,438.9L321.6,436.7L322.3,432.3L323.1,426.6L323.9,420.6L324.6,415.3L325.4,412.4L326.2,413.1L326.9,418.3L327.7,424.2L328.5,431.7L329.2,436.8L330.0,442.4L330.8,445.8L331.5,448.2L332.3,450.0L333.1,450.5L333.8,451.5L334.6,452.0L335.3,452.5L336.1,453.3L336.9,454.2L337.6,453.8L338.4,453.7L339.2,453.9L339.9,453.4L340.7,453.0L341.5,453.2L342.2,453.5L343.0,454.3L343.8,454.6L344.5,454.5L345.3,454.0L346.0,453.3L346.8,453.2L347.6,452.6L348.3,453.0L349.1,452.9L349.9,452.8L350.6,453.7L351.4,453.7L352.2,453.3L352.9,453.0L353.7,452.3L354.5,452.0L355.2,450.7L356.0,449.5L356.8,449.7L357.5,448.8L358.3,447.6L359.0,446.7L359.8,444.8L360.6,443.3L361.3,442.4L362.1,441.8L362.9,440.9L363.6,441.7L364.4,442.5L365.2,442.6L365.9,443.0L366.7,444.3L367.5,443.5L368.2,444.7L369.0,441.4L369.8,439.8L370.5,436.1L371.3,434.3L372.0,433.4L372.8,435.5L373.6,438.6L374.3,441.9L375.1,444.7L375.9,446.6L376.6,447.6L377.4,448.2L378.2,448.6L378.9,447.5L379.7,447.1L380.5,446.8L381.2,446.2L382.0,444.9L382.7,442.7L383.5,441.7L384.3,437.9L385.0,432.9L385.8,423.6L386.6,410.9L387.3,393.7L388.1,372.5L388.9,350.2L389.6,331.7L390.4,324.1L391.2,330.7L391.9,348.0L392.7,370.4L393.5,390.2L394.2,406.7L395.0,417.9L395.7,425.2L396.5,429.2L397.3,430.7L398.0,428.6L398.8,423.8L399.6,415.2L400.3,402.3L401.1,385.2L401.9,362.5L402.6,340.2L403.4,320.2L404.2,310.3L404.9,314.5L405.7,330.7L406.5,353.8L407.2,376.8L408.0,396.7L408.7,412.7L409.5,423.9L410.3,429.5L411.0,433.6L411.8,435.5L412.6,433.0L413.3,430.3L414.1,425.3L414.9,420.0L415.6,416.4L416.4,415.3L417.2,417.8L417.9,423.6L418.7,429.6L419.4,435.3L420.2,439.9L421.0,444.6L421.7,447.0L422.5,447.7L423.3,448.6L424.0,448.8L424.8,449.8L425.6,450.2L426.3,450.1L427.1,450.6L427.9,450.0L428.6,450.2L429.4,450.6L430.2,449.5L430.9,449.5L431.7,450.0L432.4,449.3L433.2,448.7L434.0,448.0L434.7,448.1L435.5,447.9L436.3,446.5L437.0,444.8L437.8,444.0L438.6,441.9L439.3,439.0L440.1,435.3L440.9,431.3L441.6,427.5L442.4,420.0L443.2,412.6L443.9,403.8L444.7,393.3L445.4,381.3L446.2,369.3L447.0,357.9L447.7,348.7L448.5,343.7L449.3,341.8L450.0,345.3L450.8,351.8L451.6,360.6L452.3,369.3L453.1,379.0L453.9,386.5L454.6,391.9L455.4,396.2L456.1,398.1L456.9,399.6L457.7,401.0L458.4,401.6L459.2,402.1L460.0,403.8L460.7,405.6L461.5,408.6L462.3,412.9L463.0,416.9L463.8,419.7L464.6,423.2L465.3,427.0L466.1,429.5L466.9,432.0L467.6,433.5L468.4,436.4L469.1,438.1L469.9,439.2L470.7,440.9L471.4,442.3L472.2,442.6L473.0,443.1L473.7,444.0L474.5,444.8L475.3,445.3L476.0,446.2L476.8,447.0L477.6,448.1L478.3,449.2L479.1,449.4L479.9,450.0L480.6,451.6L481.4,452.0L482.1,453.3L482.9,453.7L483.7,453.9L484.4,455.2L485.2,456.0L486.0,457.0L486.7,456.9L487.5,456.6L488.3,457.5L489.0,458.0L489.8,457.3L490.6,457.5L491.3,458.4L492.1,458.1L492.8,459.1L493.6,458.9L494.4,458.2L495.1,458.5L495.9,459.2L496.7,459.1L497.4,458.6L498.2,458.0L499.0,457.9L499.7,457.8L500.5,457.7L501.3,458.6L502.0,457.4L502.8,456.2L503.6,456.0L504.3,456.0L505.1,456.7L505.8,458.1L506.6,458.6L507.4,458.8L508.1,459.6L508.9,458.6L509.7,459.8L510.4,460.9L511.2,461.1L512.0,461.1L512.7,461.2L513.5,460.8L514.3,460.3L515.0,461.1L515.8,461.4L516.6,461.7L517.3,461.7L518.1,461.5L518.8,461.5L519.6,461.7L520.4,461.4L521.1,462.1L521.9,462.5L522.7,462.7L523.4,462.1L524.2,463.1L525.0,463.1L525.7,462.2L526.5,463.1L527.3,461.9L528.0,461.9L528.8,463.1L529.5,464.1L530.3,463.2L531.1,463.1L531.8,462.8L532.6,462.8L533.4,463.0L534.1,463.2L534.9,463.3L535.7,463.5L536.4,463.3L537.2,462.3L538.0,462.1L538.7,462.8L539.5,462.4L540.3,463.6L541.0,462.7L541.8,463.1L542.5,463.8L543.3,464.3L544.1,464.5L544.8,464.4L545.6,464.1L546.4,463.4L547.1,464.1L547.9,463.5L548.7,463.4L549.4,463.2L550.2,463.5L551.0,463.5L551.7,463.3L552.5,463.4L553.3,463.9L554.0,463.8L554.8,463.7L555.5,465.2L556.3,464.9L557.1,464.9L557.8,464.1L558.6,463.9L559.4,464.0L560.1,463.8L560.9,463.3L561.7,463.5L562.4,463.6L563.2,463.8L564.0,464.1L564.7,464.4L565.5,464.5L566.2,463.7L567.0,462.0L567.8,462.7L568.5,462.9L569.3,462.6L570.1,463.5L570.8,463.2L571.6,463.6L572.4,462.9L573.1,463.6L573.9,463.8L574.7,462.8L575.4,463.1L576.2,463.0L577.0,463.6L577.7,464.7L578.5,464.5L579.2,463.5L580.0,462.9L580.8,463.5L581.5,463.3L582.3,463.3L583.1,463.7L583.8,462.2L583.8,488.1L109.8,488.1Z" fill="#fff"/>
<path d="M109.8,464.4L110.6,464.4L111.3,464.1L112.1,464.5L112.9,463.8L113.6,463.4L114.4,463.7L115.1,463.5L115.9,463.5L116.7,462.4L117.4,461.4L118.2,460.2L119.0,458.9L119.7,458.6L120.5,458.4L121.3,459.6L122.0,460.8L122.8,461.6L123.6,462.0L124.3,462.2L125.1,464.3L125.8,464.2L126.6,463.6L127.4,464.5L128.1,464.9L128.9,463.9L129.7,463.5L130.4,463.5L131.2,463.2L132.0,462.8L132.7,462.6L133.5,462.6L134.3,462.9L135.0,463.5L135.8,464.4L136.6,464.7L137.3,464.8L138.1,465.0L138.8,464.8L139.6,464.0L140.4,463.9L141.1,463.9L141.9,463.5L142.7,463.2L143.4,463.9L144.2,463.5L145.0,463.9L145.7,463.2L146.5,462.1L147.3,462.5L148.0,461.7L148.8,461.1L149.6,460.8L150.3,459.1L151.1,458.7L151.8,457.7L152.6,457.5L153.4,459.4L154.1,460.0L154.9,460.5L155.7,461.2L156.4,462.3L157.2,462.4L158.0,463.0L158.7,463.2L159.5,463.0L160.3,462.8L161.0,463.0L161.8,463.0L162.5,462.5L163.3,462.7L164.1,462.7L164.8,462.5L165.6,463.0L166.4,463.3L167.1,463.6L167.9,464.6L168.7,463.1L169.4,462.1L170.2,462.0L171.0,461.0L171.7,460.3L172.5,458.9L173.3,457.9L174.0,457.5L174.8,459.3L175.5,460.2L176.3,461.0L177.1,461.7L177.8,461.6L178.6,462.6L179.4,462.5L180.1,462.6L180.9,463.4L181.7,462.4L182.4,462.4L183.2,462.8L184.0,462.5L184.7,463.4L185.5,463.1L186.3,463.0L187.0,463.3L187.8,463.7L188.5,463.0L189.3,464.0L190.1,464.0L190.8,463.6L191.6,464.0L192.4,463.7L193.1,463.4L193.9,463.7L194.7,464.0L195.4,465.0L196.2,464.7L197.0,464.4L197.7,464.5L198.5,464.8L199.2,464.5L200.0,464.7L200.8,464.5L201.5,462.9L202.3,462.9L203.1,464.0L203.8,463.7L204.6,464.2L205.4,464.1L206.1,463.9L206.9,463.4L207.7,464.3L208.4,464.5L209.2,464.4L210.0,463.5L210.7,463.1L211.5,463.1L212.2,462.3L213.0,462.5L213.8,462.4L214.5,463.2L215.3,463.8L216.1,463.0L216.8,461.6L217.6,461.5L218.4,459.8L219.1,457.4L219.9,453.3L220.7,447.7L221.4,441.0L222.2,438.8L223.0,443.6L223.7,450.7L224.5,456.5L225.2,459.7L226.0,460.8L226.8,462.3L227.5,461.7L228.3,461.9L229.1,462.2L229.8,461.8L230.6,462.5L231.4,461.8L232.1,462.5L232.9,462.3L233.7,462.9L234.4,462.9L235.2,463.0L235.9,463.3L236.7,462.8L237.5,462.7L238.2,462.5L239.0,462.7L239.8,463.4L240.5,463.5L241.3,463.8L242.1,463.3L242.8,462.4L243.6,462.1L244.4,462.2L245.1,462.6L245.9,462.3L246.7,463.0L247.4,462.2L248.2,462.9L248.9,463.1L249.7,462.5L250.5,462.0L251.2,462.0L252.0,462.7L252.8,462.8L253.5,462.7L254.3,462.5L255.1,462.8L255.8,462.3L256.6,462.2L257.4,462.8L258.1,462.0L258.9,461.7L259.7,461.2L260.4,460.6L261.2,461.4L261.9,461.4L262.7,461.2L263.5,461.5L264.2,461.9L265.0,461.3L265.8,460.4L266.5,459.4L267.3,456.9L268.1,456.6L268.8,455.2L269.6,455.9L270.4,457.2L271.1,458.0L271.9,458.7L272.6,458.9L273.4,458.6L274.2,458.6L274.9,458.3L275.7,457.9L276.5,457.2L277.2,457.2L278.0,456.5L278.8,455.5L279.5,454.0L280.3,452.7L281.1,451.7L281.8,450.0L282.6,447.4L283.4,443.8L284.1,439.2L284.9,432.0L285.6,421.5L286.4,407.9L287.2,391.5L287.9,373.2L288.7,356.7L289.5,347.7L290.2,351.7L291.0,365.3L291.8,383.1L292.5,400.6L293.3,414.2L294.1,425.9L294.8,433.3L295.6,437.9L296.4,441.5L297.1,443.4L297.9,445.5L298.6,445.7L299.4,446.5L300.2,445.5L300.9,444.3L301.7,443.1L302.5,440.4L303.2,435.9L304.0,430.2L304.8,421.1L305.5,410.9L306.3,396.0L307.1,378.4L307.8,358.7L308.6,340.6L309.3,327.8L310.1,326.3L310.9,336.5L311.6,353.6L312.4,372.9L313.2,391.4L313.9,406.7L314.7,418.0L315.5,426.9L316.2,433.5L317.0,437.6L317.8,440.0L318.5,440.8L319.3,441.2L320.1,440.8L320.8,438.9L321.6,436.7L322.3,432.3L323.1,426.6L323.9,420.6L324.6,415.3L325.4,412.4L326.2,413.1L326.9,418.3L327.7,424.2L328.5,431.7L329.2,436.8L330.0,442.4L330.8,445.8L331.5,448.2L332.3,450.0L333.1,450.5L333.8,451.5L334.6,452.0L335.3,452.5L336.1,453.3L336.9,454.2L337.6,453.8L338.4,453.7L339.2,453.9L339.9,453.4L340.7,453.0L341.5,453.2L342.2,453.5L343.0,454.3L343.8,454.6L344.5,454.5L345.3,454.0L346.0,453.3L346.8,453.2L347.6,452.6L348.3,453.0L349.1,452.9L349.9,452.8L350.6,453.7L351.4,453.7L352.2,453.3L352.9,453.0L353.7,452.3L354.5,452.0L355.2,450.7L356.0,449.5L356.8,449.7L357.5,448.8L358.3,447.6L359.0,446.7L359.8,444.8L360.6,443.3L361.3,442.4L362.1,441.8L362.9,440.9L363.6,441.7L364.4,442.5L365.2,442.6L365.9,443.0L366.7,444.3L367.5,443.5L368.2,444.7L369.0,441.4L369.8,439.8L370.5,436.1L371.3,434.3L372.0,433.4L372.8,435.5L373.6,438.6L374.3,441.9L375.1,444.7L375.9,446.6L376.6,447.6L377.4,448.2L378.2,448.6L378.9,447.5L379.7,447.1L380.5,446.8L381.2,446.2L382.0,444.9L382.7,442.7L383.5,441.7L384.3,437.9L385.0,432.9L385.8,423.6L386.6,410.9L387.3,393.7L388.1,372.5L388.9,350.2L389.6,331.7L390.4,324.1L391.2,330.7L391.9,348.0L392.7,370.4L393.5,390.2L394.2,406.7L395.0,417.9L395.7,425.2L396.5,429.2L397.3,430.7L398.0,428.6L398.8,423.8L399.6,415.2L400.3,402.3L401.1,385.2L401.9,362.5L402.6,340.2L403.4,320.2L404.2,310.3L404.9,314.5L405.7,330.7L406.5,353.8L407.2,376.8L408.0,396.7L408.7,412.7L409.5,423.9L410.3,429.5L411.0,433.6L411.8,435.5L412.6,433.0L413.3,430.3L414.1,425.3L414.9,420.0L415.6,416.4L416.4,415.3L417.2,417.8L417.9,423.6L418.7,429.6L419.4,435.3L420.2,439.9L421.0,444.6L421.7,447.0L422.5,447.7L423.3,448.6L424.0,448.8L424.8,449.8L425.6,450.2L426.3,450.1L427.1,450.6L427.9,450.0L428.6,450.2L429.4,450.6L430.2,449.5L430.9,449.5L431.7,450.0L432.4,449.3L433.2,448.7L434.0,448.0L434.7,448.1L435.5,447.9L436.3,446.5L437.0,444.8L437.8,444.0L438.6,441.9L439.3,439.0L440.1,435.3L440.9,431.3L441.6,427.5L442.4,420.0L443.2,412.6L443.9,403.8L444.7,393.3L445.4,381.3L446.2,369.3L447.0,357.9L447.7,348.7L448.5,343.7L449.3,341.8L450.0,345.3L450.8,351.8L451.6,360.6L452.3,369.3L453.1,379.0L453.9,386.5L454.6,391.9L455.4,396.2L456.1,398.1L456.9,399.6L457.7,401.0L458.4,401.6L459.2,402.1L460.0,403.8L460.7,405.6L461.5,408.6L462.3,412.9L463.0,416.9L463.8,419.7L464.6,423.2L465.3,427.0L466.1,429.5L466.9,432.0L467.6,433.5L468.4,436.4L469.1,438.1L469.9,439.2L470.7,440.9L471.4,442.3L472.2,442.6L473.0,443.1L473.7,444.0L474.5,444.8L475.3,445.3L476.0,446.2L476.8,447.0L477.6,448.1L478.3,449.2L479.1,449.4L479.9,450.0L480.6,451.6L481.4,452.0L482.1,453.3L482.9,453.7L483.7,453.9L484.4,455.2L485.2,456.0L486.0,457.0L486.7,456.9L487.5,456.6L488.3,457.5L489.0,458.0L489.8,457.3L490.6,457.5L491.3,458.4L492.1,458.1L492.8,459.1L493.6,458.9L494.4,458.2L495.1,458.5L495.9,459.2L496.7,459.1L497.4,458.6L498.2,458.0L499.0,457.9L499.7,457.8L500.5,457.7L501.3,458.6L502.0,457.4L502.8,456.2L503.6,456.0L504.3,456.0L505.1,456.7L505.8,458.1L506.6,458.6L507.4,458.8L508.1,459.6L508.9,458.6L509.7,459.8L510.4,460.9L511.2,461.1L512.0,461.1L512.7,461.2L513.5,460.8L514.3,460.3L515.0,461.1L515.8,461.4L516.6,461.7L517.3,461.7L518.1,461.5L518.8,461.5L519.6,461.7L520.4,461.4L521.1,462.1L521.9,462.5L522.7,462.7L523.4,462.1L524.2,463.1L525.0,463.1L525.7,462.2L526.5,463.1L527.3,461.9L528.0,461.9L528.8,463.1L529.5,464.1L530.3,463.2L531.1,463.1L531.8,462.8L532.6,462.8L533.4,463.0L534.1,463.2L534.9,463.3L535.7,463.5L536.4,463.3L537.2,462.3L538.0,462.1L538.7,462.8L539.5,462.4L540.3,463.6L541.0,462.7L541.8,463.1L542.5,463.8L543.3,464.3L544.1,464.5L544.8,464.4L545.6,464.1L546.4,463.4L547.1,464.1L547.9,463.5L548.7,463.4L549.4,463.2L550.2,463.5L551.0,463.5L551.7,463.3L552.5,463.4L553.3,463.9L554.0,463.8L554.8,463.7L555.5,465.2L556.3,464.9L557.1,464.9L557.8,464.1L558.6,463.9L559.4,464.0L560.1,463.8L560.9,463.3L561.7,463.5L562.4,463.6L563.2,463.8L564.0,464.1L564.7,464.4L565.5,464.5L566.2,463.7L567.0,462.0L567.8,462.7L568.5,462.9L569.3,462.6L570.1,463.5L570.8,463.2L571.6,463.6L572.4,462.9L573.1,463.6L573.9,463.8L574.7,462.8L575.4,463.1L576.2,463.0L577.0,463.6L577.7,464.7L578.5,464.5L579.2,463.5L580.0,462.9L580.8,463.5L581.5,463.3L582.3,463.3L583.1,463.7L583.8,462.2" fill="none" stroke="#ff0808" stroke-width="1.6" stroke-linejoin="round"/>
<path d="M88.9,489.1L89.6,488.3L90.4,489.2L91.2,488.9L92.0,488.6L92.8,489.2L93.5,489.2L94.3,488.3L95.1,488.2L95.9,487.8L96.7,487.9L97.4,486.7L98.2,485.9L99.0,485.3L99.8,485.7L100.6,486.6L101.4,486.9L102.1,487.7L102.9,487.2L103.7,488.1L104.5,488.8L105.3,489.3L106.0,489.4L106.8,490.1L107.6,489.7L108.4,489.5L109.2,489.3L109.9,488.4L110.7,488.2L111.5,489.4L112.3,489.0L113.1,487.9L113.9,487.8L114.6,488.3L115.4,488.6L116.2,488.9L117.0,489.2L117.8,488.9L118.5,489.5L119.3,488.4L120.1,488.8L120.9,488.9L121.7,489.0L122.4,488.7L123.2,489.0L124.0,489.2L124.8,488.8L125.6,488.7L126.4,488.4L127.1,488.3L127.9,489.6L128.7,488.8L129.5,489.0L130.3,489.3L131.0,489.3L131.8,488.3L132.6,488.5L133.4,488.2L134.2,489.1L135.0,489.8L135.7,489.5L136.5,488.7L137.3,488.1L138.1,488.2L138.9,488.0L139.6,487.5L140.4,487.3L141.2,487.2L142.0,487.6L142.8,487.0L143.5,487.4L144.3,488.0L145.1,488.3L145.9,487.6L146.7,487.9L147.5,488.3L148.2,488.3L149.0,487.8L149.8,487.6L150.6,487.9L151.4,487.3L152.1,486.9L152.9,486.3L153.7,486.2L154.5,486.5L155.3,486.3L156.0,486.4L156.8,485.0L157.6,486.5L158.4,487.1L159.2,487.7L160.0,488.7L160.7,487.7L161.5,488.3L162.3,488.6L163.1,488.3L163.9,488.8L164.6,489.1L165.4,489.4L166.2,488.7L167.0,488.7L167.8,488.1L168.5,488.5L169.3,488.1L170.1,488.0L170.9,488.7L171.7,489.7L172.5,489.5L173.2,489.2L174.0,489.2L174.8,489.1L175.6,487.9L176.4,488.4L177.1,488.9L177.9,489.0L178.7,488.5L179.5,488.3L180.3,489.2L181.0,488.9L181.8,488.3L182.6,488.5L183.4,487.2L184.2,487.7L185.0,487.1L185.7,486.4L186.5,486.6L187.3,486.1L188.1,486.8L188.9,486.2L189.6,486.3L190.4,485.9L191.2,485.3L192.0,484.5L192.8,483.3L193.6,483.0L194.3,482.6L195.1,482.4L195.9,483.7L196.7,483.4L197.5,482.8L198.2,482.6L199.0,481.9L199.8,482.2L200.6,480.8L201.4,477.5L202.1,475.4L202.9,470.5L203.7,465.9L204.5,464.1L205.3,466.8L206.1,471.1L206.8,473.9L207.6,475.9L208.4,476.9L209.2,477.8L210.0,479.6L210.7,480.1L211.5,481.8L212.3,483.0L213.1,483.9L213.9,485.5L214.6,485.4L215.4,485.0L216.2,485.4L217.0,486.5L217.8,486.0L218.6,485.8L219.3,487.1L220.1,486.9L220.9,486.7L221.7,486.9L222.5,487.1L223.2,487.2L224.0,486.6L224.8,485.9L225.6,485.9L226.4,487.0L227.1,485.6L227.9,485.2L228.7,484.9L229.5,485.4L230.3,485.2L231.1,485.0L231.8,485.0L232.6,485.4L233.4,485.3L234.2,485.1L235.0,484.8L235.7,485.7L236.5,486.2L237.3,485.9L238.1,486.7L238.9,486.1L239.6,486.1L240.4,486.1L241.2,486.2L242.0,486.5L242.8,486.7L243.6,486.5L244.3,486.6L245.1,486.0L245.9,485.3L246.7,485.0L247.5,485.2L248.2,484.9L249.0,482.2L249.8,479.5L250.6,475.5L251.4,473.3L252.1,476.7L252.9,480.7L253.7,483.6L254.5,483.7L255.3,483.9L256.1,484.2L256.8,483.7L257.6,483.7L258.4,484.1L259.2,483.7L260.0,481.4L260.7,481.8L261.5,481.4L262.3,480.4L263.1,479.8L263.9,478.8L264.7,477.0L265.4,474.7L266.2,471.7L267.0,468.0L267.8,462.0L268.6,454.6L269.3,444.4L270.1,431.6L270.9,416.3L271.7,402.8L272.5,394.8L273.2,399.0L274.0,410.7L274.8,424.3L275.6,437.6L276.4,449.4L277.2,457.3L277.9,463.3L278.7,467.4L279.5,470.1L280.3,472.1L281.1,473.7L281.8,472.8L282.6,472.8L283.4,471.8L284.2,471.3L285.0,469.5L285.7,466.4L286.5,462.8L287.3,457.6L288.1,450.5L288.9,441.2L289.7,430.9L290.4,415.5L291.2,399.4L292.0,383.9L292.8,373.7L293.6,371.5L294.3,380.4L295.1,394.0L295.9,410.8L296.7,425.9L297.5,439.6L298.2,449.4L299.0,457.0L299.8,460.8L300.6,465.5L301.4,468.9L302.2,468.8L302.9,470.0L303.7,469.9L304.5,469.3L305.3,466.8L306.1,463.2L306.8,459.4L307.6,455.3L308.4,451.3L309.2,450.2L310.0,450.6L310.7,452.9L311.5,457.1L312.3,462.8L313.1,467.5L313.9,471.8L314.7,473.9L315.4,475.5L316.2,476.6L317.0,478.0L317.8,477.8L318.6,477.5L319.3,479.2L320.1,479.2L320.9,479.3L321.7,479.0L322.5,478.9L323.3,479.4L324.0,479.6L324.8,478.5L325.6,478.1L326.4,479.2L327.2,479.1L327.9,479.3L328.7,478.8L329.5,479.7L330.3,479.8L331.1,479.5L331.8,479.4L332.6,479.7L333.4,479.3L334.2,479.2L335.0,479.2L335.8,479.0L336.5,479.1L337.3,478.7L338.1,478.3L338.9,477.9L339.7,477.8L340.4,477.9L341.2,477.3L342.0,475.5L342.8,475.3L343.6,473.5L344.3,472.4L345.1,472.3L345.9,471.2L346.7,470.8L347.5,470.1L348.3,470.1L349.0,470.3L349.8,471.1L350.6,471.7L351.4,472.1L352.2,472.0L352.9,471.6L353.7,469.6L354.5,466.9L355.3,465.6L356.1,463.1L356.8,463.5L357.6,464.4L358.4,467.8L359.2,470.1L360.0,472.9L360.8,474.5L361.5,474.8L362.3,475.3L363.1,475.5L363.9,474.5L364.7,473.9L365.4,473.5L366.2,473.1L367.0,472.7L367.8,471.9L368.6,469.4L369.3,466.5L370.1,461.8L370.9,456.7L371.7,446.8L372.5,434.0L373.3,417.1L374.0,400.7L374.8,386.4L375.6,379.4L376.4,383.9L377.2,397.2L377.9,414.0L378.7,430.3L379.5,442.3L380.3,451.1L381.1,456.2L381.8,458.4L382.6,458.2L383.4,456.7L384.2,451.5L385.0,444.4L385.8,432.4L386.5,416.2L387.3,396.2L388.1,374.0L388.9,355.6L389.7,345.9L390.4,349.2L391.2,365.1L392.0,386.9L392.8,408.0L393.6,425.7L394.4,440.1L395.1,450.6L395.9,457.9L396.7,461.4L397.5,462.7L398.3,462.6L399.0,459.5L399.8,456.3L400.6,453.4L401.4,450.0L402.2,449.2L402.9,451.4L403.7,455.0L404.5,460.3L405.3,465.1L406.1,469.0L406.9,470.5L407.6,472.0L408.4,473.5L409.2,473.8L410.0,474.5L410.8,474.7L411.5,475.7L412.3,475.7L413.1,476.0L413.9,476.7L414.7,476.3L415.4,477.1L416.2,476.2L417.0,476.8L417.8,476.8L418.6,475.8L419.4,475.8L420.1,474.5L420.9,474.0L421.7,474.5L422.5,473.2L423.3,472.7L424.0,470.5L424.8,469.7L425.6,467.1L426.4,465.4L427.2,463.0L427.9,458.6L428.7,454.1L429.5,447.7L430.3,439.5L431.1,432.5L431.9,423.7L432.6,413.3L433.4,404.4L434.2,396.9L435.0,392.5L435.8,391.8L436.5,394.4L437.3,399.5L438.1,406.1L438.9,414.0L439.7,420.5L440.4,425.8L441.2,429.6L442.0,432.6L442.8,434.7L443.6,436.0L444.4,438.0L445.1,438.1L445.9,439.0L446.7,440.8L447.5,443.6L448.3,446.7L449.0,448.6L449.8,451.8L450.6,455.0L451.4,458.6L452.2,461.7L453.0,464.9L453.7,466.9L454.5,470.1L455.3,471.1L456.1,472.7L456.9,473.5L457.6,474.7L458.4,474.9L459.2,475.4L460.0,477.1L460.8,476.6L461.5,477.3L462.3,477.9L463.1,478.3L463.9,479.2L464.7,479.0L465.5,479.3L466.2,480.2L467.0,480.7L467.8,480.4L468.6,481.7L469.4,480.5L470.1,480.9L470.9,481.1L471.7,482.3L472.5,481.5L473.3,481.8L474.0,482.0L474.8,481.9L475.6,482.3L476.4,482.2L477.2,482.3L478.0,481.6L478.7,482.5L479.5,483.3L480.3,483.1L481.1,484.0L481.9,483.6L482.6,482.9L483.4,482.5L484.2,481.8L485.0,481.6L485.8,481.5L486.5,481.5L487.3,481.9L488.1,481.5L488.9,481.8L489.7,481.6L490.5,481.1L491.2,481.3L492.0,482.3L492.8,482.2L493.6,481.9L494.4,482.2L495.1,483.5L495.9,482.9L496.7,482.6L497.5,483.6L498.3,483.5L499.0,484.3L499.8,484.4L500.6,485.0L501.4,484.7L502.2,484.9L503.0,485.5L503.7,484.7L504.5,485.3L505.3,484.7L506.1,484.5L506.9,484.5L507.6,484.8L508.4,484.7L509.2,485.0L510.0,485.5L510.8,485.8L511.5,486.1L512.3,485.4L513.1,485.1L513.9,484.9L514.7,485.7L515.5,485.4L516.2,486.6L517.0,486.6L517.8,486.5L518.6,486.1L519.4,485.7L520.1,485.0L520.9,485.3L521.7,485.4L522.5,485.1L523.3,485.7L524.1,485.9L524.8,486.9L525.6,486.5L526.4,486.1L527.2,486.5L528.0,485.7L528.7,485.0L529.5,484.5L530.3,485.4L531.1,485.4L531.9,485.6L532.6,485.4L533.4,485.6L534.2,484.7L535.0,486.0L535.8,486.3L536.6,485.2L537.3,485.3L538.1,485.5L538.9,484.6L539.7,484.5L540.5,485.8L541.2,486.4L542.0,486.0L542.8,485.4L543.6,486.4L544.4,486.7L545.1,486.2L545.9,486.2L546.7,486.6L547.5,486.2L548.3,484.3L549.1,485.2L549.8,485.5L550.6,486.3L551.4,486.4L552.2,485.4L553.0,485.6L553.7,485.9L554.5,485.1L555.3,485.9L556.1,485.6L556.9,485.3L557.6,485.3L558.4,484.5L559.2,485.4L560.0,486.5L560.8,486.4L561.6,484.9L562.3,485.1L563.1,484.6L563.9,484.9L564.7,484.9L565.5,485.6L566.2,486.2L567.0,485.3L567.8,485.3L568.6,484.6L569.4,486.2L570.1,485.7L570.9,486.3L571.7,486.4L572.5,485.9L573.3,485.7L573.3,512.5L88.9,512.5Z" fill="#fff"/>
<path d="M88.9,489.1L89.6,488.3L90.4,489.2L91.2,488.9L92.0,488.6L92.8,489.2L93.5,489.2L94.3,488.3L95.1,488.2L95.9,487.8L96.7,487.9L97.4,486.7L98.2,485.9L99.0,485.3L99.8,485.7L100.6,486.6L101.4,486.9L102.1,487.7L102.9,487.2L103.7,488.1L104.5,488.8L105.3,489.3L106.0,489.4L106.8,490.1L107.6,489.7L108.4,489.5L109.2,489.3L109.9,488.4L110.7,488.2L111.5,489.4L112.3,489.0L113.1,487.9L113.9,487.8L114.6,488.3L115.4,488.6L116.2,488.9L117.0,489.2L117.8,488.9L118.5,489.5L119.3,488.4L120.1,488.8L120.9,488.9L121.7,489.0L122.4,488.7L123.2,489.0L124.0,489.2L124.8,488.8L125.6,488.7L126.4,488.4L127.1,488.3L127.9,489.6L128.7,488.8L129.5,489.0L130.3,489.3L131.0,489.3L131.8,488.3L132.6,488.5L133.4,488.2L134.2,489.1L135.0,489.8L135.7,489.5L136.5,488.7L137.3,488.1L138.1,488.2L138.9,488.0L139.6,487.5L140.4,487.3L141.2,487.2L142.0,487.6L142.8,487.0L143.5,487.4L144.3,488.0L145.1,488.3L145.9,487.6L146.7,487.9L147.5,488.3L148.2,488.3L149.0,487.8L149.8,487.6L150.6,487.9L151.4,487.3L152.1,486.9L152.9,486.3L153.7,486.2L154.5,486.5L155.3,486.3L156.0,486.4L156.8,485.0L157.6,486.5L158.4,487.1L159.2,487.7L160.0,488.7L160.7,487.7L161.5,488.3L162.3,488.6L163.1,488.3L163.9,488.8L164.6,489.1L165.4,489.4L166.2,488.7L167.0,488.7L167.8,488.1L168.5,488.5L169.3,488.1L170.1,488.0L170.9,488.7L171.7,489.7L172.5,489.5L173.2,489.2L174.0,489.2L174.8,489.1L175.6,487.9L176.4,488.4L177.1,488.9L177.9,489.0L178.7,488.5L179.5,488.3L180.3,489.2L181.0,488.9L181.8,488.3L182.6,488.5L183.4,487.2L184.2,487.7L185.0,487.1L185.7,486.4L186.5,486.6L187.3,486.1L188.1,486.8L188.9,486.2L189.6,486.3L190.4,485.9L191.2,485.3L192.0,484.5L192.8,483.3L193.6,483.0L194.3,482.6L195.1,482.4L195.9,483.7L196.7,483.4L197.5,482.8L198.2,482.6L199.0,481.9L199.8,482.2L200.6,480.8L201.4,477.5L202.1,475.4L202.9,470.5L203.7,465.9L204.5,464.1L205.3,466.8L206.1,471.1L206.8,473.9L207.6,475.9L208.4,476.9L209.2,477.8L210.0,479.6L210.7,480.1L211.5,481.8L212.3,483.0L213.1,483.9L213.9,485.5L214.6,485.4L215.4,485.0L216.2,485.4L217.0,486.5L217.8,486.0L218.6,485.8L219.3,487.1L220.1,486.9L220.9,486.7L221.7,486.9L222.5,487.1L223.2,487.2L224.0,486.6L224.8,485.9L225.6,485.9L226.4,487.0L227.1,485.6L227.9,485.2L228.7,484.9L229.5,485.4L230.3,485.2L231.1,485.0L231.8,485.0L232.6,485.4L233.4,485.3L234.2,485.1L235.0,484.8L235.7,485.7L236.5,486.2L237.3,485.9L238.1,486.7L238.9,486.1L239.6,486.1L240.4,486.1L241.2,486.2L242.0,486.5L242.8,486.7L243.6,486.5L244.3,486.6L245.1,486.0L245.9,485.3L246.7,485.0L247.5,485.2L248.2,484.9L249.0,482.2L249.8,479.5L250.6,475.5L251.4,473.3L252.1,476.7L252.9,480.7L253.7,483.6L254.5,483.7L255.3,483.9L256.1,484.2L256.8,483.7L257.6,483.7L258.4,484.1L259.2,483.7L260.0,481.4L260.7,481.8L261.5,481.4L262.3,480.4L263.1,479.8L263.9,478.8L264.7,477.0L265.4,474.7L266.2,471.7L267.0,468.0L267.8,462.0L268.6,454.6L269.3,444.4L270.1,431.6L270.9,416.3L271.7,402.8L272.5,394.8L273.2,399.0L274.0,410.7L274.8,424.3L275.6,437.6L276.4,449.4L277.2,457.3L277.9,463.3L278.7,467.4L279.5,470.1L280.3,472.1L281.1,473.7L281.8,472.8L282.6,472.8L283.4,471.8L284.2,471.3L285.0,469.5L285.7,466.4L286.5,462.8L287.3,457.6L288.1,450.5L288.9,441.2L289.7,430.9L290.4,415.5L291.2,399.4L292.0,383.9L292.8,373.7L293.6,371.5L294.3,380.4L295.1,394.0L295.9,410.8L296.7,425.9L297.5,439.6L298.2,449.4L299.0,457.0L299.8,460.8L300.6,465.5L301.4,468.9L302.2,468.8L302.9,470.0L303.7,469.9L304.5,469.3L305.3,466.8L306.1,463.2L306.8,459.4L307.6,455.3L308.4,451.3L309.2,450.2L310.0,450.6L310.7,452.9L311.5,457.1L312.3,462.8L313.1,467.5L313.9,471.8L314.7,473.9L315.4,475.5L316.2,476.6L317.0,478.0L317.8,477.8L318.6,477.5L319.3,479.2L320.1,479.2L320.9,479.3L321.7,479.0L322.5,478.9L323.3,479.4L324.0,479.6L324.8,478.5L325.6,478.1L326.4,479.2L327.2,479.1L327.9,479.3L328.7,478.8L329.5,479.7L330.3,479.8L331.1,479.5L331.8,479.4L332.6,479.7L333.4,479.3L334.2,479.2L335.0,479.2L335.8,479.0L336.5,479.1L337.3,478.7L338.1,478.3L338.9,477.9L339.7,477.8L340.4,477.9L341.2,477.3L342.0,475.5L342.8,475.3L343.6,473.5L344.3,472.4L345.1,472.3L345.9,471.2L346.7,470.8L347.5,470.1L348.3,470.1L349.0,470.3L349.8,471.1L350.6,471.7L351.4,472.1L352.2,472.0L352.9,471.6L353.7,469.6L354.5,466.9L355.3,465.6L356.1,463.1L356.8,463.5L357.6,464.4L358.4,467.8L359.2,470.1L360.0,472.9L360.8,474.5L361.5,474.8L362.3,475.3L363.1,475.5L363.9,474.5L364.7,473.9L365.4,473.5L366.2,473.1L367.0,472.7L367.8,471.9L368.6,469.4L369.3,466.5L370.1,461.8L370.9,456.7L371.7,446.8L372.5,434.0L373.3,417.1L374.0,400.7L374.8,386.4L375.6,379.4L376.4,383.9L377.2,397.2L377.9,414.0L378.7,430.3L379.5,442.3L380.3,451.1L381.1,456.2L381.8,458.4L382.6,458.2L383.4,456.7L384.2,451.5L385.0,444.4L385.8,432.4L386.5,416.2L387.3,396.2L388.1,374.0L388.9,355.6L389.7,345.9L390.4,349.2L391.2,365.1L392.0,386.9L392.8,408.0L393.6,425.7L394.4,440.1L395.1,450.6L395.9,457.9L396.7,461.4L397.5,462.7L398.3,462.6L399.0,459.5L399.8,456.3L400.6,453.4L401.4,450.0L402.2,449.2L402.9,451.4L403.7,455.0L404.5,460.3L405.3,465.1L406.1,469.0L406.9,470.5L407.6,472.0L408.4,473.5L409.2,473.8L410.0,474.5L410.8,474.7L411.5,475.7L412.3,475.7L413.1,476.0L413.9,476.7L414.7,476.3L415.4,477.1L416.2,476.2L417.0,476.8L417.8,476.8L418.6,475.8L419.4,475.8L420.1,474.5L420.9,474.0L421.7,474.5L422.5,473.2L423.3,472.7L424.0,470.5L424.8,469.7L425.6,467.1L426.4,465.4L427.2,463.0L427.9,458.6L428.7,454.1L429.5,447.7L430.3,439.5L431.1,432.5L431.9,423.7L432.6,413.3L433.4,404.4L434.2,396.9L435.0,392.5L435.8,391.8L436.5,394.4L437.3,399.5L438.1,406.1L438.9,414.0L439.7,420.5L440.4,425.8L441.2,429.6L442.0,432.6L442.8,434.7L443.6,436.0L444.4,438.0L445.1,438.1L445.9,439.0L446.7,440.8L447.5,443.6L448.3,446.7L449.0,448.6L449.8,451.8L450.6,455.0L451.4,458.6L452.2,461.7L453.0,464.9L453.7,466.9L454.5,470.1L455.3,471.1L456.1,472.7L456.9,473.5L457.6,474.7L458.4,474.9L459.2,475.4L460.0,477.1L460.8,476.6L461.5,477.3L462.3,477.9L463.1,478.3L463.9,479.2L464.7,479.0L465.5,479.3L466.2,480.2L467.0,480.7L467.8,480.4L468.6,481.7L469.4,480.5L470.1,480.9L470.9,481.1L471.7,482.3L472.5,481.5L473.3,481.8L474.0,482.0L474.8,481.9L475.6,482.3L476.4,482.2L477.2,482.3L478.0,481.6L478.7,482.5L479.5,483.3L480.3,483.1L481.1,484.0L481.9,483.6L482.6,482.9L483.4,482.5L484.2,481.8L485.0,481.6L485.8,481.5L486.5,481.5L487.3,481.9L488.1,481.5L488.9,481.8L489.7,481.6L490.5,481.1L491.2,481.3L492.0,482.3L492.8,482.2L493.6,481.9L494.4,482.2L495.1,483.5L495.9,482.9L496.7,482.6L497.5,483.6L498.3,483.5L499.0,484.3L499.8,484.4L500.6,485.0L501.4,484.7L502.2,484.9L503.0,485.5L503.7,484.7L504.5,485.3L505.3,484.7L506.1,484.5L506.9,484.5L507.6,484.8L508.4,484.7L509.2,485.0L510.0,485.5L510.8,485.8L511.5,486.1L512.3,485.4L513.1,485.1L513.9,484.9L514.7,485.7L515.5,485.4L516.2,486.6L517.0,486.6L517.8,486.5L518.6,486.1L519.4,485.7L520.1,485.0L520.9,485.3L521.7,485.4L522.5,485.1L523.3,485.7L524.1,485.9L524.8,486.9L525.6,486.5L526.4,486.1L527.2,486.5L528.0,485.7L528.7,485.0L529.5,484.5L530.3,485.4L531.1,485.4L531.9,485.6L532.6,485.4L533.4,485.6L534.2,484.7L535.0,486.0L535.8,486.3L536.6,485.2L537.3,485.3L538.1,485.5L538.9,484.6L539.7,484.5L540.5,485.8L541.2,486.4L542.0,486.0L542.8,485.4L543.6,486.4L544.4,486.7L545.1,486.2L545.9,486.2L546.7,486.6L547.5,486.2L548.3,484.3L549.1,485.2L549.8,485.5L550.6,486.3L551.4,486.4L552.2,485.4L553.0,485.6L553.7,485.9L554.5,485.1L555.3,485.9L556.1,485.6L556.9,485.3L557.6,485.3L558.4,484.5L559.2,485.4L560.0,486.5L560.8,486.4L561.6,484.9L562.3,485.1L563.1,484.6L563.9,484.9L564.7,484.9L565.5,485.6L566.2,486.2L567.0,485.3L567.8,485.3L568.6,484.6L569.4,486.2L570.1,485.7L570.9,486.3L571.7,486.4L572.5,485.9L573.3,485.7" fill="none" stroke="#ff0808" stroke-width="1.6" stroke-linejoin="round"/>
<path d="M77.6,278.8V526.6M76.6,525.6H568.6" stroke="#000" stroke-width="1.8" fill="none"/>
<path d="M567.6,525.6L720.6,172.4" stroke="#000" stroke-width="2.0" fill="none" stroke-linecap="square"/>
<path d="M77.6,525.60h-8.5M77.6,511.94h-4.5M77.6,498.29h-8.5M77.6,484.63h-4.5M77.6,470.98h-8.5M77.6,457.32h-4.5M77.6,443.67h-8.5M77.6,430.01h-4.5M77.6,416.36h-8.5M77.6,402.70h-4.5M77.6,389.04h-8.5M77.6,375.39h-4.5M77.6,361.73h-8.5M77.6,348.08h-4.5M77.6,334.42h-8.5M77.6,320.77h-4.5M77.6,307.11h-8.5M77.6,293.46h-4.5M77.6,279.80h-8.5M110.27,525.6v9M142.93,525.6v5M175.60,525.6v9M208.27,525.6v5M240.93,525.6v9M273.60,525.6v5M306.27,525.6v9M338.93,525.6v5M371.60,525.6v9M404.27,525.6v5M436.93,525.6v9M469.60,525.6v5M502.27,525.6v9M534.93,525.6v5M567.60,525.6v9" stroke="#000" stroke-width="1.8" fill="none"/>
<text x="62.2" y="532.6" font-family="Liberation Serif, serif" font-weight="bold" stroke="#000" stroke-width="0.35" font-size="18.6" text-anchor="end">0</text>
<text x="62.2" y="505.3" font-family="Liberation Serif, serif" font-weight="bold" stroke="#000" stroke-width="0.35" font-size="18.6" text-anchor="end">5k</text>
<text x="62.2" y="478.0" font-family="Liberation Serif, serif" font-weight="bold" stroke="#000" stroke-width="0.35" font-size="18.6" text-anchor="end">10k</text>
<text x="62.2" y="450.7" font-family="Liberation Serif, serif" font-weight="bold" stroke="#000" stroke-width="0.35" font-size="18.6" text-anchor="end">15k</text>
<text x="62.2" y="423.4" font-family="Liberation Serif, serif" font-weight="bold" stroke="#000" stroke-width="0.35" font-size="18.6" text-anchor="end">20k</text>
<text x="62.2" y="396.0" font-family="Liberation Serif, serif" font-weight="bold" stroke="#000" stroke-width="0.35" font-size="18.6" text-anchor="end">25k</text>
<text x="62.2" y="368.7" font-family="Liberation Serif, serif" font-weight="bold" stroke="#000" stroke-width="0.35" font-size="18.6" text-anchor="end">30k</text>
<text x="62.2" y="341.4" font-family="Liberation Serif, serif" font-weight="bold" stroke="#000" stroke-width="0.35" font-size="18.6" text-anchor="end">35k</text>
<text x="62.2" y="314.1" font-family="Liberation Serif, serif" font-weight="bold" stroke="#000" stroke-width="0.35" font-size="18.6" text-anchor="end">40k</text>
<text x="62.2" y="286.8" font-family="Liberation Serif, serif" font-weight="bold" stroke="#000" stroke-width="0.35" font-size="18.6" text-anchor="end">45k</text>
<text x="110.3" y="560.4" font-family="Liberation Serif, serif" font-weight="bold" stroke="#000" stroke-width="0.35" font-size="20.6" text-anchor="middle">600</text>
<text x="175.6" y="560.4" font-family="Liberation Serif, serif" font-weight="bold" stroke="#000" stroke-width="0.35" font-size="20.6" text-anchor="middle">800</text>
<text x="240.9" y="560.4" font-family="Liberation Serif, serif" font-weight="bold" stroke="#000" stroke-width="0.35" font-size="20.6" text-anchor="middle">1000</text>
<text x="306.3" y="560.4" font-family="Liberation Serif, serif" font-weight="bold" stroke="#000" stroke-width="0.35" font-size="20.6" text-anchor="middle">1200</text>
<text x="371.6" y="560.4" font-family="Liberation Serif, serif" font-weight="bold" stroke="#000" stroke-width="0.35" font-size="20.6" text-anchor="middle">1400</text>
<text x="436.9" y="560.4" font-family="Liberation Serif, serif" font-weight="bold" stroke="#000" stroke-width="0.35" font-size="20.6" text-anchor="middle">1600</text>
<text x="502.3" y="560.4" font-family="Liberation Serif, serif" font-weight="bold" stroke="#000" stroke-width="0.35" font-size="20.6" text-anchor="middle">1800</text>
<text x="567.6" y="560.4" font-family="Liberation Serif, serif" font-weight="bold" stroke="#000" stroke-width="0.35" font-size="20.6" text-anchor="middle">2000</text>
<text transform="translate(21,402.5) rotate(-90)" font-family="Liberation Serif, serif" font-weight="bold" stroke="#000" stroke-width="0.35" font-size="27.5" text-anchor="middle" textLength="177" lengthAdjust="spacingAndGlyphs">Intensity (a.u.)</text>
<text x="205.6" y="588.6" font-family="Liberation Serif, serif" font-weight="bold" stroke="#000" stroke-width="0.35" font-size="27.5" textLength="227.2" lengthAdjust="spacingAndGlyphs">Raman Shift (cm<tspan font-size="19" dy="-11.6">-1</tspan><tspan dy="11.6">)</tspan></text>
<text x="6" y="580.6" font-family="Liberation Sans, sans-serif" font-weight="bold" stroke="#000" stroke-width="0.3" font-size="41.5">(a)</text>
<rect x="866.6" y="140.8" width="613.1" height="63.2" fill="#00bfff"/>
<path d="M871.3,172.9H1479.7" stroke="#000" stroke-width="3" stroke-linecap="round" stroke-dasharray="5.8 9.7" fill="none"/>
<rect x="870.00" y="212.0" width="24.1" height="305.7" fill="url(#hb)" stroke="#000" stroke-width="1.3"/>
<rect x="900.65" y="141.8" width="24.1" height="375.9" fill="url(#hb)" stroke="#000" stroke-width="1.3"/>
<rect x="931.30" y="219.5" width="24.1" height="298.2" fill="url(#hb)" stroke="#000" stroke-width="1.3"/>
<rect x="961.95" y="187.9" width="24.1" height="329.8" fill="url(#hb)" stroke="#000" stroke-width="1.3"/>
<rect x="992.60" y="226.6" width="24.1" height="291.1" fill="url(#hb)" stroke="#000" stroke-width="1.3"/>
<rect x="1023.25" y="162.9" width="24.1" height="354.8" fill="url(#hb)" stroke="#000" stroke-width="1.3"/>
<rect x="1053.90" y="146.8" width="24.1" height="370.9" fill="url(#hb)" stroke="#000" stroke-width="1.3"/>
<rect x="1084.55" y="183.7" width="24.1" height="334.0" fill="url(#hb)" stroke="#000" stroke-width="1.3"/>
<rect x="1115.20" y="215.8" width="24.1" height="301.9" fill="url(#hb)" stroke="#000" stroke-width="1.3"/>
<rect x="1145.85" y="138.5" width="24.1" height="379.2" fill="url(#hb)" stroke="#000" stroke-width="1.3"/>
<rect x="1176.50" y="158.6" width="24.1" height="359.1" fill="url(#hb)" stroke="#000" stroke-width="1.3"/>
<rect x="1207.15" y="168.9" width="24.1" height="348.8" fill="url(#hb)" stroke="#000" stroke-width="1.3"/>
<rect x="1237.80" y="145.0" width="24.1" height="372.7" fill="url(#hb)" stroke="#000" stroke-width="1.3"/>
<rect x="1268.45" y="138.5" width="24.1" height="379.2" fill="url(#hb)" stroke="#000" stroke-width="1.3"/>
<rect x="1299.10" y="166.1" width="24.1" height="351.6" fill="url(#hb)" stroke="#000" stroke-width="1.3"/>
<rect x="1329.75" y="141.8" width="24.1" height="375.9" fill="url(#hb)" stroke="#000" stroke-width="1.3"/>
<rect x="1360.40" y="170.6" width="24.1" height="347.1" fill="url(#hb)" stroke="#000" stroke-width="1.3"/>
<rect x="1391.05" y="168.9" width="24.1" height="348.8" fill="url(#hb)" stroke="#000" stroke-width="1.3"/>
<rect x="1421.70" y="173.1" width="24.1" height="344.6" fill="url(#hb)" stroke="#000" stroke-width="1.3"/>
<rect x="1452.35" y="194.5" width="24.1" height="323.2" fill="url(#hb)" stroke="#000" stroke-width="1.3"/>
<path d="M866.6,22.0V518.7M865.6,517.7H1480.7M865.6,23.0H1480.7M1479.7,22.0V518.7" stroke="#000" stroke-width="1.85" fill="none"/>
<path d="M866.6,517.70h-9.5M866.6,482.36h-5M866.6,447.03h-9.5M866.6,411.69h-5M866.6,376.36h-9.5M866.6,341.02h-5M866.6,305.69h-9.5M866.6,270.35h-5M866.6,235.01h-9.5M866.6,199.68h-5M866.6,164.34h-9.5M866.6,129.01h-5M866.6,93.67h-9.5M866.6,58.34h-5M866.6,23.00h-9.5M928.18,517.7v5M1004.80,517.7v9.5M1081.42,517.7v5M1158.05,517.7v9.5M1234.67,517.7v5M1311.30,517.7v9.5M1387.92,517.7v5M1464.55,517.7v9.5" stroke="#000" stroke-width="1.85" fill="none"/>
<text x="850" y="527.7" font-family="Liberation Serif, serif" font-weight="bold" stroke="#000" stroke-width="0.35" font-size="30.2" text-anchor="end">0</text>
<text x="850" y="457.0" font-family="Liberation Serif, serif" font-weight="bold" stroke="#000" stroke-width="0.35" font-size="30.2" text-anchor="end">5k</text>
<text x="850" y="386.4" font-family="Liberation Serif, serif" font-weight="bold" stroke="#000" stroke-width="0.35" font-size="30.2" text-anchor="end">10k</text>
<text x="850" y="315.7" font-family="Liberation Serif, serif" font-weight="bold" stroke="#000" stroke-width="0.35" font-size="30.2" text-anchor="end">15k</text>
<text x="850" y="245.0" font-family="Liberation Serif, serif" font-weight="bold" stroke="#000" stroke-width="0.35" font-size="30.2" text-anchor="end">20k</text>
<text x="850" y="174.3" font-family="Liberation Serif, serif" font-weight="bold" stroke="#000" stroke-width="0.35" font-size="30.2" text-anchor="end">25k</text>
<text x="850" y="103.7" font-family="Liberation Serif, serif" font-weight="bold" stroke="#000" stroke-width="0.35" font-size="30.2" text-anchor="end">30k</text>
<text x="850" y="33.0" font-family="Liberation Serif, serif" font-weight="bold" stroke="#000" stroke-width="0.35" font-size="30.2" text-anchor="end">35k</text>
<text x="1004.8" y="557.7" font-family="Liberation Serif, serif" font-weight="bold" stroke="#000" stroke-width="0.35" font-size="30.4" text-anchor="middle">5</text>
<text x="1158.0" y="557.7" font-family="Liberation Serif, serif" font-weight="bold" stroke="#000" stroke-width="0.35" font-size="30.4" text-anchor="middle">10</text>
<text x="1311.3" y="557.7" font-family="Liberation Serif, serif" font-weight="bold" stroke="#000" stroke-width="0.35" font-size="30.4" text-anchor="middle">15</text>
<text x="1464.6" y="557.7" font-family="Liberation Serif, serif" font-weight="bold" stroke="#000" stroke-width="0.35" font-size="30.4" text-anchor="middle">20</text>
<text transform="translate(791.3,269.3) rotate(-90)" font-family="Liberation Serif, serif" font-weight="bold" stroke="#000" stroke-width="0.35" font-size="32" text-anchor="middle" textLength="223" lengthAdjust="spacingAndGlyphs">Intensity (a.u.)</text>
<text x="1066.3" y="587.5" font-family="Liberation Serif, serif" font-weight="bold" stroke="#000" stroke-width="0.35" font-size="28" textLength="176.7" lengthAdjust="spacingAndGlyphs">Spectrum No.</text>
<text x="745.2" y="582.4" font-family="Liberation Sans, sans-serif" font-weight="bold" stroke="#000" stroke-width="0.3" font-size="41.5">(b)</text>
<rect x="1311.3" y="24" width="168.4" height="37.8" fill="#fff" stroke="#000" stroke-width="1.3"/>
<rect x="1312.9" y="34.4" width="49.4" height="23.8" fill="url(#hb)" stroke="#000" stroke-width="1.2"/>
<text x="1364.8" y="55.2" font-family="Liberation Serif, serif" font-weight="bold" stroke="#000" stroke-width="0.35" font-size="29.5" textLength="114" lengthAdjust="spacingAndGlyphs">1075cm<tspan font-size="19.5" dy="-12.6">-1</tspan></text>
<text x="1315.4" y="95.3" font-family="Liberation Serif, serif" font-weight="bold" stroke="#000" stroke-width="0.35" font-size="29" textLength="161" lengthAdjust="spacingAndGlyphs">RSD=8.25%</text>
</svg>
</body></html>
